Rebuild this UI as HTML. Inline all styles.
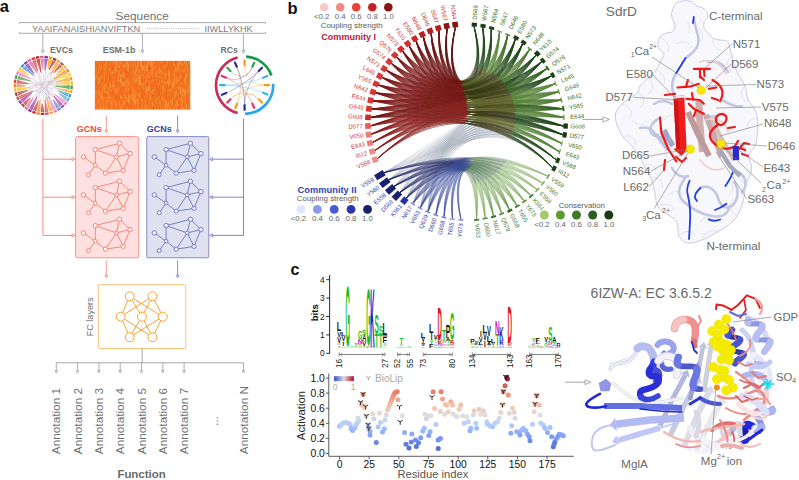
<!DOCTYPE html>
<html><head><meta charset="utf-8"><style>
html,body{margin:0;padding:0;background:#fff;overflow:hidden;width:799px;height:480px;}
svg{display:block;}
text{font-family:"Liberation Sans", sans-serif;}
</style></head><body>
<svg width="799" height="480" viewBox="0 0 799 480">
<rect width="799" height="480" fill="#fff"/>
<text x="-0.30" y="12.40" font-size="16.5" fill="#111" font-weight="bold" text-anchor="start" >a</text>
<text x="115.60" y="20.00" font-size="11.8" fill="#707070" text-anchor="start" >Sequence</text>
<path d="M19.3,23.8 V22.6 H265.6 V23.8" fill="none" stroke="#8c8c8c" stroke-width="0.75"/>
<path d="M19.3,32.1 V33.3 H265.6 V32.1" fill="none" stroke="#8c8c8c" stroke-width="0.75"/>
<line x1="135.40" y1="22.60" x2="135.40" y2="21.20" stroke="#8c8c8c" stroke-width="0.75" />
<text x="32.00" y="31.90" font-size="9.25" fill="#7a7a7a" text-anchor="start" >YAAIFANAISHIANVIFTKN</text>
<line x1="147" y1="28.6" x2="198.5" y2="28.6" stroke="#8a8a8a" stroke-width="0.7" stroke-dasharray="0.9,1.3"/>
<text x="204.40" y="31.90" font-size="9.2" fill="#7a7a7a" text-anchor="start" >IIWLLYKHK</text>
<line x1="42.80" y1="33.30" x2="42.80" y2="50.60" stroke="#8c8c8c" stroke-width="0.7" />
<path d="M41.30,50.60 L44.30,50.60 L42.80,53.20 Z" fill="white" stroke="#8c8c8c" stroke-width="0.63"/>
<line x1="142.40" y1="33.30" x2="142.40" y2="50.60" stroke="#8c8c8c" stroke-width="0.7" />
<path d="M140.90,50.60 L143.90,50.60 L142.40,53.20 Z" fill="white" stroke="#8c8c8c" stroke-width="0.63"/>
<line x1="243.40" y1="33.30" x2="243.40" y2="50.60" stroke="#8c8c8c" stroke-width="0.7" />
<path d="M241.90,50.60 L244.90,50.60 L243.40,53.20 Z" fill="white" stroke="#8c8c8c" stroke-width="0.63"/>
<text x="50.00" y="53.10" font-size="8.8" fill="#707070" font-weight="bold" text-anchor="start" >EVCs</text>
<text x="102.70" y="53.10" font-size="8.95" fill="#707070" font-weight="bold" text-anchor="start" >ESM-1b</text>
<text x="220.50" y="53.10" font-size="8.7" fill="#707070" font-weight="bold" text-anchor="start" >RCs</text>
<g><path d="M35.54,56.84 A29.6,29.6 0 0 1 39.17,56.09 L39.48,58.27 A27.400000000000002,27.400000000000002 0 0 0 36.12,58.96 Z" fill="#b02a2a"/><path d="M39.99,55.99 A29.6,29.6 0 0 1 43.69,55.80 L43.66,58.00 A27.400000000000002,27.400000000000002 0 0 0 40.24,58.17 Z" fill="#e06080"/><path d="M44.52,55.83 A29.6,29.6 0 0 1 48.21,56.21 L47.84,58.38 A27.400000000000002,27.400000000000002 0 0 0 44.43,58.02 Z" fill="#8a3aa8"/><path d="M49.02,56.36 A29.6,29.6 0 0 1 52.60,57.30 L51.91,59.39 A27.400000000000002,27.400000000000002 0 0 0 48.59,58.52 Z" fill="#f39c12"/><path d="M53.39,57.57 A29.6,29.6 0 0 1 56.79,59.05 L55.78,61.01 A27.400000000000002,27.400000000000002 0 0 0 52.64,59.64 Z" fill="#a83a2a"/><path d="M57.52,59.44 A29.6,29.6 0 0 1 60.65,61.42 L59.36,63.20 A27.400000000000002,27.400000000000002 0 0 0 56.46,61.37 Z" fill="#f5a030"/><path d="M61.31,61.91 A29.6,29.6 0 0 1 64.11,64.35 L62.56,65.91 A27.400000000000002,27.400000000000002 0 0 0 59.97,63.66 Z" fill="#c05030"/><path d="M64.69,64.94 A29.6,29.6 0 0 1 67.08,67.77 L65.31,69.08 A27.400000000000002,27.400000000000002 0 0 0 63.10,66.46 Z" fill="#f7b030"/><path d="M67.56,68.44 A29.6,29.6 0 0 1 69.49,71.61 L67.54,72.63 A27.400000000000002,27.400000000000002 0 0 0 65.76,69.70 Z" fill="#f08a20"/><path d="M69.86,72.34 A29.6,29.6 0 0 1 71.29,75.77 L69.21,76.48 A27.400000000000002,27.400000000000002 0 0 0 67.89,73.31 Z" fill="#f5d020"/><path d="M71.55,76.55 A29.6,29.6 0 0 1 72.43,80.15 L70.27,80.54 A27.400000000000002,27.400000000000002 0 0 0 69.45,77.21 Z" fill="#f0a020"/><path d="M72.57,80.97 A29.6,29.6 0 0 1 72.89,84.66 L70.69,84.71 A27.400000000000002,27.400000000000002 0 0 0 70.39,81.30 Z" fill="#f6c030"/><path d="M72.90,85.49 A29.6,29.6 0 0 1 72.66,89.18 L70.48,88.90 A27.400000000000002,27.400000000000002 0 0 0 70.70,85.48 Z" fill="#3aa040"/><path d="M72.54,90.00 A29.6,29.6 0 0 1 71.74,93.62 L69.62,93.01 A27.400000000000002,27.400000000000002 0 0 0 70.37,89.66 Z" fill="#f0b030"/><path d="M71.49,94.41 A29.6,29.6 0 0 1 70.15,97.87 L68.15,96.94 A27.400000000000002,27.400000000000002 0 0 0 69.40,93.74 Z" fill="#3a9ad8"/><path d="M69.79,98.61 A29.6,29.6 0 0 1 67.93,101.82 L66.10,100.60 A27.400000000000002,27.400000000000002 0 0 0 67.82,97.63 Z" fill="#5ab0e0"/><path d="M67.46,102.50 A29.6,29.6 0 0 1 65.13,105.39 L63.51,103.90 A27.400000000000002,27.400000000000002 0 0 0 65.67,101.23 Z" fill="#f080b8"/><path d="M64.57,105.99 A29.6,29.6 0 0 1 61.83,108.48 L60.45,106.77 A27.400000000000002,27.400000000000002 0 0 0 62.99,104.46 Z" fill="#9a4ab0"/><path d="M61.18,108.99 A29.6,29.6 0 0 1 58.09,111.04 L56.99,109.14 A27.400000000000002,27.400000000000002 0 0 0 59.85,107.24 Z" fill="#5a8ad0"/><path d="M57.37,111.44 A29.6,29.6 0 0 1 54.00,113.00 L53.20,110.95 A27.400000000000002,27.400000000000002 0 0 0 56.32,109.51 Z" fill="#f080b0"/><path d="M53.22,113.29 A29.6,29.6 0 0 1 49.66,114.31 L49.19,112.16 A27.400000000000002,27.400000000000002 0 0 0 52.49,111.21 Z" fill="#f0a030"/><path d="M48.85,114.47 A29.6,29.6 0 0 1 45.17,114.94 L45.03,112.75 A27.400000000000002,27.400000000000002 0 0 0 48.44,112.31 Z" fill="#e05050"/><path d="M44.35,114.98 A29.6,29.6 0 0 1 40.64,114.88 L40.84,112.69 A27.400000000000002,27.400000000000002 0 0 0 44.27,112.78 Z" fill="#a83a3a"/><path d="M39.82,114.79 A29.6,29.6 0 0 1 36.17,114.13 L36.70,111.99 A27.400000000000002,27.400000000000002 0 0 0 40.08,112.61 Z" fill="#f0902a"/><path d="M35.37,113.92 A29.6,29.6 0 0 1 31.87,112.70 L32.72,110.68 A27.400000000000002,27.400000000000002 0 0 0 35.96,111.80 Z" fill="#c83838"/><path d="M31.11,112.37 A29.6,29.6 0 0 1 27.84,110.64 L28.99,108.76 A27.400000000000002,27.400000000000002 0 0 0 32.02,110.37 Z" fill="#8a3aa0"/><path d="M27.14,110.20 A29.6,29.6 0 0 1 24.17,107.98 L25.59,106.31 A27.400000000000002,27.400000000000002 0 0 0 28.34,108.36 Z" fill="#e870a0"/><path d="M23.54,107.44 A29.6,29.6 0 0 1 20.94,104.80 L22.60,103.36 A27.400000000000002,27.400000000000002 0 0 0 25.01,105.80 Z" fill="#c84040"/><path d="M20.41,104.17 A29.6,29.6 0 0 1 18.24,101.16 L20.11,99.99 A27.400000000000002,27.400000000000002 0 0 0 22.11,102.77 Z" fill="#9a3ab0"/><path d="M17.81,100.45 A29.6,29.6 0 0 1 16.13,97.15 L18.15,96.28 A27.400000000000002,27.400000000000002 0 0 0 19.71,99.33 Z" fill="#d05050"/><path d="M15.81,96.39 A29.6,29.6 0 0 1 14.66,92.86 L16.79,92.31 A27.400000000000002,27.400000000000002 0 0 0 17.86,95.57 Z" fill="#a84040"/><path d="M14.46,92.06 A29.6,29.6 0 0 1 13.85,88.40 L16.04,88.18 A27.400000000000002,27.400000000000002 0 0 0 16.60,91.57 Z" fill="#f0c030"/><path d="M13.78,87.58 A29.6,29.6 0 0 1 13.74,83.87 L15.94,83.99 A27.400000000000002,27.400000000000002 0 0 0 15.97,87.42 Z" fill="#e08a30"/><path d="M13.79,83.05 A29.6,29.6 0 0 1 14.32,79.38 L16.47,79.83 A27.400000000000002,27.400000000000002 0 0 0 15.99,83.22 Z" fill="#d04848"/><path d="M14.50,78.57 A29.6,29.6 0 0 1 15.58,75.03 L17.64,75.80 A27.400000000000002,27.400000000000002 0 0 0 16.64,79.08 Z" fill="#40a050"/><path d="M15.88,74.26 A29.6,29.6 0 0 1 17.49,70.92 L19.40,71.99 A27.400000000000002,27.400000000000002 0 0 0 17.92,75.08 Z" fill="#f080b0"/><path d="M17.90,70.20 A29.6,29.6 0 0 1 20.00,67.14 L21.73,68.50 A27.400000000000002,27.400000000000002 0 0 0 19.79,71.33 Z" fill="#f0c838"/><path d="M20.52,66.50 A29.6,29.6 0 0 1 23.06,63.80 L24.56,65.41 A27.400000000000002,27.400000000000002 0 0 0 22.21,67.91 Z" fill="#4a90d8"/><path d="M23.67,63.25 A29.6,29.6 0 0 1 26.59,60.97 L27.84,62.78 A27.400000000000002,27.400000000000002 0 0 0 25.13,64.89 Z" fill="#7a3aa8"/><path d="M27.28,60.51 A29.6,29.6 0 0 1 30.52,58.70 L31.47,60.69 A27.400000000000002,27.400000000000002 0 0 0 28.47,62.36 Z" fill="#e06090"/><path d="M31.27,58.35 A29.6,29.6 0 0 1 34.74,57.06 L35.38,59.17 A27.400000000000002,27.400000000000002 0 0 0 32.16,60.37 Z" fill="#d04050"/></g>
<g fill="none" stroke-width="0.3" opacity="0.8"><path d="M32.7,75.1 Q48.6,88.3 42.1,100.2" stroke="#e0a0a0"/><path d="M56.4,78.5 Q46.6,82.4 53.4,96.2" stroke="#c8a8b8"/><path d="M57.3,90.1 Q42.9,82.4 35.6,98.0" stroke="#a8c8e8"/><path d="M29.1,81.4 Q46.1,84.3 56.2,92.7" stroke="#9fb0e0"/><path d="M49.4,98.9 Q39.2,89.0 55.1,76.5" stroke="#c8a8b8"/><path d="M52.8,96.7 Q38.9,91.1 39.0,71.2" stroke="#d0a0c8"/><path d="M58.1,85.9 Q47.8,82.9 35.7,72.7" stroke="#d0a0c8"/><path d="M57.7,81.9 Q44.8,81.6 28.6,87.4" stroke="#e0a0a0"/><path d="M57.8,82.5 Q40.9,83.7 40.7,100.0" stroke="#c8a8b8"/><path d="M50.8,98.2 Q41.3,89.2 29.4,90.4" stroke="#9fb0e0"/><path d="M30.6,77.8 Q41.4,83.1 52.9,96.7" stroke="#e0a0a0"/><path d="M49.5,72.0 Q39.5,85.1 38.7,99.5" stroke="#a8c8e8"/><path d="M49.9,98.6 Q48.7,83.7 28.6,83.4" stroke="#9fb0e0"/><path d="M31.1,93.8 Q41.7,86.3 56.6,78.9" stroke="#c8a8b8"/><path d="M58.1,86.2 Q44.8,90.9 45.3,100.1" stroke="#d0a0c8"/><path d="M54.2,95.5 Q41.4,83.7 29.0,89.2" stroke="#c8a8b8"/><path d="M28.7,83.1 Q44.4,88.8 49.2,99.0" stroke="#9fb0e0"/><path d="M33.4,96.4 Q48.6,80.5 42.1,70.6" stroke="#c8a8b8"/><path d="M35.3,97.9 Q41.4,90.5 55.3,76.8" stroke="#d0a0c8"/><path d="M29.1,81.3 Q41.0,89.0 56.5,78.7" stroke="#a8c8e8"/><path d="M33.0,74.8 Q49.3,81.3 42.9,100.2" stroke="#a8c8e8"/><path d="M57.4,89.8 Q48.4,79.8 50.9,72.7" stroke="#b0b0c0"/><path d="M42.4,70.6 Q42.8,84.5 52.8,96.8" stroke="#a8c8e8"/><path d="M57.2,90.5 Q46.9,83.4 47.9,71.3" stroke="#9fb0e0"/><path d="M47.2,99.7 Q48.7,87.0 58.1,84.6" stroke="#b0b0c0"/><path d="M46.8,71.0 Q41.8,80.1 57.6,89.4" stroke="#c8a8b8"/><path d="M30.3,92.5 Q47.5,91.1 38.5,71.4" stroke="#b0b0c0"/><path d="M29.1,89.7 Q41.1,82.7 57.1,79.9" stroke="#e0a0a0"/><path d="M28.8,88.2 Q41.8,91.3 47.3,99.7" stroke="#9fb0e0"/><path d="M57.6,81.7 Q47.7,81.6 28.8,82.6" stroke="#c8a8b8"/><path d="M28.5,86.2 Q47.7,83.7 58.1,84.9" stroke="#b0b0c0"/><path d="M46.6,71.0 Q44.3,79.8 29.4,90.4" stroke="#e0a0a0"/><path d="M38.2,99.3 Q40.7,85.2 50.8,72.7" stroke="#e0a0a0"/><path d="M45.1,70.7 Q48.8,83.5 32.6,95.6" stroke="#a8c8e8"/><path d="M49.7,98.7 Q43.9,82.4 54.4,75.6" stroke="#c8a8b8"/><path d="M36.3,72.4 Q45.1,89.0 52.5,97.0" stroke="#b0b0c0"/><path d="M34.8,97.5 Q48.6,84.3 56.6,79.0" stroke="#e0a0a0"/><path d="M56.4,78.5 Q42.7,83.8 46.3,99.9" stroke="#e0a0a0"/><path d="M35.8,98.2 Q39.7,83.7 32.0,75.9" stroke="#d0a0c8"/><path d="M52.3,73.6 Q45.9,88.2 46.4,99.9" stroke="#9fb0e0"/></g>
<g opacity="0.82"><path d="M36.14,59.57 L39.70,58.84 L41.43,72.58 L40.67,72.71 Z" fill="#b02a2a"/><path d="M40.16,58.78 L43.80,58.60 L43.25,69.78 L42.32,69.81 Z" fill="#e06080"/><path d="M44.26,58.62 L47.88,58.99 L45.42,70.98 L44.56,70.87 Z" fill="#8a3aa8"/><path d="M48.34,59.08 L51.86,60.00 L48.30,69.27 L47.33,69.00 Z" fill="#f39c12"/><path d="M52.30,60.16 L55.63,61.61 L49.63,70.13 L48.71,69.78 Z" fill="#a83a2a"/><path d="M56.05,61.83 L59.12,63.77 L50.44,74.68 L49.79,74.27 Z" fill="#f5a030"/><path d="M59.50,64.05 L62.24,66.44 L53.88,73.30 L53.14,72.69 Z" fill="#c05030"/><path d="M62.57,66.77 L64.91,69.55 L56.21,75.43 L55.59,74.68 Z" fill="#f7b030"/><path d="M65.18,69.93 L67.08,73.04 L53.81,79.38 L53.43,78.76 Z" fill="#f08a20"/><path d="M67.29,73.45 L68.69,76.81 L55.52,80.11 L55.18,79.39 Z" fill="#f5d020"/><path d="M68.83,77.25 L69.70,80.79 L55.68,82.51 L55.48,81.78 Z" fill="#f0a020"/><path d="M69.78,81.25 L70.09,84.87 L56.27,84.25 L56.18,83.48 Z" fill="#f6c030"/><path d="M70.10,85.34 L69.86,88.97 L55.32,86.51 L55.37,85.79 Z" fill="#3aa040"/><path d="M69.80,89.43 L69.01,92.98 L57.14,89.08 L57.33,88.25 Z" fill="#f0b030"/><path d="M68.87,93.43 L67.55,96.81 L57.89,91.15 L58.21,90.27 Z" fill="#3a9ad8"/><path d="M67.35,97.24 L65.52,100.38 L58.81,93.98 L59.29,93.04 Z" fill="#5ab0e0"/><path d="M65.26,100.77 L62.97,103.60 L54.50,94.58 L55.03,93.89 Z" fill="#f080b8"/><path d="M62.65,103.94 L59.97,106.39 L53.17,96.04 L53.78,95.43 Z" fill="#9a4ab0"/><path d="M59.60,106.68 L56.57,108.69 L52.59,99.94 L53.44,99.36 Z" fill="#5a8ad0"/><path d="M56.16,108.91 L52.86,110.44 L47.90,96.56 L48.56,96.27 Z" fill="#f080b0"/><path d="M52.42,110.60 L48.92,111.60 L46.32,97.49 L47.04,97.28 Z" fill="#f0a030"/><path d="M48.46,111.70 L44.86,112.15 L44.54,99.40 L45.37,99.30 Z" fill="#e05050"/><path d="M44.39,112.18 L40.75,112.08 L41.69,103.41 L42.77,103.47 Z" fill="#a83a3a"/><path d="M40.29,112.03 L36.71,111.38 L39.81,99.55 L40.66,99.73 Z" fill="#f0902a"/><path d="M36.26,111.26 L32.82,110.07 L37.80,100.45 L38.71,100.75 Z" fill="#c83838"/><path d="M32.39,109.88 L29.18,108.18 L36.89,96.44 L37.56,96.80 Z" fill="#8a3aa0"/><path d="M28.79,107.93 L25.87,105.76 L33.12,97.10 L33.84,97.69 Z" fill="#e870a0"/><path d="M25.52,105.45 L22.97,102.86 L29.86,97.59 L30.61,98.37 Z" fill="#c84040"/><path d="M22.66,102.50 L20.54,99.55 L31.29,92.84 L31.76,93.55 Z" fill="#9a3ab0"/><path d="M20.30,99.15 L18.65,95.91 L32.79,90.87 L33.14,91.49 Z" fill="#d05050"/><path d="M18.47,95.48 L17.33,92.02 L28.36,89.63 L28.64,90.52 Z" fill="#a84040"/><path d="M17.22,91.57 L16.62,87.98 L30.64,86.95 L30.75,87.70 Z" fill="#f0c030"/><path d="M16.58,87.51 L16.54,83.88 L25.66,85.29 L25.68,86.34 Z" fill="#e08a30"/><path d="M16.57,83.41 L17.09,79.81 L28.80,83.29 L28.70,84.16 Z" fill="#d04848"/><path d="M17.19,79.35 L18.25,75.88 L30.50,80.40 L30.23,81.17 Z" fill="#40a050"/><path d="M18.42,75.44 L20.00,72.16 L30.91,78.23 L30.51,78.98 Z" fill="#f080b0"/><path d="M20.23,71.76 L22.29,68.76 L29.05,74.76 L28.43,75.63 Z" fill="#f0c838"/><path d="M22.58,68.40 L25.08,65.75 L34.20,75.39 L33.62,75.95 Z" fill="#4a90d8"/><path d="M25.42,65.43 L28.29,63.20 L34.29,73.32 L33.58,73.88 Z" fill="#7a3aa8"/><path d="M28.68,62.94 L31.86,61.17 L37.49,72.75 L36.74,73.12 Z" fill="#e06090"/><path d="M32.28,60.97 L35.69,59.70 L38.18,71.26 L37.34,71.59 Z" fill="#d04050"/></g>
<path d="M37.95,59.34 L40.02,69.45M41.99,58.83 L42.50,69.14M46.06,58.94 L44.99,69.21M50.06,59.67 L47.44,69.66M53.91,61.01 L49.79,70.47M57.51,62.91 L52.00,71.64M60.78,65.35 L54.00,73.13M63.63,68.25 L55.74,74.90M66.01,71.55 L57.20,76.93M67.86,75.18 L58.33,79.15M69.13,79.05 L59.11,81.52M69.80,83.07 L59.52,83.97M69.84,87.14 L59.55,86.47M69.27,91.17 L59.19,88.93M68.08,95.07 L58.47,91.32M66.31,98.74 L57.39,93.56M64.01,102.10 L55.97,95.62M61.22,105.06 L54.27,97.43M58.01,107.57 L52.30,98.97M54.45,109.55 L50.12,100.18M50.63,110.97 L47.79,101.05M46.64,111.79 L45.35,101.55M42.58,111.99 L42.86,101.67M38.52,111.57 L40.38,101.42M34.59,110.53 L37.97,100.78M30.85,108.91 L35.68,99.79M27.41,106.73 L33.57,98.46M24.34,104.06 L31.70,96.82M21.71,100.94 L30.09,94.91M19.59,97.47 L28.79,92.78M18.03,93.71 L27.83,90.48M17.06,89.75 L27.24,88.06M16.70,85.69 L27.02,85.58M16.97,81.63 L27.18,83.09M17.85,77.66 L27.73,80.66M19.33,73.86 L28.63,78.34M21.38,70.34 L29.88,76.18M23.93,67.17 L31.45,74.24M26.94,64.42 L33.29,72.56M30.33,62.17 L35.36,71.18M34.03,60.47 L37.63,70.14" stroke="#fff" stroke-width="0.35" opacity="0.7"/>
<rect x="94.9" y="60.9" width="95.30" height="48.60" fill="#f36f20"/>
<g opacity="0.85"><rect x="94.90" y="69.89" width="0.80" height="2.35" fill="#f47a22"/><rect x="94.90" y="72.25" width="0.80" height="4.33" fill="#f47a22"/><rect x="94.90" y="76.58" width="0.80" height="3.51" fill="#f7923a"/><rect x="94.90" y="93.86" width="0.80" height="4.30" fill="#f47a22"/><rect x="94.90" y="99.93" width="0.80" height="4.20" fill="#f47a22"/><rect x="94.90" y="104.13" width="0.80" height="3.48" fill="#f47a22"/><rect x="94.90" y="107.61" width="0.80" height="1.89" fill="#f26418"/><rect x="95.70" y="60.90" width="0.50" height="3.56" fill="#f26418"/><rect x="95.70" y="64.46" width="0.50" height="3.98" fill="#f47a22"/><rect x="95.70" y="68.44" width="0.50" height="2.64" fill="#f47a22"/><rect x="95.70" y="85.63" width="0.50" height="2.39" fill="#fbb24a"/><rect x="95.70" y="88.03" width="0.50" height="1.89" fill="#f26418"/><rect x="95.70" y="89.92" width="0.50" height="3.35" fill="#f9a540"/><rect x="95.70" y="93.26" width="0.50" height="4.68" fill="#f9a540"/><rect x="95.70" y="103.03" width="0.50" height="2.35" fill="#f58a2a"/><rect x="95.70" y="105.38" width="0.50" height="4.12" fill="#f7923a"/><rect x="96.20" y="69.54" width="0.80" height="1.59" fill="#f7923a"/><rect x="96.20" y="76.47" width="0.80" height="1.69" fill="#f7923a"/><rect x="96.20" y="80.83" width="0.80" height="5.24" fill="#ee5a16"/><rect x="96.20" y="87.97" width="0.80" height="1.57" fill="#f26418"/><rect x="96.20" y="89.54" width="0.80" height="3.54" fill="#f58a2a"/><rect x="96.20" y="93.08" width="0.80" height="4.09" fill="#f47a22"/><rect x="97.00" y="60.90" width="0.50" height="3.40" fill="#f9a540"/><rect x="97.00" y="64.30" width="0.50" height="3.81" fill="#f26418"/><rect x="97.00" y="68.10" width="0.50" height="4.67" fill="#f26418"/><rect x="97.00" y="72.77" width="0.50" height="5.57" fill="#ee5a16"/><rect x="97.00" y="82.70" width="0.50" height="5.34" fill="#f58a2a"/><rect x="97.00" y="90.49" width="0.50" height="1.81" fill="#ee5a16"/><rect x="97.00" y="92.31" width="0.50" height="1.77" fill="#f7923a"/><rect x="97.00" y="94.08" width="0.50" height="3.89" fill="#f7923a"/><rect x="97.00" y="100.09" width="0.50" height="4.46" fill="#fbb24a"/><rect x="97.00" y="104.55" width="0.50" height="4.95" fill="#f58a2a"/><rect x="97.50" y="72.21" width="0.50" height="2.94" fill="#f9a540"/><rect x="97.50" y="75.14" width="0.50" height="3.96" fill="#fbb24a"/><rect x="97.50" y="84.81" width="0.50" height="5.07" fill="#f26418"/><rect x="97.50" y="94.46" width="0.50" height="3.38" fill="#f47a22"/><rect x="97.50" y="101.59" width="0.50" height="3.22" fill="#f58a2a"/><rect x="98.00" y="66.60" width="0.80" height="3.48" fill="#f47a22"/><rect x="98.00" y="70.09" width="0.80" height="3.83" fill="#f58a2a"/><rect x="98.00" y="73.92" width="0.80" height="4.21" fill="#ee5a16"/><rect x="98.00" y="78.13" width="0.80" height="5.81" fill="#f9a540"/><rect x="98.00" y="83.93" width="0.80" height="4.27" fill="#ee5a16"/><rect x="98.00" y="88.20" width="0.80" height="1.55" fill="#f26418"/><rect x="98.00" y="89.75" width="0.80" height="4.25" fill="#f58a2a"/><rect x="98.00" y="99.58" width="0.80" height="3.74" fill="#f7923a"/><rect x="98.80" y="64.13" width="0.60" height="2.44" fill="#f7923a"/><rect x="98.80" y="66.57" width="0.60" height="5.27" fill="#f47a22"/><rect x="98.80" y="73.63" width="0.60" height="2.01" fill="#ee5a16"/><rect x="98.80" y="75.64" width="0.60" height="2.46" fill="#ee5a16"/><rect x="98.80" y="78.10" width="0.60" height="3.84" fill="#fbb24a"/><rect x="98.80" y="81.94" width="0.60" height="5.28" fill="#f58a2a"/><rect x="98.80" y="87.22" width="0.60" height="1.84" fill="#f9a540"/><rect x="98.80" y="97.35" width="0.60" height="4.04" fill="#fbb24a"/><rect x="98.80" y="104.94" width="0.60" height="2.70" fill="#f47a22"/><rect x="98.80" y="107.64" width="0.60" height="1.71" fill="#fbb24a"/><rect x="99.40" y="68.39" width="0.50" height="2.40" fill="#ee5a16"/><rect x="99.40" y="70.79" width="0.50" height="4.71" fill="#f47a22"/><rect x="99.40" y="75.50" width="0.50" height="4.71" fill="#f7923a"/><rect x="99.40" y="91.28" width="0.50" height="5.58" fill="#f9a540"/><rect x="99.40" y="96.86" width="0.50" height="5.52" fill="#ee5a16"/><rect x="99.90" y="66.43" width="0.70" height="4.39" fill="#fbb24a"/><rect x="99.90" y="85.00" width="0.70" height="5.35" fill="#f26418"/><rect x="99.90" y="96.98" width="0.70" height="2.48" fill="#f47a22"/><rect x="99.90" y="99.46" width="0.70" height="5.10" fill="#f7923a"/><rect x="99.90" y="104.56" width="0.70" height="4.59" fill="#f7923a"/><rect x="99.90" y="109.15" width="0.70" height="0.35" fill="#fbb24a"/><rect x="100.60" y="66.66" width="0.80" height="4.60" fill="#f47a22"/><rect x="100.60" y="75.13" width="0.80" height="4.03" fill="#f7923a"/><rect x="100.60" y="79.15" width="0.80" height="5.30" fill="#f58a2a"/><rect x="100.60" y="93.21" width="0.80" height="5.86" fill="#f58a2a"/><rect x="100.60" y="99.07" width="0.80" height="3.74" fill="#ee5a16"/><rect x="100.60" y="102.81" width="0.80" height="3.76" fill="#f58a2a"/><rect x="100.60" y="106.57" width="0.80" height="2.93" fill="#f9a540"/><rect x="101.40" y="60.90" width="0.80" height="3.95" fill="#f58a2a"/><rect x="101.40" y="64.85" width="0.80" height="1.92" fill="#f7923a"/><rect x="101.40" y="70.69" width="0.80" height="5.10" fill="#ee5a16"/><rect x="101.40" y="75.79" width="0.80" height="3.63" fill="#f7923a"/><rect x="101.40" y="79.42" width="0.80" height="5.55" fill="#ee5a16"/><rect x="101.40" y="92.63" width="0.80" height="5.90" fill="#f9a540"/><rect x="101.40" y="98.53" width="0.80" height="2.52" fill="#fbb24a"/><rect x="101.40" y="107.78" width="0.80" height="1.72" fill="#f58a2a"/><rect x="102.20" y="60.90" width="0.60" height="4.66" fill="#ee5a16"/><rect x="102.20" y="65.56" width="0.60" height="4.35" fill="#f47a22"/><rect x="102.20" y="72.12" width="0.60" height="3.90" fill="#f7923a"/><rect x="102.20" y="83.47" width="0.60" height="3.06" fill="#f7923a"/><rect x="102.20" y="86.54" width="0.60" height="2.92" fill="#f7923a"/><rect x="102.20" y="89.45" width="0.60" height="5.99" fill="#f9a540"/><rect x="102.20" y="95.45" width="0.60" height="2.58" fill="#fbb24a"/><rect x="102.80" y="69.33" width="0.50" height="5.11" fill="#ee5a16"/><rect x="102.80" y="76.11" width="0.50" height="5.57" fill="#ee5a16"/><rect x="102.80" y="81.69" width="0.50" height="2.33" fill="#f7923a"/><rect x="102.80" y="86.23" width="0.50" height="1.93" fill="#f9a540"/><rect x="102.80" y="92.72" width="0.50" height="2.97" fill="#ee5a16"/><rect x="102.80" y="98.79" width="0.50" height="1.56" fill="#fbb24a"/><rect x="102.80" y="100.35" width="0.50" height="2.40" fill="#ee5a16"/><rect x="102.80" y="107.58" width="0.50" height="1.92" fill="#f9a540"/><rect x="103.30" y="87.79" width="0.50" height="4.63" fill="#f47a22"/><rect x="103.30" y="94.73" width="0.50" height="1.82" fill="#f26418"/><rect x="103.30" y="98.50" width="0.50" height="5.56" fill="#f9a540"/><rect x="103.30" y="104.06" width="0.50" height="5.44" fill="#fbb24a"/><rect x="103.80" y="60.90" width="0.60" height="4.47" fill="#f58a2a"/><rect x="103.80" y="67.21" width="0.60" height="4.39" fill="#fbb24a"/><rect x="103.80" y="71.60" width="0.60" height="3.28" fill="#f58a2a"/><rect x="103.80" y="74.88" width="0.60" height="4.27" fill="#fbb24a"/><rect x="103.80" y="79.15" width="0.60" height="3.50" fill="#f58a2a"/><rect x="103.80" y="82.65" width="0.60" height="2.38" fill="#ee5a16"/><rect x="103.80" y="87.69" width="0.60" height="3.98" fill="#f58a2a"/><rect x="103.80" y="103.85" width="0.60" height="1.70" fill="#f7923a"/><rect x="103.80" y="105.56" width="0.60" height="3.94" fill="#f47a22"/><rect x="104.40" y="60.90" width="0.50" height="3.43" fill="#ee5a16"/><rect x="104.40" y="64.33" width="0.50" height="3.87" fill="#f58a2a"/><rect x="104.40" y="76.11" width="0.50" height="4.86" fill="#f9a540"/><rect x="104.40" y="83.58" width="0.50" height="3.34" fill="#fbb24a"/><rect x="104.40" y="86.92" width="0.50" height="5.54" fill="#fbb24a"/><rect x="104.40" y="96.58" width="0.50" height="1.83" fill="#f7923a"/><rect x="104.40" y="98.41" width="0.50" height="3.65" fill="#f47a22"/><rect x="104.40" y="105.91" width="0.50" height="3.59" fill="#f47a22"/><rect x="104.90" y="60.90" width="0.50" height="1.73" fill="#ee5a16"/><rect x="104.90" y="62.63" width="0.50" height="2.42" fill="#f9a540"/><rect x="104.90" y="65.04" width="0.50" height="2.20" fill="#f26418"/><rect x="104.90" y="71.75" width="0.50" height="4.38" fill="#fbb24a"/><rect x="104.90" y="83.24" width="0.50" height="2.57" fill="#f9a540"/><rect x="104.90" y="96.58" width="0.50" height="4.35" fill="#f47a22"/><rect x="104.90" y="106.71" width="0.50" height="2.79" fill="#fbb24a"/><rect x="105.40" y="60.90" width="0.50" height="1.54" fill="#f26418"/><rect x="105.40" y="62.44" width="0.50" height="4.31" fill="#f9a540"/><rect x="105.40" y="66.75" width="0.50" height="2.75" fill="#f47a22"/><rect x="105.40" y="69.50" width="0.50" height="4.54" fill="#f58a2a"/><rect x="105.40" y="74.04" width="0.50" height="5.92" fill="#ee5a16"/><rect x="105.40" y="79.96" width="0.50" height="2.45" fill="#f26418"/><rect x="105.40" y="82.41" width="0.50" height="2.10" fill="#f47a22"/><rect x="105.40" y="86.55" width="0.50" height="5.27" fill="#f47a22"/><rect x="105.40" y="91.82" width="0.50" height="3.41" fill="#f26418"/><rect x="105.40" y="97.41" width="0.50" height="5.95" fill="#f26418"/><rect x="105.90" y="60.90" width="0.80" height="5.44" fill="#f9a540"/><rect x="105.90" y="66.34" width="0.80" height="3.44" fill="#f58a2a"/><rect x="105.90" y="74.37" width="0.80" height="1.54" fill="#f26418"/><rect x="105.90" y="84.11" width="0.80" height="2.77" fill="#f7923a"/><rect x="105.90" y="86.89" width="0.80" height="4.46" fill="#f26418"/><rect x="105.90" y="91.34" width="0.80" height="2.03" fill="#fbb24a"/><rect x="105.90" y="101.02" width="0.80" height="3.56" fill="#f7923a"/><rect x="105.90" y="104.58" width="0.80" height="4.92" fill="#f58a2a"/><rect x="106.70" y="60.90" width="0.70" height="5.23" fill="#f9a540"/><rect x="106.70" y="85.93" width="0.70" height="2.50" fill="#f9a540"/><rect x="106.70" y="97.60" width="0.70" height="2.87" fill="#f58a2a"/><rect x="106.70" y="100.47" width="0.70" height="1.87" fill="#fbb24a"/><rect x="106.70" y="107.40" width="0.70" height="2.10" fill="#fbb24a"/><rect x="107.40" y="60.90" width="0.70" height="4.94" fill="#ee5a16"/><rect x="107.40" y="88.19" width="0.70" height="4.38" fill="#f58a2a"/><rect x="107.40" y="92.57" width="0.70" height="1.55" fill="#f9a540"/><rect x="107.40" y="94.12" width="0.70" height="3.39" fill="#f7923a"/><rect x="107.40" y="97.51" width="0.70" height="2.23" fill="#fbb24a"/><rect x="107.40" y="99.74" width="0.70" height="2.25" fill="#f7923a"/><rect x="108.10" y="60.90" width="0.60" height="5.60" fill="#f47a22"/><rect x="108.10" y="66.50" width="0.60" height="4.13" fill="#f47a22"/><rect x="108.10" y="70.63" width="0.60" height="1.99" fill="#f7923a"/><rect x="108.10" y="76.77" width="0.60" height="4.18" fill="#f7923a"/><rect x="108.10" y="80.95" width="0.60" height="5.53" fill="#ee5a16"/><rect x="108.10" y="91.38" width="0.60" height="5.74" fill="#f58a2a"/><rect x="108.10" y="102.83" width="0.60" height="1.92" fill="#f47a22"/><rect x="108.70" y="78.80" width="0.70" height="3.37" fill="#f47a22"/><rect x="108.70" y="86.93" width="0.70" height="2.70" fill="#f58a2a"/><rect x="108.70" y="89.62" width="0.70" height="4.07" fill="#f7923a"/><rect x="108.70" y="93.70" width="0.70" height="5.20" fill="#f47a22"/><rect x="108.70" y="98.89" width="0.70" height="2.08" fill="#f26418"/><rect x="109.40" y="60.90" width="0.70" height="1.59" fill="#f7923a"/><rect x="109.40" y="68.11" width="0.70" height="3.48" fill="#f9a540"/><rect x="109.40" y="75.46" width="0.70" height="5.84" fill="#f26418"/><rect x="109.40" y="83.14" width="0.70" height="4.50" fill="#f9a540"/><rect x="109.40" y="96.77" width="0.70" height="5.23" fill="#fbb24a"/><rect x="109.40" y="107.39" width="0.70" height="2.11" fill="#f58a2a"/><rect x="110.10" y="66.25" width="0.50" height="2.43" fill="#f58a2a"/><rect x="110.10" y="73.01" width="0.50" height="5.79" fill="#f47a22"/><rect x="110.10" y="78.80" width="0.50" height="4.50" fill="#f26418"/><rect x="110.10" y="83.30" width="0.50" height="3.19" fill="#f9a540"/><rect x="110.10" y="86.50" width="0.50" height="5.75" fill="#f58a2a"/><rect x="110.10" y="100.64" width="0.50" height="2.31" fill="#ee5a16"/><rect x="110.10" y="102.95" width="0.50" height="3.58" fill="#fbb24a"/><rect x="110.10" y="109.05" width="0.50" height="0.45" fill="#f47a22"/><rect x="110.60" y="79.97" width="0.80" height="5.92" fill="#f47a22"/><rect x="110.60" y="85.88" width="0.80" height="5.93" fill="#f58a2a"/><rect x="110.60" y="91.82" width="0.80" height="2.99" fill="#f26418"/><rect x="110.60" y="94.81" width="0.80" height="3.49" fill="#f58a2a"/><rect x="110.60" y="98.29" width="0.80" height="3.79" fill="#f47a22"/><rect x="110.60" y="102.09" width="0.80" height="1.96" fill="#fbb24a"/><rect x="110.60" y="104.05" width="0.80" height="4.95" fill="#f26418"/><rect x="110.60" y="109.00" width="0.80" height="0.50" fill="#f58a2a"/><rect x="111.40" y="71.52" width="0.60" height="1.62" fill="#fbb24a"/><rect x="111.40" y="73.14" width="0.60" height="1.87" fill="#f7923a"/><rect x="111.40" y="75.02" width="0.60" height="3.38" fill="#f26418"/><rect x="111.40" y="78.39" width="0.60" height="5.68" fill="#f26418"/><rect x="111.40" y="89.55" width="0.60" height="2.11" fill="#f58a2a"/><rect x="111.40" y="97.94" width="0.60" height="5.18" fill="#f58a2a"/><rect x="111.40" y="103.12" width="0.60" height="5.70" fill="#f9a540"/><rect x="112.00" y="66.14" width="0.70" height="5.15" fill="#ee5a16"/><rect x="112.00" y="71.29" width="0.70" height="2.31" fill="#fbb24a"/><rect x="112.00" y="81.72" width="0.70" height="4.93" fill="#f7923a"/><rect x="112.00" y="86.65" width="0.70" height="3.61" fill="#f7923a"/><rect x="112.00" y="90.26" width="0.70" height="2.03" fill="#ee5a16"/><rect x="112.00" y="92.29" width="0.70" height="3.84" fill="#f26418"/><rect x="112.70" y="74.58" width="0.80" height="5.57" fill="#f58a2a"/><rect x="112.70" y="84.00" width="0.80" height="2.94" fill="#f9a540"/><rect x="112.70" y="95.40" width="0.80" height="5.47" fill="#f9a540"/><rect x="112.70" y="100.87" width="0.80" height="5.30" fill="#f7923a"/><rect x="112.70" y="106.17" width="0.80" height="3.29" fill="#f9a540"/><rect x="113.50" y="60.90" width="0.50" height="3.87" fill="#f7923a"/><rect x="113.50" y="75.22" width="0.50" height="4.50" fill="#f47a22"/><rect x="113.50" y="79.72" width="0.50" height="4.04" fill="#f7923a"/><rect x="113.50" y="83.75" width="0.50" height="4.86" fill="#f58a2a"/><rect x="113.50" y="92.49" width="0.50" height="3.54" fill="#f26418"/><rect x="113.50" y="96.03" width="0.50" height="2.85" fill="#f26418"/><rect x="113.50" y="105.65" width="0.50" height="2.54" fill="#f26418"/><rect x="113.50" y="108.19" width="0.50" height="1.31" fill="#f26418"/><rect x="114.00" y="60.90" width="0.60" height="5.70" fill="#f47a22"/><rect x="114.00" y="69.03" width="0.60" height="4.62" fill="#f9a540"/><rect x="114.00" y="80.49" width="0.60" height="5.98" fill="#f7923a"/><rect x="114.00" y="89.03" width="0.60" height="2.88" fill="#f47a22"/><rect x="114.00" y="91.91" width="0.60" height="5.55" fill="#f47a22"/><rect x="114.00" y="102.92" width="0.60" height="5.72" fill="#ee5a16"/><rect x="114.00" y="108.64" width="0.60" height="0.86" fill="#f47a22"/><rect x="114.60" y="60.90" width="0.60" height="2.71" fill="#fbb24a"/><rect x="114.60" y="63.61" width="0.60" height="4.49" fill="#f47a22"/><rect x="114.60" y="85.65" width="0.60" height="3.58" fill="#f9a540"/><rect x="114.60" y="93.11" width="0.60" height="1.53" fill="#f58a2a"/><rect x="114.60" y="97.27" width="0.60" height="2.24" fill="#f47a22"/><rect x="114.60" y="99.51" width="0.60" height="2.31" fill="#fbb24a"/><rect x="115.20" y="62.67" width="0.80" height="4.40" fill="#f26418"/><rect x="115.20" y="67.07" width="0.80" height="3.68" fill="#f9a540"/><rect x="115.20" y="82.73" width="0.80" height="2.00" fill="#ee5a16"/><rect x="115.20" y="84.74" width="0.80" height="3.48" fill="#f47a22"/><rect x="115.20" y="88.22" width="0.80" height="4.72" fill="#fbb24a"/><rect x="115.20" y="96.64" width="0.80" height="4.21" fill="#f26418"/><rect x="115.20" y="100.86" width="0.80" height="4.19" fill="#fbb24a"/><rect x="115.20" y="105.04" width="0.80" height="3.52" fill="#f7923a"/><rect x="115.20" y="108.56" width="0.80" height="0.94" fill="#f58a2a"/><rect x="116.00" y="60.90" width="0.80" height="3.77" fill="#fbb24a"/><rect x="116.00" y="64.67" width="0.80" height="5.09" fill="#f9a540"/><rect x="116.00" y="69.76" width="0.80" height="2.30" fill="#fbb24a"/><rect x="116.00" y="77.12" width="0.80" height="1.74" fill="#ee5a16"/><rect x="116.00" y="86.79" width="0.80" height="1.90" fill="#f47a22"/><rect x="116.00" y="88.69" width="0.80" height="3.20" fill="#f7923a"/><rect x="116.00" y="96.51" width="0.80" height="3.55" fill="#f26418"/><rect x="116.00" y="103.19" width="0.80" height="5.81" fill="#f7923a"/><rect x="116.00" y="109.00" width="0.80" height="0.50" fill="#f7923a"/><rect x="116.80" y="60.90" width="0.80" height="3.85" fill="#f9a540"/><rect x="116.80" y="64.75" width="0.80" height="3.34" fill="#f58a2a"/><rect x="116.80" y="68.09" width="0.80" height="3.27" fill="#f26418"/><rect x="116.80" y="84.63" width="0.80" height="2.59" fill="#ee5a16"/><rect x="116.80" y="87.21" width="0.80" height="2.52" fill="#f26418"/><rect x="116.80" y="89.74" width="0.80" height="5.92" fill="#f58a2a"/><rect x="116.80" y="105.24" width="0.80" height="2.30" fill="#f47a22"/><rect x="116.80" y="107.54" width="0.80" height="1.96" fill="#ee5a16"/><rect x="117.60" y="60.90" width="0.50" height="2.47" fill="#f26418"/><rect x="117.60" y="63.37" width="0.50" height="5.07" fill="#f47a22"/><rect x="117.60" y="70.86" width="0.50" height="4.92" fill="#ee5a16"/><rect x="117.60" y="75.77" width="0.50" height="5.97" fill="#fbb24a"/><rect x="117.60" y="81.74" width="0.50" height="3.69" fill="#f58a2a"/><rect x="117.60" y="85.44" width="0.50" height="1.83" fill="#fbb24a"/><rect x="117.60" y="87.26" width="0.50" height="5.77" fill="#f58a2a"/><rect x="117.60" y="93.03" width="0.50" height="2.32" fill="#f26418"/><rect x="117.60" y="99.40" width="0.50" height="2.71" fill="#f26418"/><rect x="117.60" y="102.11" width="0.50" height="4.78" fill="#f47a22"/><rect x="118.10" y="68.98" width="0.50" height="4.51" fill="#f26418"/><rect x="118.10" y="73.49" width="0.50" height="2.57" fill="#f9a540"/><rect x="118.10" y="76.06" width="0.50" height="3.81" fill="#f7923a"/><rect x="118.10" y="79.88" width="0.50" height="2.91" fill="#ee5a16"/><rect x="118.10" y="87.40" width="0.50" height="2.67" fill="#fbb24a"/><rect x="118.10" y="93.27" width="0.50" height="3.91" fill="#ee5a16"/><rect x="118.10" y="97.18" width="0.50" height="3.24" fill="#f47a22"/><rect x="118.10" y="100.42" width="0.50" height="1.96" fill="#f26418"/><rect x="118.60" y="65.37" width="0.70" height="2.47" fill="#fbb24a"/><rect x="118.60" y="69.89" width="0.70" height="2.56" fill="#fbb24a"/><rect x="118.60" y="72.45" width="0.70" height="5.10" fill="#f9a540"/><rect x="118.60" y="79.32" width="0.70" height="2.78" fill="#fbb24a"/><rect x="118.60" y="82.10" width="0.70" height="2.21" fill="#ee5a16"/><rect x="118.60" y="91.85" width="0.70" height="5.58" fill="#f47a22"/><rect x="118.60" y="106.48" width="0.70" height="2.72" fill="#ee5a16"/><rect x="119.30" y="60.90" width="0.70" height="1.83" fill="#f9a540"/><rect x="119.30" y="62.73" width="0.70" height="5.51" fill="#f58a2a"/><rect x="119.30" y="93.78" width="0.70" height="3.23" fill="#f47a22"/><rect x="119.30" y="97.01" width="0.70" height="3.78" fill="#f26418"/><rect x="119.30" y="100.80" width="0.70" height="3.63" fill="#f9a540"/><rect x="119.30" y="104.42" width="0.70" height="2.37" fill="#f7923a"/><rect x="119.30" y="106.79" width="0.70" height="2.49" fill="#f58a2a"/><rect x="119.30" y="109.28" width="0.70" height="0.22" fill="#ee5a16"/><rect x="120.00" y="60.90" width="0.80" height="5.32" fill="#f47a22"/><rect x="120.00" y="70.53" width="0.80" height="4.61" fill="#f47a22"/><rect x="120.00" y="75.14" width="0.80" height="3.06" fill="#f9a540"/><rect x="120.00" y="78.20" width="0.80" height="4.72" fill="#fbb24a"/><rect x="120.00" y="87.34" width="0.80" height="5.12" fill="#f26418"/><rect x="120.00" y="95.25" width="0.80" height="3.74" fill="#fbb24a"/><rect x="120.00" y="106.78" width="0.80" height="2.72" fill="#fbb24a"/><rect x="120.80" y="60.90" width="0.80" height="3.81" fill="#fbb24a"/><rect x="120.80" y="64.71" width="0.80" height="2.23" fill="#f47a22"/><rect x="120.80" y="66.94" width="0.80" height="3.67" fill="#f26418"/><rect x="120.80" y="74.39" width="0.80" height="2.64" fill="#fbb24a"/><rect x="120.80" y="77.03" width="0.80" height="4.72" fill="#f26418"/><rect x="120.80" y="96.71" width="0.80" height="5.24" fill="#f47a22"/><rect x="121.60" y="60.90" width="0.60" height="2.71" fill="#f26418"/><rect x="121.60" y="63.61" width="0.60" height="4.34" fill="#ee5a16"/><rect x="121.60" y="67.95" width="0.60" height="4.56" fill="#f7923a"/><rect x="121.60" y="79.59" width="0.60" height="5.97" fill="#f9a540"/><rect x="121.60" y="85.56" width="0.60" height="5.57" fill="#f47a22"/><rect x="121.60" y="91.13" width="0.60" height="3.67" fill="#f26418"/><rect x="121.60" y="104.39" width="0.60" height="3.25" fill="#fbb24a"/><rect x="121.60" y="107.64" width="0.60" height="1.86" fill="#f47a22"/><rect x="122.20" y="66.15" width="0.60" height="2.63" fill="#ee5a16"/><rect x="122.20" y="68.78" width="0.60" height="2.18" fill="#f9a540"/><rect x="122.20" y="75.03" width="0.60" height="2.73" fill="#f7923a"/><rect x="122.20" y="77.76" width="0.60" height="2.40" fill="#f58a2a"/><rect x="122.20" y="80.16" width="0.60" height="1.73" fill="#f9a540"/><rect x="122.20" y="81.90" width="0.60" height="4.92" fill="#fbb24a"/><rect x="122.20" y="86.82" width="0.60" height="2.32" fill="#ee5a16"/><rect x="122.20" y="89.14" width="0.60" height="5.05" fill="#f47a22"/><rect x="122.20" y="95.83" width="0.60" height="3.28" fill="#f9a540"/><rect x="122.80" y="63.19" width="0.50" height="3.93" fill="#fbb24a"/><rect x="122.80" y="70.23" width="0.50" height="1.78" fill="#ee5a16"/><rect x="122.80" y="72.02" width="0.50" height="2.45" fill="#f26418"/><rect x="122.80" y="74.46" width="0.50" height="3.87" fill="#f47a22"/><rect x="122.80" y="78.33" width="0.50" height="5.66" fill="#ee5a16"/><rect x="122.80" y="89.11" width="0.50" height="5.11" fill="#f47a22"/><rect x="122.80" y="100.00" width="0.50" height="3.34" fill="#f58a2a"/><rect x="122.80" y="103.33" width="0.50" height="4.10" fill="#f7923a"/><rect x="123.30" y="60.90" width="0.70" height="4.32" fill="#ee5a16"/><rect x="123.30" y="65.22" width="0.70" height="2.76" fill="#fbb24a"/><rect x="123.30" y="67.98" width="0.70" height="1.92" fill="#f26418"/><rect x="123.30" y="72.21" width="0.70" height="3.96" fill="#fbb24a"/><rect x="123.30" y="76.17" width="0.70" height="3.06" fill="#f7923a"/><rect x="123.30" y="79.23" width="0.70" height="3.08" fill="#ee5a16"/><rect x="123.30" y="82.31" width="0.70" height="3.30" fill="#f9a540"/><rect x="123.30" y="96.43" width="0.70" height="4.10" fill="#f26418"/><rect x="123.30" y="100.53" width="0.70" height="5.83" fill="#f7923a"/><rect x="124.00" y="72.61" width="0.50" height="5.60" fill="#f9a540"/><rect x="124.00" y="92.48" width="0.50" height="4.60" fill="#ee5a16"/><rect x="124.00" y="97.08" width="0.50" height="3.60" fill="#f47a22"/><rect x="124.00" y="100.68" width="0.50" height="2.54" fill="#f58a2a"/><rect x="124.00" y="103.22" width="0.50" height="1.69" fill="#f9a540"/><rect x="124.00" y="108.44" width="0.50" height="1.06" fill="#f26418"/><rect x="124.50" y="63.88" width="0.80" height="2.91" fill="#fbb24a"/><rect x="124.50" y="70.77" width="0.80" height="2.07" fill="#ee5a16"/><rect x="124.50" y="77.32" width="0.80" height="3.80" fill="#f26418"/><rect x="124.50" y="81.12" width="0.80" height="5.42" fill="#fbb24a"/><rect x="124.50" y="86.54" width="0.80" height="3.83" fill="#f26418"/><rect x="124.50" y="90.37" width="0.80" height="3.91" fill="#f47a22"/><rect x="124.50" y="94.28" width="0.80" height="3.70" fill="#fbb24a"/><rect x="124.50" y="99.96" width="0.80" height="3.71" fill="#f7923a"/><rect x="125.30" y="60.90" width="0.60" height="5.15" fill="#f7923a"/><rect x="125.30" y="67.72" width="0.60" height="2.49" fill="#f26418"/><rect x="125.30" y="70.21" width="0.60" height="2.32" fill="#ee5a16"/><rect x="125.30" y="77.09" width="0.60" height="1.82" fill="#fbb24a"/><rect x="125.30" y="83.25" width="0.60" height="4.02" fill="#ee5a16"/><rect x="125.30" y="87.27" width="0.60" height="5.17" fill="#fbb24a"/><rect x="125.30" y="96.78" width="0.60" height="2.44" fill="#f7923a"/><rect x="125.30" y="101.29" width="0.60" height="1.69" fill="#f26418"/><rect x="125.90" y="65.71" width="0.60" height="4.96" fill="#f7923a"/><rect x="125.90" y="70.68" width="0.60" height="4.34" fill="#ee5a16"/><rect x="125.90" y="75.02" width="0.60" height="4.26" fill="#f26418"/><rect x="125.90" y="79.28" width="0.60" height="3.78" fill="#f9a540"/><rect x="125.90" y="83.05" width="0.60" height="4.67" fill="#f7923a"/><rect x="125.90" y="89.75" width="0.60" height="2.79" fill="#f47a22"/><rect x="125.90" y="96.96" width="0.60" height="3.24" fill="#fbb24a"/><rect x="125.90" y="100.20" width="0.60" height="2.49" fill="#fbb24a"/><rect x="125.90" y="106.08" width="0.60" height="3.42" fill="#f26418"/><rect x="126.50" y="60.90" width="0.50" height="4.52" fill="#f7923a"/><rect x="126.50" y="68.61" width="0.50" height="2.63" fill="#ee5a16"/><rect x="126.50" y="73.20" width="0.50" height="1.97" fill="#fbb24a"/><rect x="126.50" y="86.79" width="0.50" height="5.17" fill="#f47a22"/><rect x="126.50" y="91.96" width="0.50" height="4.35" fill="#ee5a16"/><rect x="126.50" y="96.31" width="0.50" height="2.27" fill="#f58a2a"/><rect x="126.50" y="98.58" width="0.50" height="4.52" fill="#f58a2a"/><rect x="126.50" y="105.60" width="0.50" height="3.28" fill="#f47a22"/><rect x="127.00" y="60.90" width="0.50" height="6.00" fill="#fbb24a"/><rect x="127.00" y="66.90" width="0.50" height="4.45" fill="#f7923a"/><rect x="127.00" y="71.35" width="0.50" height="4.13" fill="#ee5a16"/><rect x="127.00" y="75.48" width="0.50" height="2.14" fill="#ee5a16"/><rect x="127.00" y="77.62" width="0.50" height="5.08" fill="#f9a540"/><rect x="127.00" y="97.49" width="0.50" height="3.45" fill="#f7923a"/><rect x="127.00" y="106.30" width="0.50" height="1.61" fill="#f26418"/><rect x="127.50" y="63.76" width="0.50" height="1.80" fill="#f7923a"/><rect x="127.50" y="65.56" width="0.50" height="1.90" fill="#f58a2a"/><rect x="127.50" y="67.46" width="0.50" height="3.09" fill="#f7923a"/><rect x="127.50" y="81.63" width="0.50" height="5.14" fill="#f58a2a"/><rect x="127.50" y="86.77" width="0.50" height="5.87" fill="#f58a2a"/><rect x="127.50" y="96.92" width="0.50" height="2.04" fill="#f47a22"/><rect x="127.50" y="98.95" width="0.50" height="2.19" fill="#f47a22"/><rect x="127.50" y="101.14" width="0.50" height="4.82" fill="#ee5a16"/><rect x="127.50" y="105.96" width="0.50" height="3.54" fill="#f9a540"/><rect x="128.00" y="63.75" width="0.80" height="5.31" fill="#f9a540"/><rect x="128.00" y="69.07" width="0.80" height="2.85" fill="#f7923a"/><rect x="128.00" y="71.92" width="0.80" height="2.00" fill="#ee5a16"/><rect x="128.00" y="81.64" width="0.80" height="3.75" fill="#f9a540"/><rect x="128.00" y="88.24" width="0.80" height="2.49" fill="#f9a540"/><rect x="128.00" y="94.38" width="0.80" height="3.00" fill="#f9a540"/><rect x="128.00" y="97.38" width="0.80" height="5.26" fill="#f9a540"/><rect x="128.00" y="102.64" width="0.80" height="3.22" fill="#f26418"/><rect x="128.00" y="108.36" width="0.80" height="1.14" fill="#f26418"/><rect x="128.80" y="60.90" width="0.60" height="3.84" fill="#f58a2a"/><rect x="128.80" y="74.08" width="0.60" height="4.62" fill="#f47a22"/><rect x="128.80" y="78.70" width="0.60" height="4.24" fill="#f58a2a"/><rect x="128.80" y="82.94" width="0.60" height="2.33" fill="#f9a540"/><rect x="128.80" y="90.16" width="0.60" height="2.46" fill="#f58a2a"/><rect x="128.80" y="97.70" width="0.60" height="3.18" fill="#f9a540"/><rect x="128.80" y="100.88" width="0.60" height="4.56" fill="#f9a540"/><rect x="128.80" y="105.44" width="0.60" height="2.51" fill="#f26418"/><rect x="128.80" y="107.95" width="0.60" height="1.55" fill="#f47a22"/><rect x="129.40" y="82.35" width="0.70" height="5.93" fill="#f47a22"/><rect x="129.40" y="93.29" width="0.70" height="2.13" fill="#f47a22"/><rect x="129.40" y="95.42" width="0.70" height="3.47" fill="#f9a540"/><rect x="129.40" y="98.89" width="0.70" height="5.54" fill="#fbb24a"/><rect x="129.40" y="104.42" width="0.70" height="2.02" fill="#f47a22"/><rect x="129.40" y="106.45" width="0.70" height="3.05" fill="#fbb24a"/><rect x="130.10" y="64.19" width="0.50" height="4.02" fill="#f47a22"/><rect x="130.10" y="68.21" width="0.50" height="3.37" fill="#f58a2a"/><rect x="130.10" y="86.65" width="0.50" height="5.68" fill="#ee5a16"/><rect x="130.10" y="99.40" width="0.50" height="4.98" fill="#f26418"/><rect x="130.10" y="107.43" width="0.50" height="2.07" fill="#f47a22"/><rect x="130.60" y="64.44" width="0.80" height="3.11" fill="#f58a2a"/><rect x="130.60" y="67.55" width="0.80" height="4.67" fill="#ee5a16"/><rect x="130.60" y="85.24" width="0.80" height="3.45" fill="#f58a2a"/><rect x="130.60" y="90.99" width="0.80" height="3.55" fill="#ee5a16"/><rect x="130.60" y="94.54" width="0.80" height="2.34" fill="#f58a2a"/><rect x="130.60" y="96.88" width="0.80" height="2.88" fill="#f47a22"/><rect x="130.60" y="105.73" width="0.80" height="3.77" fill="#f26418"/><rect x="131.40" y="60.90" width="0.80" height="5.78" fill="#f47a22"/><rect x="131.40" y="72.02" width="0.80" height="4.82" fill="#f26418"/><rect x="131.40" y="76.84" width="0.80" height="4.94" fill="#f58a2a"/><rect x="131.40" y="93.71" width="0.80" height="5.92" fill="#f9a540"/><rect x="131.40" y="101.22" width="0.80" height="4.50" fill="#f26418"/><rect x="131.40" y="105.73" width="0.80" height="2.09" fill="#ee5a16"/><rect x="131.40" y="107.82" width="0.80" height="1.63" fill="#f47a22"/><rect x="132.20" y="70.28" width="0.60" height="3.95" fill="#fbb24a"/><rect x="132.20" y="79.11" width="0.60" height="4.99" fill="#f26418"/><rect x="132.20" y="84.09" width="0.60" height="3.42" fill="#f47a22"/><rect x="132.20" y="87.52" width="0.60" height="5.04" fill="#f7923a"/><rect x="132.20" y="97.15" width="0.60" height="5.75" fill="#f58a2a"/><rect x="132.20" y="102.89" width="0.60" height="4.77" fill="#f7923a"/><rect x="132.80" y="60.90" width="0.50" height="2.86" fill="#f9a540"/><rect x="132.80" y="63.76" width="0.50" height="4.04" fill="#f9a540"/><rect x="132.80" y="80.79" width="0.50" height="5.89" fill="#f58a2a"/><rect x="132.80" y="86.68" width="0.50" height="3.47" fill="#fbb24a"/><rect x="132.80" y="94.01" width="0.50" height="5.66" fill="#fbb24a"/><rect x="132.80" y="99.68" width="0.50" height="2.13" fill="#f7923a"/><rect x="132.80" y="105.50" width="0.50" height="4.00" fill="#f9a540"/><rect x="133.30" y="69.28" width="0.70" height="5.66" fill="#f47a22"/><rect x="133.30" y="74.94" width="0.70" height="5.07" fill="#f58a2a"/><rect x="133.30" y="89.72" width="0.70" height="1.89" fill="#f58a2a"/><rect x="133.30" y="91.60" width="0.70" height="5.61" fill="#f9a540"/><rect x="133.30" y="97.21" width="0.70" height="5.41" fill="#f9a540"/><rect x="133.30" y="108.63" width="0.70" height="0.87" fill="#f9a540"/><rect x="134.00" y="66.71" width="0.50" height="5.25" fill="#ee5a16"/><rect x="134.00" y="71.96" width="0.50" height="2.49" fill="#ee5a16"/><rect x="134.00" y="74.45" width="0.50" height="4.97" fill="#f26418"/><rect x="134.00" y="79.41" width="0.50" height="3.16" fill="#fbb24a"/><rect x="134.00" y="87.12" width="0.50" height="5.69" fill="#ee5a16"/><rect x="134.00" y="92.81" width="0.50" height="2.17" fill="#f26418"/><rect x="134.00" y="94.98" width="0.50" height="2.49" fill="#f26418"/><rect x="134.00" y="97.47" width="0.50" height="4.55" fill="#f58a2a"/><rect x="134.00" y="105.88" width="0.50" height="1.60" fill="#f26418"/><rect x="134.50" y="60.90" width="0.60" height="4.53" fill="#f47a22"/><rect x="134.50" y="67.35" width="0.60" height="2.60" fill="#f7923a"/><rect x="134.50" y="69.95" width="0.60" height="4.01" fill="#f7923a"/><rect x="134.50" y="77.06" width="0.60" height="3.24" fill="#f7923a"/><rect x="134.50" y="80.30" width="0.60" height="4.52" fill="#f7923a"/><rect x="134.50" y="89.88" width="0.60" height="4.03" fill="#fbb24a"/><rect x="134.50" y="93.91" width="0.60" height="5.88" fill="#f9a540"/><rect x="134.50" y="99.79" width="0.60" height="1.65" fill="#f9a540"/><rect x="134.50" y="101.44" width="0.60" height="2.21" fill="#f9a540"/><rect x="134.50" y="109.11" width="0.60" height="0.39" fill="#f7923a"/><rect x="135.10" y="60.90" width="0.70" height="5.76" fill="#f7923a"/><rect x="135.10" y="71.31" width="0.70" height="4.77" fill="#fbb24a"/><rect x="135.10" y="79.26" width="0.70" height="2.16" fill="#f47a22"/><rect x="135.10" y="83.75" width="0.70" height="2.05" fill="#f26418"/><rect x="135.10" y="85.80" width="0.70" height="2.05" fill="#f58a2a"/><rect x="135.10" y="93.03" width="0.70" height="3.87" fill="#f9a540"/><rect x="135.10" y="99.40" width="0.70" height="5.89" fill="#fbb24a"/><rect x="135.80" y="60.90" width="0.80" height="3.08" fill="#f47a22"/><rect x="135.80" y="65.65" width="0.80" height="5.90" fill="#f9a540"/><rect x="135.80" y="71.55" width="0.80" height="4.13" fill="#f58a2a"/><rect x="135.80" y="75.68" width="0.80" height="2.23" fill="#f7923a"/><rect x="135.80" y="77.92" width="0.80" height="5.20" fill="#f9a540"/><rect x="135.80" y="86.53" width="0.80" height="1.78" fill="#f9a540"/><rect x="135.80" y="92.89" width="0.80" height="3.16" fill="#ee5a16"/><rect x="135.80" y="96.05" width="0.80" height="4.84" fill="#f7923a"/><rect x="135.80" y="106.37" width="0.80" height="3.13" fill="#f58a2a"/><rect x="136.60" y="60.90" width="0.70" height="5.77" fill="#ee5a16"/><rect x="136.60" y="72.38" width="0.70" height="4.46" fill="#ee5a16"/><rect x="136.60" y="82.78" width="0.70" height="5.70" fill="#f26418"/><rect x="136.60" y="92.60" width="0.70" height="3.03" fill="#fbb24a"/><rect x="136.60" y="95.63" width="0.70" height="4.59" fill="#f26418"/><rect x="136.60" y="106.04" width="0.70" height="3.46" fill="#ee5a16"/><rect x="137.30" y="60.90" width="0.80" height="1.75" fill="#f26418"/><rect x="137.30" y="62.65" width="0.80" height="3.67" fill="#fbb24a"/><rect x="137.30" y="66.32" width="0.80" height="1.62" fill="#f58a2a"/><rect x="137.30" y="67.94" width="0.80" height="1.88" fill="#f47a22"/><rect x="137.30" y="73.95" width="0.80" height="2.65" fill="#fbb24a"/><rect x="137.30" y="76.60" width="0.80" height="3.42" fill="#f58a2a"/><rect x="137.30" y="80.01" width="0.80" height="1.83" fill="#f47a22"/><rect x="137.30" y="98.92" width="0.80" height="5.09" fill="#fbb24a"/><rect x="137.30" y="104.01" width="0.80" height="2.84" fill="#f7923a"/><rect x="137.30" y="106.85" width="0.80" height="2.65" fill="#fbb24a"/><rect x="138.10" y="60.90" width="0.50" height="5.80" fill="#fbb24a"/><rect x="138.10" y="75.06" width="0.50" height="5.89" fill="#f7923a"/><rect x="138.10" y="80.96" width="0.50" height="5.92" fill="#f47a22"/><rect x="138.10" y="99.96" width="0.50" height="5.03" fill="#f47a22"/><rect x="138.60" y="60.90" width="0.50" height="1.60" fill="#f7923a"/><rect x="138.60" y="68.41" width="0.50" height="4.99" fill="#fbb24a"/><rect x="138.60" y="73.40" width="0.50" height="3.44" fill="#ee5a16"/><rect x="138.60" y="76.84" width="0.50" height="2.34" fill="#fbb24a"/><rect x="138.60" y="79.18" width="0.50" height="4.97" fill="#f9a540"/><rect x="138.60" y="84.15" width="0.50" height="5.67" fill="#f9a540"/><rect x="138.60" y="89.83" width="0.50" height="5.78" fill="#f58a2a"/><rect x="138.60" y="95.61" width="0.50" height="3.59" fill="#f9a540"/><rect x="138.60" y="107.66" width="0.50" height="1.84" fill="#f26418"/><rect x="139.10" y="60.90" width="0.70" height="2.59" fill="#f26418"/><rect x="139.10" y="63.49" width="0.70" height="3.03" fill="#f26418"/><rect x="139.10" y="75.25" width="0.70" height="5.05" fill="#f9a540"/><rect x="139.10" y="80.30" width="0.70" height="3.45" fill="#fbb24a"/><rect x="139.10" y="93.81" width="0.70" height="3.39" fill="#f9a540"/><rect x="139.80" y="60.90" width="0.50" height="4.68" fill="#ee5a16"/><rect x="139.80" y="65.58" width="0.50" height="5.89" fill="#ee5a16"/><rect x="139.80" y="82.83" width="0.50" height="3.31" fill="#fbb24a"/><rect x="139.80" y="86.14" width="0.50" height="5.39" fill="#ee5a16"/><rect x="139.80" y="91.52" width="0.50" height="4.70" fill="#f7923a"/><rect x="139.80" y="96.22" width="0.50" height="4.07" fill="#ee5a16"/><rect x="140.30" y="60.90" width="0.70" height="5.67" fill="#fbb24a"/><rect x="140.30" y="69.44" width="0.70" height="4.74" fill="#f58a2a"/><rect x="140.30" y="74.18" width="0.70" height="3.29" fill="#f7923a"/><rect x="140.30" y="77.48" width="0.70" height="5.06" fill="#fbb24a"/><rect x="140.30" y="82.54" width="0.70" height="2.43" fill="#fbb24a"/><rect x="140.30" y="84.97" width="0.70" height="3.54" fill="#f26418"/><rect x="140.30" y="88.51" width="0.70" height="1.60" fill="#f47a22"/><rect x="140.30" y="95.09" width="0.70" height="4.31" fill="#f58a2a"/><rect x="140.30" y="107.63" width="0.70" height="1.84" fill="#f7923a"/><rect x="141.00" y="60.90" width="0.80" height="3.46" fill="#fbb24a"/><rect x="141.00" y="64.36" width="0.80" height="4.20" fill="#f9a540"/><rect x="141.00" y="74.47" width="0.80" height="3.26" fill="#f47a22"/><rect x="141.00" y="77.73" width="0.80" height="4.95" fill="#f26418"/><rect x="141.00" y="82.68" width="0.80" height="3.21" fill="#f47a22"/><rect x="141.80" y="60.90" width="0.60" height="4.89" fill="#f58a2a"/><rect x="141.80" y="65.79" width="0.60" height="4.77" fill="#f9a540"/><rect x="141.80" y="77.58" width="0.60" height="3.73" fill="#ee5a16"/><rect x="141.80" y="86.43" width="0.60" height="1.94" fill="#f9a540"/><rect x="141.80" y="92.26" width="0.60" height="5.79" fill="#f26418"/><rect x="141.80" y="98.05" width="0.60" height="1.73" fill="#f9a540"/><rect x="141.80" y="99.78" width="0.60" height="4.61" fill="#fbb24a"/><rect x="141.80" y="104.40" width="0.60" height="2.47" fill="#fbb24a"/><rect x="141.80" y="106.87" width="0.60" height="2.63" fill="#f58a2a"/><rect x="142.40" y="60.90" width="0.70" height="3.29" fill="#ee5a16"/><rect x="142.40" y="67.09" width="0.70" height="4.25" fill="#f7923a"/><rect x="142.40" y="73.37" width="0.70" height="1.62" fill="#f7923a"/><rect x="142.40" y="83.19" width="0.70" height="2.45" fill="#fbb24a"/><rect x="142.40" y="106.23" width="0.70" height="3.27" fill="#f7923a"/><rect x="143.10" y="63.37" width="0.70" height="2.52" fill="#f26418"/><rect x="143.10" y="65.89" width="0.70" height="3.72" fill="#fbb24a"/><rect x="143.10" y="74.24" width="0.70" height="4.56" fill="#f58a2a"/><rect x="143.10" y="78.80" width="0.70" height="2.96" fill="#f58a2a"/><rect x="143.10" y="81.76" width="0.70" height="5.93" fill="#f58a2a"/><rect x="143.10" y="87.69" width="0.70" height="3.24" fill="#f47a22"/><rect x="143.10" y="96.52" width="0.70" height="4.63" fill="#f26418"/><rect x="143.10" y="106.15" width="0.70" height="3.10" fill="#f26418"/><rect x="143.10" y="109.26" width="0.70" height="0.24" fill="#f26418"/><rect x="143.80" y="64.04" width="0.50" height="2.71" fill="#f9a540"/><rect x="143.80" y="66.75" width="0.50" height="1.93" fill="#fbb24a"/><rect x="143.80" y="80.44" width="0.50" height="3.13" fill="#f26418"/><rect x="143.80" y="87.45" width="0.50" height="5.11" fill="#f47a22"/><rect x="143.80" y="92.56" width="0.50" height="1.60" fill="#f26418"/><rect x="143.80" y="98.58" width="0.50" height="2.78" fill="#f7923a"/><rect x="144.30" y="60.90" width="0.50" height="3.29" fill="#f58a2a"/><rect x="144.30" y="68.30" width="0.50" height="5.26" fill="#f9a540"/><rect x="144.30" y="73.56" width="0.50" height="3.90" fill="#f26418"/><rect x="144.30" y="77.46" width="0.50" height="3.82" fill="#f26418"/><rect x="144.30" y="84.08" width="0.50" height="1.84" fill="#f9a540"/><rect x="144.30" y="104.93" width="0.50" height="2.59" fill="#ee5a16"/><rect x="144.80" y="62.46" width="0.50" height="2.46" fill="#f9a540"/><rect x="144.80" y="74.16" width="0.50" height="4.76" fill="#f47a22"/><rect x="144.80" y="88.93" width="0.50" height="5.93" fill="#f47a22"/><rect x="144.80" y="94.86" width="0.50" height="5.23" fill="#f7923a"/><rect x="144.80" y="102.11" width="0.50" height="1.70" fill="#f58a2a"/><rect x="144.80" y="103.80" width="0.50" height="5.46" fill="#fbb24a"/><rect x="144.80" y="109.26" width="0.50" height="0.24" fill="#f7923a"/><rect x="145.30" y="60.90" width="0.50" height="2.58" fill="#f26418"/><rect x="145.30" y="63.48" width="0.50" height="2.40" fill="#f9a540"/><rect x="145.30" y="65.88" width="0.50" height="2.34" fill="#f7923a"/><rect x="145.30" y="79.84" width="0.50" height="4.61" fill="#fbb24a"/><rect x="145.30" y="84.45" width="0.50" height="1.53" fill="#ee5a16"/><rect x="145.30" y="85.98" width="0.50" height="3.23" fill="#f58a2a"/><rect x="145.30" y="91.24" width="0.50" height="3.17" fill="#f26418"/><rect x="145.30" y="100.15" width="0.50" height="2.31" fill="#f58a2a"/><rect x="145.30" y="106.92" width="0.50" height="2.57" fill="#f7923a"/><rect x="145.80" y="62.75" width="0.50" height="2.09" fill="#ee5a16"/><rect x="145.80" y="64.84" width="0.50" height="5.30" fill="#f58a2a"/><rect x="145.80" y="72.37" width="0.50" height="1.73" fill="#f47a22"/><rect x="145.80" y="74.10" width="0.50" height="2.75" fill="#f58a2a"/><rect x="145.80" y="76.85" width="0.50" height="1.63" fill="#fbb24a"/><rect x="145.80" y="78.47" width="0.50" height="1.89" fill="#f9a540"/><rect x="145.80" y="80.36" width="0.50" height="3.04" fill="#f47a22"/><rect x="145.80" y="83.40" width="0.50" height="2.01" fill="#f26418"/><rect x="145.80" y="85.41" width="0.50" height="3.53" fill="#ee5a16"/><rect x="145.80" y="88.94" width="0.50" height="4.38" fill="#f7923a"/><rect x="145.80" y="93.32" width="0.50" height="5.22" fill="#f47a22"/><rect x="145.80" y="100.71" width="0.50" height="1.93" fill="#f9a540"/><rect x="145.80" y="102.64" width="0.50" height="1.68" fill="#f58a2a"/><rect x="145.80" y="104.32" width="0.50" height="5.13" fill="#f9a540"/><rect x="146.30" y="65.80" width="0.80" height="5.47" fill="#fbb24a"/><rect x="146.30" y="71.26" width="0.80" height="4.44" fill="#f26418"/><rect x="146.30" y="82.80" width="0.80" height="3.04" fill="#f26418"/><rect x="146.30" y="85.84" width="0.80" height="5.91" fill="#fbb24a"/><rect x="146.30" y="104.89" width="0.80" height="4.45" fill="#f58a2a"/><rect x="147.10" y="60.90" width="0.80" height="3.74" fill="#f9a540"/><rect x="147.10" y="64.64" width="0.80" height="5.01" fill="#f9a540"/><rect x="147.10" y="69.65" width="0.80" height="4.10" fill="#f7923a"/><rect x="147.10" y="73.75" width="0.80" height="4.23" fill="#f7923a"/><rect x="147.10" y="82.49" width="0.80" height="2.68" fill="#f26418"/><rect x="147.10" y="91.79" width="0.80" height="4.80" fill="#f9a540"/><rect x="147.10" y="108.61" width="0.80" height="0.89" fill="#fbb24a"/><rect x="147.90" y="60.90" width="0.70" height="4.03" fill="#f7923a"/><rect x="147.90" y="64.93" width="0.70" height="4.84" fill="#ee5a16"/><rect x="147.90" y="79.86" width="0.70" height="2.23" fill="#f9a540"/><rect x="147.90" y="87.39" width="0.70" height="4.08" fill="#fbb24a"/><rect x="147.90" y="91.47" width="0.70" height="4.41" fill="#f26418"/><rect x="147.90" y="97.54" width="0.70" height="2.65" fill="#f26418"/><rect x="147.90" y="105.54" width="0.70" height="1.76" fill="#fbb24a"/><rect x="148.60" y="60.90" width="0.50" height="2.22" fill="#f26418"/><rect x="148.60" y="77.75" width="0.50" height="4.12" fill="#f47a22"/><rect x="148.60" y="81.87" width="0.50" height="3.93" fill="#f26418"/><rect x="148.60" y="85.80" width="0.50" height="4.98" fill="#fbb24a"/><rect x="148.60" y="90.78" width="0.50" height="2.45" fill="#ee5a16"/><rect x="148.60" y="95.92" width="0.50" height="2.21" fill="#f26418"/><rect x="148.60" y="98.12" width="0.50" height="2.09" fill="#f58a2a"/><rect x="148.60" y="102.15" width="0.50" height="1.83" fill="#f58a2a"/><rect x="149.10" y="60.90" width="0.70" height="1.86" fill="#f9a540"/><rect x="149.10" y="66.06" width="0.70" height="5.79" fill="#ee5a16"/><rect x="149.10" y="71.85" width="0.70" height="3.41" fill="#f58a2a"/><rect x="149.10" y="75.26" width="0.70" height="2.17" fill="#fbb24a"/><rect x="149.10" y="80.58" width="0.70" height="1.51" fill="#f7923a"/><rect x="149.10" y="82.09" width="0.70" height="2.10" fill="#f7923a"/><rect x="149.10" y="84.19" width="0.70" height="5.45" fill="#fbb24a"/><rect x="149.10" y="89.63" width="0.70" height="4.54" fill="#f7923a"/><rect x="149.10" y="94.17" width="0.70" height="2.32" fill="#f9a540"/><rect x="149.10" y="96.50" width="0.70" height="1.72" fill="#fbb24a"/><rect x="149.10" y="103.23" width="0.70" height="5.89" fill="#f26418"/><rect x="149.80" y="60.90" width="0.50" height="5.60" fill="#f7923a"/><rect x="149.80" y="66.50" width="0.50" height="2.86" fill="#ee5a16"/><rect x="149.80" y="69.36" width="0.50" height="4.39" fill="#f9a540"/><rect x="149.80" y="75.96" width="0.50" height="2.94" fill="#fbb24a"/><rect x="149.80" y="84.59" width="0.50" height="2.57" fill="#f47a22"/><rect x="149.80" y="87.16" width="0.50" height="5.78" fill="#f47a22"/><rect x="149.80" y="92.94" width="0.50" height="2.27" fill="#f58a2a"/><rect x="149.80" y="95.21" width="0.50" height="2.26" fill="#fbb24a"/><rect x="149.80" y="97.46" width="0.50" height="2.59" fill="#fbb24a"/><rect x="149.80" y="100.06" width="0.50" height="4.63" fill="#fbb24a"/><rect x="149.80" y="104.69" width="0.50" height="1.78" fill="#f58a2a"/><rect x="149.80" y="106.47" width="0.50" height="2.26" fill="#f47a22"/><rect x="149.80" y="108.73" width="0.50" height="0.77" fill="#ee5a16"/><rect x="150.30" y="62.75" width="0.70" height="4.22" fill="#f7923a"/><rect x="150.30" y="75.71" width="0.70" height="5.02" fill="#ee5a16"/><rect x="150.30" y="101.26" width="0.70" height="1.70" fill="#ee5a16"/><rect x="150.30" y="102.96" width="0.70" height="1.95" fill="#f47a22"/><rect x="150.30" y="104.91" width="0.70" height="4.59" fill="#f58a2a"/><rect x="151.00" y="60.90" width="0.50" height="4.65" fill="#fbb24a"/><rect x="151.00" y="65.55" width="0.50" height="4.33" fill="#f58a2a"/><rect x="151.00" y="69.88" width="0.50" height="4.92" fill="#f7923a"/><rect x="151.00" y="74.80" width="0.50" height="1.80" fill="#fbb24a"/><rect x="151.00" y="85.77" width="0.50" height="5.00" fill="#ee5a16"/><rect x="151.00" y="90.78" width="0.50" height="2.04" fill="#f9a540"/><rect x="151.00" y="92.82" width="0.50" height="4.87" fill="#f58a2a"/><rect x="151.00" y="97.69" width="0.50" height="3.54" fill="#f58a2a"/><rect x="151.00" y="101.23" width="0.50" height="2.93" fill="#f58a2a"/><rect x="151.00" y="104.16" width="0.50" height="3.09" fill="#f7923a"/><rect x="151.50" y="62.97" width="0.50" height="2.29" fill="#fbb24a"/><rect x="151.50" y="75.56" width="0.50" height="4.41" fill="#ee5a16"/><rect x="151.50" y="79.97" width="0.50" height="2.91" fill="#f9a540"/><rect x="151.50" y="98.72" width="0.50" height="5.38" fill="#f47a22"/><rect x="151.50" y="104.10" width="0.50" height="3.48" fill="#ee5a16"/><rect x="152.00" y="62.87" width="0.70" height="1.51" fill="#f58a2a"/><rect x="152.00" y="64.37" width="0.70" height="5.57" fill="#f7923a"/><rect x="152.00" y="72.65" width="0.70" height="4.91" fill="#f7923a"/><rect x="152.00" y="77.56" width="0.70" height="3.84" fill="#f7923a"/><rect x="152.00" y="90.63" width="0.70" height="3.21" fill="#f7923a"/><rect x="152.00" y="93.84" width="0.70" height="4.47" fill="#ee5a16"/><rect x="152.00" y="98.31" width="0.70" height="4.90" fill="#f47a22"/><rect x="152.00" y="103.22" width="0.70" height="4.14" fill="#fbb24a"/><rect x="152.70" y="66.49" width="0.50" height="5.59" fill="#f9a540"/><rect x="152.70" y="72.08" width="0.50" height="4.42" fill="#fbb24a"/><rect x="152.70" y="76.50" width="0.50" height="3.07" fill="#ee5a16"/><rect x="152.70" y="79.56" width="0.50" height="5.00" fill="#f47a22"/><rect x="152.70" y="89.15" width="0.50" height="5.87" fill="#fbb24a"/><rect x="152.70" y="96.72" width="0.50" height="5.68" fill="#f58a2a"/><rect x="152.70" y="105.82" width="0.50" height="1.64" fill="#f26418"/><rect x="152.70" y="107.45" width="0.50" height="2.01" fill="#f47a22"/><rect x="153.20" y="60.90" width="0.80" height="3.01" fill="#f7923a"/><rect x="153.20" y="67.82" width="0.80" height="1.88" fill="#f7923a"/><rect x="153.20" y="73.31" width="0.80" height="2.86" fill="#ee5a16"/><rect x="153.20" y="78.08" width="0.80" height="2.68" fill="#f47a22"/><rect x="153.20" y="89.31" width="0.80" height="2.98" fill="#f47a22"/><rect x="153.20" y="92.30" width="0.80" height="3.57" fill="#ee5a16"/><rect x="153.20" y="95.86" width="0.80" height="4.14" fill="#f26418"/><rect x="153.20" y="105.54" width="0.80" height="1.65" fill="#f26418"/><rect x="153.20" y="107.20" width="0.80" height="2.30" fill="#ee5a16"/><rect x="154.00" y="60.90" width="0.50" height="4.18" fill="#f47a22"/><rect x="154.00" y="68.43" width="0.50" height="3.03" fill="#f7923a"/><rect x="154.00" y="71.46" width="0.50" height="4.99" fill="#f26418"/><rect x="154.00" y="80.41" width="0.50" height="3.92" fill="#f26418"/><rect x="154.00" y="88.87" width="0.50" height="5.08" fill="#f9a540"/><rect x="154.00" y="95.68" width="0.50" height="2.21" fill="#f7923a"/><rect x="154.00" y="101.55" width="0.50" height="1.63" fill="#f9a540"/><rect x="154.00" y="103.18" width="0.50" height="3.87" fill="#f9a540"/><rect x="154.50" y="75.77" width="0.80" height="5.54" fill="#f47a22"/><rect x="154.50" y="98.03" width="0.80" height="2.24" fill="#f58a2a"/><rect x="154.50" y="100.28" width="0.80" height="5.54" fill="#f47a22"/><rect x="155.30" y="65.64" width="0.80" height="2.74" fill="#f9a540"/><rect x="155.30" y="71.95" width="0.80" height="4.65" fill="#f9a540"/><rect x="155.30" y="76.60" width="0.80" height="3.66" fill="#f26418"/><rect x="155.30" y="84.37" width="0.80" height="2.06" fill="#ee5a16"/><rect x="155.30" y="86.43" width="0.80" height="3.99" fill="#f58a2a"/><rect x="155.30" y="90.42" width="0.80" height="3.00" fill="#ee5a16"/><rect x="155.30" y="108.24" width="0.80" height="1.26" fill="#fbb24a"/><rect x="156.10" y="60.90" width="0.70" height="4.45" fill="#f26418"/><rect x="156.10" y="72.90" width="0.70" height="4.46" fill="#f9a540"/><rect x="156.10" y="77.36" width="0.70" height="5.04" fill="#f47a22"/><rect x="156.10" y="84.36" width="0.70" height="4.72" fill="#ee5a16"/><rect x="156.10" y="97.97" width="0.70" height="2.96" fill="#fbb24a"/><rect x="156.10" y="100.93" width="0.70" height="2.66" fill="#f7923a"/><rect x="156.10" y="108.43" width="0.70" height="1.07" fill="#f47a22"/><rect x="156.80" y="70.66" width="0.70" height="1.70" fill="#f9a540"/><rect x="156.80" y="100.96" width="0.70" height="3.97" fill="#f9a540"/><rect x="157.50" y="81.57" width="0.60" height="4.23" fill="#f47a22"/><rect x="157.50" y="99.22" width="0.60" height="4.25" fill="#f26418"/><rect x="157.50" y="107.88" width="0.60" height="1.62" fill="#f58a2a"/><rect x="158.10" y="60.90" width="0.50" height="4.98" fill="#f7923a"/><rect x="158.10" y="71.41" width="0.50" height="3.99" fill="#f26418"/><rect x="158.10" y="75.41" width="0.50" height="4.06" fill="#f26418"/><rect x="158.10" y="84.08" width="0.50" height="4.85" fill="#fbb24a"/><rect x="158.10" y="88.93" width="0.50" height="4.19" fill="#ee5a16"/><rect x="158.10" y="94.82" width="0.50" height="2.38" fill="#f58a2a"/><rect x="158.10" y="97.21" width="0.50" height="2.96" fill="#f58a2a"/><rect x="158.10" y="100.17" width="0.50" height="5.53" fill="#f26418"/><rect x="158.10" y="105.69" width="0.50" height="3.81" fill="#f58a2a"/><rect x="158.60" y="68.48" width="0.70" height="4.65" fill="#f58a2a"/><rect x="158.60" y="73.13" width="0.70" height="2.90" fill="#ee5a16"/><rect x="158.60" y="76.03" width="0.70" height="2.09" fill="#fbb24a"/><rect x="158.60" y="83.35" width="0.70" height="2.21" fill="#f58a2a"/><rect x="158.60" y="85.56" width="0.70" height="3.47" fill="#ee5a16"/><rect x="158.60" y="94.90" width="0.70" height="1.77" fill="#ee5a16"/><rect x="158.60" y="96.66" width="0.70" height="1.81" fill="#fbb24a"/><rect x="158.60" y="98.48" width="0.70" height="1.93" fill="#f7923a"/><rect x="159.30" y="60.90" width="0.70" height="5.56" fill="#f26418"/><rect x="159.30" y="66.46" width="0.70" height="4.12" fill="#f9a540"/><rect x="159.30" y="70.58" width="0.70" height="3.81" fill="#fbb24a"/><rect x="159.30" y="79.11" width="0.70" height="5.21" fill="#f7923a"/><rect x="159.30" y="89.81" width="0.70" height="5.36" fill="#ee5a16"/><rect x="159.30" y="101.34" width="0.70" height="2.02" fill="#fbb24a"/><rect x="159.30" y="106.73" width="0.70" height="2.77" fill="#ee5a16"/><rect x="160.00" y="66.29" width="0.70" height="3.07" fill="#f47a22"/><rect x="160.00" y="69.36" width="0.70" height="2.42" fill="#f9a540"/><rect x="160.00" y="80.15" width="0.70" height="5.80" fill="#f26418"/><rect x="160.00" y="85.95" width="0.70" height="1.88" fill="#f9a540"/><rect x="160.00" y="92.82" width="0.70" height="2.91" fill="#f47a22"/><rect x="160.00" y="95.73" width="0.70" height="3.44" fill="#ee5a16"/><rect x="160.00" y="99.17" width="0.70" height="4.24" fill="#f47a22"/><rect x="160.00" y="103.41" width="0.70" height="2.60" fill="#f7923a"/><rect x="160.70" y="60.90" width="0.60" height="2.60" fill="#f7923a"/><rect x="160.70" y="71.17" width="0.60" height="5.33" fill="#f7923a"/><rect x="160.70" y="76.50" width="0.60" height="2.83" fill="#f9a540"/><rect x="160.70" y="79.33" width="0.60" height="5.63" fill="#f47a22"/><rect x="160.70" y="90.63" width="0.60" height="1.93" fill="#f58a2a"/><rect x="160.70" y="94.63" width="0.60" height="2.68" fill="#f47a22"/><rect x="160.70" y="101.40" width="0.60" height="1.52" fill="#f58a2a"/><rect x="161.30" y="60.90" width="0.50" height="3.67" fill="#f26418"/><rect x="161.30" y="70.52" width="0.50" height="3.37" fill="#f9a540"/><rect x="161.30" y="89.39" width="0.50" height="2.59" fill="#ee5a16"/><rect x="161.30" y="97.09" width="0.50" height="3.37" fill="#fbb24a"/><rect x="161.30" y="107.64" width="0.50" height="1.86" fill="#f58a2a"/><rect x="161.80" y="60.90" width="0.60" height="3.30" fill="#f58a2a"/><rect x="161.80" y="79.32" width="0.60" height="2.93" fill="#f7923a"/><rect x="161.80" y="82.24" width="0.60" height="4.94" fill="#ee5a16"/><rect x="161.80" y="87.18" width="0.60" height="2.11" fill="#f26418"/><rect x="161.80" y="94.69" width="0.60" height="5.47" fill="#f26418"/><rect x="161.80" y="104.15" width="0.60" height="4.07" fill="#f58a2a"/><rect x="161.80" y="108.21" width="0.60" height="1.29" fill="#f9a540"/><rect x="162.40" y="65.80" width="0.50" height="4.83" fill="#f47a22"/><rect x="162.40" y="70.63" width="0.50" height="3.77" fill="#f47a22"/><rect x="162.40" y="79.45" width="0.50" height="5.20" fill="#fbb24a"/><rect x="162.40" y="84.66" width="0.50" height="1.78" fill="#f9a540"/><rect x="162.40" y="86.44" width="0.50" height="4.44" fill="#f9a540"/><rect x="162.40" y="90.88" width="0.50" height="5.22" fill="#f58a2a"/><rect x="162.40" y="96.11" width="0.50" height="3.50" fill="#fbb24a"/><rect x="162.40" y="108.10" width="0.50" height="1.40" fill="#f7923a"/><rect x="162.90" y="66.20" width="0.50" height="2.67" fill="#f9a540"/><rect x="162.90" y="71.92" width="0.50" height="2.43" fill="#f7923a"/><rect x="162.90" y="83.12" width="0.50" height="3.08" fill="#f26418"/><rect x="162.90" y="86.20" width="0.50" height="4.27" fill="#fbb24a"/><rect x="162.90" y="90.47" width="0.50" height="4.78" fill="#f58a2a"/><rect x="162.90" y="108.36" width="0.50" height="1.14" fill="#fbb24a"/><rect x="163.40" y="65.87" width="0.50" height="2.59" fill="#f9a540"/><rect x="163.40" y="68.46" width="0.50" height="4.52" fill="#f47a22"/><rect x="163.40" y="80.59" width="0.50" height="5.71" fill="#f58a2a"/><rect x="163.40" y="86.30" width="0.50" height="4.28" fill="#f9a540"/><rect x="163.40" y="97.90" width="0.50" height="2.51" fill="#f9a540"/><rect x="163.90" y="60.90" width="0.60" height="2.82" fill="#f58a2a"/><rect x="163.90" y="63.72" width="0.60" height="5.49" fill="#f26418"/><rect x="163.90" y="69.21" width="0.60" height="3.28" fill="#ee5a16"/><rect x="163.90" y="72.49" width="0.60" height="5.80" fill="#f58a2a"/><rect x="163.90" y="80.82" width="0.60" height="1.53" fill="#fbb24a"/><rect x="163.90" y="90.79" width="0.60" height="3.66" fill="#f58a2a"/><rect x="163.90" y="98.23" width="0.60" height="2.47" fill="#fbb24a"/><rect x="163.90" y="106.40" width="0.60" height="3.10" fill="#f47a22"/><rect x="164.50" y="60.90" width="0.70" height="3.18" fill="#ee5a16"/><rect x="164.50" y="64.08" width="0.70" height="5.51" fill="#f58a2a"/><rect x="164.50" y="69.59" width="0.70" height="5.79" fill="#f58a2a"/><rect x="164.50" y="75.38" width="0.70" height="5.98" fill="#f58a2a"/><rect x="164.50" y="81.36" width="0.70" height="3.47" fill="#f9a540"/><rect x="164.50" y="89.00" width="0.70" height="2.53" fill="#f47a22"/><rect x="164.50" y="104.91" width="0.70" height="3.97" fill="#f9a540"/><rect x="165.20" y="60.90" width="0.80" height="3.80" fill="#f26418"/><rect x="165.20" y="64.70" width="0.80" height="1.62" fill="#f7923a"/><rect x="165.20" y="71.03" width="0.80" height="2.50" fill="#f26418"/><rect x="165.20" y="73.53" width="0.80" height="5.37" fill="#f9a540"/><rect x="165.20" y="78.89" width="0.80" height="2.40" fill="#ee5a16"/><rect x="165.20" y="96.68" width="0.80" height="4.20" fill="#f26418"/><rect x="165.20" y="100.88" width="0.80" height="5.94" fill="#fbb24a"/><rect x="166.00" y="60.90" width="0.60" height="3.69" fill="#f26418"/><rect x="166.00" y="64.59" width="0.60" height="3.49" fill="#f7923a"/><rect x="166.00" y="71.49" width="0.60" height="3.60" fill="#fbb24a"/><rect x="166.00" y="75.08" width="0.60" height="5.08" fill="#f47a22"/><rect x="166.00" y="80.16" width="0.60" height="4.29" fill="#fbb24a"/><rect x="166.00" y="84.45" width="0.60" height="3.01" fill="#f26418"/><rect x="166.00" y="96.05" width="0.60" height="3.22" fill="#ee5a16"/><rect x="166.00" y="99.28" width="0.60" height="3.40" fill="#f7923a"/><rect x="166.00" y="102.68" width="0.60" height="3.97" fill="#f58a2a"/><rect x="166.00" y="106.64" width="0.60" height="2.18" fill="#f7923a"/><rect x="166.00" y="108.83" width="0.60" height="0.67" fill="#f9a540"/><rect x="166.60" y="60.90" width="0.70" height="5.86" fill="#f47a22"/><rect x="166.60" y="66.76" width="0.70" height="3.73" fill="#f47a22"/><rect x="166.60" y="70.49" width="0.70" height="5.83" fill="#f26418"/><rect x="166.60" y="76.32" width="0.70" height="1.74" fill="#f26418"/><rect x="166.60" y="83.26" width="0.70" height="5.35" fill="#f58a2a"/><rect x="166.60" y="88.60" width="0.70" height="1.65" fill="#f58a2a"/><rect x="166.60" y="93.43" width="0.70" height="3.37" fill="#ee5a16"/><rect x="166.60" y="102.89" width="0.70" height="1.91" fill="#f7923a"/><rect x="167.30" y="60.90" width="0.70" height="4.88" fill="#f9a540"/><rect x="167.30" y="65.78" width="0.70" height="5.98" fill="#ee5a16"/><rect x="167.30" y="71.76" width="0.70" height="4.32" fill="#f26418"/><rect x="167.30" y="80.49" width="0.70" height="1.99" fill="#f9a540"/><rect x="167.30" y="84.86" width="0.70" height="4.15" fill="#f26418"/><rect x="167.30" y="93.57" width="0.70" height="3.50" fill="#f58a2a"/><rect x="167.30" y="104.57" width="0.70" height="4.93" fill="#f9a540"/><rect x="168.00" y="60.90" width="0.60" height="4.31" fill="#f26418"/><rect x="168.00" y="70.95" width="0.60" height="4.80" fill="#fbb24a"/><rect x="168.00" y="83.40" width="0.60" height="5.65" fill="#fbb24a"/><rect x="168.00" y="89.05" width="0.60" height="1.81" fill="#f47a22"/><rect x="168.00" y="90.86" width="0.60" height="3.26" fill="#f47a22"/><rect x="168.00" y="94.12" width="0.60" height="5.06" fill="#f26418"/><rect x="168.00" y="101.34" width="0.60" height="5.47" fill="#f9a540"/><rect x="168.60" y="71.61" width="0.80" height="3.66" fill="#fbb24a"/><rect x="168.60" y="75.27" width="0.80" height="4.08" fill="#f9a540"/><rect x="168.60" y="79.35" width="0.80" height="5.31" fill="#fbb24a"/><rect x="168.60" y="84.66" width="0.80" height="5.58" fill="#f26418"/><rect x="168.60" y="90.24" width="0.80" height="1.56" fill="#fbb24a"/><rect x="168.60" y="94.07" width="0.80" height="1.80" fill="#f7923a"/><rect x="168.60" y="95.87" width="0.80" height="3.77" fill="#f47a22"/><rect x="168.60" y="103.43" width="0.80" height="2.33" fill="#f58a2a"/><rect x="168.60" y="105.76" width="0.80" height="1.81" fill="#f7923a"/><rect x="168.60" y="107.57" width="0.80" height="1.93" fill="#ee5a16"/><rect x="169.40" y="72.62" width="0.80" height="5.57" fill="#f58a2a"/><rect x="169.40" y="78.20" width="0.80" height="1.96" fill="#fbb24a"/><rect x="169.40" y="80.16" width="0.80" height="4.36" fill="#f7923a"/><rect x="169.40" y="88.75" width="0.80" height="2.28" fill="#fbb24a"/><rect x="169.40" y="91.03" width="0.80" height="2.12" fill="#ee5a16"/><rect x="169.40" y="107.35" width="0.80" height="2.15" fill="#fbb24a"/><rect x="170.20" y="60.90" width="0.70" height="2.91" fill="#f47a22"/><rect x="170.20" y="63.81" width="0.70" height="2.55" fill="#f47a22"/><rect x="170.20" y="78.81" width="0.70" height="2.20" fill="#f26418"/><rect x="170.20" y="90.64" width="0.70" height="5.57" fill="#f47a22"/><rect x="170.20" y="99.94" width="0.70" height="4.49" fill="#f7923a"/><rect x="170.90" y="76.66" width="0.80" height="1.71" fill="#f26418"/><rect x="170.90" y="78.37" width="0.80" height="2.43" fill="#f47a22"/><rect x="170.90" y="82.90" width="0.80" height="2.65" fill="#ee5a16"/><rect x="170.90" y="87.25" width="0.80" height="2.17" fill="#f26418"/><rect x="170.90" y="89.42" width="0.80" height="3.25" fill="#fbb24a"/><rect x="170.90" y="107.10" width="0.80" height="2.40" fill="#f7923a"/><rect x="171.70" y="60.90" width="0.50" height="2.20" fill="#ee5a16"/><rect x="171.70" y="63.10" width="0.50" height="2.61" fill="#f26418"/><rect x="171.70" y="67.93" width="0.50" height="2.81" fill="#f47a22"/><rect x="171.70" y="83.16" width="0.50" height="3.36" fill="#f58a2a"/><rect x="171.70" y="86.52" width="0.50" height="1.62" fill="#f58a2a"/><rect x="171.70" y="92.44" width="0.50" height="3.70" fill="#f47a22"/><rect x="171.70" y="96.14" width="0.50" height="3.68" fill="#f47a22"/><rect x="171.70" y="99.82" width="0.50" height="1.86" fill="#fbb24a"/><rect x="171.70" y="101.68" width="0.50" height="4.59" fill="#f7923a"/><rect x="171.70" y="106.28" width="0.50" height="3.22" fill="#ee5a16"/><rect x="172.20" y="60.90" width="0.70" height="5.34" fill="#f26418"/><rect x="172.20" y="73.29" width="0.70" height="4.35" fill="#f47a22"/><rect x="172.20" y="82.25" width="0.70" height="4.30" fill="#fbb24a"/><rect x="172.20" y="86.55" width="0.70" height="2.87" fill="#f7923a"/><rect x="172.20" y="89.41" width="0.70" height="4.63" fill="#f26418"/><rect x="172.20" y="97.90" width="0.70" height="4.53" fill="#fbb24a"/><rect x="172.20" y="102.43" width="0.70" height="3.90" fill="#fbb24a"/><rect x="172.20" y="106.33" width="0.70" height="2.84" fill="#f47a22"/><rect x="172.20" y="109.17" width="0.70" height="0.33" fill="#f26418"/><rect x="172.90" y="60.90" width="0.50" height="4.60" fill="#f9a540"/><rect x="172.90" y="70.72" width="0.50" height="3.88" fill="#f47a22"/><rect x="172.90" y="76.43" width="0.50" height="6.00" fill="#f58a2a"/><rect x="172.90" y="82.43" width="0.50" height="2.70" fill="#f7923a"/><rect x="172.90" y="85.14" width="0.50" height="2.27" fill="#fbb24a"/><rect x="172.90" y="87.41" width="0.50" height="5.99" fill="#f58a2a"/><rect x="172.90" y="96.23" width="0.50" height="3.26" fill="#f26418"/><rect x="172.90" y="104.50" width="0.50" height="3.02" fill="#ee5a16"/><rect x="172.90" y="107.52" width="0.50" height="1.77" fill="#f9a540"/><rect x="172.90" y="109.30" width="0.50" height="0.20" fill="#f26418"/><rect x="173.40" y="72.27" width="0.50" height="3.52" fill="#fbb24a"/><rect x="173.40" y="75.79" width="0.50" height="3.70" fill="#ee5a16"/><rect x="173.40" y="79.49" width="0.50" height="5.27" fill="#fbb24a"/><rect x="173.40" y="95.34" width="0.50" height="4.80" fill="#f47a22"/><rect x="173.40" y="100.15" width="0.50" height="4.86" fill="#ee5a16"/><rect x="173.90" y="63.62" width="0.60" height="2.17" fill="#f9a540"/><rect x="173.90" y="72.11" width="0.60" height="3.71" fill="#f58a2a"/><rect x="173.90" y="75.82" width="0.60" height="5.53" fill="#f26418"/><rect x="173.90" y="91.72" width="0.60" height="4.43" fill="#f7923a"/><rect x="173.90" y="96.15" width="0.60" height="1.99" fill="#f47a22"/><rect x="173.90" y="98.14" width="0.60" height="3.57" fill="#f7923a"/><rect x="173.90" y="101.71" width="0.60" height="3.72" fill="#f47a22"/><rect x="173.90" y="105.44" width="0.60" height="1.69" fill="#fbb24a"/><rect x="174.50" y="71.00" width="0.80" height="4.65" fill="#f47a22"/><rect x="174.50" y="75.64" width="0.80" height="1.81" fill="#fbb24a"/><rect x="174.50" y="77.46" width="0.80" height="4.59" fill="#f9a540"/><rect x="174.50" y="82.04" width="0.80" height="4.85" fill="#f7923a"/><rect x="174.50" y="93.30" width="0.80" height="4.04" fill="#fbb24a"/><rect x="174.50" y="100.70" width="0.80" height="4.65" fill="#f26418"/><rect x="174.50" y="105.35" width="0.80" height="4.15" fill="#f47a22"/><rect x="175.30" y="60.90" width="0.60" height="3.26" fill="#ee5a16"/><rect x="175.30" y="66.43" width="0.60" height="5.29" fill="#fbb24a"/><rect x="175.30" y="71.72" width="0.60" height="4.80" fill="#f47a22"/><rect x="175.30" y="90.53" width="0.60" height="3.76" fill="#f9a540"/><rect x="175.30" y="103.53" width="0.60" height="3.06" fill="#f9a540"/><rect x="175.90" y="63.16" width="0.60" height="5.81" fill="#f47a22"/><rect x="175.90" y="68.96" width="0.60" height="3.13" fill="#fbb24a"/><rect x="175.90" y="73.97" width="0.60" height="4.50" fill="#f47a22"/><rect x="175.90" y="78.47" width="0.60" height="5.28" fill="#fbb24a"/><rect x="175.90" y="83.75" width="0.60" height="3.58" fill="#f26418"/><rect x="175.90" y="87.34" width="0.60" height="5.37" fill="#fbb24a"/><rect x="175.90" y="92.71" width="0.60" height="3.53" fill="#f9a540"/><rect x="175.90" y="100.65" width="0.60" height="3.94" fill="#f9a540"/><rect x="175.90" y="104.59" width="0.60" height="3.47" fill="#f9a540"/><rect x="176.50" y="88.39" width="0.70" height="3.11" fill="#f26418"/><rect x="176.50" y="98.16" width="0.70" height="3.89" fill="#f47a22"/><rect x="176.50" y="107.67" width="0.70" height="1.83" fill="#f9a540"/><rect x="177.20" y="60.90" width="0.70" height="3.21" fill="#f47a22"/><rect x="177.20" y="64.11" width="0.70" height="5.31" fill="#f9a540"/><rect x="177.20" y="69.42" width="0.70" height="1.76" fill="#f26418"/><rect x="177.20" y="71.18" width="0.70" height="5.63" fill="#f26418"/><rect x="177.20" y="76.81" width="0.70" height="4.28" fill="#fbb24a"/><rect x="177.20" y="81.09" width="0.70" height="1.89" fill="#f47a22"/><rect x="177.20" y="82.98" width="0.70" height="4.34" fill="#f47a22"/><rect x="177.20" y="87.31" width="0.70" height="1.91" fill="#f47a22"/><rect x="177.20" y="95.10" width="0.70" height="4.14" fill="#ee5a16"/><rect x="177.20" y="99.23" width="0.70" height="2.80" fill="#f58a2a"/><rect x="177.20" y="102.03" width="0.70" height="4.92" fill="#f9a540"/><rect x="177.20" y="106.95" width="0.70" height="2.55" fill="#ee5a16"/><rect x="177.90" y="64.20" width="0.60" height="4.01" fill="#f26418"/><rect x="177.90" y="68.21" width="0.60" height="3.66" fill="#fbb24a"/><rect x="177.90" y="71.87" width="0.60" height="3.41" fill="#f26418"/><rect x="177.90" y="75.27" width="0.60" height="4.15" fill="#ee5a16"/><rect x="177.90" y="82.98" width="0.60" height="3.10" fill="#f26418"/><rect x="177.90" y="89.87" width="0.60" height="3.72" fill="#f47a22"/><rect x="177.90" y="93.60" width="0.60" height="4.66" fill="#f9a540"/><rect x="177.90" y="98.26" width="0.60" height="4.18" fill="#f7923a"/><rect x="177.90" y="102.44" width="0.60" height="2.81" fill="#fbb24a"/><rect x="177.90" y="105.25" width="0.60" height="4.25" fill="#ee5a16"/><rect x="178.50" y="60.90" width="0.80" height="5.77" fill="#fbb24a"/><rect x="178.50" y="66.67" width="0.80" height="5.83" fill="#f7923a"/><rect x="178.50" y="78.13" width="0.80" height="2.14" fill="#f7923a"/><rect x="178.50" y="80.27" width="0.80" height="2.36" fill="#f58a2a"/><rect x="178.50" y="82.63" width="0.80" height="4.63" fill="#f47a22"/><rect x="178.50" y="100.80" width="0.80" height="3.30" fill="#ee5a16"/><rect x="178.50" y="104.10" width="0.80" height="1.76" fill="#f58a2a"/><rect x="179.30" y="64.43" width="0.60" height="1.53" fill="#ee5a16"/><rect x="179.30" y="65.96" width="0.60" height="2.31" fill="#f47a22"/><rect x="179.30" y="68.27" width="0.60" height="2.60" fill="#f9a540"/><rect x="179.30" y="70.87" width="0.60" height="4.24" fill="#f26418"/><rect x="179.30" y="75.11" width="0.60" height="5.66" fill="#f7923a"/><rect x="179.30" y="85.88" width="0.60" height="3.03" fill="#f9a540"/><rect x="179.30" y="93.74" width="0.60" height="5.16" fill="#ee5a16"/><rect x="179.30" y="98.90" width="0.60" height="4.73" fill="#f26418"/><rect x="179.30" y="108.72" width="0.60" height="0.78" fill="#fbb24a"/><rect x="179.90" y="60.90" width="0.80" height="4.83" fill="#fbb24a"/><rect x="179.90" y="71.10" width="0.80" height="3.97" fill="#f58a2a"/><rect x="179.90" y="75.08" width="0.80" height="3.87" fill="#f7923a"/><rect x="179.90" y="78.95" width="0.80" height="3.75" fill="#f26418"/><rect x="179.90" y="82.71" width="0.80" height="3.15" fill="#ee5a16"/><rect x="179.90" y="88.29" width="0.80" height="3.74" fill="#fbb24a"/><rect x="179.90" y="92.03" width="0.80" height="2.00" fill="#fbb24a"/><rect x="179.90" y="97.01" width="0.80" height="4.26" fill="#f58a2a"/><rect x="179.90" y="105.60" width="0.80" height="3.90" fill="#ee5a16"/><rect x="180.70" y="83.03" width="0.80" height="1.91" fill="#f9a540"/><rect x="180.70" y="84.94" width="0.80" height="4.26" fill="#f47a22"/><rect x="180.70" y="92.97" width="0.80" height="5.06" fill="#f58a2a"/><rect x="180.70" y="98.03" width="0.80" height="4.32" fill="#fbb24a"/><rect x="180.70" y="102.35" width="0.80" height="3.83" fill="#f47a22"/><rect x="180.70" y="106.18" width="0.80" height="1.95" fill="#f7923a"/><rect x="180.70" y="108.14" width="0.80" height="1.36" fill="#f58a2a"/><rect x="181.50" y="67.84" width="0.60" height="1.65" fill="#f26418"/><rect x="181.50" y="69.49" width="0.60" height="3.91" fill="#f47a22"/><rect x="181.50" y="78.26" width="0.60" height="4.81" fill="#f26418"/><rect x="181.50" y="83.07" width="0.60" height="5.59" fill="#f58a2a"/><rect x="181.50" y="90.54" width="0.60" height="5.34" fill="#f58a2a"/><rect x="181.50" y="95.88" width="0.60" height="3.57" fill="#f47a22"/><rect x="181.50" y="99.45" width="0.60" height="2.83" fill="#f58a2a"/><rect x="181.50" y="102.28" width="0.60" height="2.40" fill="#f58a2a"/><rect x="181.50" y="104.68" width="0.60" height="4.59" fill="#f9a540"/><rect x="182.10" y="62.44" width="0.50" height="4.35" fill="#f7923a"/><rect x="182.10" y="75.63" width="0.50" height="2.20" fill="#fbb24a"/><rect x="182.10" y="87.11" width="0.50" height="3.10" fill="#f9a540"/><rect x="182.10" y="90.21" width="0.50" height="4.09" fill="#f9a540"/><rect x="182.10" y="94.30" width="0.50" height="3.84" fill="#f9a540"/><rect x="182.10" y="102.79" width="0.50" height="3.32" fill="#f9a540"/><rect x="182.60" y="60.90" width="0.80" height="3.01" fill="#f26418"/><rect x="182.60" y="63.91" width="0.80" height="2.58" fill="#f47a22"/><rect x="182.60" y="66.49" width="0.80" height="2.45" fill="#f7923a"/><rect x="182.60" y="68.94" width="0.80" height="3.67" fill="#fbb24a"/><rect x="182.60" y="72.61" width="0.80" height="5.16" fill="#ee5a16"/><rect x="182.60" y="77.77" width="0.80" height="5.37" fill="#f47a22"/><rect x="182.60" y="87.90" width="0.80" height="2.45" fill="#f9a540"/><rect x="182.60" y="90.35" width="0.80" height="3.02" fill="#f7923a"/><rect x="182.60" y="93.37" width="0.80" height="3.22" fill="#f7923a"/><rect x="182.60" y="99.28" width="0.80" height="2.20" fill="#f9a540"/><rect x="182.60" y="107.03" width="0.80" height="2.47" fill="#f9a540"/><rect x="183.40" y="60.90" width="0.70" height="2.32" fill="#f26418"/><rect x="183.40" y="63.22" width="0.70" height="3.08" fill="#f7923a"/><rect x="183.40" y="66.30" width="0.70" height="4.07" fill="#ee5a16"/><rect x="183.40" y="70.37" width="0.70" height="2.29" fill="#f47a22"/><rect x="183.40" y="72.65" width="0.70" height="2.85" fill="#f26418"/><rect x="183.40" y="78.12" width="0.70" height="4.81" fill="#f26418"/><rect x="183.40" y="88.76" width="0.70" height="2.52" fill="#f9a540"/><rect x="183.40" y="93.28" width="0.70" height="5.99" fill="#f47a22"/><rect x="184.10" y="60.90" width="0.70" height="2.92" fill="#fbb24a"/><rect x="184.10" y="67.51" width="0.70" height="4.68" fill="#f9a540"/><rect x="184.10" y="77.53" width="0.70" height="4.78" fill="#fbb24a"/><rect x="184.10" y="85.62" width="0.70" height="3.43" fill="#f47a22"/><rect x="184.10" y="90.82" width="0.70" height="5.41" fill="#f9a540"/><rect x="184.10" y="96.23" width="0.70" height="5.83" fill="#f58a2a"/><rect x="184.10" y="102.05" width="0.70" height="3.20" fill="#f58a2a"/><rect x="184.80" y="60.90" width="0.70" height="4.61" fill="#f58a2a"/><rect x="184.80" y="76.31" width="0.70" height="3.10" fill="#f47a22"/><rect x="184.80" y="79.41" width="0.70" height="5.71" fill="#f58a2a"/><rect x="184.80" y="85.12" width="0.70" height="2.91" fill="#f47a22"/><rect x="184.80" y="88.03" width="0.70" height="2.52" fill="#f47a22"/><rect x="184.80" y="90.55" width="0.70" height="4.07" fill="#fbb24a"/><rect x="185.50" y="60.90" width="0.80" height="2.37" fill="#ee5a16"/><rect x="185.50" y="73.63" width="0.80" height="5.89" fill="#fbb24a"/><rect x="185.50" y="79.52" width="0.80" height="5.84" fill="#fbb24a"/><rect x="185.50" y="89.06" width="0.80" height="2.14" fill="#f9a540"/><rect x="185.50" y="91.21" width="0.80" height="1.87" fill="#f58a2a"/><rect x="185.50" y="96.18" width="0.80" height="3.43" fill="#f7923a"/><rect x="185.50" y="101.47" width="0.80" height="3.73" fill="#f58a2a"/><rect x="185.50" y="105.20" width="0.80" height="2.68" fill="#f58a2a"/><rect x="186.30" y="60.90" width="0.70" height="1.88" fill="#fbb24a"/><rect x="186.30" y="62.78" width="0.70" height="4.92" fill="#f9a540"/><rect x="186.30" y="72.04" width="0.70" height="1.96" fill="#f26418"/><rect x="186.30" y="74.00" width="0.70" height="3.22" fill="#fbb24a"/><rect x="186.30" y="78.89" width="0.70" height="5.59" fill="#f47a22"/><rect x="186.30" y="104.04" width="0.70" height="5.46" fill="#fbb24a"/><rect x="187.00" y="60.90" width="0.70" height="5.50" fill="#f26418"/><rect x="187.00" y="66.40" width="0.70" height="4.20" fill="#fbb24a"/><rect x="187.00" y="70.60" width="0.70" height="2.66" fill="#fbb24a"/><rect x="187.00" y="73.26" width="0.70" height="2.43" fill="#f9a540"/><rect x="187.00" y="75.69" width="0.70" height="2.21" fill="#f47a22"/><rect x="187.00" y="83.00" width="0.70" height="2.16" fill="#f47a22"/><rect x="187.00" y="89.95" width="0.70" height="1.58" fill="#fbb24a"/><rect x="187.00" y="101.47" width="0.70" height="4.63" fill="#ee5a16"/><rect x="187.00" y="106.10" width="0.70" height="3.18" fill="#f26418"/><rect x="187.70" y="66.53" width="0.70" height="2.38" fill="#ee5a16"/><rect x="187.70" y="72.71" width="0.70" height="5.12" fill="#f47a22"/><rect x="187.70" y="79.88" width="0.70" height="1.85" fill="#f58a2a"/><rect x="187.70" y="89.39" width="0.70" height="1.52" fill="#f7923a"/><rect x="187.70" y="90.90" width="0.70" height="2.17" fill="#fbb24a"/><rect x="188.40" y="60.90" width="0.80" height="4.07" fill="#f9a540"/><rect x="188.40" y="81.09" width="0.80" height="3.44" fill="#f47a22"/><rect x="188.40" y="84.53" width="0.80" height="2.01" fill="#fbb24a"/><rect x="188.40" y="86.53" width="0.80" height="2.48" fill="#fbb24a"/><rect x="188.40" y="100.37" width="0.80" height="5.96" fill="#f47a22"/><rect x="189.20" y="60.90" width="0.50" height="5.34" fill="#f47a22"/><rect x="189.20" y="85.62" width="0.50" height="2.22" fill="#f7923a"/><rect x="189.20" y="87.84" width="0.50" height="4.40" fill="#f9a540"/><rect x="189.20" y="92.25" width="0.50" height="4.65" fill="#f58a2a"/><rect x="189.20" y="96.90" width="0.50" height="1.91" fill="#fbb24a"/><rect x="189.20" y="98.81" width="0.50" height="2.55" fill="#f47a22"/><rect x="189.20" y="101.36" width="0.50" height="4.28" fill="#f58a2a"/><rect x="189.20" y="105.64" width="0.50" height="3.86" fill="#f9a540"/><rect x="189.70" y="69.40" width="0.50" height="3.72" fill="#f47a22"/><rect x="189.70" y="73.12" width="0.50" height="3.58" fill="#f9a540"/><rect x="189.70" y="76.70" width="0.50" height="5.17" fill="#f9a540"/><rect x="189.70" y="81.87" width="0.50" height="3.62" fill="#f9a540"/><rect x="189.70" y="85.49" width="0.50" height="5.31" fill="#f47a22"/><rect x="189.70" y="90.80" width="0.50" height="4.65" fill="#f58a2a"/><rect x="189.70" y="100.40" width="0.50" height="1.93" fill="#f58a2a"/><rect x="189.70" y="102.33" width="0.50" height="3.57" fill="#f58a2a"/><rect x="189.70" y="105.89" width="0.50" height="2.93" fill="#f58a2a"/><rect x="189.70" y="108.82" width="0.50" height="0.68" fill="#ee5a16"/></g>
<path d="M237.68,57.45 A28.6,28.6 0 0 0 237.68,112.95" fill="none" stroke="#c8305a" stroke-width="2.7" transform="scale(1)"/>
<path d="M246.10,56.64 A28.6,28.6 0 0 1 271.48,75.42" fill="none" stroke="#159a45" stroke-width="2.7"/>
<path d="M273.16,83.70 A28.6,28.6 0 0 1 245.10,113.80" fill="none" stroke="#2aa8ee" stroke-width="2.7"/>
<line x1="244.60" y1="60.60" x2="244.60" y2="65.20" stroke="#f39c12" stroke-width="2.2" stroke-linecap="round"/>
<line x1="254.21" y1="62.56" x2="252.41" y2="66.79" stroke="#31a354" stroke-width="2.2" stroke-linecap="round"/>
<line x1="261.99" y1="67.81" x2="258.74" y2="71.06" stroke="#2c2c9c" stroke-width="2.2" stroke-linecap="round"/>
<line x1="267.41" y1="75.98" x2="263.14" y2="77.71" stroke="#3bb0e8" stroke-width="2.2" stroke-linecap="round"/>
<line x1="269.20" y1="85.20" x2="264.60" y2="85.20" stroke="#f39c12" stroke-width="2.2" stroke-linecap="round"/>
<line x1="267.41" y1="94.42" x2="263.14" y2="92.69" stroke="#3bb0e8" stroke-width="2.2" stroke-linecap="round"/>
<line x1="261.99" y1="102.59" x2="258.74" y2="99.34" stroke="#f39c12" stroke-width="2.2" stroke-linecap="round"/>
<line x1="254.21" y1="107.84" x2="252.41" y2="103.61" stroke="#d6336c" stroke-width="2.2" stroke-linecap="round"/>
<line x1="244.60" y1="109.80" x2="244.60" y2="105.20" stroke="#2c2c9c" stroke-width="2.2" stroke-linecap="round"/>
<line x1="235.38" y1="108.01" x2="237.11" y2="103.74" stroke="#f39c12" stroke-width="2.2" stroke-linecap="round"/>
<line x1="227.21" y1="102.59" x2="230.46" y2="99.34" stroke="#d6336c" stroke-width="2.2" stroke-linecap="round"/>
<line x1="221.96" y1="94.81" x2="226.19" y2="93.01" stroke="#2c2c9c" stroke-width="2.2" stroke-linecap="round"/>
<line x1="220.00" y1="85.20" x2="224.60" y2="85.20" stroke="#3bb0e8" stroke-width="2.2" stroke-linecap="round"/>
<line x1="221.79" y1="75.98" x2="226.06" y2="77.71" stroke="#d6336c" stroke-width="2.2" stroke-linecap="round"/>
<line x1="227.21" y1="67.81" x2="230.46" y2="71.06" stroke="#31a354" stroke-width="2.2" stroke-linecap="round"/>
<line x1="234.99" y1="62.56" x2="236.79" y2="66.79" stroke="#2c2c9c" stroke-width="2.2" stroke-linecap="round"/>
<path d="M244.60,66.10 C244.60,76.61 253.19,85.20 263.70,85.20" fill="none" stroke="#f39c12" stroke-width="0.4" opacity="0.85"/>
<path d="M252.06,67.62 C247.96,77.29 238.52,79.12 231.09,71.69" fill="none" stroke="#31a354" stroke-width="0.4" opacity="0.85"/>
<path d="M258.11,71.69 C250.68,79.12 244.60,93.80 244.60,104.30" fill="none" stroke="#2c2c9c" stroke-width="0.4" opacity="0.85"/>
<path d="M262.31,78.05 C252.57,81.98 236.00,85.20 225.50,85.20" fill="none" stroke="#3bb0e8" stroke-width="0.4" opacity="0.85"/>
<path d="M262.31,92.35 C252.57,88.42 236.00,85.20 225.50,85.20" fill="none" stroke="#3bb0e8" stroke-width="0.4" opacity="0.85"/>
<path d="M258.11,98.71 C250.68,91.28 238.52,91.28 231.09,98.71" fill="none" stroke="#f39c12" stroke-width="0.4" opacity="0.85"/>
<path d="M252.06,102.78 C247.96,93.11 236.63,81.98 226.89,78.05" fill="none" stroke="#d6336c" stroke-width="0.4" opacity="0.85"/>
<path d="M237.45,102.91 C241.38,93.17 241.24,77.29 237.14,67.62" fill="none" stroke="#f39c12" stroke-width="0.4" opacity="0.85"/>
<path d="M227.02,92.66 C236.69,88.56 250.68,79.12 258.11,71.69" fill="none" stroke="#2c2c9c" stroke-width="0.4" opacity="0.85"/>
<path d="M258.11,98.71 C250.68,91.28 241.38,93.17 237.45,102.91" fill="none" stroke="#f39c12" stroke-width="0.4" opacity="0.85"/>
<path d="M263.70,85.20 C253.19,85.20 238.52,91.28 231.09,98.71" fill="none" stroke="#f39c12" stroke-width="0.4" opacity="0.85"/>
<path d="M226.89,78.05 C236.63,81.98 247.96,77.29 252.06,67.62" fill="none" stroke="#d6336c" stroke-width="0.4" opacity="0.85"/>
<path d="M237.14,67.62 C241.24,77.29 244.60,93.80 244.60,104.30" fill="none" stroke="#2c2c9c" stroke-width="0.4" opacity="0.85"/>
<line x1="42.90" y1="118.50" x2="42.90" y2="235.40" stroke="#f2705e" stroke-width="0.8" />
<line x1="243.50" y1="118.50" x2="243.50" y2="235.40" stroke="#6168b4" stroke-width="0.8" />
<line x1="42.90" y1="159.20" x2="72.00" y2="159.20" stroke="#f2705e" stroke-width="0.8" />
<path d="M72.00,157.70 L72.00,160.70 L75.00,159.20 Z" fill="white" stroke="#f2705e" stroke-width="0.72"/>
<line x1="243.50" y1="159.20" x2="212.60" y2="159.20" stroke="#6168b4" stroke-width="0.8" />
<path d="M212.60,157.70 L212.60,160.70 L209.60,159.20 Z" fill="white" stroke="#6168b4" stroke-width="0.72"/>
<line x1="42.90" y1="197.20" x2="72.00" y2="197.20" stroke="#f2705e" stroke-width="0.8" />
<path d="M72.00,195.70 L72.00,198.70 L75.00,197.20 Z" fill="white" stroke="#f2705e" stroke-width="0.72"/>
<line x1="243.50" y1="197.20" x2="212.60" y2="197.20" stroke="#6168b4" stroke-width="0.8" />
<path d="M212.60,195.70 L212.60,198.70 L209.60,197.20 Z" fill="white" stroke="#6168b4" stroke-width="0.72"/>
<line x1="42.90" y1="235.40" x2="72.00" y2="235.40" stroke="#f2705e" stroke-width="0.8" />
<path d="M72.00,233.90 L72.00,236.90 L75.00,235.40 Z" fill="white" stroke="#f2705e" stroke-width="0.72"/>
<line x1="243.50" y1="235.40" x2="212.60" y2="235.40" stroke="#6168b4" stroke-width="0.8" />
<path d="M212.60,233.90 L212.60,236.90 L209.60,235.40 Z" fill="white" stroke="#6168b4" stroke-width="0.72"/>
<line x1="106.30" y1="115.50" x2="106.30" y2="130.20" stroke="#f2705e" stroke-width="0.75" />
<path d="M104.90,130.20 L107.70,130.20 L106.30,132.80 Z" fill="white" stroke="#f2705e" stroke-width="0.68"/>
<line x1="177.60" y1="115.50" x2="177.60" y2="130.20" stroke="#6168b4" stroke-width="0.75" />
<path d="M176.20,130.20 L179.00,130.20 L177.60,132.80 Z" fill="white" stroke="#6168b4" stroke-width="0.68"/>
<text x="76.80" y="131.60" font-size="9.0" fill="#f04b35" font-weight="bold" text-anchor="start" >GCNs</text>
<text x="146.80" y="131.60" font-size="9.0" fill="#3a3f95" font-weight="bold" text-anchor="start" >GCNs</text>
<rect x="75.6" y="136.6" width="63.2" height="121.2" rx="2" fill="#fde0df" stroke="#f48a7c" stroke-width="0.9"/>
<rect x="146.8" y="136.6" width="62.0" height="121.2" rx="1" fill="#dfe1f1" stroke="#7a80c0" stroke-width="0.9"/>
<g stroke="#f2705e" stroke-width="0.8"><line x1="83.50" y1="156.90" x2="95.30" y2="165.20"/><line x1="88.40" y1="174.70" x2="95.30" y2="165.20"/><line x1="95.30" y1="165.20" x2="95.30" y2="149.60"/><line x1="95.30" y1="165.20" x2="105.40" y2="173.20"/><line x1="95.30" y1="149.60" x2="119.60" y2="143.30"/><line x1="95.30" y1="149.60" x2="116.40" y2="156.90"/><line x1="119.60" y1="143.30" x2="116.40" y2="156.90"/><line x1="119.60" y1="143.30" x2="130.10" y2="153.60"/><line x1="116.40" y1="156.90" x2="130.10" y2="153.60"/><line x1="116.40" y1="156.90" x2="105.40" y2="173.20"/><line x1="116.40" y1="156.90" x2="123.20" y2="170.40"/><line x1="130.10" y1="153.60" x2="123.20" y2="170.40"/><line x1="105.40" y1="173.20" x2="123.20" y2="170.40"/></g>
<g stroke="#f2705e" stroke-width="0.8" fill="#fff4f3"><circle cx="83.50" cy="156.90" r="2.2"/><circle cx="95.30" cy="149.60" r="2.2"/><circle cx="119.60" cy="143.30" r="2.2"/><circle cx="130.10" cy="153.60" r="2.2"/><circle cx="116.40" cy="156.90" r="1.8"/><circle cx="95.30" cy="165.20" r="1.8"/><circle cx="88.40" cy="174.70" r="2.0"/><circle cx="105.40" cy="173.20" r="2.1"/><circle cx="123.20" cy="170.40" r="2.1"/></g>
<g stroke="#f2705e" stroke-width="0.8"><line x1="83.50" y1="194.90" x2="95.30" y2="203.20"/><line x1="88.40" y1="212.70" x2="95.30" y2="203.20"/><line x1="95.30" y1="203.20" x2="95.30" y2="187.60"/><line x1="95.30" y1="203.20" x2="105.40" y2="211.20"/><line x1="95.30" y1="187.60" x2="119.60" y2="181.30"/><line x1="95.30" y1="187.60" x2="116.40" y2="194.90"/><line x1="119.60" y1="181.30" x2="116.40" y2="194.90"/><line x1="119.60" y1="181.30" x2="130.10" y2="191.60"/><line x1="116.40" y1="194.90" x2="130.10" y2="191.60"/><line x1="116.40" y1="194.90" x2="105.40" y2="211.20"/><line x1="116.40" y1="194.90" x2="123.20" y2="208.40"/><line x1="130.10" y1="191.60" x2="123.20" y2="208.40"/><line x1="105.40" y1="211.20" x2="123.20" y2="208.40"/></g>
<g stroke="#f2705e" stroke-width="0.8" fill="#fff4f3"><circle cx="83.50" cy="194.90" r="2.2"/><circle cx="95.30" cy="187.60" r="2.2"/><circle cx="119.60" cy="181.30" r="2.2"/><circle cx="130.10" cy="191.60" r="2.2"/><circle cx="116.40" cy="194.90" r="1.8"/><circle cx="95.30" cy="203.20" r="1.8"/><circle cx="88.40" cy="212.70" r="2.0"/><circle cx="105.40" cy="211.20" r="2.1"/><circle cx="123.20" cy="208.40" r="2.1"/></g>
<g stroke="#f2705e" stroke-width="0.8"><line x1="83.50" y1="232.90" x2="95.30" y2="241.20"/><line x1="88.40" y1="250.70" x2="95.30" y2="241.20"/><line x1="95.30" y1="241.20" x2="95.30" y2="225.60"/><line x1="95.30" y1="241.20" x2="105.40" y2="249.20"/><line x1="95.30" y1="225.60" x2="119.60" y2="219.30"/><line x1="95.30" y1="225.60" x2="116.40" y2="232.90"/><line x1="119.60" y1="219.30" x2="116.40" y2="232.90"/><line x1="119.60" y1="219.30" x2="130.10" y2="229.60"/><line x1="116.40" y1="232.90" x2="130.10" y2="229.60"/><line x1="116.40" y1="232.90" x2="105.40" y2="249.20"/><line x1="116.40" y1="232.90" x2="123.20" y2="246.40"/><line x1="130.10" y1="229.60" x2="123.20" y2="246.40"/><line x1="105.40" y1="249.20" x2="123.20" y2="246.40"/></g>
<g stroke="#f2705e" stroke-width="0.8" fill="#fff4f3"><circle cx="83.50" cy="232.90" r="2.2"/><circle cx="95.30" cy="225.60" r="2.2"/><circle cx="119.60" cy="219.30" r="2.2"/><circle cx="130.10" cy="229.60" r="2.2"/><circle cx="116.40" cy="232.90" r="1.8"/><circle cx="95.30" cy="241.20" r="1.8"/><circle cx="88.40" cy="250.70" r="2.0"/><circle cx="105.40" cy="249.20" r="2.1"/><circle cx="123.20" cy="246.40" r="2.1"/></g>
<g stroke="#6168b4" stroke-width="0.8"><line x1="154.30" y1="156.90" x2="166.10" y2="165.20"/><line x1="159.20" y1="174.70" x2="166.10" y2="165.20"/><line x1="166.10" y1="165.20" x2="166.10" y2="149.60"/><line x1="166.10" y1="165.20" x2="176.20" y2="173.20"/><line x1="166.10" y1="149.60" x2="190.40" y2="143.30"/><line x1="166.10" y1="149.60" x2="187.20" y2="156.90"/><line x1="190.40" y1="143.30" x2="187.20" y2="156.90"/><line x1="190.40" y1="143.30" x2="200.90" y2="153.60"/><line x1="187.20" y1="156.90" x2="200.90" y2="153.60"/><line x1="187.20" y1="156.90" x2="176.20" y2="173.20"/><line x1="187.20" y1="156.90" x2="194.00" y2="170.40"/><line x1="200.90" y1="153.60" x2="194.00" y2="170.40"/><line x1="176.20" y1="173.20" x2="194.00" y2="170.40"/></g>
<g stroke="#6168b4" stroke-width="0.8" fill="#f0f1fa"><circle cx="154.30" cy="156.90" r="2.2"/><circle cx="166.10" cy="149.60" r="2.2"/><circle cx="190.40" cy="143.30" r="2.2"/><circle cx="200.90" cy="153.60" r="2.2"/><circle cx="187.20" cy="156.90" r="1.8"/><circle cx="166.10" cy="165.20" r="1.8"/><circle cx="159.20" cy="174.70" r="2.0"/><circle cx="176.20" cy="173.20" r="2.1"/><circle cx="194.00" cy="170.40" r="2.1"/></g>
<g stroke="#6168b4" stroke-width="0.8"><line x1="154.30" y1="194.90" x2="166.10" y2="203.20"/><line x1="159.20" y1="212.70" x2="166.10" y2="203.20"/><line x1="166.10" y1="203.20" x2="166.10" y2="187.60"/><line x1="166.10" y1="203.20" x2="176.20" y2="211.20"/><line x1="166.10" y1="187.60" x2="190.40" y2="181.30"/><line x1="166.10" y1="187.60" x2="187.20" y2="194.90"/><line x1="190.40" y1="181.30" x2="187.20" y2="194.90"/><line x1="190.40" y1="181.30" x2="200.90" y2="191.60"/><line x1="187.20" y1="194.90" x2="200.90" y2="191.60"/><line x1="187.20" y1="194.90" x2="176.20" y2="211.20"/><line x1="187.20" y1="194.90" x2="194.00" y2="208.40"/><line x1="200.90" y1="191.60" x2="194.00" y2="208.40"/><line x1="176.20" y1="211.20" x2="194.00" y2="208.40"/></g>
<g stroke="#6168b4" stroke-width="0.8" fill="#f0f1fa"><circle cx="154.30" cy="194.90" r="2.2"/><circle cx="166.10" cy="187.60" r="2.2"/><circle cx="190.40" cy="181.30" r="2.2"/><circle cx="200.90" cy="191.60" r="2.2"/><circle cx="187.20" cy="194.90" r="1.8"/><circle cx="166.10" cy="203.20" r="1.8"/><circle cx="159.20" cy="212.70" r="2.0"/><circle cx="176.20" cy="211.20" r="2.1"/><circle cx="194.00" cy="208.40" r="2.1"/></g>
<g stroke="#6168b4" stroke-width="0.8"><line x1="154.30" y1="232.90" x2="166.10" y2="241.20"/><line x1="159.20" y1="250.70" x2="166.10" y2="241.20"/><line x1="166.10" y1="241.20" x2="166.10" y2="225.60"/><line x1="166.10" y1="241.20" x2="176.20" y2="249.20"/><line x1="166.10" y1="225.60" x2="190.40" y2="219.30"/><line x1="166.10" y1="225.60" x2="187.20" y2="232.90"/><line x1="190.40" y1="219.30" x2="187.20" y2="232.90"/><line x1="190.40" y1="219.30" x2="200.90" y2="229.60"/><line x1="187.20" y1="232.90" x2="200.90" y2="229.60"/><line x1="187.20" y1="232.90" x2="176.20" y2="249.20"/><line x1="187.20" y1="232.90" x2="194.00" y2="246.40"/><line x1="200.90" y1="229.60" x2="194.00" y2="246.40"/><line x1="176.20" y1="249.20" x2="194.00" y2="246.40"/></g>
<g stroke="#6168b4" stroke-width="0.8" fill="#f0f1fa"><circle cx="154.30" cy="232.90" r="2.2"/><circle cx="166.10" cy="225.60" r="2.2"/><circle cx="190.40" cy="219.30" r="2.2"/><circle cx="200.90" cy="229.60" r="2.2"/><circle cx="187.20" cy="232.90" r="1.8"/><circle cx="166.10" cy="241.20" r="1.8"/><circle cx="159.20" cy="250.70" r="2.0"/><circle cx="176.20" cy="249.20" r="2.1"/><circle cx="194.00" cy="246.40" r="2.1"/></g>
<line x1="106.30" y1="260.50" x2="106.30" y2="275.20" stroke="#f2705e" stroke-width="0.75" />
<path d="M104.90,275.20 L107.70,275.20 L106.30,277.80 Z" fill="white" stroke="#f2705e" stroke-width="0.68"/>
<line x1="177.60" y1="260.50" x2="177.60" y2="275.20" stroke="#6168b4" stroke-width="0.75" />
<path d="M176.20,275.20 L179.00,275.20 L177.60,277.80 Z" fill="white" stroke="#6168b4" stroke-width="0.68"/>
<rect x="98.4" y="284.7" width="87.4" height="63.8" rx="1.5" fill="#fff" stroke="#f7bb6a" stroke-width="0.9"/>
<text transform="translate(92.9,336.3) rotate(-90)" font-size="9.1" fill="#707070">FC layers</text>
<g stroke="#f39a1e" stroke-width="0.9"><line x1="129.7" y1="296.3" x2="120.8" y2="316.7"/><line x1="129.7" y1="296.3" x2="142.0" y2="316.7"/><line x1="129.7" y1="296.3" x2="162.8" y2="316.7"/><line x1="152.5" y1="296.3" x2="120.8" y2="316.7"/><line x1="152.5" y1="296.3" x2="142.0" y2="316.7"/><line x1="152.5" y1="296.3" x2="162.8" y2="316.7"/><line x1="120.8" y1="316.7" x2="129.7" y2="337.2"/><line x1="120.8" y1="316.7" x2="152.5" y2="337.2"/><line x1="142.0" y1="316.7" x2="129.7" y2="337.2"/><line x1="142.0" y1="316.7" x2="152.5" y2="337.2"/><line x1="162.8" y1="316.7" x2="129.7" y2="337.2"/><line x1="162.8" y1="316.7" x2="152.5" y2="337.2"/></g>
<g stroke="#f39a1e" stroke-width="0.9" fill="#fff"><circle cx="129.7" cy="296.3" r="4.5"/><circle cx="152.5" cy="296.3" r="4.5"/><circle cx="120.8" cy="316.7" r="4.5"/><circle cx="142.0" cy="316.7" r="4.5"/><circle cx="162.8" cy="316.7" r="4.5"/><circle cx="129.7" cy="337.2" r="4.5"/><circle cx="152.5" cy="337.2" r="4.5"/></g>
<line x1="142.20" y1="348.50" x2="142.20" y2="362.80" stroke="#8c8c8c" stroke-width="0.75" />
<line x1="56.30" y1="362.80" x2="243.50" y2="362.80" stroke="#8c8c8c" stroke-width="0.75" />
<line x1="56.30" y1="362.80" x2="56.30" y2="370.60" stroke="#8c8c8c" stroke-width="0.7" />
<path d="M55.00,370.60 L57.60,370.60 L56.30,373.00 Z" fill="white" stroke="#8c8c8c" stroke-width="0.63"/>
<text transform="translate(60.40,454.2) rotate(-90)" font-size="11.8" fill="#707070">Annotation 1</text>
<line x1="77.60" y1="362.80" x2="77.60" y2="370.60" stroke="#8c8c8c" stroke-width="0.7" />
<path d="M76.30,370.60 L78.90,370.60 L77.60,373.00 Z" fill="white" stroke="#8c8c8c" stroke-width="0.63"/>
<text transform="translate(81.70,454.2) rotate(-90)" font-size="11.8" fill="#707070">Annotation 2</text>
<line x1="98.90" y1="362.80" x2="98.90" y2="370.60" stroke="#8c8c8c" stroke-width="0.7" />
<path d="M97.60,370.60 L100.20,370.60 L98.90,373.00 Z" fill="white" stroke="#8c8c8c" stroke-width="0.63"/>
<text transform="translate(103.00,454.2) rotate(-90)" font-size="11.8" fill="#707070">Annotation 3</text>
<line x1="120.20" y1="362.80" x2="120.20" y2="370.60" stroke="#8c8c8c" stroke-width="0.7" />
<path d="M118.90,370.60 L121.50,370.60 L120.20,373.00 Z" fill="white" stroke="#8c8c8c" stroke-width="0.63"/>
<text transform="translate(124.30,454.2) rotate(-90)" font-size="11.8" fill="#707070">Annotation 4</text>
<line x1="141.50" y1="362.80" x2="141.50" y2="370.60" stroke="#8c8c8c" stroke-width="0.7" />
<path d="M140.20,370.60 L142.80,370.60 L141.50,373.00 Z" fill="white" stroke="#8c8c8c" stroke-width="0.63"/>
<text transform="translate(145.60,454.2) rotate(-90)" font-size="11.8" fill="#707070">Annotation 5</text>
<line x1="162.80" y1="362.80" x2="162.80" y2="370.60" stroke="#8c8c8c" stroke-width="0.7" />
<path d="M161.50,370.60 L164.10,370.60 L162.80,373.00 Z" fill="white" stroke="#8c8c8c" stroke-width="0.63"/>
<text transform="translate(166.90,454.2) rotate(-90)" font-size="11.8" fill="#707070">Annotation 6</text>
<line x1="184.10" y1="362.80" x2="184.10" y2="370.60" stroke="#8c8c8c" stroke-width="0.7" />
<path d="M182.80,370.60 L185.40,370.60 L184.10,373.00 Z" fill="white" stroke="#8c8c8c" stroke-width="0.63"/>
<text transform="translate(188.20,454.2) rotate(-90)" font-size="11.8" fill="#707070">Annotation 7</text>
<line x1="243.50" y1="362.80" x2="243.50" y2="370.60" stroke="#8c8c8c" stroke-width="0.7" />
<path d="M242.20,370.60 L244.80,370.60 L243.50,373.00 Z" fill="white" stroke="#8c8c8c" stroke-width="0.63"/>
<text transform="translate(247.60,454.2) rotate(-90)" font-size="11.8" fill="#707070">Annotation N</text>
<text transform="translate(217.5,426) rotate(-90)" font-size="11.8" fill="#707070">...</text>
<text x="117.40" y="478.40" font-size="11.45" fill="#6a6a6a" font-weight="bold" text-anchor="start" >Function</text>
<text x="287.60" y="13.60" font-size="16.5" fill="#111" font-weight="bold" text-anchor="start" >b</text>
<path d="M384.2,172.6C437.1,140.8 487.9,95.2 558.3,91.9M384.2,172.6C438.0,142.1 489.3,96.4 560.7,100.2M384.2,172.6C438.9,143.4 490.7,97.6 562.4,108.7M384.2,172.6C439.8,144.7 492.0,98.9 563.2,117.3M384.2,172.6C440.8,145.9 493.3,100.3 563.3,126.0M384.2,172.6C441.9,147.0 494.5,101.8 562.7,134.7M384.2,172.6C443.0,148.1 495.6,103.3 561.2,143.2M384.2,172.6C444.2,149.2 496.6,104.9 559.0,151.6M384.2,172.6C445.4,150.2 497.5,106.5 556.1,159.8M384.2,172.6C446.6,151.1 498.4,108.2 552.4,167.6M388.9,179.7C436.5,139.8 486.6,94.3 558.3,91.9M388.9,179.7C437.3,141.1 488.1,95.4 560.7,100.2M388.9,179.7C438.2,142.4 489.6,96.6 562.4,108.7M388.9,179.7C439.1,143.7 491.0,97.8 563.2,117.3M388.9,179.7C440.0,144.9 492.3,99.2 563.3,126.0M388.9,179.7C441.1,146.1 493.5,100.6 562.7,134.7M388.9,179.7C442.1,147.3 494.7,102.1 561.2,143.2M388.9,179.7C443.2,148.3 495.8,103.6 559.0,151.6M388.9,179.7C444.4,149.4 496.8,105.2 556.1,159.8M388.9,179.7C445.6,150.4 497.7,106.8 552.4,167.6M394.2,186.3C436.0,138.7 485.3,93.5 558.3,91.9M394.2,186.3C436.7,140.1 486.9,94.5 560.7,100.2M394.2,186.3C437.5,141.4 488.4,95.6 562.4,108.7M394.2,186.3C438.4,142.7 489.8,96.8 563.2,117.3M394.2,186.3C439.3,144.0 491.2,98.1 563.3,126.0M394.2,186.3C440.3,145.2 492.5,99.4 562.7,134.7M394.2,186.3C441.3,146.4 493.7,100.9 561.2,143.2M394.2,186.3C442.4,147.5 494.9,102.3 559.0,151.6M394.2,186.3C443.5,148.6 496.0,103.9 556.1,159.8M394.2,186.3C444.7,149.6 496.9,105.5 552.4,167.6M400.0,192.5C435.4,137.6 484.0,92.7 558.3,91.9M400.0,192.5C436.1,139.0 485.6,93.6 560.7,100.2M400.0,192.5C436.9,140.4 487.2,94.7 562.4,108.7M400.0,192.5C437.7,141.7 488.7,95.8 563.2,117.3M400.0,192.5C438.6,143.0 490.1,97.0 563.3,126.0M400.0,192.5C439.5,144.2 491.5,98.3 562.7,134.7M400.0,192.5C440.5,145.5 492.8,99.7 561.2,143.2M400.0,192.5C441.5,146.6 494.0,101.1 559.0,151.6M400.0,192.5C442.6,147.7 495.1,102.6 556.1,159.8M400.0,192.5C443.7,148.8 496.2,104.2 552.4,167.6M406.4,198.1C434.9,136.5 482.7,92.0 558.3,91.9M406.4,198.1C435.6,137.9 484.3,92.8 560.7,100.2M406.4,198.1C436.3,139.3 485.9,93.8 562.4,108.7M406.4,198.1C437.0,140.7 487.5,94.9 563.2,117.3M406.4,198.1C437.9,142.0 488.9,96.0 563.3,126.0M406.4,198.1C438.8,143.3 490.4,97.3 562.7,134.7M406.4,198.1C439.7,144.5 491.7,98.6 561.2,143.2M406.4,198.1C440.7,145.7 493.0,100.0 559.0,151.6M406.4,198.1C441.7,146.9 494.2,101.4 556.1,159.8M406.4,198.1C442.8,148.0 495.3,102.9 552.4,167.6M413.2,203.1C434.5,135.3 481.3,91.3 558.3,91.9M413.2,203.1C435.1,136.8 483.0,92.1 560.7,100.2M413.2,203.1C435.7,138.2 484.6,93.0 562.4,108.7M413.2,203.1C436.4,139.6 486.2,94.0 563.2,117.3M413.2,203.1C437.2,140.9 487.7,95.1 563.3,126.0M413.2,203.1C438.1,142.3 489.2,96.3 562.7,134.7M413.2,203.1C439.0,143.5 490.6,97.5 561.2,143.2M413.2,203.1C439.9,144.8 491.9,98.8 559.0,151.6M413.2,203.1C440.9,146.0 493.2,100.2 556.1,159.8M413.2,203.1C442.0,147.1 494.4,101.7 552.4,167.6M420.5,207.5C434.0,134.2 479.9,90.7 558.3,91.9M420.5,207.5C434.6,135.7 481.6,91.4 560.7,100.2M420.5,207.5C435.2,137.1 483.3,92.3 562.4,108.7M420.5,207.5C435.9,138.5 484.9,93.2 563.2,117.3M420.5,207.5C436.6,139.9 486.5,94.2 563.3,126.0M420.5,207.5C437.4,141.2 488.0,95.3 562.7,134.7M420.5,207.5C438.2,142.5 489.5,96.5 561.2,143.2M420.5,207.5C439.2,143.8 490.9,97.7 559.0,151.6M420.5,207.5C440.1,145.0 492.2,99.1 556.1,159.8M420.5,207.5C441.1,146.2 493.4,100.5 552.4,167.6M428.1,211.2C433.7,133.0 478.5,90.1 558.3,91.9M428.1,211.2C434.2,134.5 480.2,90.8 560.7,100.2M428.1,211.2C434.7,136.0 481.9,91.6 562.4,108.7M428.1,211.2C435.3,137.4 483.6,92.4 563.2,117.3M428.1,211.2C436.0,138.8 485.2,93.4 563.3,126.0M428.1,211.2C436.8,140.2 486.8,94.4 562.7,134.7M428.1,211.2C437.6,141.5 488.3,95.5 561.2,143.2M428.1,211.2C438.4,142.8 489.7,96.7 559.0,151.6M428.1,211.2C439.4,144.1 491.1,98.0 556.1,159.8M428.1,211.2C440.3,145.3 492.4,99.3 552.4,167.6" fill="none" stroke="#6a7890" stroke-width="0.3" opacity="0.5"/>
<path d="M455.5,27.1C451.4,45.8 451.9,59.8 454.5,69.2M455.5,27.1C451.2,46.1 451.6,60.4 454.4,70.0M455.5,27.1C451.0,46.4 451.3,61.0 454.3,70.8M455.5,27.1C450.8,46.8 451.1,61.6 454.2,71.7M455.5,27.1C450.6,47.1 450.8,62.2 454.1,72.5M455.5,27.1C450.4,47.5 450.6,62.9 454.1,73.4M455.5,27.1C450.3,47.8 450.4,63.5 454.0,74.3M447.2,28.4C445.4,46.6 447.4,60.2 451.2,69.2M447.2,28.4C445.1,46.9 447.1,60.7 451.0,70.0M447.2,28.4C444.9,47.2 446.8,61.3 450.9,70.8M447.2,28.4C444.7,47.5 446.6,61.9 450.8,71.6M447.2,28.4C444.5,47.9 446.3,62.5 450.8,72.4M447.2,28.4C444.3,48.2 446.1,63.1 450.7,73.3M447.2,28.4C444.2,48.6 445.9,63.8 450.6,74.2M447.2,28.4C444.0,48.9 445.7,64.4 450.6,75.2" fill="none" stroke="#600c0c" stroke-width="0.7" opacity="0.9"/>
<path d="M454.5,69.2C457.1,78.6 461.9,83.4 466.5,83.4M451.2,69.2C454.9,78.3 460.4,82.8 465.4,82.7" fill="none" stroke="#5c0f0d" stroke-width="0.7" opacity="0.9"/>
<path d="M466.5,83.4C471.2,83.4 475.7,78.7 477.7,69.2M465.4,82.7C470.5,82.6 475.2,78.0 477.3,68.6" fill="none" stroke="#2f3413" stroke-width="0.7" opacity="0.9"/>
<path d="M477.7,69.2C479.8,59.8 479.4,45.6 474.1,26.7M477.3,68.6C479.5,59.3 479.1,45.3 474.1,26.7M476.9,68.0C479.2,58.8 478.9,45.0 474.1,26.7M505.0,87.1C516.1,80.4 526.9,69.7 535.7,55.3M476.5,67.5C478.8,58.3 478.6,44.8 474.1,26.7M504.7,86.4C515.9,79.8 526.7,69.4 535.7,55.3M476.0,67.0C478.5,57.9 478.4,44.5 474.1,26.7M504.5,85.7C515.8,79.2 526.6,69.0 535.7,55.3M475.6,66.5C478.1,57.4 478.1,44.2 474.1,26.7M504.2,85.0C515.6,78.6 526.5,68.7 535.7,55.3M475.1,66.0C477.8,57.0 477.8,44.0 474.1,26.7M503.9,84.3C515.4,78.1 526.3,68.3 535.7,55.3M503.6,83.7C515.2,77.5 526.1,68.0 535.7,55.3M503.3,83.1C514.9,76.9 525.9,67.7 535.7,55.3M502.9,82.5C514.7,76.4 525.7,67.3 535.7,55.3M502.6,82.0C514.4,75.9 525.5,67.0 535.7,55.3M502.2,81.4C514.1,75.3 525.3,66.7 535.7,55.3M515.9,119.4C531.9,121.6 547.8,123.6 563.3,126.0M501.9,80.9C513.8,74.9 525.1,66.4 535.7,55.3M515.8,118.8C531.8,121.0 547.7,123.2 563.3,126.0M515.6,123.4C531.5,126.6 547.3,130.2 562.7,134.7M501.5,80.5C513.4,74.4 524.8,66.2 535.7,55.3M515.6,118.1C531.6,120.4 547.6,122.9 563.3,126.0M515.5,122.7C531.4,126.0 547.2,129.8 562.7,134.7M501.1,80.0C513.1,73.9 524.5,65.9 535.7,55.3M515.5,117.5C531.5,119.7 547.5,122.5 563.3,126.0M515.3,122.1C531.3,125.4 547.1,129.4 562.7,134.7M515.3,116.8C531.3,119.1 547.3,122.1 563.3,126.0M515.2,121.4C531.1,124.8 547.0,129.1 562.7,134.7M515.1,116.2C531.1,118.5 547.2,121.8 563.3,126.0M515.0,120.8C531.0,124.1 546.9,128.7 562.7,134.7M514.9,115.6C530.9,118.0 547.0,121.4 563.3,126.0M514.9,120.2C530.8,123.5 546.7,128.3 562.7,134.7M514.7,115.0C530.7,117.4 546.9,121.1 563.3,126.0M514.7,119.6C530.6,123.0 546.6,128.0 562.7,134.7M514.5,114.4C530.5,116.8 546.7,120.8 563.3,126.0M514.5,119.0C530.4,122.4 546.4,127.7 562.7,134.7M514.3,113.9C530.2,116.3 546.5,120.5 563.3,126.0M514.3,118.4C530.2,121.8 546.2,127.3 562.7,134.7M514.1,113.3C529.9,115.7 546.3,120.1 563.3,126.0M514.1,117.8C529.9,121.3 546.0,127.0 562.7,134.7" fill="none" stroke="#1c4416" stroke-width="0.7" opacity="0.9"/>
<path d="M454.4,70.0C457.2,79.6 462.4,84.5 467.7,84.5M454.3,70.8C457.2,80.6 462.8,85.6 468.8,85.9M454.1,73.4C457.5,84.0 464.1,89.6 471.8,90.5M454.0,74.3C457.6,85.2 464.5,91.1 472.8,92.3M451.0,70.0C455.0,79.2 460.8,83.9 466.6,83.9M450.9,70.8C455.0,80.2 461.3,85.0 467.7,85.2M450.7,73.3C455.3,83.5 462.6,89.0 470.8,89.8M450.6,74.2C455.3,84.7 463.0,90.4 471.7,91.5" fill="none" stroke="#5c100d" stroke-width="0.7" opacity="0.9"/>
<path d="M467.7,84.5C473.0,84.6 478.4,80.0 481.7,70.5M471.8,90.5C479.6,91.5 488.5,87.6 496.4,79.0M472.8,92.3C481.0,93.6 490.7,90.0 499.6,81.9M466.6,83.9C472.3,83.9 477.9,79.2 481.3,69.9M470.8,89.8C479.0,90.6 488.1,86.7 496.1,78.3M471.7,91.5C480.4,92.7 490.3,89.2 499.4,81.2" fill="none" stroke="#313714" stroke-width="0.7" opacity="0.9"/>
<path d="M481.7,70.5C485.0,61.1 486.1,46.8 482.7,27.7M496.4,79.0C504.3,70.5 511.3,57.2 515.2,39.4M499.6,81.9C508.6,73.8 516.9,61.2 522.5,44.0M481.3,69.9C484.7,60.5 485.9,46.5 482.7,27.7M496.1,78.3C504.1,69.9 511.1,56.9 515.2,39.4M499.4,81.2C508.4,73.2 516.8,60.8 522.5,44.0M480.9,69.3C484.4,60.0 485.6,46.2 482.7,27.7M495.8,77.6C503.9,69.3 511.0,56.5 515.2,39.4M499.1,80.5C508.3,72.6 516.6,60.4 522.5,44.0M480.5,68.7C484.1,59.5 485.4,45.9 482.7,27.7M495.4,76.9C503.7,68.7 510.8,56.2 515.2,39.4M498.8,79.8C508.1,72.0 516.5,60.1 522.5,44.0M507.3,90.1C519.4,84.2 531.2,74.7 541.5,61.7M480.1,68.1C483.8,59.0 485.1,45.6 482.7,27.7M495.1,76.3C503.5,68.1 510.6,55.8 515.2,39.4M498.5,79.1C507.9,71.5 516.3,59.8 522.5,44.0M507.1,89.3C519.2,83.6 531.1,74.3 541.5,61.7M479.6,67.6C483.4,58.6 484.9,45.3 482.7,27.7M494.7,75.6C503.2,67.6 510.4,55.5 515.2,39.4M498.1,78.5C507.6,70.9 516.1,59.4 522.5,44.0M506.8,88.6C519.1,83.0 531.0,73.9 541.5,61.7M511.3,96.6C524.9,92.6 538.6,85.6 551.3,76.0M479.2,67.1C483.1,58.1 484.6,45.1 482.7,27.7M494.4,75.0C502.9,67.1 510.2,55.2 515.2,39.4M497.8,77.9C507.4,70.4 516.0,59.1 522.5,44.0M506.6,88.0C518.9,82.4 530.9,73.6 541.5,61.7M511.0,95.9C524.8,92.0 538.5,85.2 551.3,76.0M478.7,66.7C482.7,57.7 484.3,44.8 482.7,27.7M494.0,74.5C502.6,66.5 510.0,54.9 515.2,39.4M497.4,77.3C507.1,69.8 515.7,58.8 522.5,44.0M506.3,87.3C518.7,81.8 530.7,73.3 541.5,61.7M510.8,95.2C524.6,91.4 538.4,84.9 551.3,76.0M493.6,73.9C502.3,66.0 509.7,54.6 515.2,39.4M497.0,76.7C506.8,69.3 515.5,58.5 522.5,44.0M506.0,86.7C518.5,81.2 530.5,72.9 541.5,61.7M510.5,94.6C524.5,90.8 538.2,84.5 551.3,76.0M493.2,73.4C502.0,65.6 509.5,54.3 515.2,39.4M496.7,76.2C506.5,68.8 515.3,58.2 522.5,44.0M505.7,86.1C518.2,80.7 530.3,72.6 541.5,61.7M510.3,93.9C524.3,90.2 538.1,84.2 551.3,76.0M492.8,73.0C501.7,65.1 509.2,54.1 515.2,39.4M496.3,75.7C506.2,68.3 515.0,57.9 522.5,44.0M505.3,85.5C518.0,80.1 530.1,72.3 541.5,61.7M510.0,93.3C524.1,89.6 537.9,83.8 551.3,76.0M492.4,72.5C501.3,64.7 509.0,53.8 515.2,39.4M495.9,75.2C505.8,67.8 514.8,57.6 522.5,44.0M505.0,85.0C517.7,79.6 529.9,71.9 541.5,61.7M509.7,92.7C523.8,89.0 537.7,83.5 551.3,76.0M495.5,74.7C505.5,67.4 514.5,57.4 522.5,44.0M504.7,84.4C517.4,79.1 529.7,71.6 541.5,61.7M509.4,92.1C523.6,88.5 537.5,83.2 551.3,76.0M504.3,83.9C517.1,78.6 529.5,71.4 541.5,61.7M509.1,91.6C523.3,87.9 537.3,82.8 551.3,76.0M504.0,83.4C516.8,78.1 529.2,71.1 541.5,61.7M508.8,91.0C523.0,87.4 537.1,82.5 551.3,76.0M503.6,83.0C516.4,77.7 528.9,70.8 541.5,61.7M508.5,90.5C522.7,86.9 536.9,82.2 551.3,76.0M512.8,134.9C527.8,141.2 542.4,149.2 556.1,159.8M508.2,90.0C522.4,86.4 536.6,81.9 551.3,76.0M512.7,134.3C527.8,140.6 542.3,148.9 556.1,159.8M511.2,138.6C525.8,145.8 539.6,155.2 552.4,167.6M507.9,89.6C522.1,85.9 536.4,81.7 551.3,76.0M512.6,133.6C527.7,139.9 542.2,148.5 556.1,159.8M511.2,137.9C525.7,145.1 539.6,154.9 552.4,167.6M512.5,133.0C527.5,139.3 542.1,148.1 556.1,159.8M511.1,137.3C525.6,144.5 539.5,154.5 552.4,167.6M512.4,132.3C527.4,138.7 542.0,147.8 556.1,159.8M511.0,136.6C525.5,143.9 539.4,154.1 552.4,167.6M512.3,131.7C527.2,138.1 541.9,147.4 556.1,159.8M510.9,136.0C525.4,143.3 539.3,153.7 552.4,167.6M512.1,131.1C527.0,137.5 541.8,147.1 556.1,159.8M510.8,135.3C525.2,142.7 539.2,153.4 552.4,167.6" fill="none" stroke="#1f4817" stroke-width="0.7" opacity="0.9"/>
<path d="M468.8,85.9C474.7,86.1 481.1,81.5 485.6,72.1M467.7,85.2C474.1,85.3 480.6,80.7 485.2,71.5" fill="none" stroke="#333a15" stroke-width="0.7" opacity="0.9"/>
<path d="M485.6,72.1C490.0,62.7 492.7,48.5 491.2,29.5M485.2,71.5C489.8,62.2 492.5,48.2 491.2,29.5M484.8,70.8C489.5,61.7 492.3,47.9 491.2,29.5M484.4,70.2C489.2,61.1 492.1,47.6 491.2,29.5M484.0,69.6C488.9,60.6 491.8,47.3 491.2,29.5M483.6,69.1C488.6,60.2 491.6,47.0 491.2,29.5M483.1,68.6C488.3,59.7 491.3,46.7 491.2,29.5M482.7,68.1C487.9,59.2 491.0,46.5 491.2,29.5M482.3,67.6C487.5,58.8 490.8,46.2 491.2,29.5" fill="none" stroke="#224c18" stroke-width="0.7" opacity="0.9"/>
<path d="M454.2,71.7C457.3,81.7 463.3,86.9 469.8,87.3M450.8,71.6C455.1,81.3 461.8,86.3 468.8,86.6" fill="none" stroke="#60130f" stroke-width="0.7" opacity="0.9"/>
<path d="M469.8,87.3C476.4,87.7 483.6,83.3 489.3,74.1M468.8,86.6C475.8,86.9 483.2,82.5 489.0,73.4" fill="none" stroke="#5b642c" stroke-width="0.7" opacity="0.9"/>
<path d="M489.3,74.1C495.0,64.9 499.1,50.9 499.5,32.1M489.0,73.4C494.8,64.3 498.9,50.5 499.5,32.1M488.6,72.7C494.5,63.8 498.7,50.2 499.5,32.1M488.2,72.1C494.2,63.2 498.5,49.9 499.5,32.1M487.9,71.5C494.0,62.7 498.3,49.6 499.5,32.1M487.4,70.9C493.7,62.2 498.1,49.3 499.5,32.1M487.0,70.4C493.3,61.7 497.8,49.0 499.5,32.1M512.8,100.1C527.1,97.1 541.5,91.5 555.1,83.8M486.6,69.9C493.0,61.2 497.6,48.7 499.5,32.1M512.6,99.5C527.0,96.5 541.4,91.1 555.1,83.8M486.2,69.4C492.7,60.8 497.3,48.5 499.5,32.1M512.4,98.8C526.8,95.9 541.3,90.8 555.1,83.8M485.7,69.0C492.3,60.4 497.0,48.2 499.5,32.1M512.1,98.1C526.7,95.3 541.2,90.4 555.1,83.8M511.9,97.5C526.5,94.7 541.0,90.1 555.1,83.8M511.6,96.9C526.3,94.1 540.8,89.7 555.1,83.8M511.3,96.3C526.1,93.5 540.7,89.4 555.1,83.8M511.1,95.7C525.8,93.0 540.5,89.1 555.1,83.8M515.0,127.3C530.7,131.6 546.2,136.7 561.2,143.2M510.8,95.1C525.5,92.4 540.3,88.7 555.1,83.8M514.9,126.6C530.6,131.0 546.1,136.3 561.2,143.2M510.5,94.6C525.3,91.9 540.1,88.4 555.1,83.8M514.7,126.0C530.5,130.3 546.1,135.9 561.2,143.2M510.2,94.1C525.0,91.4 539.8,88.1 555.1,83.8M514.6,125.3C530.4,129.7 545.9,135.6 561.2,143.2M509.9,93.6C524.6,90.9 539.6,87.8 555.1,83.8M514.5,124.7C530.2,129.1 545.8,135.2 561.2,143.2M509.6,93.1C524.3,90.4 539.3,87.6 555.1,83.8M514.3,124.1C530.0,128.5 545.7,134.8 561.2,143.2M514.2,123.5C529.8,127.9 545.5,134.5 561.2,143.2M514.0,122.9C529.6,127.3 545.4,134.2 561.2,143.2M513.8,122.3C529.4,126.8 545.2,133.8 561.2,143.2" fill="none" stroke="#598739" stroke-width="0.7" opacity="0.9"/>
<path d="M454.1,72.5C457.4,82.8 463.7,88.2 470.9,88.9M450.8,72.4C455.2,82.4 462.2,87.6 469.8,88.1" fill="none" stroke="#5e120e" stroke-width="0.7" opacity="0.9"/>
<path d="M470.9,88.9C478.0,89.5 486.1,85.3 492.9,76.4M469.8,88.1C477.4,88.7 485.7,84.5 492.6,75.7" fill="none" stroke="#48531f" stroke-width="0.7" opacity="0.9"/>
<path d="M492.9,76.4C499.8,67.5 505.3,53.8 507.5,35.4M492.6,75.7C499.6,66.9 505.2,53.4 507.5,35.4M492.3,75.0C499.3,66.3 505.0,53.1 507.5,35.4M491.9,74.3C499.1,65.8 504.8,52.8 507.5,35.4M491.6,73.7C498.8,65.2 504.6,52.4 507.5,35.4M491.2,73.1C498.5,64.7 504.4,52.1 507.5,35.4M490.8,72.6C498.2,64.2 504.2,51.8 507.5,35.4M490.4,72.0C497.9,63.7 503.9,51.5 507.5,35.4M490.0,71.5C497.6,63.2 503.7,51.3 507.5,35.4M489.6,71.0C497.2,62.7 503.4,51.0 507.5,35.4M489.1,70.6C496.9,62.3 503.1,50.7 507.5,35.4" fill="none" stroke="#3f6f26" stroke-width="0.7" opacity="0.9"/>
<path d="M450.6,75.2C455.4,86.0 463.3,92.0 472.6,93.4" fill="none" stroke="#5f130e" stroke-width="0.7" opacity="0.9"/>
<path d="M472.6,93.4C481.8,94.9 492.4,91.8 502.4,84.4" fill="none" stroke="#545d27" stroke-width="0.7" opacity="0.9"/>
<path d="M502.4,84.4C512.5,77.0 522.1,65.2 529.4,49.4M502.2,83.7C512.3,76.4 522.0,64.9 529.4,49.4M501.9,82.9C512.2,75.8 521.8,64.5 529.4,49.4M501.6,82.3C512.0,75.2 521.7,64.2 529.4,49.4M501.3,81.6C511.8,74.6 521.5,63.8 529.4,49.4M501.0,81.0C511.5,74.0 521.3,63.5 529.4,49.4M500.6,80.3C511.3,73.5 521.1,63.2 529.4,49.4M500.3,79.8C511.0,72.9 520.9,62.8 529.4,49.4M515.0,107.6C530.3,106.6 545.7,104.0 560.7,100.2M499.9,79.2C510.7,72.4 520.7,62.5 529.4,49.4M514.8,106.9C530.2,106.0 545.6,103.6 560.7,100.2M499.5,78.7C510.4,71.9 520.5,62.2 529.4,49.4M514.6,106.3C530.0,105.4 545.5,103.2 560.7,100.2M499.2,78.2C510.1,71.4 520.2,61.9 529.4,49.4M514.4,105.6C529.9,104.8 545.4,102.9 560.7,100.2M498.8,77.7C509.8,70.9 520.0,61.7 529.4,49.4M514.2,105.0C529.7,104.2 545.3,102.5 560.7,100.2M498.4,77.2C509.4,70.5 519.7,61.4 529.4,49.4M514.0,104.4C529.5,103.6 545.1,102.2 560.7,100.2M513.7,103.8C529.3,103.0 544.9,101.8 560.7,100.2M513.5,103.2C529.1,102.5 544.8,101.5 560.7,100.2M513.2,102.7C528.8,101.9 544.6,101.2 560.7,100.2M512.9,102.1C528.5,101.4 544.3,100.9 560.7,100.2M512.7,101.6C528.2,100.9 544.1,100.6 560.7,100.2M512.4,101.1C527.9,100.4 543.9,100.3 560.7,100.2M512.1,100.6C527.6,99.9 543.6,100.0 560.7,100.2" fill="none" stroke="#4f7d31" stroke-width="0.7" opacity="0.9"/>
<path d="M439.0,30.5C439.4,47.9 443.0,60.9 447.9,69.6M439.0,30.5C439.2,48.2 442.7,61.5 447.8,70.3M439.0,30.5C439.0,48.5 442.5,62.0 447.7,71.1M439.0,30.5C438.7,48.8 442.2,62.6 447.6,71.9M439.0,30.5C438.5,49.2 441.9,63.2 447.5,72.7M439.0,30.5C438.3,49.5 441.7,63.8 447.4,73.6M439.0,30.5C438.2,49.8 441.5,64.4 447.3,74.5M439.0,30.5C438.0,50.2 441.3,65.1 447.2,75.4M439.0,30.5C437.9,50.6 441.1,65.7 447.2,76.3M431.1,33.3C433.7,49.8 438.8,62.1 444.8,70.2M431.1,33.3C433.4,50.0 438.5,62.6 444.6,70.9M431.1,33.3C433.2,50.3 438.2,63.2 444.5,71.6M431.1,33.3C432.9,50.7 437.9,63.7 444.4,72.4M431.1,33.3C432.7,51.0 437.7,64.3 444.3,73.2M431.1,33.3C432.5,51.3 437.4,64.9 444.2,74.1M431.1,33.3C432.3,51.7 437.2,65.5 444.1,75.0M431.1,33.3C432.2,52.0 437.0,66.2 444.0,75.9M431.1,33.3C432.0,52.4 436.8,66.8 444.0,76.8M431.1,33.3C431.9,52.7 436.6,67.5 443.9,77.8M423.4,36.8C428.1,52.1 434.8,63.6 441.7,71.1M423.4,36.8C427.9,52.4 434.4,64.1 441.6,71.8M423.4,36.8C427.6,52.7 434.1,64.7 441.5,72.5M423.4,36.8C427.4,53.0 433.8,65.2 441.3,73.3M423.4,36.8C427.1,53.3 433.5,65.8 441.2,74.1M423.4,36.8C426.9,53.7 433.3,66.4 441.1,74.9M423.4,36.8C426.7,54.0 433.0,67.0 441.0,75.8M423.4,36.8C426.5,54.3 432.8,67.6 440.9,76.7M423.4,36.8C426.4,54.7 432.6,68.2 440.8,77.6M423.4,36.8C426.2,55.0 432.4,68.9 440.8,78.6M423.4,36.8C426.1,55.4 432.2,69.5 440.7,79.6" fill="none" stroke="#6d1111" stroke-width="0.7" opacity="0.9"/>
<path d="M447.9,69.6C452.8,78.2 458.9,82.4 464.4,82.2M447.8,70.3C452.8,79.1 459.4,83.5 465.5,83.3M447.4,73.6C453.1,83.3 461.1,88.5 469.7,89.1M447.3,74.5C453.2,84.5 461.5,89.9 470.7,90.9M447.2,76.3C453.3,86.9 462.2,93.0 472.3,94.7M444.8,70.2C450.7,78.3 457.4,82.2 463.3,81.8M444.6,70.9C450.7,79.2 457.9,83.2 464.4,82.9M444.2,74.1C451.0,83.3 459.7,88.1 468.7,88.6M444.1,75.0C451.0,84.5 460.1,89.5 469.7,90.3M444.0,76.8C451.1,86.9 460.7,92.5 471.3,94.1M443.9,77.8C451.2,88.2 461.0,94.1 472.1,96.1M441.7,71.1C448.7,78.6 456.0,82.1 462.2,81.5M441.6,71.8C448.7,79.5 456.5,83.1 463.4,82.5M441.1,74.9C449.0,83.5 458.3,87.9 467.7,88.1M441.0,75.8C449.0,84.6 458.7,89.3 468.7,89.8M440.8,77.6C449.1,87.0 459.3,92.3 470.4,93.5M440.8,78.6C449.1,88.3 459.6,93.8 471.1,95.5" fill="none" stroke="#681411" stroke-width="0.7" opacity="0.9"/>
<path d="M464.4,82.2C469.8,82.0 474.6,77.3 476.9,68.0M472.3,94.7C482.5,96.4 493.9,93.8 505.0,87.1M463.3,81.8C469.1,81.4 474.1,76.6 476.5,67.5M471.3,94.1C481.9,95.6 493.5,92.9 504.7,86.4M462.2,81.5C468.5,80.8 473.5,76.0 476.0,67.0M470.4,93.5C481.4,94.8 493.2,92.1 504.5,85.7" fill="none" stroke="#333615" stroke-width="0.7" opacity="0.9"/>
<path d="M465.5,83.3C471.6,83.2 477.4,78.5 480.9,69.3M469.7,89.1C478.4,89.8 487.6,85.9 495.8,77.6M470.7,90.9C479.9,91.8 489.9,88.3 499.1,80.5M464.4,82.9C471.0,82.5 476.9,77.8 480.5,68.7M468.7,88.6C477.8,89.0 487.2,85.1 495.4,76.9M469.7,90.3C479.3,91.1 489.5,87.5 498.8,79.8M472.1,96.1C483.1,98.0 495.3,95.9 507.3,90.1M463.4,82.5C470.3,82.0 476.3,77.2 480.1,68.1M467.7,88.1C477.2,88.3 486.7,84.4 495.1,76.3M468.7,89.8C478.7,90.3 489.0,86.8 498.5,79.1M471.1,95.5C482.6,97.2 495.0,95.1 507.1,89.3" fill="none" stroke="#353915" stroke-width="0.7" opacity="0.9"/>
<path d="M447.7,71.1C452.9,80.1 459.8,84.6 466.6,84.6M444.5,71.6C450.8,80.1 458.4,84.3 465.6,84.1M441.5,72.5C448.8,80.4 457.0,84.2 464.5,83.7" fill="none" stroke="#681511" stroke-width="0.7" opacity="0.9"/>
<path d="M466.6,84.6C473.4,84.6 480.1,80.0 484.8,70.8M465.6,84.1C472.8,83.9 479.6,79.3 484.4,70.2M464.5,83.7C472.1,83.3 479.1,78.6 484.0,69.6" fill="none" stroke="#373b16" stroke-width="0.7" opacity="0.9"/>
<path d="M447.6,71.9C453.0,81.1 460.3,85.8 467.7,86.0M444.4,72.4C450.9,81.1 458.8,85.5 466.7,85.5M441.3,73.3C448.9,81.4 457.4,85.3 465.6,85.1" fill="none" stroke="#6c1813" stroke-width="0.7" opacity="0.9"/>
<path d="M467.7,86.0C475.1,86.1 482.7,81.7 488.6,72.7M466.7,85.5C474.5,85.4 482.2,81.0 488.2,72.1M465.6,85.1C473.9,84.8 481.7,80.3 487.9,71.5" fill="none" stroke="#5f662e" stroke-width="0.7" opacity="0.9"/>
<path d="M447.5,72.7C453.0,82.2 460.7,87.1 468.8,87.5M444.3,73.2C450.9,82.2 459.3,86.8 467.7,87.0M441.2,74.1C448.9,82.4 457.9,86.6 466.7,86.5" fill="none" stroke="#6a1712" stroke-width="0.7" opacity="0.9"/>
<path d="M468.8,87.5C476.8,87.9 485.2,83.7 492.3,75.0M467.7,87.0C476.2,87.1 484.8,82.9 491.9,74.3M466.7,86.5C475.6,86.5 484.3,82.2 491.6,73.7" fill="none" stroke="#4c5520" stroke-width="0.7" opacity="0.9"/>
<path d="M447.2,75.4C453.2,85.7 461.8,91.4 471.5,92.7M444.0,75.9C451.1,85.6 460.4,91.0 470.5,92.1M440.9,76.7C449.1,85.8 459.0,90.7 469.6,91.6" fill="none" stroke="#6b1813" stroke-width="0.7" opacity="0.9"/>
<path d="M471.5,92.7C481.2,94.0 492.0,90.9 502.2,83.7M470.5,92.1C480.7,93.2 491.6,90.1 501.9,82.9M469.6,91.6C480.1,92.5 491.2,89.3 501.6,82.3" fill="none" stroke="#575f28" stroke-width="0.7" opacity="0.9"/>
<path d="M440.7,79.6C449.1,89.6 459.9,95.5 471.7,97.6" fill="none" stroke="#6a1612" stroke-width="0.7" opacity="0.9"/>
<path d="M471.7,97.6C483.6,99.8 496.5,98.2 509.4,93.2" fill="none" stroke="#444b1c" stroke-width="0.7" opacity="0.9"/>
<path d="M509.4,93.2C522.3,88.3 535.1,80.0 546.7,68.7M509.2,92.5C522.2,87.7 535.0,79.6 546.7,68.7M509.0,91.8C522.0,87.1 534.9,79.2 546.7,68.7M508.7,91.2C521.9,86.5 534.8,78.9 546.7,68.7M508.4,90.5C521.7,85.9 534.6,78.5 546.7,68.7M508.1,89.9C521.5,85.3 534.5,78.2 546.7,68.7M515.6,111.5C531.2,111.6 547.0,110.4 562.4,108.7M507.8,89.3C521.2,84.7 534.3,77.9 546.7,68.7M515.5,110.8C531.1,110.9 546.9,110.1 562.4,108.7M507.5,88.7C521.0,84.2 534.1,77.5 546.7,68.7M515.3,110.2C531.0,110.3 546.8,109.7 562.4,108.7M507.2,88.2C520.7,83.6 533.9,77.2 546.7,68.7M515.1,109.5C530.9,109.7 546.7,109.3 562.4,108.7M506.9,87.6C520.4,83.1 533.6,76.9 546.7,68.7M514.9,108.9C530.7,109.1 546.5,109.0 562.4,108.7M506.5,87.1C520.1,82.6 533.4,76.6 546.7,68.7M514.7,108.3C530.5,108.5 546.4,108.6 562.4,108.7M506.2,86.7C519.8,82.1 533.2,76.3 546.7,68.7M514.4,107.7C530.3,107.9 546.2,108.3 562.4,108.7M505.9,86.2C519.4,81.7 532.9,76.1 546.7,68.7M514.2,107.1C530.0,107.4 546.0,108.0 562.4,108.7M514.0,106.5C529.8,106.8 545.8,107.6 562.4,108.7M513.7,106.0C529.5,106.3 545.6,107.3 562.4,108.7M513.5,105.5C529.2,105.8 545.4,107.0 562.4,108.7M513.2,105.0C528.9,105.3 545.2,106.7 562.4,108.7M512.9,104.5C528.6,104.8 544.9,106.4 562.4,108.7" fill="none" stroke="#346220" stroke-width="0.7" opacity="0.9"/>
<path d="M416.0,40.9C422.9,55.0 430.9,65.6 438.8,72.4M416.0,40.9C422.6,55.3 430.5,66.1 438.7,73.0M416.0,40.9C422.3,55.6 430.2,66.6 438.6,73.7M416.0,40.9C422.1,55.9 429.9,67.1 438.4,74.5M416.0,40.9C421.8,56.2 429.6,67.7 438.3,75.3M416.0,40.9C421.6,56.5 429.4,68.2 438.2,76.1M416.0,40.9C421.4,56.8 429.1,68.8 438.1,76.9M416.0,40.9C421.2,57.2 428.9,69.4 438.0,77.8M416.0,40.9C421.0,57.5 428.6,70.1 437.9,78.7M416.0,40.9C420.8,57.9 428.4,70.7 437.8,79.7M416.0,40.9C420.7,58.2 428.2,71.3 437.7,80.6M416.0,40.9C420.5,58.6 428.1,72.0 437.6,81.6M370.6,117.5C388.3,112.9 404.8,109.4 420.3,106.2M370.6,117.5C388.1,113.2 404.5,109.9 420.1,107.0M370.6,117.5C387.8,113.5 404.2,110.4 419.9,107.9M370.6,117.5C387.6,113.8 403.9,111.0 419.7,108.7M370.6,117.5C387.4,114.1 403.6,111.6 419.6,109.6M370.6,117.5C387.2,114.4 403.4,112.2 419.4,110.5M370.6,117.5C387.0,114.8 403.1,112.8 419.2,111.5M370.6,117.5C386.8,115.1 402.9,113.4 419.0,112.4M370.6,117.5C386.6,115.5 402.7,114.1 418.8,113.4M370.6,117.5C386.5,115.9 402.6,114.7 418.6,114.4M370.6,117.5C386.4,116.2 402.4,115.4 418.5,115.4M370.6,117.5C386.3,116.6 402.3,116.1 418.3,116.4M370.6,117.5C386.2,117.0 402.1,116.7 418.1,117.5" fill="none" stroke="#731313" stroke-width="0.7" opacity="0.9"/>
<path d="M438.8,72.4C446.8,79.2 454.7,82.2 461.2,81.3M438.7,73.0C446.8,80.0 455.2,83.2 462.4,82.3M438.6,73.7C446.9,80.9 455.6,84.2 463.5,83.5M438.2,76.1C447.0,83.9 456.9,87.8 466.7,87.8M438.1,76.9C447.1,85.0 457.3,89.2 467.7,89.4M437.9,78.7C447.1,87.4 458.0,92.1 469.4,93.1M437.8,79.7C447.2,88.6 458.3,93.7 470.2,95.1M437.6,81.6C447.2,91.2 458.8,97.0 471.4,99.3M420.1,107.0C435.8,104.2 450.7,101.8 465.2,99.1M419.0,112.4C435.1,111.5 451.1,111.2 467.1,111.8M418.8,113.4C434.9,112.8 451.0,112.9 467.0,114.1M418.3,116.4C434.3,116.8 450.4,118.1 466.2,120.9M418.1,117.5C434.1,118.2 450.1,119.9 465.7,123.2" fill="none" stroke="#6e1613" stroke-width="0.7" opacity="0.9"/>
<path d="M461.2,81.3C467.8,80.4 473.0,75.5 475.6,66.5M469.4,93.1C480.8,94.1 492.8,91.4 504.2,85.0M460.3,81.2C467.1,80.0 472.4,75.0 475.1,66.0M468.5,92.8C480.3,93.5 492.4,90.6 503.9,84.3M467.7,92.6C479.8,92.9 492.0,89.9 503.6,83.7M467.1,111.8C483.1,112.4 499.1,113.9 515.1,116.2M467.0,114.1C483.1,115.3 499.1,117.4 515.0,120.8" fill="none" stroke="#353615" stroke-width="0.7" opacity="0.9"/>
<path d="M462.4,82.3C469.6,81.5 475.8,76.6 479.6,67.6M466.7,87.8C476.6,87.7 486.3,83.7 494.7,75.6M467.7,89.4C478.1,89.7 488.6,86.0 498.1,78.5M470.2,95.1C482.0,96.5 494.6,94.3 506.8,88.6M471.4,99.3C484.0,101.7 497.6,100.6 511.3,96.6M465.2,99.1C479.8,96.5 494.0,93.7 508.2,90.0M466.2,120.9C482.0,123.7 497.6,128.0 512.7,134.3M465.7,123.2C481.4,126.5 496.6,131.4 511.2,138.6" fill="none" stroke="#373916" stroke-width="0.7" opacity="0.9"/>
<path d="M463.5,83.5C471.5,82.8 478.6,78.0 483.6,69.1" fill="none" stroke="#393c17" stroke-width="0.7" opacity="0.9"/>
<path d="M438.4,74.5C446.9,81.8 456.1,85.3 464.7,84.8M419.9,107.9C435.7,105.3 450.9,103.2 465.8,101.1M419.7,108.7C435.6,106.5 451.0,104.7 466.3,103.1M419.2,111.5C435.2,110.2 451.1,109.6 467.1,109.6M418.6,114.4C434.7,114.1 450.8,114.7 466.9,116.4M418.5,115.4C434.5,115.5 450.6,116.4 466.6,118.7" fill="none" stroke="#711a15" stroke-width="0.7" opacity="0.9"/>
<path d="M464.7,84.8C473.2,84.2 481.2,79.7 487.4,70.9M465.8,101.1C480.7,99.0 495.4,96.8 510.2,94.1M466.9,116.4C482.9,118.1 498.8,121.0 514.6,125.3" fill="none" stroke="#60662e" stroke-width="0.7" opacity="0.9"/>
<path d="M438.3,75.3C447.0,82.8 456.5,86.5 465.7,86.2" fill="none" stroke="#701914" stroke-width="0.7" opacity="0.9"/>
<path d="M465.7,86.2C474.9,85.9 483.8,81.6 491.2,73.1M464.8,86.0C474.3,85.4 483.3,80.9 490.8,72.6M463.9,85.9C473.7,84.9 482.8,80.4 490.4,72.0" fill="none" stroke="#4e5521" stroke-width="0.7" opacity="0.9"/>
<path d="M438.0,77.8C447.1,86.2 457.7,90.6 468.6,91.2M419.6,109.6C435.5,107.7 451.1,106.3 466.6,105.2" fill="none" stroke="#711915" stroke-width="0.7" opacity="0.9"/>
<path d="M468.6,91.2C479.5,91.8 490.8,88.6 501.3,81.6M466.6,105.2C482.2,104.2 497.6,103.4 513.2,102.7" fill="none" stroke="#595f29" stroke-width="0.7" opacity="0.9"/>
<path d="M437.7,80.6C447.2,89.9 458.6,95.3 470.8,97.2M420.3,106.2C435.8,103.1 450.5,100.4 464.6,97.3M419.4,110.5C435.4,108.9 451.2,107.9 466.9,107.4" fill="none" stroke="#6f1814" stroke-width="0.7" opacity="0.9"/>
<path d="M470.8,97.2C483.1,99.0 496.2,97.4 509.2,92.5M464.6,97.3C478.7,94.2 492.3,90.7 505.9,86.2M466.9,107.4C482.6,106.9 498.3,106.8 514.2,107.1" fill="none" stroke="#464c1c" stroke-width="0.7" opacity="0.9"/>
<path d="M409.1,45.6C417.9,58.4 427.2,67.9 436.1,73.9M409.1,45.6C417.6,58.6 426.9,68.4 436.0,74.5M409.1,45.6C417.3,58.9 426.6,68.8 435.8,75.2M409.1,45.6C417.0,59.2 426.2,69.4 435.7,75.9M409.1,45.6C416.8,59.5 425.9,69.9 435.6,76.7M409.1,45.6C416.5,59.8 425.7,70.5 435.4,77.5M409.1,45.6C416.3,60.1 425.4,71.0 435.3,78.3M409.1,45.6C416.1,60.5 425.1,71.6 435.2,79.2M409.1,45.6C415.9,60.8 424.9,72.2 435.1,80.1M409.1,45.6C415.7,61.1 424.7,72.9 435.0,81.0M409.1,45.6C415.6,61.5 424.5,73.5 434.9,81.9M409.1,45.6C415.4,61.9 424.3,74.2 434.8,82.9M409.1,45.6C415.3,62.2 424.1,74.8 434.7,83.9M402.6,51.0C412.9,62.4 423.5,71.0 433.4,76.3M402.6,51.0C412.6,62.7 423.2,71.5 433.3,77.0M402.6,51.0C412.4,63.0 422.8,72.0 433.1,77.6M402.6,51.0C412.1,63.3 422.5,72.5 433.0,78.4M402.6,51.0C411.8,63.6 422.2,73.0 432.9,79.1M402.6,51.0C411.6,63.9 421.9,73.6 432.7,80.0M402.6,51.0C411.4,64.2 421.7,74.2 432.6,80.8M402.6,51.0C411.2,64.5 421.4,74.8 432.5,81.7M402.6,51.0C411.0,64.9 421.2,75.4 432.4,82.6M402.6,51.0C410.8,65.2 421.0,76.0 432.3,83.5M402.6,51.0C410.7,65.6 420.8,76.6 432.2,84.5M402.6,51.0C410.5,65.9 420.6,77.3 432.1,85.5M402.6,51.0C410.4,66.3 420.4,78.0 432.0,86.5" fill="none" stroke="#761414" stroke-width="0.7" opacity="0.9"/>
<path d="M436.1,73.9C445.0,79.9 453.4,82.5 460.3,81.2M436.0,74.5C445.1,80.7 453.9,83.4 461.4,82.2M435.8,75.2C445.1,81.6 454.4,84.4 462.6,83.3M435.4,77.5C445.2,84.5 455.7,87.9 465.8,87.5M435.3,78.3C445.3,85.6 456.1,89.2 466.8,89.2M435.1,80.1C445.3,87.9 456.8,92.1 468.5,92.8M435.0,81.0C445.3,89.1 457.0,93.7 469.3,94.8M434.8,82.9C445.3,91.7 457.5,96.9 470.5,98.9M433.4,76.3C443.4,81.6 452.7,83.7 460.5,82.2M433.3,77.0C443.4,82.4 453.2,84.7 461.7,83.3M432.9,79.1C443.5,85.3 454.5,88.1 464.9,87.4M432.7,80.0C443.6,86.3 454.9,89.4 465.9,89.0M432.5,81.7C443.6,88.6 455.6,92.2 467.7,92.6M432.4,82.6C443.6,89.8 455.9,93.7 468.4,94.5M432.2,84.5C443.6,92.3 456.3,97.0 469.7,98.6" fill="none" stroke="#711714" stroke-width="0.7" opacity="0.9"/>
<path d="M461.4,82.2C469.0,81.1 475.3,76.1 479.2,67.1M465.8,87.5C476.0,87.1 485.8,83.0 494.4,75.0M466.8,89.2C477.5,89.1 488.2,85.4 497.8,77.9M469.3,94.8C481.5,95.9 494.2,93.5 506.6,88.0M470.5,98.9C483.5,101.0 497.3,99.8 511.0,95.9M460.5,82.2C468.4,80.7 474.7,75.6 478.7,66.7M464.9,87.4C475.4,86.6 485.3,82.4 494.0,74.5M465.9,89.0C477.0,88.6 487.7,84.7 497.4,77.3M468.4,94.5C481.0,95.3 493.8,92.8 506.3,87.3M469.7,98.6C483.0,100.3 497.0,99.1 510.8,95.2" fill="none" stroke="#383916" stroke-width="0.7" opacity="0.9"/>
<path d="M462.6,83.3C470.8,82.3 478.0,77.5 483.1,68.6M461.7,83.3C470.2,81.9 477.5,77.0 482.7,68.1" fill="none" stroke="#3a3c17" stroke-width="0.7" opacity="0.9"/>
<path d="M435.7,75.9C445.1,82.5 454.8,85.4 463.7,84.6M434.7,83.9C445.3,93.0 457.7,98.6 471.0,101.1M433.1,77.6C443.5,83.3 453.6,85.7 462.8,84.5M432.1,85.5C443.6,93.7 456.5,98.6 470.2,100.8M432.0,86.5C443.5,95.0 456.6,100.3 470.6,103.1" fill="none" stroke="#741b16" stroke-width="0.7" opacity="0.9"/>
<path d="M463.7,84.6C472.6,83.7 480.7,79.1 487.0,70.4M471.0,101.1C484.3,103.7 498.5,103.2 512.8,100.1M462.8,84.5C472.0,83.3 480.2,78.5 486.6,69.9M470.2,100.8C483.8,103.0 498.2,102.4 512.6,99.5" fill="none" stroke="#61672f" stroke-width="0.7" opacity="0.9"/>
<path d="M435.6,76.7C445.2,83.5 455.3,86.6 464.8,86.0M433.0,78.4C443.5,84.3 454.1,86.9 463.9,85.9" fill="none" stroke="#731a15" stroke-width="0.7" opacity="0.9"/>
<path d="M435.2,79.2C445.3,86.7 456.4,90.6 467.7,90.9M432.6,80.8C443.6,87.4 455.2,90.8 466.8,90.7" fill="none" stroke="#741a16" stroke-width="0.7" opacity="0.9"/>
<path d="M467.7,90.9C479.0,91.2 490.4,87.9 501.0,81.0M466.8,90.7C478.4,90.7 489.9,87.2 500.6,80.3" fill="none" stroke="#5a5f29" stroke-width="0.7" opacity="0.9"/>
<path d="M434.9,81.9C445.3,90.4 457.3,95.2 469.9,96.8M432.3,83.5C443.6,91.1 456.1,95.3 469.1,96.5" fill="none" stroke="#721915" stroke-width="0.7" opacity="0.9"/>
<path d="M469.9,96.8C482.6,98.4 495.9,96.6 509.0,91.8M469.1,96.5C482.1,97.7 495.5,95.9 508.7,91.2" fill="none" stroke="#474c1d" stroke-width="0.7" opacity="0.9"/>
<path d="M470.6,103.1C484.5,105.8 499.2,105.9 514.1,103.8" fill="none" stroke="#5e632c" stroke-width="0.7" opacity="0.9"/>
<path d="M514.1,103.8C528.9,101.8 543.9,97.6 558.3,91.9M513.9,103.1C528.8,101.2 543.8,97.3 558.3,91.9M513.6,102.5C528.7,100.6 543.7,96.9 558.3,91.9M513.4,101.8C528.5,100.0 543.6,96.6 558.3,91.9M515.9,115.5C531.8,116.6 547.7,117.0 563.2,117.3M513.2,101.2C528.3,99.4 543.4,96.2 558.3,91.9M515.8,114.8C531.7,115.9 547.6,116.6 563.2,117.3M512.9,100.6C528.1,98.8 543.3,95.9 558.3,91.9M515.6,114.1C531.5,115.3 547.5,116.3 563.2,117.3M512.7,100.0C527.9,98.2 543.1,95.5 558.3,91.9M515.4,113.5C531.4,114.7 547.4,115.9 563.2,117.3M512.4,99.4C527.6,97.6 542.9,95.2 558.3,91.9M515.2,112.8C531.2,114.1 547.2,115.5 563.2,117.3M514.0,131.2C529.5,136.5 544.6,143.0 559.0,151.6M512.1,98.8C527.4,97.1 542.7,94.9 558.3,91.9M515.0,112.2C531.0,113.5 547.1,115.2 563.2,117.3M513.9,130.5C529.4,135.8 544.5,142.7 559.0,151.6M511.9,98.3C527.1,96.6 542.5,94.6 558.3,91.9M514.8,111.6C530.8,112.9 546.9,114.9 563.2,117.3M513.8,129.9C529.3,135.2 544.4,142.3 559.0,151.6M511.6,97.8C526.8,96.1 542.3,94.3 558.3,91.9M514.6,111.1C530.6,112.4 546.7,114.5 563.2,117.3M513.7,129.2C529.2,134.6 544.3,141.9 559.0,151.6M511.3,97.3C526.5,95.6 542.0,94.0 558.3,91.9M514.4,110.5C530.4,111.8 546.6,114.2 563.2,117.3M513.6,128.6C529.0,134.0 544.2,141.6 559.0,151.6M511.0,96.8C526.2,95.1 541.8,93.7 558.3,91.9M514.2,109.9C530.1,111.3 546.4,113.9 563.2,117.3M513.4,127.9C528.8,133.4 544.1,141.2 559.0,151.6M513.9,109.4C529.8,110.7 546.1,113.6 563.2,117.3M513.3,127.3C528.7,132.8 543.9,140.9 559.0,151.6M513.7,108.9C529.5,110.2 545.9,113.3 563.2,117.3M513.1,126.7C528.4,132.2 543.8,140.5 559.0,151.6" fill="none" stroke="#548235" stroke-width="0.7" opacity="0.9"/>
<path d="M396.6,56.8C408.3,66.9 420.0,74.4 431.0,78.9M396.6,56.8C408.1,67.2 419.7,74.9 430.8,79.6M396.6,56.8C407.8,67.4 419.4,75.4 430.7,80.3M396.6,56.8C407.5,67.7 419.0,75.9 430.5,81.1M396.6,56.8C407.3,68.0 418.8,76.4 430.4,81.9M396.6,56.8C407.0,68.4 418.5,77.0 430.3,82.7M396.6,56.8C406.8,68.7 418.2,77.6 430.1,83.5M396.6,56.8C406.6,69.0 418.0,78.2 430.0,84.4M396.6,56.8C406.4,69.4 417.7,78.8 429.9,85.4M396.6,56.8C406.3,69.7 417.5,79.4 429.8,86.3M396.6,56.8C406.1,70.1 417.3,80.1 429.7,87.3M396.6,56.8C406.0,70.4 417.2,80.8 429.6,88.3M396.6,56.8C405.8,70.8 417.0,81.4 429.4,89.3M391.1,63.2C404.2,71.7 416.9,78.1 428.7,81.8M391.1,63.2C403.9,72.0 416.5,78.6 428.5,82.5M391.1,63.2C403.6,72.3 416.2,79.1 428.4,83.2M391.1,63.2C403.3,72.6 415.9,79.6 428.3,84.0M391.1,63.2C403.1,72.9 415.6,80.2 428.1,84.8M391.1,63.2C402.9,73.2 415.3,80.7 428.0,85.6M391.1,63.2C402.7,73.5 415.1,81.3 427.9,86.5M391.1,63.2C402.5,73.9 414.8,81.9 427.7,87.4M391.1,63.2C402.3,74.2 414.6,82.5 427.6,88.3M391.1,63.2C402.1,74.6 414.4,83.2 427.5,89.3M391.1,63.2C402.0,74.9 414.2,83.8 427.4,90.3M391.1,63.2C401.8,75.3 414.0,84.5 427.2,91.3M391.1,63.2C401.7,75.7 413.9,85.2 427.1,92.3M386.2,70.1C400.4,76.9 414.0,82.0 426.7,84.9M386.2,70.1C400.1,77.2 413.7,82.5 426.5,85.6M386.2,70.1C399.9,77.5 413.4,83.0 426.4,86.3M386.2,70.1C399.6,77.8 413.1,83.6 426.2,87.1M386.2,70.1C399.4,78.1 412.8,84.1 426.1,87.9M386.2,70.1C399.1,78.4 412.5,84.7 425.9,88.8M386.2,70.1C398.9,78.7 412.2,85.3 425.8,89.7M386.2,70.1C398.7,79.1 412.0,85.9 425.7,90.6M386.2,70.1C398.6,79.4 411.8,86.5 425.5,91.5M386.2,70.1C398.4,79.8 411.6,87.2 425.4,92.5M386.2,70.1C398.2,80.1 411.4,87.8 425.3,93.5M386.2,70.1C398.1,80.5 411.2,88.5 425.2,94.5M386.2,70.1C398.0,80.9 411.1,89.2 425.0,95.5M381.9,77.3C397.1,82.4 411.5,86.2 424.9,88.1M381.9,77.3C396.8,82.7 411.2,86.7 424.8,88.8M381.9,77.3C396.6,83.0 410.9,87.2 424.6,89.6M381.9,77.3C396.3,83.3 410.6,87.8 424.5,90.4M381.9,77.3C396.1,83.6 410.3,88.3 424.3,91.2M381.9,77.3C395.9,83.9 410.0,88.9 424.2,92.1M381.9,77.3C395.7,84.2 409.8,89.5 424.0,93.0M381.9,77.3C395.5,84.6 409.5,90.1 423.9,93.9M381.9,77.3C395.3,84.9 409.3,90.7 423.7,94.9M381.9,77.3C395.1,85.3 409.1,91.4 423.6,95.9M381.9,77.3C395.0,85.6 408.9,92.0 423.5,96.9M381.9,77.3C394.9,86.0 408.8,92.7 423.3,97.9M381.9,77.3C394.7,86.4 408.6,93.4 423.2,98.9M378.2,84.9C394.3,88.2 409.4,90.6 423.4,91.5M378.2,84.9C394.0,88.4 409.1,91.1 423.3,92.3M378.2,84.9C393.8,88.7 408.7,91.6 423.1,93.0M378.2,84.9C393.5,89.0 408.5,92.1 422.9,93.9M378.2,84.9C393.3,89.4 408.2,92.7 422.8,94.7M378.2,84.9C393.1,89.7 407.9,93.3 422.6,95.6M378.2,84.9C392.9,90.0 407.7,93.9 422.5,96.5M378.2,84.9C392.7,90.3 407.4,94.5 422.3,97.4M378.2,84.9C392.5,90.7 407.2,95.1 422.2,98.4M378.2,84.9C392.4,91.1 407.0,95.8 422.0,99.4M378.2,84.9C392.2,91.4 406.8,96.4 421.9,100.4M378.2,84.9C392.1,91.8 406.7,97.1 421.8,101.4M378.2,84.9C392.0,92.2 406.6,97.8 421.6,102.4M375.2,92.8C392.0,94.1 407.6,95.1 422.2,95.1M375.2,92.8C391.8,94.4 407.3,95.6 422.0,95.8M375.2,92.8C391.5,94.7 407.0,96.2 421.9,96.6M375.2,92.8C391.3,95.0 406.7,96.7 421.7,97.4M375.2,92.8C391.0,95.3 406.4,97.3 421.5,98.3M375.2,92.8C390.8,95.7 406.2,97.9 421.4,99.2M375.2,92.8C390.6,96.0 405.9,98.5 421.2,100.1M375.2,92.8C390.4,96.3 405.7,99.1 421.1,101.1M375.2,92.8C390.2,96.7 405.5,99.7 420.9,102.0M375.2,92.8C390.1,97.0 405.3,100.4 420.8,103.0M375.2,92.8C390.0,97.4 405.1,101.0 420.6,104.0M375.2,92.8C389.8,97.8 405.0,101.7 420.5,105.0M375.2,92.8C389.7,98.2 404.8,102.4 420.3,106.1M372.9,100.9C390.3,100.3 406.3,99.8 421.3,98.7M372.9,100.9C390.0,100.6 406.0,100.3 421.1,99.5M372.9,100.9C389.7,100.9 405.7,100.8 420.9,100.3M372.9,100.9C389.5,101.2 405.4,101.4 420.8,101.1M372.9,100.9C389.3,101.5 405.1,102.0 420.6,102.0M372.9,100.9C389.0,101.8 404.8,102.5 420.4,102.9M372.9,100.9C388.9,102.1 404.6,103.1 420.3,103.8M372.9,100.9C388.7,102.5 404.4,103.8 420.1,104.8M372.9,100.9C388.5,102.8 404.2,104.4 419.9,105.8M372.9,100.9C388.4,103.2 404.0,105.1 419.8,106.8M372.9,100.9C388.2,103.6 403.8,105.7 419.6,107.8M372.9,100.9C388.1,103.9 403.7,106.4 419.4,108.8M372.9,100.9C388.0,104.3 403.5,107.1 419.3,109.8M371.4,109.1C389.0,106.5 405.3,104.6 420.6,102.5M371.4,109.1C388.8,106.8 405.0,105.1 420.5,103.2M371.4,109.1C388.5,107.1 404.7,105.6 420.3,104.1M371.4,109.1C388.3,107.4 404.4,106.2 420.1,104.9M371.4,109.1C388.0,107.8 404.2,106.7 419.9,105.8M371.4,109.1C387.8,108.1 403.9,107.3 419.8,106.7M371.4,109.1C387.6,108.4 403.7,107.9 419.6,107.6M371.4,109.1C387.5,108.8 403.4,108.6 419.4,108.6M371.4,109.1C387.3,109.1 403.2,109.2 419.2,109.6M371.4,109.1C387.1,109.5 403.1,109.9 419.1,110.6M371.4,109.1C387.0,109.9 402.9,110.5 418.9,111.6M371.4,109.1C386.9,110.2 402.8,111.2 418.7,112.6M371.4,109.1C386.8,110.6 402.6,111.9 418.6,113.6" fill="none" stroke="#7a1616" stroke-width="0.7" opacity="0.9"/>
<path d="M431.0,78.9C441.9,83.5 452.1,85.1 460.9,83.3" fill="none" stroke="#751916" stroke-width="0.7" opacity="0.9"/>
<path d="M460.9,83.3C469.6,81.6 477.0,76.5 482.3,67.6" fill="none" stroke="#3b3d17" stroke-width="0.7" opacity="0.9"/>
<path d="M430.8,79.6C441.9,84.3 452.5,86.1 462.0,84.5M429.7,87.3C442.0,94.5 455.4,98.8 469.4,100.6M429.6,88.3C442.0,95.8 455.6,100.5 469.8,102.8M428.7,81.8C440.5,85.5 451.5,86.6 461.2,84.6M427.5,89.3C440.6,95.4 454.5,99.1 468.7,100.4M427.4,90.3C440.5,96.7 454.6,100.7 469.1,102.7M425.5,91.5C439.3,96.5 453.6,99.4 468.1,100.4M425.4,92.5C439.2,97.8 453.7,101.1 468.5,102.6M425.0,95.5C439.0,101.9 453.8,106.3 469.1,109.4M423.9,93.9C438.2,97.8 452.8,99.9 467.5,100.3M423.7,94.9C438.1,99.0 452.9,101.5 467.9,102.5M423.3,97.9C437.9,103.0 453.1,106.7 468.6,109.3M422.5,96.5C437.3,99.1 452.2,100.4 467.0,100.4M422.3,97.4C437.2,100.4 452.3,102.0 467.4,102.5M421.9,100.4C436.9,104.3 452.4,107.1 468.1,109.3M421.4,99.2C436.6,100.5 451.6,101.0 466.6,100.5M421.2,100.1C436.5,101.8 451.8,102.6 467.0,102.6M420.8,103.0C436.2,105.7 451.9,107.7 467.7,109.3M420.3,106.1C435.8,109.8 451.6,112.9 467.4,116.3M420.6,102.0C436.1,102.1 451.3,101.7 466.2,100.7M420.4,102.9C436.0,103.3 451.4,103.3 466.7,102.7M419.9,105.8C435.7,107.1 451.5,108.3 467.4,109.4M419.4,108.8C435.2,111.2 451.2,113.5 467.2,116.3M419.3,109.8C435.0,112.5 451.0,115.2 466.9,118.6M420.1,104.9C435.8,103.7 451.0,102.4 466.0,100.9M419.9,105.8C435.7,104.8 451.1,104.0 466.4,102.9M419.4,108.6C435.4,108.6 451.3,108.9 467.2,109.5M418.9,111.6C434.9,112.6 451.0,114.1 467.0,116.3M418.7,112.6C434.7,114.0 450.7,115.8 466.7,118.6" fill="none" stroke="#781d18" stroke-width="0.7" opacity="0.9"/>
<path d="M462.0,84.5C471.4,82.9 479.7,78.0 486.2,69.4M469.4,100.6C483.4,102.4 497.9,101.7 512.4,98.8M461.2,84.6C470.9,82.6 479.2,77.6 485.7,69.0M468.7,100.4C483.0,101.8 497.6,101.0 512.1,98.1M468.1,100.4C482.6,101.3 497.3,100.3 511.9,97.5M467.5,100.3C482.2,100.8 497.0,99.6 511.6,96.9M467.0,100.4C481.8,100.4 496.6,99.0 511.3,96.3M466.6,100.5C481.5,100.0 496.3,98.4 511.1,95.7M467.4,116.3C483.3,119.6 499.3,123.0 515.0,127.3M466.2,100.7C481.2,99.6 496.0,97.9 510.8,95.1M467.2,116.3C483.1,119.1 499.1,122.3 514.9,126.6M466.0,100.9C481.0,99.3 495.7,97.3 510.5,94.6M467.0,116.3C483.0,118.6 499.0,121.7 514.7,126.0" fill="none" stroke="#62672f" stroke-width="0.7" opacity="0.9"/>
<path d="M430.7,80.3C442.0,85.3 453.0,87.2 463.1,85.8M429.9,85.4C442.0,91.9 455.0,95.5 468.3,96.3M428.5,82.5C440.6,86.4 452.0,87.7 462.3,85.9M427.7,87.4C440.6,92.9 454.1,95.8 467.6,96.2M427.1,92.3C440.4,99.4 454.7,104.2 469.6,107.2M426.7,84.9C439.4,87.7 451.1,88.3 461.6,86.1M425.8,89.7C439.4,94.0 453.2,96.2 466.9,96.2M425.2,94.5C439.1,100.5 453.8,104.5 469.0,107.1M424.2,92.1C438.3,95.3 452.4,96.7 466.4,96.2M423.5,96.9C438.0,101.7 453.1,104.9 468.5,107.0M422.8,94.7C437.4,96.7 451.8,97.3 465.8,96.3M422.0,99.4C437.1,103.0 452.4,105.4 468.0,107.0M421.7,97.4C436.7,98.2 451.2,98.0 465.4,96.5M420.9,102.0C436.3,104.3 451.9,106.0 467.6,107.0M420.9,100.3C436.2,99.8 450.8,98.7 465.0,96.7M420.1,104.8C435.8,105.8 451.5,106.6 467.3,107.1M420.5,103.2C435.9,101.4 450.6,99.5 464.8,97.0M419.6,107.6C435.5,107.3 451.3,107.2 467.0,107.2" fill="none" stroke="#761b17" stroke-width="0.7" opacity="0.9"/>
<path d="M463.1,85.8C473.2,84.5 482.4,79.8 490.0,71.5M462.3,85.9C472.6,84.1 481.9,79.3 489.6,71.0M461.6,86.1C472.1,83.9 481.4,78.9 489.1,70.6" fill="none" stroke="#505621" stroke-width="0.7" opacity="0.9"/>
<path d="M430.5,81.1C442.0,86.2 453.4,88.4 464.1,87.3M430.4,81.9C442.0,87.3 453.8,89.7 465.1,88.9M430.1,83.5C442.0,89.5 454.5,92.5 466.9,92.4M430.0,84.4C442.0,90.7 454.8,94.0 467.6,94.3M429.8,86.3C442.0,93.2 455.3,97.1 468.9,98.4M428.4,83.2C440.6,87.4 452.4,88.9 463.4,87.3M428.3,84.0C440.6,88.4 452.8,90.1 464.3,88.9M428.0,85.6C440.6,90.5 453.5,92.8 466.1,92.4M427.9,86.5C440.6,91.7 453.8,94.3 466.9,94.2M427.6,88.3C440.6,94.1 454.3,97.4 468.2,98.3M426.5,85.6C439.4,88.6 451.5,89.4 462.7,87.5M426.4,86.3C439.4,89.6 451.9,90.6 463.7,89.0M426.1,87.9C439.4,91.7 452.6,93.3 465.5,92.4M425.9,88.8C439.4,92.9 452.9,94.7 466.2,94.2M425.7,90.6C439.3,95.3 453.4,97.8 467.6,98.2M424.9,88.1C438.3,90.0 450.7,90.1 462.0,87.7M424.8,88.8C438.3,91.0 451.1,91.2 463.0,89.1M424.5,90.4C438.3,93.0 451.8,93.8 464.9,92.5M424.3,91.2C438.3,94.2 452.1,95.3 465.6,94.3M424.0,93.0C438.3,96.5 452.6,98.3 467.0,98.2M423.2,98.9C437.8,104.4 453.0,108.4 468.6,111.7M423.4,91.5C437.5,92.5 450.5,92.0 462.5,89.4M423.1,93.0C437.5,94.5 451.2,94.5 464.3,92.6M422.9,93.9C437.4,95.6 451.5,95.9 465.1,94.4M422.6,95.6C437.4,97.9 452.0,98.8 466.5,98.3M421.8,101.4C436.8,105.7 452.4,108.9 468.1,111.6M421.6,102.4C436.7,107.0 452.2,110.7 468.0,113.9M422.0,95.8C436.8,96.0 450.7,95.2 463.9,92.9M421.9,96.6C436.7,97.1 451.0,96.6 464.7,94.6M421.5,98.3C436.7,99.3 451.5,99.5 466.0,98.5M420.6,104.0C436.1,107.0 451.8,109.4 467.7,111.6M420.5,105.0C435.9,108.4 451.7,111.2 467.6,113.9M421.3,98.7C436.3,97.7 450.3,96.0 463.5,93.1M421.1,99.5C436.3,98.7 450.6,97.3 464.3,94.9M420.8,101.1C436.2,100.9 451.1,100.2 465.7,98.6M419.8,106.8C435.5,108.4 451.5,110.0 467.4,111.7M419.6,107.8C435.4,109.8 451.4,111.7 467.4,114.0M420.6,102.5C436.0,100.4 450.3,98.2 464.0,95.2M420.3,104.1C435.9,102.5 450.8,100.9 465.4,98.9M419.2,109.6C435.2,109.9 451.2,110.6 467.2,111.7M419.1,110.6C435.0,111.3 451.1,112.3 467.2,114.0M418.6,113.6C434.5,115.3 450.5,117.6 466.3,120.9" fill="none" stroke="#741916" stroke-width="0.7" opacity="0.9"/>
<path d="M464.1,87.3C474.8,86.2 484.9,81.8 493.6,73.9M465.1,88.9C476.4,88.1 487.3,84.1 497.0,76.7M467.6,94.3C480.5,94.7 493.5,92.1 506.0,86.7M468.9,98.4C482.6,99.7 496.6,98.4 510.5,94.6M463.4,87.3C474.3,85.8 484.4,81.3 493.2,73.4M464.3,88.9C475.9,87.7 486.8,83.5 496.7,76.2M466.9,94.2C480.0,94.2 493.1,91.5 505.7,86.1M468.2,98.3C482.1,99.2 496.3,97.7 510.3,93.9M462.7,87.5C473.8,85.5 483.9,80.8 492.8,73.0M463.7,89.0C475.4,87.3 486.4,83.0 496.3,75.7M466.2,94.2C479.6,93.7 492.7,90.9 505.3,85.5M467.6,98.2C481.7,98.7 496.0,97.0 510.0,93.3M462.0,87.7C473.3,85.2 483.5,80.4 492.4,72.5M463.0,89.1C474.9,87.0 485.9,82.5 495.9,75.2M465.6,94.3C479.1,93.3 492.3,90.3 505.0,85.0M467.0,98.2C481.3,98.2 495.6,96.4 509.7,92.7M462.5,89.4C474.5,86.8 485.5,82.1 495.5,74.7M465.1,94.4C478.7,93.0 491.9,89.8 504.7,84.4M466.5,98.3C480.9,97.8 495.3,95.8 509.4,92.1M464.7,94.6C478.4,92.7 491.6,89.3 504.3,83.9M466.0,98.5C480.6,97.4 495.0,95.2 509.1,91.6M464.3,94.9C478.0,92.4 491.2,88.8 504.0,83.4M465.7,98.6C480.3,97.1 494.6,94.7 508.8,91.0M464.0,95.2C477.7,92.2 490.8,88.3 503.6,83.0M465.4,98.9C480.0,96.8 494.3,94.2 508.5,90.5M466.3,120.9C482.1,124.2 497.7,128.7 512.8,134.9" fill="none" stroke="#393a17" stroke-width="0.7" opacity="0.9"/>
<path d="M430.3,82.7C442.0,88.4 454.2,91.0 466.0,90.6M429.4,89.3C441.9,97.1 455.6,102.2 470.1,105.1M428.1,84.8C440.6,89.4 453.2,91.4 465.3,90.6M427.2,91.3C440.5,98.1 454.7,102.5 469.4,104.9M426.2,87.1C439.4,90.6 452.3,91.9 464.6,90.6M425.3,93.5C439.2,99.1 453.8,102.8 468.8,104.8M424.6,89.6C438.3,92.0 451.5,92.5 464.0,90.7M423.6,95.9C438.1,100.3 453.0,103.2 468.2,104.7M423.3,92.3C437.5,93.5 450.9,93.2 463.4,90.9M422.2,98.4C437.2,101.6 452.4,103.7 467.8,104.7M422.2,95.1C436.8,95.0 450.3,94.0 463.0,91.2M421.1,101.1C436.4,103.0 451.9,104.3 467.4,104.8M420.3,103.8C435.9,104.5 451.5,104.9 467.0,104.9M419.8,106.7C435.6,106.1 451.2,105.6 466.8,105.1" fill="none" stroke="#771c18" stroke-width="0.7" opacity="0.9"/>
<path d="M466.0,90.6C477.9,90.2 489.5,86.6 500.3,79.8M470.1,105.1C484.5,108.0 499.7,108.6 515.0,107.6M465.3,90.6C477.4,89.7 489.1,86.0 499.9,79.2M469.4,104.9C484.2,107.4 499.4,107.9 514.8,106.9M464.6,90.6C476.9,89.3 488.7,85.4 499.5,78.7M468.8,104.8C483.8,106.8 499.2,107.2 514.6,106.3M464.0,90.7C476.5,89.0 488.2,84.9 499.2,78.2M468.2,104.7C483.5,106.3 498.9,106.5 514.4,105.6M463.4,90.9C476.0,88.7 487.8,84.4 498.8,77.7M467.8,104.7C483.1,105.8 498.7,105.8 514.2,105.0M463.0,91.2C475.6,88.4 487.4,84.0 498.4,77.2M467.4,104.8C482.8,105.3 498.4,105.2 514.0,104.4M467.0,104.9C482.6,104.9 498.1,104.6 513.7,103.8M466.8,105.1C482.4,104.5 497.9,104.0 513.5,103.2" fill="none" stroke="#5b6029" stroke-width="0.7" opacity="0.9"/>
<path d="M466.9,92.4C479.3,92.4 491.6,89.3 503.3,83.1M466.1,92.4C478.8,91.9 491.2,88.7 502.9,82.5M465.5,92.4C478.3,91.5 490.8,88.1 502.6,82.0M464.9,92.5C477.9,91.1 490.4,87.5 502.2,81.4M468.6,111.7C484.1,114.9 500.0,117.2 515.9,119.4M464.3,92.6C477.4,90.8 490.0,87.0 501.9,80.9M468.1,111.6C483.9,114.3 499.8,116.5 515.8,118.8M468.0,113.9C483.8,117.2 499.7,120.1 515.6,123.4M463.9,92.9C477.1,90.5 489.6,86.5 501.5,80.5M467.7,111.6C483.6,113.8 499.7,115.8 515.6,118.1M467.6,113.9C483.6,116.7 499.6,119.4 515.5,122.7M463.5,93.1C476.7,90.2 489.2,86.1 501.1,80.0M467.4,111.7C483.4,113.3 499.5,115.2 515.5,117.5M467.4,114.0C483.4,116.2 499.4,118.8 515.3,122.1M467.2,111.7C483.2,112.9 499.3,114.5 515.3,116.8M467.2,114.0C483.2,115.7 499.3,118.1 515.2,121.4" fill="none" stroke="#363716" stroke-width="0.7" opacity="0.9"/>
<path d="M468.3,96.3C481.6,97.2 495.2,95.2 508.4,90.5M467.6,96.2C481.1,96.6 494.8,94.5 508.1,89.9M469.6,107.2C484.5,110.2 500.0,111.5 515.6,111.5M466.9,96.2C480.7,96.1 494.4,93.9 507.8,89.3M469.0,107.1C484.2,109.6 499.8,110.7 515.5,110.8M466.4,96.2C480.3,95.7 494.1,93.3 507.5,88.7M468.5,107.0C483.8,109.1 499.5,110.0 515.3,110.2M465.8,96.3C479.9,95.3 493.7,92.7 507.2,88.2M468.0,107.0C483.5,108.6 499.3,109.3 515.1,109.5M465.4,96.5C479.6,95.0 493.4,92.2 506.9,87.6M467.6,107.0C483.3,108.1 499.1,108.7 514.9,108.9M465.0,96.7C479.2,94.7 493.0,91.6 506.5,87.1M467.3,107.1C483.0,107.7 498.8,108.0 514.7,108.3M464.8,97.0C479.0,94.4 492.7,91.2 506.2,86.7M467.0,107.2C482.8,107.3 498.6,107.4 514.4,107.7" fill="none" stroke="#484d1d" stroke-width="0.7" opacity="0.9"/>
<path d="M469.8,102.8C484.0,105.2 498.9,105.1 513.9,103.1M469.1,102.7C483.6,104.6 498.6,104.4 513.6,102.5M468.5,102.6C483.3,104.0 498.3,103.7 513.4,101.8M469.1,109.4C484.4,112.5 500.1,114.3 515.9,115.5M467.9,102.5C482.9,103.5 498.1,103.0 513.2,101.2M468.6,109.3C484.1,112.0 499.9,113.6 515.8,114.8M467.4,102.5C482.6,103.0 497.8,102.4 512.9,100.6M468.1,109.3C483.8,111.4 499.7,112.9 515.6,114.1M467.0,102.6C482.3,102.6 497.5,101.7 512.7,100.0M467.7,109.3C483.5,111.0 499.5,112.2 515.4,113.5M466.7,102.7C482.0,102.2 497.2,101.2 512.4,99.4M467.4,109.4C483.3,110.5 499.3,111.6 515.2,112.8M466.9,118.6C482.8,121.9 498.6,125.9 514.0,131.2M466.4,102.9C481.7,101.9 496.9,100.6 512.1,98.8M467.2,109.5C483.1,110.1 499.1,110.9 515.0,112.2M466.7,118.6C482.6,121.4 498.5,125.2 513.9,130.5" fill="none" stroke="#5f642c" stroke-width="0.7" opacity="0.9"/>
<path d="M466.3,103.1C481.5,101.5 496.6,100.0 511.9,98.3M467.1,109.6C483.0,109.6 498.8,110.3 514.8,111.6M466.6,118.7C482.5,120.9 498.4,124.5 513.8,129.9" fill="none" stroke="#5d632b" stroke-width="0.7" opacity="0.9"/>
<path d="M370.4,125.9C388.2,119.3 404.6,114.2 420.3,110.1M370.4,125.9C387.9,119.6 404.3,114.7 420.1,110.9M370.4,125.9C387.7,119.9 404.0,115.3 419.9,111.7M370.4,125.9C387.5,120.2 403.8,115.9 419.7,112.6M370.4,125.9C387.2,120.5 403.5,116.4 419.5,113.5M370.4,125.9C387.0,120.8 403.3,117.0 419.3,114.4M370.4,125.9C386.9,121.2 403.0,117.7 419.1,115.3M370.4,125.9C386.7,121.5 402.8,118.3 418.9,116.3M370.4,125.9C386.5,121.9 402.6,118.9 418.7,117.3M370.4,125.9C386.4,122.2 402.5,119.6 418.5,118.3M370.4,125.9C386.3,122.6 402.3,120.3 418.3,119.3M370.4,125.9C386.2,123.0 402.2,120.9 418.2,120.3" fill="none" stroke="#851c1c" stroke-width="0.7" opacity="0.9"/>
<path d="M420.3,110.1C435.9,105.9 450.7,102.6 465.1,99.4M418.3,119.3C434.4,118.3 450.4,118.7 466.2,121.0M418.2,120.3C434.2,119.7 450.1,120.5 465.7,123.2" fill="none" stroke="#7f1f1c" stroke-width="0.7" opacity="0.9"/>
<path d="M465.1,99.4C479.6,96.3 493.7,93.2 507.9,89.6M466.2,121.0C482.0,123.2 497.5,127.3 512.6,133.6M465.7,123.2C481.3,126.0 496.6,130.7 511.2,137.9" fill="none" stroke="#3c3c18" stroke-width="0.7" opacity="0.9"/>
<path d="M420.1,110.9C435.8,107.0 450.9,104.0 465.7,101.4M418.7,117.3C434.8,115.6 450.9,115.3 466.8,116.5" fill="none" stroke="#82231e" stroke-width="0.7" opacity="0.9"/>
<path d="M465.7,101.4C480.5,98.7 495.1,96.3 509.9,93.6M466.8,116.5C482.8,117.6 498.7,120.3 514.5,124.7" fill="none" stroke="#656931" stroke-width="0.7" opacity="0.9"/>
<path d="M419.9,111.7C435.7,108.1 451.0,105.5 466.2,103.4M419.3,114.4C435.3,111.7 451.2,110.3 467.0,109.7M418.5,118.3C434.6,117.0 450.7,117.0 466.6,118.7" fill="none" stroke="#82221e" stroke-width="0.7" opacity="0.9"/>
<path d="M466.2,103.4C481.3,101.2 496.4,99.5 511.6,97.8M467.0,109.7C482.8,109.2 498.6,109.7 514.6,111.1M466.6,118.7C482.5,120.5 498.2,123.8 513.7,129.2" fill="none" stroke="#62652e" stroke-width="0.7" opacity="0.9"/>
<path d="M419.7,112.6C435.6,109.3 451.1,107.0 466.6,105.4" fill="none" stroke="#82221d" stroke-width="0.7" opacity="0.9"/>
<path d="M466.6,105.4C482.0,103.8 497.4,102.8 512.9,102.1" fill="none" stroke="#5e622b" stroke-width="0.7" opacity="0.9"/>
<path d="M419.5,113.5C435.5,110.5 451.2,108.6 466.8,107.6" fill="none" stroke="#80201c" stroke-width="0.7" opacity="0.9"/>
<path d="M466.8,107.6C482.5,106.5 498.1,106.3 514.0,106.5" fill="none" stroke="#4b4e1f" stroke-width="0.7" opacity="0.9"/>
<path d="M419.1,115.3C435.2,113.0 451.1,111.9 467.1,112.0M418.9,116.3C435.0,114.3 451.0,113.6 467.0,114.2" fill="none" stroke="#7f1e1c" stroke-width="0.7" opacity="0.9"/>
<path d="M467.1,112.0C483.0,112.0 498.9,113.2 514.9,115.6M467.0,114.2C483.0,114.8 498.9,116.8 514.9,120.2" fill="none" stroke="#3a3918" stroke-width="0.7" opacity="0.9"/>
<path d="M371.1,134.3C388.6,125.6 404.9,119.1 420.5,113.9M371.1,134.3C388.4,125.9 404.6,119.6 420.3,114.7M371.1,134.3C388.1,126.2 404.3,120.1 420.1,115.5M371.1,134.3C387.9,126.5 404.1,120.7 419.9,116.4M371.1,134.3C387.7,126.9 403.8,121.3 419.7,117.3M371.1,134.3C387.5,127.2 403.6,121.9 419.5,118.2M371.1,134.3C387.3,127.5 403.3,122.5 419.3,119.2M371.1,134.3C387.1,127.9 403.1,123.1 419.1,120.2M371.1,134.3C387.0,128.3 402.9,123.8 418.9,121.1M371.1,134.3C386.8,128.6 402.8,124.5 418.7,122.1M371.1,134.3C386.7,129.0 402.6,125.1 418.5,123.1M372.4,142.6C389.6,131.9 405.6,123.8 421.1,117.6M372.4,142.6C389.3,132.2 405.3,124.4 420.9,118.5M372.4,142.6C389.1,132.5 405.0,124.9 420.7,119.3M372.4,142.6C388.9,132.8 404.8,125.5 420.5,120.2M372.4,142.6C388.6,133.2 404.5,126.1 420.2,121.1M372.4,142.6C388.4,133.5 404.3,126.7 420.0,122.1M372.4,142.6C388.3,133.9 404.1,127.3 419.8,123.0M372.4,142.6C388.1,134.2 403.9,128.0 419.6,124.0M372.4,142.6C388.0,134.6 403.7,128.6 419.4,125.0M372.4,142.6C387.8,134.9 403.5,129.3 419.2,126.0" fill="none" stroke="#8a1f1f" stroke-width="0.7" opacity="0.9"/>
<path d="M420.5,113.9C436.1,108.7 451.0,104.8 465.7,101.6M419.1,120.2C435.1,117.2 451.0,116.0 466.9,116.6M419.8,123.0C435.6,118.7 451.3,116.6 467.0,116.7" fill="none" stroke="#872521" stroke-width="0.7" opacity="0.9"/>
<path d="M465.7,101.6C480.4,98.4 494.8,95.9 509.6,93.1M466.9,116.6C482.8,117.2 498.6,119.7 514.3,124.1M467.0,116.7C482.8,116.8 498.5,119.0 514.2,123.5" fill="none" stroke="#676a32" stroke-width="0.7" opacity="0.9"/>
<path d="M420.3,114.7C436.0,109.8 451.2,106.3 466.2,103.6M419.7,117.3C435.6,113.3 451.3,111.0 467.0,109.9M418.9,121.1C434.9,118.5 450.8,117.7 466.6,118.8M421.1,117.6C436.6,111.4 451.5,107.1 466.3,103.9M420.5,120.2C436.1,114.9 451.6,111.7 467.1,110.1M419.6,124.0C435.4,120.0 451.1,118.3 466.8,118.9" fill="none" stroke="#872520" stroke-width="0.7" opacity="0.9"/>
<path d="M466.2,103.6C481.2,100.9 496.1,99.0 511.3,97.3M467.0,109.9C482.7,108.9 498.4,109.2 514.4,110.5M466.6,118.8C482.5,120.0 498.1,123.2 513.6,128.6M466.3,103.9C481.1,100.7 495.8,98.6 511.0,96.8M467.1,110.1C482.7,108.5 498.2,108.6 514.2,109.9M466.8,118.9C482.5,119.5 498.0,122.5 513.4,127.9" fill="none" stroke="#63662f" stroke-width="0.7" opacity="0.9"/>
<path d="M420.1,115.5C435.9,110.9 451.3,107.8 466.6,105.7M420.9,118.5C436.4,112.6 451.6,108.6 466.7,105.9" fill="none" stroke="#862520" stroke-width="0.7" opacity="0.9"/>
<path d="M466.6,105.7C481.9,103.5 497.1,102.3 512.7,101.6M466.7,105.9C481.8,103.2 496.9,101.8 512.4,101.1M466.8,106.1C481.7,102.9 496.6,101.3 512.1,100.6" fill="none" stroke="#60632c" stroke-width="0.7" opacity="0.9"/>
<path d="M419.9,116.4C435.8,112.1 451.3,109.4 466.8,107.8M420.7,119.3C436.3,113.7 451.6,110.1 467.0,108.0" fill="none" stroke="#85231f" stroke-width="0.7" opacity="0.9"/>
<path d="M466.8,107.8C482.4,106.2 497.9,105.7 513.7,106.0M467.0,108.0C482.3,105.8 497.7,105.2 513.5,105.5" fill="none" stroke="#4c4f20" stroke-width="0.7" opacity="0.9"/>
<path d="M419.5,118.2C435.5,114.6 451.3,112.6 467.1,112.1M419.3,119.2C435.3,115.9 451.2,114.3 467.0,114.3M420.2,121.1C436.0,116.2 451.6,113.3 467.2,112.3M420.0,122.1C435.8,117.4 451.5,114.9 467.2,114.5" fill="none" stroke="#83211e" stroke-width="0.7" opacity="0.9"/>
<path d="M467.1,112.1C482.9,111.6 498.7,112.6 514.7,115.0M467.0,114.3C482.9,114.4 498.8,116.2 514.7,119.6M467.2,112.3C482.9,111.2 498.6,112.1 514.5,114.4M467.2,114.5C482.9,114.0 498.6,115.6 514.5,119.0" fill="none" stroke="#3b3a19" stroke-width="0.7" opacity="0.9"/>
<path d="M418.7,122.1C434.7,119.8 450.6,119.4 466.3,121.1M418.5,123.1C434.4,121.2 450.3,121.1 465.8,123.3M419.4,125.0C435.1,121.3 450.9,120.0 466.4,121.1M419.2,126.0C434.9,122.6 450.6,121.7 466.0,123.3" fill="none" stroke="#83211f" stroke-width="0.7" opacity="0.9"/>
<path d="M466.3,121.1C482.0,122.8 497.5,126.6 512.5,133.0M465.8,123.3C481.3,125.5 496.5,130.0 511.1,137.3M466.4,121.1C482.0,122.3 497.4,126.0 512.4,132.3M466.0,123.3C481.4,125.0 496.5,129.3 511.0,136.6" fill="none" stroke="#3d3c19" stroke-width="0.7" opacity="0.9"/>
<path d="M374.5,150.8C391.1,138.1 406.7,128.5 421.9,121.4M374.5,150.8C390.8,138.4 406.4,129.1 421.7,122.2M374.5,150.8C390.6,138.7 406.1,129.6 421.5,123.1M374.5,150.8C390.4,139.0 405.9,130.2 421.3,124.0M374.5,150.8C390.2,139.4 405.6,130.8 421.1,124.9M374.5,150.8C390.0,139.7 405.4,131.4 420.8,125.8M374.5,150.8C389.8,140.1 405.2,132.1 420.6,126.8M374.5,150.8C389.6,140.4 405.0,132.7 420.4,127.7M374.5,150.8C389.5,140.8 404.8,133.3 420.2,128.7M377.3,158.7C393.1,144.1 408.2,133.1 423.1,125.0M377.3,158.7C392.9,144.4 407.9,133.7 422.9,125.8M377.3,158.7C392.6,144.7 407.6,134.2 422.6,126.7M377.3,158.7C392.4,145.1 407.4,134.8 422.4,127.6M377.3,158.7C392.2,145.4 407.1,135.4 422.2,128.5M377.3,158.7C392.0,145.7 406.9,136.0 421.9,129.5M377.3,158.7C391.8,146.1 406.7,136.7 421.7,130.4M377.3,158.7C391.7,146.4 406.5,137.3 421.5,131.4" fill="none" stroke="#8d2121" stroke-width="0.7" opacity="0.9"/>
<path d="M421.9,121.4C437.2,114.2 452.0,109.3 466.8,106.1" fill="none" stroke="#892722" stroke-width="0.7" opacity="0.9"/>
<path d="M421.7,122.2C437.0,115.3 452.0,110.8 467.1,108.2M423.1,125.0C438.0,116.8 452.6,111.6 467.4,108.4" fill="none" stroke="#882521" stroke-width="0.7" opacity="0.9"/>
<path d="M467.1,108.2C482.2,105.5 497.5,104.7 513.2,105.0M467.4,108.4C482.2,105.2 497.3,104.2 512.9,104.5" fill="none" stroke="#4d5020" stroke-width="0.7" opacity="0.9"/>
<path d="M421.5,123.1C436.9,116.5 452.0,112.4 467.3,110.3M420.8,125.8C436.3,120.2 451.7,117.2 467.3,116.8M420.6,126.8C436.1,121.5 451.5,118.9 467.0,119.0M422.9,125.8C437.8,118.0 452.6,113.1 467.6,110.5M422.2,128.5C437.2,121.6 452.3,117.8 467.6,116.9M421.9,129.5C437.0,122.9 452.1,119.5 467.3,119.1" fill="none" stroke="#8a2722" stroke-width="0.7" opacity="0.9"/>
<path d="M467.3,110.3C482.6,108.2 498.0,108.1 513.9,109.4M467.0,119.0C482.5,119.1 497.9,121.9 513.3,127.3M467.6,110.5C482.6,107.8 497.9,107.5 513.7,108.9M467.3,119.1C482.5,118.7 497.8,121.3 513.1,126.7" fill="none" stroke="#64672f" stroke-width="0.7" opacity="0.9"/>
<path d="M421.3,124.0C436.7,117.7 452.0,114.0 467.4,112.4M421.1,124.9C436.5,118.9 451.9,115.6 467.4,114.6M420.4,127.7C435.8,122.8 451.3,120.6 466.7,121.2M420.2,128.7C435.6,124.1 451.0,122.2 466.2,123.4M422.6,126.7C437.6,119.2 452.5,114.6 467.7,112.6M422.4,127.6C437.4,120.4 452.4,116.2 467.7,114.7M421.7,130.4C436.7,124.2 451.9,121.1 467.0,121.2M421.5,131.4C436.5,125.5 451.6,122.8 466.6,123.4" fill="none" stroke="#862320" stroke-width="0.7" opacity="0.9"/>
<path d="M467.4,112.4C482.8,110.9 498.4,111.5 514.3,113.9M467.4,114.6C482.9,113.6 498.5,115.0 514.3,118.4M467.7,112.6C482.8,110.5 498.2,110.9 514.1,113.3M467.7,114.7C482.9,113.2 498.3,114.4 514.1,117.8" fill="none" stroke="#3c3a19" stroke-width="0.7" opacity="0.9"/>
<path d="M467.3,116.8C482.8,116.3 498.3,118.4 514.0,122.9M467.6,116.9C482.8,115.9 498.2,117.8 513.8,122.3" fill="none" stroke="#686a32" stroke-width="0.7" opacity="0.9"/>
<path d="M466.7,121.2C482.0,121.8 497.3,125.3 512.3,131.7M466.2,123.4C481.5,124.5 496.4,128.7 510.9,136.0M467.0,121.2C482.1,121.4 497.2,124.6 512.1,131.1M466.6,123.4C481.5,124.0 496.4,128.0 510.8,135.3" fill="none" stroke="#3e3d1a" stroke-width="0.7" opacity="0.9"/>
<path d="M384.2,172.6C402.2,168.5 417.0,165.4 429.4,163.9M384.2,172.6C401.9,168.3 416.5,165.2 429.2,163.6M384.2,172.6C401.5,168.2 416.1,164.9 428.9,163.2M384.2,172.6C401.2,168.0 415.7,164.6 428.7,162.7M384.2,172.6C400.8,167.9 415.3,164.3 428.4,162.3M384.2,172.6C400.5,167.7 414.9,164.0 428.2,161.7M384.2,172.6C400.2,167.5 414.5,163.6 427.9,161.1M388.9,179.7C405.8,173.8 419.7,169.4 431.4,167.0M388.9,179.7C405.5,173.7 419.3,169.2 431.1,166.7M388.9,179.7C405.1,173.5 418.8,168.9 430.9,166.3M388.9,179.7C404.7,173.4 418.4,168.7 430.6,165.9M388.9,179.7C404.4,173.2 418.0,168.4 430.4,165.4M388.9,179.7C404.1,173.0 417.6,168.0 430.2,164.9M388.9,179.7C403.7,172.8 417.2,167.7 429.9,164.3M388.9,179.7C403.4,172.6 416.8,167.3 429.7,163.7M394.2,186.3C409.9,178.8 422.8,173.2 433.6,169.9M394.2,186.3C409.5,178.7 422.3,173.0 433.3,169.6M394.2,186.3C409.1,178.5 421.9,172.7 433.1,169.2M394.2,186.3C408.8,178.4 421.5,172.5 432.8,168.8M394.2,186.3C408.4,178.2 421.1,172.2 432.6,168.4M394.2,186.3C408.1,178.0 420.6,171.8 432.4,167.9M394.2,186.3C407.8,177.8 420.3,171.5 432.1,167.3M394.2,186.3C407.4,177.6 419.9,171.1 431.9,166.7M394.2,186.3C407.1,177.4 419.5,170.7 431.7,166.1M400.0,192.5C414.3,183.4 426.2,176.7 436.0,172.6M400.0,192.5C414.0,183.3 425.7,176.5 435.7,172.3M400.0,192.5C413.6,183.2 425.3,176.2 435.5,172.0M400.0,192.5C413.3,183.0 424.9,176.0 435.3,171.6M400.0,192.5C412.9,182.9 424.4,175.7 435.0,171.1M400.0,192.5C412.6,182.7 424.0,175.4 434.8,170.6M400.0,192.5C412.2,182.5 423.6,175.0 434.6,170.1M400.0,192.5C411.9,182.3 423.2,174.7 434.3,169.5M400.0,192.5C411.6,182.1 422.9,174.3 434.1,168.9M400.0,192.5C411.3,181.8 422.5,173.8 433.9,168.2" fill="none" stroke="#141a60" stroke-width="0.5" opacity="0.7"/>
<path d="M429.4,163.9C441.9,162.5 452.1,162.7 461.1,165.0M431.1,166.7C443.0,164.2 452.9,163.7 461.8,165.6M433.1,169.2C444.3,165.8 453.9,164.6 462.6,166.1M435.3,171.6C445.7,167.2 454.9,165.4 463.4,166.5" fill="none" stroke="#19215e" stroke-width="0.5" opacity="0.7"/>
<path d="M461.1,165.0C470.1,167.3 477.9,171.9 485.6,179.1M461.8,165.6C470.7,167.5 478.5,171.8 486.1,179.0M462.6,166.1C471.3,167.6 479.1,171.7 486.7,178.8M463.4,166.5C471.9,167.6 479.7,171.5 487.2,178.6" fill="none" stroke="#4b6f4b" stroke-width="0.5" opacity="0.7"/>
<path d="M485.6,179.1C493.3,186.4 500.8,196.3 509.3,209.6M486.1,179.0C493.8,186.2 501.2,196.2 509.3,209.6M486.7,178.8C494.2,186.0 501.6,196.1 509.3,209.6M487.2,178.6C494.7,185.8 501.9,196.0 509.3,209.6M487.7,178.4C495.2,185.5 502.3,195.8 509.3,209.6M488.3,178.1C495.6,185.2 502.6,195.7 509.3,209.6M488.8,177.8C496.0,184.9 502.9,195.5 509.3,209.6M489.3,177.5C496.5,184.6 503.3,195.3 509.3,209.6M489.9,177.1C496.9,184.2 503.6,195.1 509.3,209.6M490.4,176.6C497.3,183.8 503.9,194.9 509.3,209.6M490.9,176.2C497.7,183.5 504.2,194.6 509.3,209.6M491.4,175.6C498.1,183.0 504.5,194.4 509.3,209.6" fill="none" stroke="#619143" stroke-width="0.5" opacity="0.7"/>
<path d="M429.2,163.6C441.8,162.0 452.5,162.0 462.2,164.1M428.7,162.7C441.7,160.9 453.2,160.5 464.1,161.9M430.9,166.3C442.9,163.7 453.3,163.0 462.9,164.6M430.4,165.4C442.8,162.5 454.0,161.4 464.8,162.4M432.8,168.8C444.2,165.2 454.3,163.9 463.7,165.1M432.4,167.9C444.1,163.9 455.0,162.1 465.6,162.7M435.0,171.1C445.6,166.6 455.3,164.6 464.5,165.4M434.6,170.1C445.5,165.2 456.0,162.8 466.4,163.0" fill="none" stroke="#1a225f" stroke-width="0.5" opacity="0.7"/>
<path d="M462.2,164.1C471.9,166.2 480.6,170.4 489.3,177.1M464.1,161.9C475.1,163.4 485.5,166.7 496.2,172.1M462.9,164.6C472.4,166.3 481.1,170.3 489.8,176.9M464.8,162.4C475.6,163.4 486.0,166.5 496.7,171.9M463.7,165.1C473.0,166.3 481.7,170.1 490.4,176.8M465.6,162.7C476.2,163.3 486.6,166.2 497.2,171.6M464.5,165.4C473.7,166.3 482.3,169.9 490.9,176.5M466.4,163.0C476.8,163.2 487.2,165.9 497.7,171.3" fill="none" stroke="#567a55" stroke-width="0.5" opacity="0.7"/>
<path d="M489.3,177.1C498.1,183.8 506.9,193.1 516.8,205.5M496.2,172.1C507.0,177.6 518.1,185.2 530.6,195.4M489.8,176.9C498.6,183.6 507.3,193.0 516.8,205.5M496.7,171.9C507.4,177.3 518.5,185.1 530.6,195.4M490.4,176.8C499.0,183.4 507.6,192.9 516.8,205.5M497.2,171.6C507.9,177.0 518.8,184.9 530.6,195.4M490.9,176.5C499.5,183.1 508.0,192.7 516.8,205.5M497.7,171.3C508.3,176.7 519.2,184.7 530.6,195.4M491.4,176.2C499.9,182.8 508.3,192.6 516.8,205.5M498.2,171.0C508.7,176.4 519.5,184.5 530.6,195.4M492.0,175.9C500.4,182.5 508.7,192.4 516.8,205.5M498.7,170.6C509.1,176.0 519.8,184.3 530.6,195.4M492.5,175.6C500.8,182.2 509.0,192.2 516.8,205.5M499.2,170.2C509.5,175.6 520.1,184.0 530.6,195.4M493.0,175.2C501.2,181.8 509.3,192.0 516.8,205.5M499.7,169.7C509.9,175.2 520.4,183.8 530.6,195.4M493.5,174.8C501.6,181.5 509.6,191.7 516.8,205.5M500.2,169.2C510.3,174.7 520.7,183.5 530.6,195.4M494.0,174.3C502.0,181.1 509.9,191.5 516.8,205.5M500.6,168.7C510.6,174.3 520.9,183.3 530.6,195.4M494.5,173.8C502.4,180.6 510.2,191.3 516.8,205.5M494.9,173.2C502.7,180.2 510.5,191.0 516.8,205.5" fill="none" stroke="#70a050" stroke-width="0.5" opacity="0.7"/>
<path d="M428.9,163.2C441.8,161.5 452.9,161.3 463.2,163.1M431.4,167.0C443.0,164.6 452.5,164.3 460.7,166.4M430.6,165.9C442.9,163.1 453.7,162.2 463.9,163.6M433.3,169.6C444.3,166.2 453.5,165.2 461.5,166.9M432.6,168.4C444.2,164.6 454.6,163.0 464.7,164.0M435.5,172.0C445.7,167.7 454.5,166.0 462.3,167.4M434.8,170.6C445.6,165.9 455.7,163.7 465.5,164.3" fill="none" stroke="#1a2360" stroke-width="0.5" opacity="0.7"/>
<path d="M463.2,163.1C473.5,164.9 483.1,168.6 492.9,174.8M460.7,166.4C468.9,168.5 475.8,173.1 482.3,180.7M463.9,163.6C474.1,164.9 483.6,168.5 493.4,174.6M461.5,166.9C469.5,168.6 476.4,173.0 482.8,180.6M464.7,164.0C474.7,164.9 484.2,168.3 493.9,174.3M462.3,167.4C470.2,168.7 477.0,172.9 483.4,180.4M465.5,164.3C475.3,164.8 484.8,168.0 494.4,174.1" fill="none" stroke="#5f7f5c" stroke-width="0.5" opacity="0.7"/>
<path d="M492.9,174.8C502.7,180.9 512.7,189.4 523.9,200.7M482.3,180.7C488.8,188.3 494.8,198.9 501.4,213.0M493.4,174.6C503.1,180.7 513.1,189.3 523.9,200.7M482.8,180.6C489.2,188.2 495.2,198.8 501.4,213.0M493.9,174.3C503.6,180.4 513.4,189.1 523.9,200.7M483.4,180.4C489.7,188.0 495.6,198.7 501.4,213.0M494.4,174.1C504.0,180.1 513.7,189.0 523.9,200.7M483.9,180.2C490.2,187.7 495.9,198.6 501.4,213.0M494.9,173.8C504.5,179.8 514.1,188.8 523.9,200.7M484.5,180.0C490.6,187.5 496.3,198.4 501.4,213.0M495.4,173.4C504.9,179.4 514.4,188.6 523.9,200.7M485.0,179.7C491.1,187.2 496.6,198.3 501.4,213.0M495.9,173.0C505.3,179.1 514.7,188.4 523.9,200.7M485.5,179.4C491.5,186.9 497.0,198.1 501.4,213.0M496.4,172.6C505.7,178.7 515.0,188.1 523.9,200.7M486.1,179.0C492.0,186.6 497.3,197.9 501.4,213.0M496.9,172.1C506.1,178.3 515.3,187.9 523.9,200.7M486.6,178.6C492.4,186.2 497.6,197.7 501.4,213.0M497.4,171.6C506.4,177.9 515.6,187.6 523.9,200.7M487.1,178.2C492.8,185.9 497.9,197.5 501.4,213.0M497.9,171.1C506.8,177.4 515.9,187.4 523.9,200.7M487.6,177.7C493.2,185.5 498.2,197.2 501.4,213.0" fill="none" stroke="#7ca75a" stroke-width="0.5" opacity="0.7"/>
<path d="M428.4,162.3C441.6,160.2 453.5,159.6 465.0,160.6M428.2,161.7C441.5,159.4 453.8,158.5 465.8,159.2M427.9,161.1C441.4,158.6 454.0,157.5 466.6,157.7M430.2,164.9C442.7,161.7 454.3,160.4 465.7,161.0M429.9,164.3C442.6,161.0 454.6,159.4 466.5,159.6M429.7,163.7C442.5,160.1 454.8,158.2 467.2,158.0M432.1,167.3C444.0,163.1 455.3,161.1 466.5,161.3M431.9,166.7C443.9,162.3 455.6,160.0 467.3,159.8M431.7,166.1C443.8,161.4 455.8,158.9 468.0,158.2M436.0,172.6C445.8,168.5 453.7,167.1 460.0,168.7M434.3,169.5C445.5,164.4 456.3,161.7 467.3,161.5M434.1,168.9C445.4,163.5 456.6,160.6 468.1,160.0M433.9,168.2C445.3,162.6 456.8,159.4 468.8,158.3" fill="none" stroke="#1b2360" stroke-width="0.5" opacity="0.7"/>
<path d="M465.0,160.6C476.5,161.7 487.7,164.5 499.3,169.2M465.8,159.2C477.9,159.9 489.7,162.1 502.2,166.0M465.7,161.0C477.1,161.6 488.2,164.2 499.8,168.9M466.5,159.6C478.4,159.8 490.3,161.8 502.7,165.7M466.5,161.3C477.7,161.5 488.8,163.9 500.3,168.6M467.3,159.8C479.0,159.6 490.8,161.5 503.2,165.3M467.3,161.5C478.3,161.3 489.3,163.6 500.8,168.3M468.1,160.0C479.6,159.4 491.3,161.1 503.6,165.0" fill="none" stroke="#678462" stroke-width="0.5" opacity="0.7"/>
<path d="M499.3,169.2C511.0,173.9 523.2,180.6 536.8,189.4M502.2,166.0C514.7,169.9 527.8,175.5 542.4,183.0M499.8,168.9C511.4,173.6 523.5,180.4 536.8,189.4M502.7,165.7C515.1,169.6 528.1,175.3 542.4,183.0M500.3,168.6C511.9,173.3 523.9,180.2 536.8,189.4M503.2,165.3C515.5,169.2 528.5,175.1 542.4,183.0M500.8,168.3C512.3,172.9 524.2,180.0 536.8,189.4M503.6,165.0C515.9,168.8 528.8,174.9 542.4,183.0M501.3,167.9C512.7,172.6 524.5,179.8 536.8,189.4M504.1,164.5C516.3,168.4 529.1,174.6 542.4,183.0M501.8,167.5C513.1,172.2 524.8,179.5 536.8,189.4M504.6,164.1C516.7,168.0 529.4,174.4 542.4,183.0M502.2,167.0C513.5,171.7 525.1,179.3 536.8,189.4M505.0,163.6C517.1,167.6 529.6,174.1 542.4,183.0M502.7,166.5C513.8,171.3 525.4,179.0 536.8,189.4M505.5,163.1C517.4,167.1 529.9,173.9 542.4,183.0M503.2,166.0C514.2,170.8 525.6,178.8 536.8,189.4" fill="none" stroke="#88ae63" stroke-width="0.5" opacity="0.7"/>
<path d="M466.6,157.7C479.1,157.9 491.6,159.5 504.8,162.6M467.2,158.0C479.6,157.8 492.1,159.2 505.3,162.2M468.0,158.2C480.2,157.6 492.6,158.8 505.7,161.8M468.8,158.3C480.8,157.3 493.2,158.4 506.2,161.4" fill="none" stroke="#648360" stroke-width="0.5" opacity="0.7"/>
<path d="M504.8,162.6C518.0,165.6 532.0,170.1 547.5,176.0M505.3,162.2C518.5,165.2 532.3,169.9 547.5,176.0M505.7,161.8C518.9,164.8 532.6,169.6 547.5,176.0M506.2,161.4C519.2,164.4 532.9,169.4 547.5,176.0M506.7,161.0C519.6,164.0 533.2,169.1 547.5,176.0M507.1,160.5C520.0,163.6 533.5,168.9 547.5,176.0M507.5,160.0C520.3,163.1 533.7,168.6 547.5,176.0" fill="none" stroke="#84ac60" stroke-width="0.5" opacity="0.7"/>
<path d="M433.6,169.9C444.4,166.6 453.0,165.7 460.4,167.6M435.7,172.3C445.8,168.1 454.1,166.6 461.2,168.1" fill="none" stroke="#19225f" stroke-width="0.5" opacity="0.7"/>
<path d="M460.4,167.6C467.7,169.5 473.6,174.1 478.8,182.0M461.2,168.1C468.3,169.6 474.2,174.1 479.4,181.9" fill="none" stroke="#507450" stroke-width="0.5" opacity="0.7"/>
<path d="M478.8,182.0C484.1,189.9 488.7,201.0 493.3,215.7M479.4,181.9C484.6,189.7 489.0,200.9 493.3,215.7M479.9,181.7C485.0,189.5 489.4,200.8 493.3,215.7M480.5,181.5C485.5,189.3 489.8,200.6 493.3,215.7M481.1,181.3C486.0,189.1 490.1,200.5 493.3,215.7M481.6,181.0C486.4,188.8 490.5,200.3 493.3,215.7M482.1,180.7C486.9,188.5 490.8,200.2 493.3,215.7M482.7,180.3C487.3,188.2 491.1,200.0 493.3,215.7M483.2,179.9C487.7,187.8 491.5,199.8 493.3,215.7M483.7,179.5C488.1,187.5 491.8,199.6 493.3,215.7" fill="none" stroke="#68984a" stroke-width="0.5" opacity="0.7"/>
<path d="M460.0,168.7C466.4,170.3 471.3,174.9 475.3,183.0" fill="none" stroke="#62815e" stroke-width="0.5" opacity="0.7"/>
<path d="M475.3,183.0C479.3,191.0 482.3,202.5 485.0,217.7M475.9,182.9C479.8,190.9 482.7,202.4 485.0,217.7M476.4,182.7C480.3,190.7 483.1,202.3 485.0,217.7M477.0,182.5C480.7,190.5 483.4,202.1 485.0,217.7M477.6,182.3C481.2,190.2 483.8,202.0 485.0,217.7M478.1,182.0C481.6,190.0 484.1,201.9 485.0,217.7M478.7,181.6C482.1,189.7 484.5,201.7 485.0,217.7M479.2,181.3C482.5,189.4 484.8,201.5 485.0,217.7M479.8,180.9C483.0,189.0 485.1,201.3 485.0,217.7" fill="none" stroke="#80aa5d" stroke-width="0.5" opacity="0.7"/>
<path d="M406.4,198.1C419.2,187.6 429.8,179.9 438.6,175.0M406.4,198.1C418.8,187.5 429.4,179.7 438.4,174.7M406.4,198.1C418.5,187.4 429.0,179.4 438.2,174.4M406.4,198.1C418.1,187.3 428.5,179.2 437.9,174.1M406.4,198.1C417.8,187.1 428.1,178.9 437.7,173.6M406.4,198.1C417.4,186.9 427.7,178.6 437.5,173.2M406.4,198.1C417.1,186.7 427.3,178.3 437.2,172.6M406.4,198.1C416.7,186.5 426.9,177.9 437.0,172.1M406.4,198.1C416.4,186.3 426.5,177.5 436.8,171.5M406.4,198.1C416.1,186.1 426.2,177.1 436.6,170.8M406.4,198.1C415.8,185.8 425.8,176.6 436.3,170.1" fill="none" stroke="#1c2673" stroke-width="0.5" opacity="0.7"/>
<path d="M438.6,175.0C447.4,170.2 454.4,168.3 459.8,169.6" fill="none" stroke="#212e71" stroke-width="0.5" opacity="0.7"/>
<path d="M459.8,169.6C465.2,170.9 469.1,175.5 471.8,183.6" fill="none" stroke="#5b7f5c" stroke-width="0.5" opacity="0.7"/>
<path d="M471.8,183.6C474.4,191.7 475.9,203.4 476.5,218.9M472.3,183.5C474.9,191.6 476.3,203.3 476.5,218.9M472.9,183.3C475.4,191.4 476.6,203.2 476.5,218.9M473.5,183.1C475.9,191.2 477.0,203.1 476.5,218.9M474.0,182.9C476.3,191.0 477.4,203.0 476.5,218.9M474.6,182.6C476.8,190.7 477.7,202.8 476.5,218.9M475.1,182.3C477.2,190.4 478.1,202.6 476.5,218.9M475.7,181.9C477.7,190.1 478.4,202.5 476.5,218.9" fill="none" stroke="#74a253" stroke-width="0.5" opacity="0.7"/>
<path d="M438.4,174.7C447.4,169.8 454.8,167.9 461.0,169.1M436.3,170.1C446.9,163.6 458.0,159.8 469.7,158.4" fill="none" stroke="#222e72" stroke-width="0.5" opacity="0.7"/>
<path d="M461.0,169.1C467.1,170.4 472.0,174.9 475.9,182.9" fill="none" stroke="#648563" stroke-width="0.5" opacity="0.7"/>
<path d="M438.2,174.4C447.4,169.4 455.2,167.3 462.1,168.5M437.5,173.2C447.2,167.7 456.5,165.2 465.4,165.7M437.0,172.1C447.1,166.3 457.2,163.3 467.3,163.1" fill="none" stroke="#212d71" stroke-width="0.5" opacity="0.7"/>
<path d="M462.1,168.5C469.0,169.6 474.8,173.9 479.9,181.7" fill="none" stroke="#537856" stroke-width="0.5" opacity="0.7"/>
<path d="M437.9,174.1C447.3,168.9 455.7,166.7 463.3,167.7M437.2,172.6C447.2,167.0 456.8,164.3 466.4,164.5" fill="none" stroke="#222e71" stroke-width="0.5" opacity="0.7"/>
<path d="M463.3,167.7C470.8,168.6 477.6,172.8 483.9,180.2M466.4,164.5C475.9,164.6 485.4,167.7 494.9,173.8" fill="none" stroke="#618361" stroke-width="0.5" opacity="0.7"/>
<path d="M437.7,173.6C447.3,168.4 456.1,166.0 464.3,166.8" fill="none" stroke="#202d70" stroke-width="0.5" opacity="0.7"/>
<path d="M464.3,166.8C472.6,167.5 480.3,171.3 487.7,178.4" fill="none" stroke="#4e7351" stroke-width="0.5" opacity="0.7"/>
<path d="M465.4,165.7C474.3,166.2 482.9,169.6 491.4,176.2M467.3,163.1C477.5,162.9 487.7,165.6 498.2,171.0" fill="none" stroke="#587e5a" stroke-width="0.5" opacity="0.7"/>
<path d="M436.8,171.5C447.0,165.4 457.5,162.2 468.2,161.7M436.6,170.8C447.0,164.5 457.7,161.0 469.0,160.1" fill="none" stroke="#232e72" stroke-width="0.5" opacity="0.7"/>
<path d="M468.2,161.7C478.9,161.1 489.9,163.2 501.3,167.9M469.0,160.1C480.2,159.1 491.9,160.7 504.1,164.5" fill="none" stroke="#6a8868" stroke-width="0.5" opacity="0.7"/>
<path d="M469.7,158.4C481.4,157.0 493.7,157.9 506.7,161.0" fill="none" stroke="#678665" stroke-width="0.5" opacity="0.7"/>
<path d="M413.2,203.1C424.0,191.3 433.3,182.5 441.2,176.9M413.2,203.1C423.7,191.2 432.9,182.3 441.0,176.6M413.2,203.1C423.3,191.1 432.5,182.1 440.8,176.3M413.2,203.1C423.0,190.9 432.0,181.8 440.5,175.9M413.2,203.1C422.6,190.7 431.6,181.5 440.3,175.4M413.2,203.1C422.3,190.5 431.2,181.1 440.1,174.9M413.2,203.1C421.9,190.3 430.8,180.8 439.9,174.4M413.2,203.1C421.6,190.1 430.5,180.4 439.6,173.8M413.2,203.1C421.3,189.9 430.1,180.0 439.4,173.1M413.2,203.1C421.0,189.7 429.7,179.5 439.2,172.5M413.2,203.1C420.7,189.4 429.4,179.1 439.0,171.7M420.5,207.5C429.2,194.5 437.1,184.8 444.0,178.6M420.5,207.5C428.8,194.4 436.6,184.6 443.8,178.2M420.5,207.5C428.5,194.2 436.2,184.3 443.5,177.9M420.5,207.5C428.1,194.1 435.8,184.0 443.3,177.4M420.5,207.5C427.8,193.9 435.4,183.7 443.1,176.9M420.5,207.5C427.4,193.7 435.0,183.3 442.9,176.4M420.5,207.5C427.1,193.5 434.6,183.0 442.7,175.8M420.5,207.5C426.8,193.3 434.2,182.5 442.5,175.2M420.5,207.5C426.5,193.0 433.9,182.1 442.2,174.5M420.5,207.5C426.2,192.8 433.5,181.7 442.0,173.8M420.5,207.5C425.9,192.5 433.2,181.2 441.8,173.1M428.1,211.2C434.6,197.2 441.0,186.8 446.9,179.9M428.1,211.2C434.2,197.1 440.6,186.5 446.7,179.5M428.1,211.2C433.9,196.9 440.2,186.2 446.5,179.1M428.1,211.2C433.6,196.7 439.8,185.9 446.3,178.7M428.1,211.2C433.2,196.6 439.4,185.5 446.1,178.1M428.1,211.2C432.9,196.3 439.0,185.1 445.8,177.6M428.1,211.2C432.6,196.1 438.6,184.7 445.6,177.0M428.1,211.2C432.3,195.9 438.2,184.3 445.4,176.3M428.1,211.2C432.0,195.6 437.9,183.9 445.2,175.6M428.1,211.2C431.7,195.4 437.5,183.4 445.0,174.9M436.0,214.3C440.3,199.4 445.1,188.3 450.0,180.9M436.0,214.3C439.9,199.3 444.7,188.0 449.8,180.5M436.0,214.3C439.6,199.1 444.3,187.7 449.6,180.1M436.0,214.3C439.2,198.9 443.9,187.3 449.4,179.6M436.0,214.3C438.9,198.7 443.5,187.0 449.1,179.0M436.0,214.3C438.6,198.5 443.1,186.6 448.9,178.5M436.0,214.3C438.3,198.2 442.8,186.1 448.7,177.8M436.0,214.3C438.0,198.0 442.4,185.7 448.5,177.1M436.0,214.3C437.7,197.7 442.1,185.2 448.3,176.4M444.1,216.7C446.1,201.1 449.4,189.4 453.2,181.6M444.1,216.7C445.7,200.9 449.0,189.1 453.0,181.2M444.1,216.7C445.4,200.7 448.6,188.7 452.7,180.7M444.1,216.7C445.1,200.5 448.2,188.4 452.5,180.2M444.1,216.7C444.8,200.3 447.8,188.0 452.3,179.6M444.1,216.7C444.5,200.1 447.4,187.5 452.1,179.0M444.1,216.7C444.2,199.8 447.1,187.1 451.9,178.3M444.1,216.7C443.9,199.5 446.7,186.6 451.7,177.6" fill="none" stroke="#38489d" stroke-width="0.5" opacity="0.7"/>
<path d="M441.2,176.9C449.1,171.3 455.6,168.9 460.7,170.0M444.0,178.6C450.9,172.3 456.9,169.5 461.8,170.2M446.9,179.9C452.9,173.1 458.3,169.8 462.8,170.3M450.0,180.9C454.9,173.6 459.7,170.0 463.9,170.3M453.2,181.6C456.9,173.9 461.2,170.1 465.1,170.2" fill="none" stroke="#3c4d99" stroke-width="0.5" opacity="0.7"/>
<path d="M460.7,170.0C465.9,171.0 469.7,175.4 472.3,183.5M461.8,170.2C466.6,171.0 470.4,175.3 472.9,183.3M462.8,170.3C467.4,170.8 471.1,175.1 473.5,183.1M463.9,170.3C468.2,170.7 471.7,174.8 474.0,182.9M465.1,170.2C468.9,170.4 472.4,174.5 474.6,182.6" fill="none" stroke="#638968" stroke-width="0.5" opacity="0.7"/>
<path d="M441.0,176.6C449.1,171.0 456.0,168.5 461.9,169.4M440.5,175.9C449.0,170.0 456.9,167.3 464.2,167.9M439.9,174.4C448.9,168.0 458.1,164.7 467.3,164.5M443.8,178.2C450.9,171.9 457.4,169.0 462.9,169.6M443.3,177.4C450.9,170.8 458.2,167.7 465.2,168.0M442.7,175.8C450.7,168.7 459.4,165.0 468.3,164.5M446.7,179.5C452.8,172.6 458.7,169.3 464.0,169.7M446.3,178.7C452.8,171.4 459.6,167.9 466.3,168.0M445.6,177.0C452.7,169.2 460.8,165.1 469.4,164.4M449.8,180.5C454.8,173.1 460.2,169.4 465.1,169.7M449.4,179.6C454.8,171.9 461.0,168.0 467.4,167.9M448.7,177.8C454.7,169.5 462.2,165.0 470.5,164.1M453.0,181.2C456.9,173.3 461.7,169.4 466.2,169.5M452.5,180.2C456.9,172.0 462.5,167.9 468.5,167.6M451.9,178.3C456.8,169.6 463.7,164.8 471.5,163.7" fill="none" stroke="#3c4e99" stroke-width="0.5" opacity="0.7"/>
<path d="M461.9,169.4C467.8,170.4 472.6,174.7 476.4,182.7M462.9,169.6C468.5,170.3 473.3,174.5 477.0,182.5M464.0,169.7C469.3,170.1 473.9,174.3 477.6,182.3M465.1,169.7C470.0,169.9 474.6,174.0 478.1,182.0M466.2,169.5C470.8,169.6 475.3,173.6 478.7,181.6" fill="none" stroke="#6c8e6f" stroke-width="0.5" opacity="0.7"/>
<path d="M440.8,176.3C449.1,170.5 456.5,167.9 463.1,168.7M440.1,174.9C448.9,168.7 457.7,165.7 466.4,165.8M439.6,173.8C448.8,167.2 458.4,163.7 468.3,163.2M443.5,177.9C450.9,171.4 457.8,168.4 464.1,168.9M442.9,176.4C450.8,169.5 459.0,166.0 467.4,165.8M442.5,175.2C450.7,167.9 459.7,163.9 469.3,163.1M446.5,179.1C452.8,172.1 459.2,168.6 465.2,168.9M445.8,177.6C452.7,170.0 460.4,166.1 468.4,165.7M445.4,176.3C452.6,168.3 461.1,163.9 470.3,162.9M449.6,180.1C454.8,172.5 460.6,168.7 466.3,168.8M448.9,178.5C454.8,170.4 461.8,166.1 469.5,165.5M448.5,177.1C454.7,168.6 462.5,163.9 471.4,162.6M452.7,180.7C456.9,172.7 462.1,168.7 467.4,168.6M452.1,179.0C456.8,170.5 463.3,165.9 470.6,165.2M451.7,177.6C456.8,168.7 464.0,163.6 472.5,162.2" fill="none" stroke="#3b4d98" stroke-width="0.5" opacity="0.7"/>
<path d="M463.1,168.7C469.7,169.6 475.5,173.8 480.5,181.5M464.1,168.9C470.4,169.4 476.1,173.5 481.1,181.3M465.2,168.9C471.2,169.2 476.8,173.2 481.6,181.0M466.3,168.8C471.9,168.9 477.4,172.9 482.1,180.7M467.4,168.6C472.7,168.6 478.1,172.5 482.7,180.3" fill="none" stroke="#5a8161" stroke-width="0.5" opacity="0.7"/>
<path d="M464.2,167.9C471.5,168.6 478.3,172.5 484.5,180.0M467.3,164.5C476.6,164.4 486.0,167.4 495.4,173.4M465.2,168.0C472.2,168.4 478.9,172.3 485.0,179.7M468.3,164.5C477.3,164.1 486.6,167.0 495.9,173.0M466.3,168.0C473.0,168.1 479.5,171.9 485.5,179.4M469.4,164.4C478.0,163.7 487.2,166.5 496.4,172.6M467.4,167.9C473.7,167.8 480.2,171.5 486.1,179.0M470.5,164.1C478.7,163.2 487.8,166.0 496.9,172.1M468.5,167.6C474.5,167.4 480.8,171.1 486.6,178.6M471.5,163.7C479.4,162.7 488.4,165.4 497.4,171.6" fill="none" stroke="#698c6d" stroke-width="0.5" opacity="0.7"/>
<path d="M440.3,175.4C449.0,169.4 457.3,166.5 465.3,166.9M443.1,176.9C450.8,170.2 458.6,166.9 466.3,167.0M446.1,178.1C452.8,170.8 460.0,167.0 467.4,166.9M449.1,179.0C454.8,171.1 461.4,167.1 468.5,166.8M452.3,179.6C456.9,171.3 462.9,166.9 469.6,166.5" fill="none" stroke="#3a4c98" stroke-width="0.5" opacity="0.7"/>
<path d="M465.3,166.9C473.3,167.4 481.0,171.1 488.3,178.1M466.3,167.0C474.0,167.1 481.6,170.7 488.8,177.8M467.4,166.9C474.7,166.8 482.2,170.3 489.3,177.5M468.5,166.8C475.5,166.4 482.8,169.9 489.9,177.1M469.6,166.5C476.2,166.0 483.4,169.4 490.4,176.6" fill="none" stroke="#557c5c" stroke-width="0.5" opacity="0.7"/>
<path d="M466.4,165.8C475.0,166.0 483.5,169.3 492.0,175.9M468.3,163.2C478.1,162.7 488.3,165.2 498.7,170.6M467.4,165.8C475.7,165.7 484.1,169.0 492.5,175.6M469.3,163.1C478.8,162.3 488.9,164.7 499.2,170.2M468.4,165.7C476.4,165.4 484.8,168.5 493.0,175.2M470.3,162.9C479.5,161.9 489.5,164.2 499.7,169.7M469.5,165.5C477.1,164.9 485.4,168.1 493.5,174.8M471.4,162.6C480.2,161.4 490.0,163.7 500.2,169.2M470.6,165.2C477.9,164.4 486.0,167.5 494.0,174.3M472.5,162.2C480.9,160.8 490.6,163.0 500.6,168.7" fill="none" stroke="#608766" stroke-width="0.5" opacity="0.7"/>
<path d="M439.4,173.1C448.8,166.3 458.7,162.5 469.1,161.7M439.2,172.5C448.7,165.4 459.0,161.3 469.9,160.0M439.0,171.7C448.6,164.4 459.2,160.0 470.6,158.3M442.2,174.5C450.6,167.0 460.0,162.7 470.1,161.5M442.0,173.8C450.6,166.0 460.3,161.5 470.9,159.9M441.8,173.1C450.5,165.0 460.5,160.2 471.6,158.1M445.2,175.6C452.6,167.4 461.4,162.7 471.1,161.3M445.0,174.9C452.5,166.4 461.7,161.5 471.9,159.6M448.3,176.4C454.6,167.7 462.8,162.6 472.2,161.0" fill="none" stroke="#3d4e99" stroke-width="0.5" opacity="0.7"/>
<path d="M469.1,161.7C479.6,160.8 490.5,162.8 501.8,167.5M469.9,160.0C480.9,158.7 492.4,160.2 504.6,164.1M470.1,161.5C480.2,160.4 491.0,162.3 502.2,167.0M470.9,159.9C481.5,158.3 493.0,159.6 505.0,163.6M471.1,161.3C480.9,159.9 491.6,161.7 502.7,166.5M471.9,159.6C482.2,157.8 493.5,159.1 505.5,163.1M472.2,161.0C481.6,159.4 492.1,161.1 503.2,166.0" fill="none" stroke="#719173" stroke-width="0.5" opacity="0.7"/>
<path d="M470.6,158.3C482.0,156.5 494.2,157.4 507.1,160.5M471.6,158.1C482.7,156.1 494.8,156.8 507.5,160.0" fill="none" stroke="#6f9071" stroke-width="0.5" opacity="0.7"/>
<path d="M452.5,218.3C452.1,202.2 453.7,190.1 456.4,182.0M452.5,218.3C451.7,202.0 453.3,189.7 456.2,181.5M452.5,218.3C451.4,201.8 452.9,189.4 456.0,181.0M452.5,218.3C451.1,201.6 452.6,189.0 455.8,180.5M452.5,218.3C450.8,201.3 452.2,188.6 455.6,179.9M452.5,218.3C450.5,201.1 451.8,188.1 455.4,179.2M452.5,218.3C450.2,200.8 451.5,187.6 455.2,178.5M460.9,219.2C458.1,202.7 458.2,190.3 459.7,182.0M460.9,219.2C457.8,202.5 457.8,189.9 459.5,181.5M460.9,219.2C457.5,202.3 457.4,189.6 459.3,181.0M460.9,219.2C457.2,202.1 457.0,189.1 459.1,180.4M460.9,219.2C456.9,201.8 456.6,188.7 458.9,179.8M460.9,219.2C456.6,201.6 456.3,188.2 458.7,179.1" fill="none" stroke="#3c4ca0" stroke-width="0.5" opacity="0.7"/>
<path d="M456.4,182.0C459.1,173.9 462.7,169.9 466.2,170.0M456.0,181.0C459.0,172.7 463.6,168.5 468.5,168.3M455.4,179.2C459.0,170.3 464.8,165.6 471.7,164.7M459.7,182.0C461.2,173.8 464.2,169.6 467.4,169.6M459.3,181.0C461.2,172.4 465.1,168.1 469.7,167.8M458.7,179.1C461.2,170.0 466.3,165.0 472.8,164.1" fill="none" stroke="#3f519b" stroke-width="0.5" opacity="0.7"/>
<path d="M466.2,170.0C469.7,170.0 473.1,174.1 475.1,182.3M467.4,169.6C470.5,169.6 473.7,173.7 475.7,181.9" fill="none" stroke="#648a69" stroke-width="0.5" opacity="0.7"/>
<path d="M456.2,181.5C459.1,173.4 463.2,169.2 467.4,169.2M455.8,180.5C459.0,172.0 464.0,167.6 469.6,167.2M455.2,178.5C459.0,169.4 465.2,164.4 472.7,163.2M459.5,181.5C461.2,173.1 464.7,168.9 468.5,168.8M459.1,180.4C461.2,171.7 465.6,167.2 470.8,166.7" fill="none" stroke="#40529c" stroke-width="0.5" opacity="0.7"/>
<path d="M467.4,169.2C471.6,169.2 475.9,173.2 479.2,181.3M468.5,168.8C472.4,168.7 476.6,172.7 479.8,180.9" fill="none" stroke="#6d9070" stroke-width="0.5" opacity="0.7"/>
<path d="M468.5,168.3C473.4,168.1 478.7,172.0 483.2,179.9M469.7,167.8C474.2,167.6 479.3,171.5 483.7,179.5" fill="none" stroke="#5c8362" stroke-width="0.5" opacity="0.7"/>
<path d="M469.6,167.2C475.2,166.9 481.4,170.6 487.1,178.2M472.7,163.2C480.2,162.1 488.9,164.8 497.9,171.1M470.8,166.7C476.0,166.3 482.0,170.0 487.6,177.7" fill="none" stroke="#6a8d6e" stroke-width="0.5" opacity="0.7"/>
<path d="M455.6,179.9C459.0,171.2 464.4,166.6 470.7,166.0M458.9,179.8C461.2,170.9 466.0,166.1 471.8,165.5" fill="none" stroke="#3e509a" stroke-width="0.5" opacity="0.7"/>
<path d="M470.7,166.0C476.9,165.5 484.1,168.9 490.9,176.2M471.8,165.5C477.7,164.8 484.6,168.3 491.4,175.6" fill="none" stroke="#577e5d" stroke-width="0.5" opacity="0.7"/>
<path d="M471.7,164.7C478.6,163.8 486.6,166.9 494.5,173.8M472.8,164.1C479.3,163.2 487.1,166.3 494.9,173.2" fill="none" stroke="#618867" stroke-width="0.5" opacity="0.7"/>
<path d="M452.73,27.71 L458.29,27.05 L457.63,21.48 L452.07,22.15 Z" fill="#8a1414"/>
<text transform="translate(454.55,19.33) rotate(83.20)" font-size="6.0" fill="#cc3a3a" text-anchor="end" dy="2.0">N564</text>
<path d="M444.49,29.31 L449.97,28.16 L448.82,22.68 L443.34,23.82 Z" fill="#8a1414"/>
<text transform="translate(445.57,20.80) rotate(78.20)" font-size="6.0" fill="#cc3a3a" text-anchor="end" dy="2.0">W567</text>
<path d="M436.41,31.62 L441.78,30.00 L440.16,24.64 L434.80,26.25 Z" fill="#b52121"/>
<text transform="translate(436.75,23.05) rotate(73.20)" font-size="6.0" fill="#cc3a3a" text-anchor="end" dy="2.0">S647</text>
<path d="M428.57,34.62 L433.77,32.54 L431.69,27.34 L426.49,29.42 Z" fill="#b52121"/>
<text transform="translate(428.17,26.06) rotate(68.20)" font-size="6.0" fill="#cc3a3a" text-anchor="end" dy="2.0">D646</text>
<path d="M421.03,38.30 L426.02,35.77 L423.50,30.77 L418.50,33.30 Z" fill="#b52121"/>
<text transform="translate(419.87,29.80) rotate(63.20)" font-size="6.0" fill="#cc3a3a" text-anchor="end" dy="2.0">N648</text>
<path d="M413.83,42.62 L418.59,39.66 L415.64,34.91 L410.88,37.86 Z" fill="#c82a28"/>
<text transform="translate(411.94,34.26) rotate(58.20)" font-size="6.0" fill="#cc3a3a" text-anchor="end" dy="2.0">E580</text>
<path d="M407.03,47.55 L411.52,44.19 L408.16,39.71 L403.68,43.06 Z" fill="#d0302d"/>
<text transform="translate(404.42,39.38) rotate(53.20)" font-size="6.0" fill="#cc3a3a" text-anchor="end" dy="2.0">Y610</text>
<path d="M400.69,53.05 L404.87,49.32 L401.13,45.14 L396.96,48.88 Z" fill="#d0302d"/>
<text transform="translate(397.38,45.15) rotate(48.20)" font-size="6.0" fill="#cc3a3a" text-anchor="end" dy="2.0">N573</text>
<path d="M394.86,59.09 L398.69,55.01 L394.61,51.17 L390.77,55.25 Z" fill="#d83631"/>
<text transform="translate(390.87,51.50) rotate(43.20)" font-size="6.0" fill="#cc3a3a" text-anchor="end" dy="2.0">Q576</text>
<path d="M389.57,65.61 L393.03,61.21 L388.63,57.75 L385.17,62.15 Z" fill="#d83631"/>
<text transform="translate(384.94,58.40) rotate(38.20)" font-size="6.0" fill="#cc3a3a" text-anchor="end" dy="2.0">G574</text>
<path d="M384.87,72.57 L387.94,67.88 L383.25,64.82 L380.18,69.50 Z" fill="#d83631"/>
<text transform="translate(379.63,65.79) rotate(33.20)" font-size="6.0" fill="#cc3a3a" text-anchor="end" dy="2.0">N571</text>
<path d="M380.80,79.91 L383.44,74.97 L378.51,72.33 L375.86,77.26 Z" fill="#d83631"/>
<text transform="translate(374.98,73.61) rotate(28.20)" font-size="6.0" fill="#cc3a3a" text-anchor="end" dy="2.0">L645</text>
<path d="M377.38,87.58 L379.58,82.43 L374.44,80.22 L372.23,85.37 Z" fill="#d83631"/>
<text transform="translate(371.03,81.81) rotate(23.20)" font-size="6.0" fill="#cc3a3a" text-anchor="end" dy="2.0">Y565</text>
<path d="M374.64,95.51 L376.39,90.19 L371.07,88.44 L369.32,93.76 Z" fill="#d83631"/>
<text transform="translate(367.82,90.32) rotate(18.20)" font-size="6.0" fill="#cc3a3a" text-anchor="end" dy="2.0">N642</text>
<path d="M372.60,103.66 L373.88,98.21 L368.43,96.93 L367.15,102.38 Z" fill="#d83631"/>
<text transform="translate(365.36,99.08) rotate(13.20)" font-size="6.0" fill="#cc3a3a" text-anchor="end" dy="2.0">E644</text>
<path d="M371.28,111.95 L372.08,106.41 L366.54,105.61 L365.74,111.15 Z" fill="#d83631"/>
<text transform="translate(363.67,108.02) rotate(8.20)" font-size="6.0" fill="#cc3a3a" text-anchor="end" dy="2.0">G649</text>
<path d="M370.69,120.33 L371.01,114.73 L365.42,114.42 L365.10,120.01 Z" fill="#c82a28"/>
<text transform="translate(362.76,117.08) rotate(3.20)" font-size="6.0" fill="#cc3a3a" text-anchor="end" dy="2.0">G608</text>
<path d="M370.84,128.72 L370.66,123.12 L365.06,123.30 L365.24,128.90 Z" fill="#eb5f58"/>
<text transform="translate(362.65,126.18) rotate(-1.80)" font-size="6.0" fill="#cc3a3a" text-anchor="end" dy="2.0">D577</text>
<path d="M371.71,137.07 L371.05,131.51 L365.48,132.17 L366.15,137.73 Z" fill="#ee7c75"/>
<text transform="translate(363.33,135.25) rotate(-6.80)" font-size="6.0" fill="#cc3a3a" text-anchor="end" dy="2.0">V650</text>
<path d="M373.31,145.31 L372.16,139.83 L366.68,140.98 L367.82,146.46 Z" fill="#ee7c75"/>
<text transform="translate(364.80,144.23) rotate(-11.80)" font-size="6.0" fill="#cc3a3a" text-anchor="end" dy="2.0">E643</text>
<path d="M375.62,153.39 L374.00,148.02 L368.64,149.64 L370.25,155.00 Z" fill="#f08a84"/>
<text transform="translate(367.05,153.05) rotate(-16.80)" font-size="6.0" fill="#cc3a3a" text-anchor="end" dy="2.0">I612</text>
<path d="M378.62,161.23 L376.54,156.03 L371.34,158.11 L373.42,163.31 Z" fill="#f08a84"/>
<text transform="translate(370.06,161.63) rotate(-21.80)" font-size="6.0" fill="#cc3a3a" text-anchor="end" dy="2.0">V588</text>
<path d="M471.54,26.48 L476.73,26.87 L477.03,22.88 L471.84,22.49 Z" fill="#1a3a10"/>
<text transform="translate(474.66,19.69) rotate(-85.70)" font-size="6.0" fill="#3e6e22" text-anchor="start" dy="2.0">D569</text>
<path d="M480.18,27.28 L485.31,28.14 L485.90,24.59 L480.77,23.73 Z" fill="#1d4113"/>
<text transform="translate(483.89,20.80) rotate(-80.55)" font-size="6.0" fill="#3e6e22" text-anchor="start" dy="2.0">W567</text>
<path d="M488.71,28.86 L493.74,30.17 L494.50,27.27 L489.46,25.96 Z" fill="#204816"/>
<text transform="translate(492.99,22.74) rotate(-75.40)" font-size="6.0" fill="#3e6e22" text-anchor="start" dy="2.0">N564</text>
<path d="M497.06,31.20 L501.96,32.96 L502.36,31.83 L497.47,30.07 Z" fill="#6ea33d"/>
<text transform="translate(501.87,25.49) rotate(-70.25)" font-size="6.0" fill="#3e6e22" text-anchor="start" dy="2.0">S647</text>
<path d="M505.17,34.28 L509.89,36.46 L510.48,35.20 L505.76,33.01 Z" fill="#43802a"/>
<text transform="translate(510.48,29.02) rotate(-65.10)" font-size="6.0" fill="#3e6e22" text-anchor="start" dy="2.0">D646</text>
<path d="M512.97,38.07 L517.47,40.67 L519.28,37.56 L514.78,34.95 Z" fill="#1d4113"/>
<text transform="translate(518.73,33.31) rotate(-59.95)" font-size="6.0" fill="#3e6e22" text-anchor="start" dy="2.0">E580</text>
<path d="M520.40,42.55 L524.65,45.54 L526.84,42.44 L522.59,39.44 Z" fill="#1d4113"/>
<text transform="translate(526.56,38.33) rotate(-54.80)" font-size="6.0" fill="#3e6e22" text-anchor="start" dy="2.0">N573</text>
<path d="M527.40,47.67 L531.36,51.04 L532.27,49.97 L528.30,46.61 Z" fill="#58942e"/>
<text transform="translate(533.91,44.02) rotate(-49.65)" font-size="6.0" fill="#3e6e22" text-anchor="start" dy="2.0">N648</text>
<path d="M533.91,53.41 L537.55,57.12 L540.76,53.96 L537.12,50.25 Z" fill="#1a3a10"/>
<text transform="translate(540.72,50.36) rotate(-44.50)" font-size="6.0" fill="#3e6e22" text-anchor="start" dy="2.0">Y610</text>
<path d="M539.87,59.70 L543.17,63.72 L545.95,61.44 L542.66,57.42 Z" fill="#1d4113"/>
<text transform="translate(546.94,57.28) rotate(-39.35)" font-size="6.0" fill="#3e6e22" text-anchor="start" dy="2.0">G574</text>
<path d="M545.25,66.51 L548.17,70.81 L549.83,69.69 L546.91,65.38 Z" fill="#356f25"/>
<text transform="translate(552.50,64.72) rotate(-34.20)" font-size="6.0" fill="#3e6e22" text-anchor="start" dy="2.0">Q576</text>
<path d="M550.00,73.77 L552.52,78.32 L555.49,76.66 L552.97,72.12 Z" fill="#1d4113"/>
<text transform="translate(557.38,72.64) rotate(-29.05)" font-size="6.0" fill="#3e6e22" text-anchor="start" dy="2.0">N571</text>
<path d="M554.07,81.43 L556.18,86.18 L557.28,85.69 L555.17,80.94 Z" fill="#6ea33d"/>
<text transform="translate(561.53,80.97) rotate(-23.90)" font-size="6.0" fill="#3e6e22" text-anchor="start" dy="2.0">L645</text>
<path d="M557.44,89.42 L559.11,94.34 L560.25,93.96 L558.58,89.03 Z" fill="#5f9a30"/>
<text transform="translate(564.91,89.63) rotate(-18.75)" font-size="6.0" fill="#3e6e22" text-anchor="start" dy="2.0">G649</text>
<path d="M560.08,97.68 L561.31,102.74 L562.57,102.43 L561.35,97.38 Z" fill="#58942e"/>
<text transform="translate(567.50,98.56) rotate(-13.60)" font-size="6.0" fill="#3e6e22" text-anchor="start" dy="2.0">N642</text>
<path d="M561.97,106.15 L562.73,111.29 L564.71,111.00 L563.95,105.85 Z" fill="#356f25"/>
<text transform="translate(569.28,107.69) rotate(-8.45)" font-size="6.0" fill="#3e6e22" text-anchor="start" dy="2.0">Y565</text>
<path d="M563.09,114.75 L563.39,119.94 L564.69,119.87 L564.39,114.67 Z" fill="#5f9a30"/>
<text transform="translate(570.23,116.94) rotate(-3.30)" font-size="6.0" fill="#3e6e22" text-anchor="start" dy="2.0">E644</text>
<path d="M563.43,123.42 L563.27,128.61 L567.76,128.76 L567.93,123.56 Z" fill="#1a3a10"/>
<text transform="translate(570.35,126.24) rotate(1.85)" font-size="6.0" fill="#3e6e22" text-anchor="start" dy="2.0">G608</text>
<path d="M563.00,132.08 L562.36,137.24 L566.33,137.73 L566.97,132.57 Z" fill="#1a3a10"/>
<text transform="translate(569.63,135.51) rotate(7.00)" font-size="6.0" fill="#3e6e22" text-anchor="start" dy="2.0">D577</text>
<path d="M561.79,140.67 L560.69,145.75 L561.86,146.00 L562.96,140.92 Z" fill="#6ea33d"/>
<text transform="translate(568.08,144.68) rotate(12.15)" font-size="6.0" fill="#3e6e22" text-anchor="start" dy="2.0">V650</text>
<path d="M559.81,149.11 L558.26,154.08 L559.50,154.47 L561.05,149.50 Z" fill="#5f9a30"/>
<text transform="translate(565.72,153.68) rotate(17.30)" font-size="6.0" fill="#3e6e22" text-anchor="start" dy="2.0">E643</text>
<path d="M557.08,157.35 L555.09,162.15 L558.42,163.53 L560.41,158.72 Z" fill="#1d4113"/>
<text transform="translate(562.56,162.42) rotate(22.45)" font-size="6.0" fill="#3e6e22" text-anchor="start" dy="2.0">V588</text>
<path d="M553.62,165.30 L551.21,169.91 L554.58,171.67 L556.99,167.06 Z" fill="#1d4113"/>
<text transform="translate(558.62,170.85) rotate(27.60)" font-size="6.0" fill="#3e6e22" text-anchor="start" dy="2.0">I612</text>
<path d="M385.73,175.17 L382.64,170.03 L374.07,175.18 L377.16,180.32 Z" fill="#1a2070"/>
<text transform="translate(373.47,179.04) rotate(-31.00)" font-size="6.0" fill="#3444a8" text-anchor="end" dy="2.0">V559</text>
<path d="M390.63,182.10 L387.10,177.25 L379.02,183.13 L382.55,187.99 Z" fill="#1a2070"/>
<text transform="translate(378.76,187.03) rotate(-36.04)" font-size="6.0" fill="#3444a8" text-anchor="end" dy="2.0">Y560</text>
<path d="M396.13,188.57 L392.19,184.05 L385.03,190.29 L388.97,194.82 Z" fill="#1a2070"/>
<text transform="translate(385.11,194.20) rotate(-41.08)" font-size="6.0" fill="#3444a8" text-anchor="end" dy="2.0">E558</text>
<path d="M402.17,194.54 L397.85,190.38 L391.61,196.86 L395.94,201.02 Z" fill="#1a2070"/>
<text transform="translate(392.04,200.75) rotate(-46.12)" font-size="6.0" fill="#3444a8" text-anchor="end" dy="2.0">D588</text>
<path d="M408.72,199.95 L404.04,196.18 L399.97,201.25 L404.64,205.01 Z" fill="#2732a3"/>
<text transform="translate(400.74,205.07) rotate(-51.16)" font-size="6.0" fill="#3444a8" text-anchor="end" dy="2.0">K561</text>
<path d="M415.29,204.48 L411.14,201.70 L410.25,203.03 L414.40,205.81 Z" fill="#7f8ce6"/>
<text transform="translate(410.99,206.41) rotate(-56.20)" font-size="6.0" fill="#3444a8" text-anchor="end" dy="2.0">N617</text>
<path d="M422.66,208.70 L418.28,206.29 L417.51,207.70 L421.89,210.10 Z" fill="#7f8ce6"/>
<text transform="translate(418.55,211.00) rotate(-61.24)" font-size="6.0" fill="#3444a8" text-anchor="end" dy="2.0">V653</text>
<path d="M430.37,212.25 L425.79,210.24 L425.15,211.71 L429.73,213.72 Z" fill="#7f8ce6"/>
<text transform="translate(426.47,214.91) rotate(-66.28)" font-size="6.0" fill="#3444a8" text-anchor="end" dy="2.0">Q629</text>
<path d="M438.36,215.12 L433.62,213.52 L433.11,215.03 L437.85,216.63 Z" fill="#7f8ce6"/>
<text transform="translate(434.71,218.11) rotate(-71.32)" font-size="6.0" fill="#3444a8" text-anchor="end" dy="2.0">D660</text>
<path d="M446.57,217.27 L441.71,216.09 L441.34,217.64 L446.20,218.82 Z" fill="#7f8ce6"/>
<text transform="translate(443.20,220.57) rotate(-76.36)" font-size="6.0" fill="#3444a8" text-anchor="end" dy="2.0">G658</text>
<path d="M454.94,218.69 L450.00,217.94 L449.76,219.52 L454.70,220.27 Z" fill="#8c98ec"/>
<text transform="translate(451.87,222.27) rotate(-81.40)" font-size="6.0" fill="#3444a8" text-anchor="end" dy="2.0">T655</text>
<path d="M463.40,219.37 L458.41,219.06 L458.31,220.66 L463.30,220.97 Z" fill="#8c98ec"/>
<text transform="translate(460.66,223.21) rotate(-86.44)" font-size="6.0" fill="#3444a8" text-anchor="end" dy="2.0">Y673</text>
<path d="M479.07,218.66 L473.90,219.18 L474.08,220.97 L479.25,220.46 Z" fill="#43802a"/>
<text transform="translate(476.98,223.90) rotate(-275.70)" font-size="6.0" fill="#4e7e30" text-anchor="start" dy="2.0">V653</text>
<path d="M487.52,217.21 L482.41,218.18 L482.71,219.75 L487.82,218.78 Z" fill="#58942e"/>
<text transform="translate(485.90,222.61) rotate(-280.79)" font-size="6.0" fill="#4e7e30" text-anchor="start" dy="2.0">D660</text>
<path d="M495.81,215.01 L490.80,216.43 L491.35,218.35 L496.35,216.93 Z" fill="#356f25"/>
<text transform="translate(494.67,220.53) rotate(-285.88)" font-size="6.0" fill="#4e7e30" text-anchor="start" dy="2.0">N617</text>
<path d="M503.86,212.08 L499.01,213.94 L499.58,215.43 L504.44,213.57 Z" fill="#518d2d"/>
<text transform="translate(503.22,217.68) rotate(-290.97)" font-size="6.0" fill="#4e7e30" text-anchor="start" dy="2.0">Q629</text>
<path d="M511.63,208.45 L506.96,210.73 L508.01,212.89 L512.68,210.60 Z" fill="#2e6422"/>
<text transform="translate(511.49,214.08) rotate(-296.06)" font-size="6.0" fill="#4e7e30" text-anchor="start" dy="2.0">G658</text>
<path d="M519.04,204.14 L514.59,206.83 L515.52,208.37 L519.97,205.68 Z" fill="#3c7a28"/>
<text transform="translate(519.40,209.77) rotate(-301.15)" font-size="6.0" fill="#4e7e30" text-anchor="start" dy="2.0">T655</text>
<path d="M526.04,199.19 L521.85,202.27 L522.80,203.56 L526.99,200.49 Z" fill="#518d2d"/>
<text transform="translate(526.90,204.76) rotate(-306.24)" font-size="6.0" fill="#4e7e30" text-anchor="start" dy="2.0">Y673</text>
<path d="M532.58,193.65 L528.68,197.08 L529.86,198.43 L533.77,195.00 Z" fill="#3c7a28"/>
<text transform="translate(533.93,199.12) rotate(-311.33)" font-size="6.0" fill="#4e7e30" text-anchor="start" dy="2.0">K561</text>
<path d="M538.60,187.54 L535.01,191.31 L536.03,192.27 L539.61,188.51 Z" fill="#6ea33d"/>
<text transform="translate(540.43,192.87) rotate(-316.42)" font-size="6.0" fill="#4e7e30" text-anchor="start" dy="2.0">E558</text>
<path d="M544.05,180.92 L540.81,184.99 L541.91,185.87 L545.15,181.80 Z" fill="#6ea33d"/>
<text transform="translate(546.35,186.07) rotate(-321.51)" font-size="6.0" fill="#4e7e30" text-anchor="start" dy="2.0">Y560</text>
<path d="M548.89,173.85 L546.03,178.19 L547.20,178.96 L550.06,174.62 Z" fill="#5f9a30"/>
<text transform="translate(551.64,178.77) rotate(-326.60)" font-size="6.0" fill="#4e7e30" text-anchor="start" dy="2.0">V559</text>
<circle cx="324.1" cy="7.3" r="4.3" fill="#fbc8c8"/>
<text x="321.70" y="18.60" font-size="7.8" fill="#666" text-anchor="middle" >&lt;0.2</text>
<circle cx="340.2" cy="7.3" r="4.3" fill="#f08a84"/>
<text x="340.20" y="18.60" font-size="7.8" fill="#666" text-anchor="middle" >0.4</text>
<circle cx="356.2" cy="7.3" r="4.3" fill="#e8423a"/>
<text x="356.20" y="18.60" font-size="7.8" fill="#666" text-anchor="middle" >0.6</text>
<circle cx="372.3" cy="7.3" r="4.3" fill="#c02424"/>
<text x="372.30" y="18.60" font-size="7.8" fill="#666" text-anchor="middle" >0.8</text>
<circle cx="388.3" cy="7.3" r="4.3" fill="#8a1414"/>
<text x="388.30" y="18.60" font-size="7.8" fill="#666" text-anchor="middle" >1.0</text>
<text x="320.70" y="28.20" font-size="7.9" fill="#5a5a5a" text-anchor="start" >Coupling strength</text>
<text x="321.30" y="40.00" font-size="9.05" fill="#c0183a" font-weight="bold" text-anchor="start" >Community I</text>
<circle cx="300.9" cy="209.4" r="4.4" fill="#e2e6fb"/>
<text x="298.50" y="221.30" font-size="7.8" fill="#666" text-anchor="middle" >&lt;0.2</text>
<circle cx="317.4" cy="209.4" r="4.4" fill="#8c98ec"/>
<text x="317.40" y="221.30" font-size="7.8" fill="#666" text-anchor="middle" >0.4</text>
<circle cx="334.2" cy="209.4" r="4.4" fill="#4a5ad0"/>
<text x="334.20" y="221.30" font-size="7.8" fill="#666" text-anchor="middle" >0.6</text>
<circle cx="351.0" cy="209.4" r="4.4" fill="#2a36b0"/>
<text x="351.00" y="221.30" font-size="7.8" fill="#666" text-anchor="middle" >0.8</text>
<circle cx="367.5" cy="209.4" r="4.4" fill="#1a2070"/>
<text x="367.50" y="221.30" font-size="7.8" fill="#666" text-anchor="middle" >1.0</text>
<text x="296.80" y="201.00" font-size="7.9" fill="#5a5a5a" text-anchor="start" >Coupling strength</text>
<text x="297.60" y="193.20" font-size="9.3" fill="#2a46b0" font-weight="bold" text-anchor="start" >Community II</text>
<circle cx="544.4" cy="215" r="4.5" fill="#a8c870"/>
<text x="542.00" y="227.20" font-size="7.8" fill="#666" text-anchor="middle" >&lt;0.2</text>
<circle cx="560.4" cy="215" r="4.5" fill="#5f9a30"/>
<text x="560.40" y="227.20" font-size="7.8" fill="#666" text-anchor="middle" >0.4</text>
<circle cx="576.5" cy="215" r="4.5" fill="#3c7a28"/>
<text x="576.50" y="227.20" font-size="7.8" fill="#666" text-anchor="middle" >0.6</text>
<circle cx="592.7" cy="215" r="4.5" fill="#2a5e20"/>
<text x="592.70" y="227.20" font-size="7.8" fill="#666" text-anchor="middle" >0.8</text>
<circle cx="608.8" cy="215" r="4.5" fill="#1a3a10"/>
<text x="608.80" y="227.20" font-size="7.8" fill="#666" text-anchor="middle" >1.0</text>
<text x="558.70" y="208.20" font-size="7.85" fill="#5a5a5a" text-anchor="start" >Conservation</text>
<line x1="582.50" y1="119.40" x2="602.90" y2="119.40" stroke="#999" stroke-width="0.9" />
<path d="M602.90,116.80 L602.90,122.00 L609.40,119.40 Z" fill="white" stroke="#999" stroke-width="0.81"/>
<text x="605.80" y="16.30" font-size="13.7" fill="#6a6a6a" text-anchor="start" >SdrD</text>
<path d="M683.3,0.8 C680.6,1.1 677.6,1.8 675.8,3.3 C674.0,4.8 673.2,7.8 672.5,10.0 C671.8,12.2 671.3,14.2 671.7,16.7 C672.1,19.2 674.9,22.5 675.0,25.0 C675.1,27.5 674.2,30.3 672.5,31.7 C670.8,33.1 667.1,32.4 665.0,33.3 C662.9,34.2 661.2,34.7 660.0,37.0 C658.8,39.3 657.3,44.2 658.0,47.0 C658.7,49.8 663.7,51.5 664.0,54.0 C664.3,56.5 661.3,59.3 660.0,62.0 C658.7,64.7 658.0,67.3 656.0,70.0 C654.0,72.7 650.7,75.3 648.0,78.0 C645.3,80.7 641.7,83.7 640.0,86.0 C638.3,88.3 639.7,90.0 638.0,92.0 C636.3,94.0 632.7,96.0 630.0,98.0 C627.3,100.0 624.3,101.7 622.0,104.0 C619.7,106.3 617.1,109.4 616.0,112.0 C614.9,114.6 615.4,117.1 615.6,119.4 C615.9,121.7 616.3,123.1 617.5,126.0 C618.7,128.9 620.6,133.7 623.0,137.0 C625.4,140.3 629.2,142.8 632.0,146.0 C634.8,149.2 638.0,152.7 640.0,156.0 C642.0,159.3 642.2,162.3 644.0,166.0 C645.8,169.7 649.2,173.5 651.0,178.0 C652.8,182.5 653.8,188.2 655.0,193.0 C656.2,197.8 655.5,203.2 658.0,207.0 C660.5,210.8 666.8,213.5 670.0,216.0 C673.2,218.5 675.5,218.7 677.0,222.0 C678.5,225.3 677.2,232.5 679.0,236.0 C680.8,239.5 683.7,242.3 687.5,243.0 C691.3,243.7 697.1,241.8 702.0,240.0 C706.9,238.2 712.3,234.8 716.7,232.3 C721.1,229.8 725.0,227.7 728.4,225.0 C731.8,222.3 734.6,219.8 737.0,216.0 C739.4,212.2 741.5,207.3 743.0,202.0 C744.5,196.7 744.5,189.3 746.0,184.0 C747.5,178.7 751.2,174.8 751.7,170.0 C752.2,165.2 748.5,159.0 749.0,155.0 C749.5,151.0 753.6,149.8 755.0,146.0 C756.4,142.2 757.2,136.7 757.6,132.0 C758.0,127.3 758.1,122.0 757.5,118.0 C756.9,114.0 755.6,111.0 754.0,108.0 C752.4,105.0 749.5,103.7 748.0,100.0 C746.5,96.3 746.8,90.7 745.0,86.0 C743.2,81.3 739.2,77.0 737.0,72.0 C734.8,67.0 733.3,60.5 732.0,56.0 C730.7,51.5 729.9,47.5 729.0,45.0 C728.1,42.5 728.2,41.6 726.7,40.8 C725.2,40.0 722.2,40.4 720.0,40.0 C717.8,39.6 715.2,39.4 713.3,38.3 C711.3,37.2 709.8,35.0 708.3,33.3 C706.8,31.6 704.9,30.2 704.2,28.3 C703.5,26.4 703.7,23.5 704.2,21.7 C704.8,19.9 707.1,19.2 707.5,17.5 C707.9,15.8 707.7,13.4 706.7,11.7 C705.7,10.0 703.5,8.5 701.7,7.5 C699.9,6.5 697.5,6.8 695.8,5.8 C694.1,4.8 693.8,2.5 691.7,1.7 C689.6,0.9 685.9,0.5 683.3,0.8 Z" fill="#f8f8fc" stroke="#b0b6da" stroke-width="0.7"/>
<path d="M687.5,21.7 C690,26 690,30 688,33" fill="none" stroke="#cdd1ea" stroke-width="0.6"/>
<path d="M660,37 C666,40 670,46 668,52" fill="none" stroke="#cdd1ea" stroke-width="0.6"/>
<path d="M656,70 C662,72 666,78 664,84" fill="none" stroke="#cdd1ea" stroke-width="0.6"/>
<path d="M648,78 C654,82 654,90 648,94" fill="none" stroke="#cdd1ea" stroke-width="0.6"/>
<path d="M638,92 C644,96 646,104 640,108" fill="none" stroke="#cdd1ea" stroke-width="0.6"/>
<path d="M622,104 C630,106 634,112 630,118" fill="none" stroke="#cdd1ea" stroke-width="0.6"/>
<path d="M623,137 C630,134 636,138 636,146" fill="none" stroke="#cdd1ea" stroke-width="0.6"/>
<path d="M644,166 C650,162 656,166 656,172" fill="none" stroke="#cdd1ea" stroke-width="0.6"/>
<path d="M651,178 C658,176 664,182 662,188" fill="none" stroke="#cdd1ea" stroke-width="0.6"/>
<path d="M658,207 C664,202 672,204 674,210" fill="none" stroke="#cdd1ea" stroke-width="0.6"/>
<path d="M679,236 C684,230 692,230 696,236" fill="none" stroke="#cdd1ea" stroke-width="0.6"/>
<path d="M702,240 C704,232 712,228 718,232" fill="none" stroke="#cdd1ea" stroke-width="0.6"/>
<path d="M737,216 C730,212 728,204 734,198" fill="none" stroke="#cdd1ea" stroke-width="0.6"/>
<path d="M746,184 C740,182 736,176 740,170" fill="none" stroke="#cdd1ea" stroke-width="0.6"/>
<path d="M749,155 C744,152 742,146 746,140" fill="none" stroke="#cdd1ea" stroke-width="0.6"/>
<path d="M757.5,118 C750,118 746,124 748,130" fill="none" stroke="#cdd1ea" stroke-width="0.6"/>
<path d="M745,86 C740,90 740,98 746,102" fill="none" stroke="#cdd1ea" stroke-width="0.6"/>
<path d="M732,56 C726,60 726,68 732,72" fill="none" stroke="#cdd1ea" stroke-width="0.6"/>
<path d="M713.3,38.3 C712,44 716,50 722,50" fill="none" stroke="#cdd1ea" stroke-width="0.6"/>
<path d="M699,28 C703,32 704,38 700,42" fill="none" stroke="#cdd1ea" stroke-width="0.6"/>
<path d="M676,44 C682,40 690,42 692,48" fill="none" stroke="#cdd1ea" stroke-width="0.6"/>
<path d="M664,120 C668,114 676,114 678,120" fill="none" stroke="#cdd1ea" stroke-width="0.6"/>
<path d="M632,120 C636,126 644,126 646,120" fill="none" stroke="#cdd1ea" stroke-width="0.6"/>
<path d="M728,180 C734,184 734,192 728,196" fill="none" stroke="#cdd1ea" stroke-width="0.6"/>
<path d="M700,222 C704,216 712,216 714,222" fill="none" stroke="#cdd1ea" stroke-width="0.6"/>
<path d="M668,196 C672,190 680,190 682,196" fill="none" stroke="#cdd1ea" stroke-width="0.6"/>
<path d="M694,20 C696,32 701,38 697,47 C694,53 689,55 686,58" fill="none" stroke="#c2c7e2" stroke-width="2.6" stroke-linecap="round"/>
<path d="M676,73 C672,80 671,88 674,95" fill="none" stroke="#c2c7e2" stroke-width="2.6" stroke-linecap="round"/>
<path d="M660,118 C652,122 648,128 652,134 C656,138 664,136 668,140" fill="none" stroke="#c2c7e2" stroke-width="2.6" stroke-linecap="round"/>
<path d="M640,128 C648,126 654,130 656,136" fill="none" stroke="#c2c7e2" stroke-width="2.6" stroke-linecap="round"/>
<path d="M685,178 C680,186 676,192 682,200 C690,208 700,214 712,216 C722,218 728,214 730,206" fill="none" stroke="#c2c7e2" stroke-width="2.6" stroke-linecap="round"/>
<path d="M700,188 C708,184 716,190 718,198 C720,206 726,210 732,206 C738,200 740,190 734,182" fill="none" stroke="#c2c7e2" stroke-width="2.6" stroke-linecap="round"/>
<path d="M738,172 C746,176 748,186 742,192" fill="none" stroke="#c2c7e2" stroke-width="2.6" stroke-linecap="round"/>
<path d="M672,168 C676,176 684,178 688,176" fill="none" stroke="#c2c7e2" stroke-width="2.6" stroke-linecap="round"/>
<path d="M722,100 C730,104 736,108 742,106" fill="none" stroke="#c2c7e2" stroke-width="2.6" stroke-linecap="round"/>
<path d="M708,62 C716,60 724,64 728,72" fill="none" stroke="#c2c7e2" stroke-width="2.6" stroke-linecap="round"/>
<path d="M700,112 C706,116 712,118 716,116" fill="none" stroke="#c2c7e2" stroke-width="2.6" stroke-linecap="round"/>
<path d="M654,104 C660,100 666,100 672,104" fill="none" stroke="#c2c7e2" stroke-width="2.6" stroke-linecap="round"/>
<path d="M698.8,101 L700,125 L702.5,152" fill="none" stroke="#cfadad" stroke-width="7" stroke-linejoin="round" stroke-linecap="butt" opacity="1"/>
<path d="M688,112 L698,134 L709,156" fill="none" stroke="#bf9a9a" stroke-width="6" stroke-linejoin="round" stroke-linecap="butt" opacity="1"/>
<path d="M706,115 L714,136 L722,157" fill="none" stroke="#c9a8a8" stroke-width="6" stroke-linejoin="round" stroke-linecap="butt" opacity="1"/>
<path d="M712,120 L722,140 L734,160" fill="none" stroke="#d8c0c0" stroke-width="4.5" stroke-linejoin="round" stroke-linecap="butt" opacity="1"/>
<path d="M664,130 L668,138 L673,146" fill="none" stroke="#a4a8c6" stroke-width="5.5" stroke-linejoin="round" stroke-linecap="butt" opacity="1"/>
<path d="M656,134 L662,142 L668,150" fill="none" stroke="#c0c4dc" stroke-width="4" stroke-linejoin="round" stroke-linecap="butt" opacity="1"/>
<path d="M720,150 L730,166 L740,176" fill="none" stroke="#a6a8ba" stroke-width="4.5" stroke-linejoin="round" stroke-linecap="butt" opacity="1"/>
<path d="M700,62 C712,58 722,64 726,74" fill="none" stroke="#ecd0d0" stroke-width="1.8" stroke-linecap="round"/>
<path d="M706,120 C716,116 726,122 728,132" fill="none" stroke="#ecd0d0" stroke-width="1.8" stroke-linecap="round"/>
<path d="M700,160 C708,170 716,172 724,168" fill="none" stroke="#ecd0d0" stroke-width="1.8" stroke-linecap="round"/>
<path d="M673.5,96.5 L684.2,95.2 L686.5,147 L688.8,147.5 L681.5,156 L673.5,149 L676.2,148 Z" fill="#ee1c1c"/>
<path d="M673.5,96.5 L677.5,96.1 L680,148.3 L676.2,148.2 Z" fill="#cc1414"/>
<path d="M673,96.6 L684.5,95.2 L684.6,97.6 L673.2,98.8 Z" fill="#e8e8f4"/>
<path d="M693.8,68.8 L710,68.8" fill="none" stroke="#ee1818" stroke-width="2.2" stroke-linecap="round" stroke-linejoin="round"/>
<path d="M700,68.8 L700,77.5" fill="none" stroke="#ee1818" stroke-width="2.2" stroke-linecap="round" stroke-linejoin="round"/>
<path d="M704,69 L704.5,76" fill="none" stroke="#ee1818" stroke-width="2.2" stroke-linecap="round" stroke-linejoin="round"/>
<path d="M701,77 L704,80" fill="none" stroke="#ee1818" stroke-width="2.2" stroke-linecap="round" stroke-linejoin="round"/>
<path d="M677.5,87.5 L691.3,86.3 L698.8,83.8" fill="none" stroke="#ee1818" stroke-width="2.2" stroke-linecap="round" stroke-linejoin="round"/>
<path d="M686,86.5 L688,80" fill="none" stroke="#ee1818" stroke-width="2.2" stroke-linecap="round" stroke-linejoin="round"/>
<path d="M665,95 L675,93.8" fill="none" stroke="#ee1818" stroke-width="2.2" stroke-linecap="round" stroke-linejoin="round"/>
<path d="M686.3,98.8 L700,100 L703.8,103.8" fill="none" stroke="#ee1818" stroke-width="2.2" stroke-linecap="round" stroke-linejoin="round"/>
<path d="M693,99.5 L692,93" fill="none" stroke="#ee1818" stroke-width="2.2" stroke-linecap="round" stroke-linejoin="round"/>
<path d="M688.8,103.8 C692,107 694,110 696.3,110 L703.8,113.8" fill="none" stroke="#ee1818" stroke-width="2.2" stroke-linecap="round" stroke-linejoin="round"/>
<path d="M696,110 L694,116" fill="none" stroke="#ee1818" stroke-width="2.2" stroke-linecap="round" stroke-linejoin="round"/>
<path d="M712.5,80 C718,83 722,88 722.5,92 C723,96 721,99 720,101.3" fill="none" stroke="#ee1818" stroke-width="2.2" stroke-linecap="round" stroke-linejoin="round"/>
<path d="M708.8,88.8 L716.3,87.5" fill="none" stroke="#ee1818" stroke-width="2.2" stroke-linecap="round" stroke-linejoin="round"/>
<path d="M712,98 L718,100" fill="none" stroke="#ee1818" stroke-width="2.2" stroke-linecap="round" stroke-linejoin="round"/>
<path d="M722.5,113.8 C716,114 714,120 718,124 C722,127 728,122 726,116 L722.5,113.8" fill="none" stroke="#ee1818" stroke-width="2.2" stroke-linecap="round" stroke-linejoin="round"/>
<path d="M717.5,125 C712,129 709,133 710,137 C711,142 716,146 725,148.8 C730,149 733,147 735,146.3 L745,150" fill="none" stroke="#ee1818" stroke-width="2.2" stroke-linecap="round" stroke-linejoin="round"/>
<path d="M728,128 L735,127" fill="none" stroke="#ee1818" stroke-width="2.2" stroke-linecap="round" stroke-linejoin="round"/>
<path d="M735,146 L738,141" fill="none" stroke="#ee1818" stroke-width="2.2" stroke-linecap="round" stroke-linejoin="round"/>
<path d="M739,149 L744,143 L749,144" fill="none" stroke="#ee1818" stroke-width="2.2" stroke-linecap="round" stroke-linejoin="round"/>
<path d="M742,154 L748,156" fill="none" stroke="#ee1818" stroke-width="2.2" stroke-linecap="round" stroke-linejoin="round"/>
<path d="M660,117.5 L661.3,132.5 L668.8,150 L676.3,161.3" fill="none" stroke="#ee1818" stroke-width="2.2" stroke-linecap="round" stroke-linejoin="round"/>
<path d="M665,160 L664,170" fill="none" stroke="#ee1818" stroke-width="2.2" stroke-linecap="round" stroke-linejoin="round"/>
<path d="M676,157 L682,162 L686,158" fill="none" stroke="#ee1818" stroke-width="2.2" stroke-linecap="round" stroke-linejoin="round"/>
<path d="M732.5,146.3 L738.8,146 L739.2,160 L733,160.2 Z" fill="#2a2ad0"/>
<path d="M693.8,17 L693,23" fill="none" stroke="#1f3ce6" stroke-width="1.8" stroke-linecap="round"/>
<path d="M685.5,58 L676.3,73" fill="none" stroke="#1f3ce6" stroke-width="1.8" stroke-linecap="round"/>
<path d="M689.6,180.8 C687,186 686.5,191 688,196 C690.5,206 690.5,214 690,222 C689.6,230 689.3,235 689,239" fill="none" stroke="#1f3ce6" stroke-width="1.8" stroke-linecap="round"/>
<path d="M700.4,188 C697,191 694.6,194 695,198 L697,201" fill="none" stroke="#1f3ce6" stroke-width="1.8" stroke-linecap="round"/>
<path d="M732.7,172.5 C731,178 728,182 725.4,186" fill="none" stroke="#1f3ce6" stroke-width="1.8" stroke-linecap="round"/>
<path d="M726.5,203.7 C722,207 718,209 715,210" fill="none" stroke="#1f3ce6" stroke-width="1.8" stroke-linecap="round"/>
<path d="M708.7,219.4 C712,221 716.5,221 720.2,219.5" fill="none" stroke="#1f3ce6" stroke-width="1.8" stroke-linecap="round"/>
<circle cx="701.2" cy="90.2" r="4.3" fill="#f6e600" stroke="#e0c800" stroke-width="0.4"/>
<circle cx="690.4" cy="149.2" r="4.3" fill="#f6e600" stroke="#e0c800" stroke-width="0.4"/>
<circle cx="721.1" cy="143.9" r="4.3" fill="#f6e600" stroke="#e0c800" stroke-width="0.4"/>
<text x="709.00" y="20.30" font-size="11.6" fill="#6a6a6a" text-anchor="start" >C-terminal</text>
<text x="732.80" y="48.00" font-size="11.5" fill="#6a6a6a" text-anchor="start" >N571</text>
<line x1="732.00" y1="44.00" x2="705.00" y2="68.00" stroke="#7a7a7a" stroke-width="0.6" />
<text x="730.90" y="67.80" font-size="11.5" fill="#6a6a6a" text-anchor="start" >D569</text>
<line x1="731.00" y1="64.00" x2="706.00" y2="88.00" stroke="#7a7a7a" stroke-width="0.6" />
<text x="756.60" y="88.00" font-size="11.5" fill="#6a6a6a" text-anchor="start" >N573</text>
<line x1="756.00" y1="84.50" x2="706.00" y2="86.00" stroke="#7a7a7a" stroke-width="0.6" />
<text x="761.80" y="110.60" font-size="11.5" fill="#6a6a6a" text-anchor="start" >V575</text>
<line x1="761.00" y1="107.00" x2="716.00" y2="108.00" stroke="#7a7a7a" stroke-width="0.6" />
<text x="764.00" y="127.40" font-size="11.5" fill="#6a6a6a" text-anchor="start" >N648</text>
<line x1="763.00" y1="124.00" x2="720.00" y2="136.00" stroke="#7a7a7a" stroke-width="0.6" />
<text x="767.80" y="150.00" font-size="11.5" fill="#6a6a6a" text-anchor="start" >D646</text>
<line x1="767.00" y1="146.00" x2="725.00" y2="143.00" stroke="#7a7a7a" stroke-width="0.6" />
<text x="763.40" y="172.00" font-size="11.5" fill="#6a6a6a" text-anchor="start" >E643</text>
<line x1="763.00" y1="167.00" x2="740.00" y2="151.00" stroke="#7a7a7a" stroke-width="0.6" />
<text x="766.60" y="189.40" font-size="11.5" fill="#6a6a6a" text-anchor="start" >Ca</text>
<text x="762.00" y="192.00" font-size="7" fill="#6a6a6a" text-anchor="start" >2</text>
<text x="782.60" y="183.50" font-size="7" fill="#6a6a6a" text-anchor="start" >2+</text>
<line x1="761.00" y1="183.00" x2="722.00" y2="146.00" stroke="#7a7a7a" stroke-width="0.6" />
<text x="747.40" y="203.20" font-size="11.5" fill="#6a6a6a" text-anchor="start" >S663</text>
<line x1="747.00" y1="199.00" x2="716.00" y2="152.00" stroke="#7a7a7a" stroke-width="0.6" />
<text x="706.50" y="249.80" font-size="11.7" fill="#6a6a6a" text-anchor="start" >N-terminal</text>
<text x="626.00" y="77.50" font-size="11.5" fill="#6a6a6a" text-anchor="start" >E580</text>
<line x1="652.00" y1="74.00" x2="676.00" y2="99.00" stroke="#7a7a7a" stroke-width="0.6" />
<text x="605.40" y="100.80" font-size="11.5" fill="#6a6a6a" text-anchor="start" >D577</text>
<line x1="633.50" y1="97.30" x2="682.00" y2="100.00" stroke="#7a7a7a" stroke-width="0.6" />
<text x="634.40" y="54.60" font-size="11.5" fill="#6a6a6a" text-anchor="start" >Ca</text>
<text x="630.80" y="56.50" font-size="7" fill="#6a6a6a" text-anchor="start" >1</text>
<text x="649.20" y="48.50" font-size="7" fill="#6a6a6a" text-anchor="start" >2+</text>
<line x1="652.00" y1="57.00" x2="699.00" y2="88.00" stroke="#7a7a7a" stroke-width="0.6" />
<text x="621.90" y="159.40" font-size="11.5" fill="#6a6a6a" text-anchor="start" >D665</text>
<line x1="650.00" y1="156.00" x2="684.00" y2="150.00" stroke="#7a7a7a" stroke-width="0.6" />
<text x="622.80" y="174.90" font-size="11.5" fill="#6a6a6a" text-anchor="start" >N564</text>
<line x1="651.00" y1="171.00" x2="688.00" y2="151.00" stroke="#7a7a7a" stroke-width="0.6" />
<text x="623.30" y="190.90" font-size="11.5" fill="#6a6a6a" text-anchor="start" >L662</text>
<line x1="649.00" y1="187.00" x2="664.00" y2="170.00" stroke="#7a7a7a" stroke-width="0.6" />
<text x="646.00" y="219.20" font-size="11.5" fill="#6a6a6a" text-anchor="start" >Ca</text>
<text x="642.30" y="221.20" font-size="7" fill="#6a6a6a" text-anchor="start" >3</text>
<text x="662.00" y="213.00" font-size="7" fill="#6a6a6a" text-anchor="start" >2+</text>
<line x1="654.00" y1="209.00" x2="688.00" y2="153.00" stroke="#7a7a7a" stroke-width="0.6" />
<text x="290.60" y="275.30" font-size="16" fill="#111" font-weight="bold" text-anchor="start" >c</text>
<line x1="329.60" y1="275.00" x2="329.60" y2="353.30" stroke="#111" stroke-width="0.9" />
<line x1="326.20" y1="353.30" x2="329.60" y2="353.30" stroke="#111" stroke-width="0.9" />
<text x="324.60" y="356.30" font-size="8.4" fill="#111" text-anchor="end" >0</text>
<line x1="326.20" y1="334.90" x2="329.60" y2="334.90" stroke="#111" stroke-width="0.9" />
<text x="324.60" y="337.90" font-size="8.4" fill="#111" text-anchor="end" >1</text>
<line x1="326.20" y1="316.50" x2="329.60" y2="316.50" stroke="#111" stroke-width="0.9" />
<text x="324.60" y="319.50" font-size="8.4" fill="#111" text-anchor="end" >2</text>
<line x1="326.20" y1="298.10" x2="329.60" y2="298.10" stroke="#111" stroke-width="0.9" />
<text x="324.60" y="301.10" font-size="8.4" fill="#111" text-anchor="end" >3</text>
<line x1="326.20" y1="279.70" x2="329.60" y2="279.70" stroke="#111" stroke-width="0.9" />
<text x="324.60" y="282.70" font-size="8.4" fill="#111" text-anchor="end" >4</text>
<text transform="translate(317.6,321.3) rotate(-90)" font-size="9.6" font-weight="bold" fill="#111">bits</text>
<text transform="translate(337.22,347.60) scale(0.0649,0.0145)" font-size="100" font-weight="bold" fill="#14c014" opacity="0.55">T</text>
<text transform="translate(338.34,346.60) scale(0.0618,0.0174)" font-size="100" font-weight="bold" fill="#111111" opacity="0.60">I</text>
<text transform="translate(337.14,345.40) scale(0.0572,0.0174)" font-size="100" font-weight="bold" fill="#111111" opacity="0.60">A</text>
<text transform="translate(337.05,344.18) scale(0.0585,0.0169)" font-size="100" font-weight="bold" fill="#14c014" opacity="0.60">C</text>
<text transform="translate(337.23,343.00) scale(0.0589,0.0913)" font-size="100" font-weight="bold" fill="#111111" opacity="1.00">V</text>
<text transform="translate(337.23,336.70) scale(0.0589,0.0783)" font-size="100" font-weight="bold" fill="#111111" opacity="1.00">V</text>
<text transform="translate(336.80,331.30) scale(0.0744,0.1203)" font-size="100" font-weight="bold" fill="#111111" opacity="1.00">L</text>
<text transform="translate(341.21,347.58) scale(0.0585,0.0211)" font-size="100" font-weight="bold" fill="#14c014" opacity="0.68">C</text>
<text transform="translate(342.51,346.10) scale(0.0618,0.0507)" font-size="100" font-weight="bold" fill="#111111" opacity="1.00">I</text>
<text transform="translate(341.31,342.60) scale(0.0572,0.0232)" font-size="100" font-weight="bold" fill="#111111" opacity="0.70">A</text>
<text transform="translate(341.39,341.00) scale(0.0589,0.0739)" font-size="100" font-weight="bold" fill="#111111" opacity="1.00">V</text>
<text transform="translate(340.97,335.90) scale(0.0744,0.0536)" font-size="100" font-weight="bold" fill="#111111" opacity="1.00">L</text>
<text transform="translate(345.42,347.59) scale(0.0638,0.0085)" font-size="100" font-weight="bold" fill="#14c014" opacity="0.45">S</text>
<text transform="translate(345.39,346.15) scale(0.0568,0.8451)" font-size="100" font-weight="bold" fill="#14c014" opacity="1.00">G</text>
<text transform="translate(349.71,347.60) scale(0.0649,0.0087)" font-size="100" font-weight="bold" fill="#14c014" opacity="0.45">T</text>
<text transform="translate(349.59,346.99) scale(0.0638,0.0113)" font-size="100" font-weight="bold" fill="#14c014" opacity="0.50">S</text>
<text transform="translate(353.80,347.60) scale(0.0572,0.0087)" font-size="100" font-weight="bold" fill="#111111" opacity="0.45">A</text>
<text transform="translate(353.75,346.98) scale(0.0638,0.0169)" font-size="100" font-weight="bold" fill="#14c014" opacity="0.60">S</text>
<text transform="translate(353.88,345.80) scale(0.0649,0.0290)" font-size="100" font-weight="bold" fill="#14c014" opacity="0.80">T</text>
<text transform="translate(357.96,347.60) scale(0.0572,0.0116)" font-size="100" font-weight="bold" fill="#111111" opacity="0.50">A</text>
<text transform="translate(357.91,346.79) scale(0.0638,0.0141)" font-size="100" font-weight="bold" fill="#14c014" opacity="0.55">S</text>
<text transform="translate(358.04,345.80) scale(0.0649,0.0174)" font-size="100" font-weight="bold" fill="#14c014" opacity="0.60">T</text>
<text transform="translate(357.70,344.60) scale(0.0623,0.0159)" font-size="100" font-weight="bold" fill="#e01414" opacity="0.58">D</text>
<text transform="translate(357.68,343.50) scale(0.0649,0.0681)" font-size="100" font-weight="bold" fill="#c814c8" opacity="1.00">N</text>
<text transform="translate(357.88,338.69) scale(0.0568,0.1113)" font-size="100" font-weight="bold" fill="#14c014" opacity="1.00">G</text>
<text transform="translate(362.20,347.60) scale(0.0649,0.0116)" font-size="100" font-weight="bold" fill="#14c014" opacity="0.50">T</text>
<text transform="translate(362.08,346.79) scale(0.0638,0.0113)" font-size="100" font-weight="bold" fill="#14c014" opacity="0.50">S</text>
<text transform="translate(362.21,346.00) scale(0.0589,0.0725)" font-size="100" font-weight="bold" fill="#111111" opacity="1.00">V</text>
<text transform="translate(362.13,341.00) scale(0.0572,0.0913)" font-size="100" font-weight="bold" fill="#111111" opacity="1.00">A</text>
<text transform="translate(362.08,334.63) scale(0.0638,0.0662)" font-size="100" font-weight="bold" fill="#14c014" opacity="1.00">S</text>
<text transform="translate(365.99,347.60) scale(0.0678,0.0101)" font-size="100" font-weight="bold" fill="#e01414" opacity="0.47">E</text>
<text transform="translate(366.03,346.90) scale(0.0623,0.0101)" font-size="100" font-weight="bold" fill="#e01414" opacity="0.47">D</text>
<text transform="translate(366.21,345.40) scale(0.0568,0.8028)" font-size="100" font-weight="bold" fill="#14c014" opacity="1.00">G</text>
<text transform="translate(370.20,347.60) scale(0.0603,0.0072)" font-size="100" font-weight="bold" fill="#1414d0" opacity="0.42">R</text>
<text transform="translate(370.17,347.10) scale(0.0649,0.0087)" font-size="100" font-weight="bold" fill="#1414d0" opacity="0.45">H</text>
<text transform="translate(370.21,346.50) scale(0.0594,0.8261)" font-size="100" font-weight="bold" fill="#1414d0" opacity="1.00">K</text>
<text transform="translate(374.62,347.60) scale(0.0572,0.0087)" font-size="100" font-weight="bold" fill="#111111" opacity="0.45">A</text>
<text transform="translate(374.70,347.00) scale(0.0649,0.1783)" font-size="100" font-weight="bold" fill="#14c014" opacity="1.00">T</text>
<text transform="translate(374.57,334.42) scale(0.0638,0.2817)" font-size="100" font-weight="bold" fill="#14c014" opacity="1.00">S</text>
<text transform="translate(378.78,347.60) scale(0.0572,0.0116)" font-size="100" font-weight="bold" fill="#111111" opacity="0.50">A</text>
<text transform="translate(378.73,346.79) scale(0.0638,0.0141)" font-size="100" font-weight="bold" fill="#14c014" opacity="0.55">S</text>
<text transform="translate(378.86,345.80) scale(0.0649,0.1558)" font-size="100" font-weight="bold" fill="#14c014" opacity="1.00">T</text>
<text transform="translate(378.73,334.93) scale(0.0638,0.1232)" font-size="100" font-weight="bold" fill="#14c014" opacity="1.00">S</text>
<text transform="translate(382.97,347.60) scale(0.0608,0.0174)" font-size="100" font-weight="bold" fill="#14c014" opacity="0.60">Y</text>
<text transform="translate(382.90,346.38) scale(0.0638,0.0169)" font-size="100" font-weight="bold" fill="#14c014" opacity="0.60">S</text>
<text transform="translate(383.02,345.20) scale(0.0649,0.0145)" font-size="100" font-weight="bold" fill="#14c014" opacity="0.55">T</text>
<text transform="translate(384.15,344.20) scale(0.0618,0.0174)" font-size="100" font-weight="bold" fill="#111111" opacity="0.60">I</text>
<text transform="translate(382.60,343.00) scale(0.0751,0.0928)" font-size="100" font-weight="bold" fill="#111111" opacity="1.00">F</text>
<text transform="translate(382.73,336.60) scale(0.0547,0.0275)" font-size="100" font-weight="bold" fill="#111111" opacity="0.77">M</text>
<text transform="translate(382.61,334.70) scale(0.0744,0.1630)" font-size="100" font-weight="bold" fill="#111111" opacity="1.00">L</text>
<text transform="translate(395.46,347.59) scale(0.0618,0.0070)" font-size="100" font-weight="bold" fill="#14c014" opacity="0.42">S</text>
<text transform="translate(399.49,347.58) scale(0.0618,0.0169)" font-size="100" font-weight="bold" fill="#14c014" opacity="0.60">S</text>
<text transform="translate(399.46,346.38) scale(0.0549,0.0169)" font-size="100" font-weight="bold" fill="#14c014" opacity="0.60">G</text>
<text transform="translate(399.54,345.20) scale(0.0553,0.0203)" font-size="100" font-weight="bold" fill="#111111" opacity="0.65">A</text>
<text transform="translate(399.61,343.80) scale(0.0628,0.0993)" font-size="100" font-weight="bold" fill="#14c014" opacity="1.00">T</text>
<text transform="translate(403.64,347.60) scale(0.0628,0.0072)" font-size="100" font-weight="bold" fill="#14c014" opacity="0.42">T</text>
<text transform="translate(407.67,347.60) scale(0.0628,0.0145)" font-size="100" font-weight="bold" fill="#14c014" opacity="0.55">T</text>
<text transform="translate(407.55,346.59) scale(0.0618,0.0113)" font-size="100" font-weight="bold" fill="#14c014" opacity="0.50">S</text>
<text transform="translate(421.23,347.60) scale(0.0647,0.0174)" font-size="100" font-weight="bold" fill="#14c014" opacity="0.60">T</text>
<text transform="translate(421.23,346.40) scale(0.0587,0.0362)" font-size="100" font-weight="bold" fill="#111111" opacity="0.93">V</text>
<text transform="translate(422.34,343.90) scale(0.0616,0.0377)" font-size="100" font-weight="bold" fill="#111111" opacity="0.95">I</text>
<text transform="translate(421.23,341.30) scale(0.0587,0.0464)" font-size="100" font-weight="bold" fill="#111111" opacity="1.00">V</text>
<text transform="translate(420.81,338.10) scale(0.0741,0.0812)" font-size="100" font-weight="bold" fill="#111111" opacity="1.00">L</text>
<text transform="translate(425.38,347.60) scale(0.0647,0.0058)" font-size="100" font-weight="bold" fill="#14c014" opacity="0.40">T</text>
<text transform="translate(429.10,347.60) scale(0.0749,0.0522)" font-size="100" font-weight="bold" fill="#111111" opacity="1.00">F</text>
<text transform="translate(429.47,344.00) scale(0.0606,0.0580)" font-size="100" font-weight="bold" fill="#14c014" opacity="1.00">Y</text>
<text transform="translate(430.64,340.00) scale(0.0616,0.1000)" font-size="100" font-weight="bold" fill="#111111" opacity="1.00">I</text>
<text transform="translate(429.11,333.10) scale(0.0741,0.1261)" font-size="100" font-weight="bold" fill="#111111" opacity="1.00">L</text>
<text transform="translate(433.60,347.60) scale(0.0570,0.0217)" font-size="100" font-weight="bold" fill="#111111" opacity="0.68">A</text>
<text transform="translate(433.55,346.08) scale(0.0636,0.0211)" font-size="100" font-weight="bold" fill="#14c014" opacity="0.68">S</text>
<text transform="translate(433.68,344.60) scale(0.0647,0.0246)" font-size="100" font-weight="bold" fill="#14c014" opacity="0.72">T</text>
<text transform="translate(434.79,342.90) scale(0.0616,0.0217)" font-size="100" font-weight="bold" fill="#111111" opacity="0.68">I</text>
<text transform="translate(433.62,341.40) scale(0.0606,0.0290)" font-size="100" font-weight="bold" fill="#14c014" opacity="0.80">Y</text>
<text transform="translate(433.68,339.40) scale(0.0587,0.0457)" font-size="100" font-weight="bold" fill="#111111" opacity="1.00">V</text>
<text transform="translate(437.67,347.60) scale(0.0549,0.0214)" font-size="100" font-weight="bold" fill="#c814c8" opacity="0.68">Q</text>
<text transform="translate(437.47,346.10) scale(0.0647,0.0261)" font-size="100" font-weight="bold" fill="#c814c8" opacity="0.75">N</text>
<text transform="translate(437.45,344.30) scale(0.0676,0.0333)" font-size="100" font-weight="bold" fill="#e01414" opacity="0.88">E</text>
<text transform="translate(437.49,342.00) scale(0.0621,0.0290)" font-size="100" font-weight="bold" fill="#e01414" opacity="0.80">D</text>
<text transform="translate(437.49,340.00) scale(0.0621,0.4623)" font-size="100" font-weight="bold" fill="#e01414" opacity="1.00">D</text>
<text transform="translate(441.85,347.58) scale(0.0636,0.0211)" font-size="100" font-weight="bold" fill="#14c014" opacity="0.68">S</text>
<text transform="translate(441.81,346.08) scale(0.0566,0.0211)" font-size="100" font-weight="bold" fill="#14c014" opacity="0.68">G</text>
<text transform="translate(441.62,344.60) scale(0.0647,0.0217)" font-size="100" font-weight="bold" fill="#c814c8" opacity="0.68">N</text>
<text transform="translate(441.90,343.10) scale(0.0570,0.0217)" font-size="100" font-weight="bold" fill="#111111" opacity="0.68">A</text>
<text transform="translate(441.85,341.57) scale(0.0636,0.0310)" font-size="100" font-weight="bold" fill="#14c014" opacity="0.85">S</text>
<text transform="translate(441.98,339.40) scale(0.0647,0.1275)" font-size="100" font-weight="bold" fill="#14c014" opacity="1.00">T</text>
<text transform="translate(445.96,347.58) scale(0.0566,0.0211)" font-size="100" font-weight="bold" fill="#14c014" opacity="0.68">G</text>
<text transform="translate(446.00,346.08) scale(0.0636,0.0211)" font-size="100" font-weight="bold" fill="#14c014" opacity="0.68">S</text>
<text transform="translate(446.13,344.60) scale(0.0647,0.0232)" font-size="100" font-weight="bold" fill="#14c014" opacity="0.70">T</text>
<text transform="translate(446.13,343.00) scale(0.0647,0.0290)" font-size="100" font-weight="bold" fill="#14c014" opacity="0.80">T</text>
<text transform="translate(446.05,341.00) scale(0.0570,0.0507)" font-size="100" font-weight="bold" fill="#111111" opacity="1.00">A</text>
<text transform="translate(445.76,337.50) scale(0.0670,0.1899)" font-size="100" font-weight="bold" fill="#111111" opacity="1.00">P</text>
<text transform="translate(449.92,347.60) scale(0.0647,0.0217)" font-size="100" font-weight="bold" fill="#c814c8" opacity="0.68">N</text>
<text transform="translate(450.15,346.08) scale(0.0636,0.0211)" font-size="100" font-weight="bold" fill="#14c014" opacity="0.68">S</text>
<text transform="translate(449.94,344.60) scale(0.0621,0.0290)" font-size="100" font-weight="bold" fill="#e01414" opacity="0.80">D</text>
<text transform="translate(449.90,342.60) scale(0.0676,0.0377)" font-size="100" font-weight="bold" fill="#e01414" opacity="0.95">E</text>
<text transform="translate(450.11,339.60) scale(0.0566,0.3958)" font-size="100" font-weight="bold" fill="#14c014" opacity="1.00">G</text>
<text transform="translate(470.40,347.59) scale(0.0636,0.0141)" font-size="100" font-weight="bold" fill="#14c014" opacity="0.55">S</text>
<text transform="translate(470.53,346.60) scale(0.0646,0.0174)" font-size="100" font-weight="bold" fill="#14c014" opacity="0.60">T</text>
<text transform="translate(470.53,345.40) scale(0.0587,0.0145)" font-size="100" font-weight="bold" fill="#111111" opacity="0.55">V</text>
<text transform="translate(470.45,344.40) scale(0.0569,0.0188)" font-size="100" font-weight="bold" fill="#111111" opacity="0.63">A</text>
<text transform="translate(470.16,343.10) scale(0.0669,0.0536)" font-size="100" font-weight="bold" fill="#111111" opacity="1.00">P</text>
<text transform="translate(474.67,347.60) scale(0.0646,0.0145)" font-size="100" font-weight="bold" fill="#14c014" opacity="0.55">T</text>
<text transform="translate(474.60,346.60) scale(0.0569,0.0174)" font-size="100" font-weight="bold" fill="#111111" opacity="0.60">A</text>
<text transform="translate(474.26,345.40) scale(0.0740,0.0261)" font-size="100" font-weight="bold" fill="#111111" opacity="0.75">L</text>
<text transform="translate(474.68,343.60) scale(0.0587,0.0290)" font-size="100" font-weight="bold" fill="#111111" opacity="0.80">V</text>
<text transform="translate(475.79,341.60) scale(0.0615,0.0217)" font-size="100" font-weight="bold" fill="#111111" opacity="0.68">I</text>
<text transform="translate(478.82,347.60) scale(0.0646,0.0174)" font-size="100" font-weight="bold" fill="#14c014" opacity="0.60">T</text>
<text transform="translate(478.74,346.40) scale(0.0569,0.0217)" font-size="100" font-weight="bold" fill="#111111" opacity="0.68">A</text>
<text transform="translate(478.40,344.90) scale(0.0740,0.0420)" font-size="100" font-weight="bold" fill="#111111" opacity="1.00">L</text>
<text transform="translate(478.82,342.00) scale(0.0587,0.0725)" font-size="100" font-weight="bold" fill="#111111" opacity="1.00">V</text>
<text transform="translate(479.94,337.00) scale(0.0615,0.0855)" font-size="100" font-weight="bold" fill="#111111" opacity="1.00">I</text>
<text transform="translate(482.89,347.60) scale(0.0569,0.0145)" font-size="100" font-weight="bold" fill="#111111" opacity="0.55">A</text>
<text transform="translate(484.08,346.60) scale(0.0615,0.0957)" font-size="100" font-weight="bold" fill="#111111" opacity="1.00">I</text>
<text transform="translate(482.97,340.00) scale(0.0587,0.1000)" font-size="100" font-weight="bold" fill="#111111" opacity="1.00">V</text>
<text transform="translate(482.55,333.10) scale(0.0740,0.1087)" font-size="100" font-weight="bold" fill="#111111" opacity="1.00">L</text>
<text transform="translate(487.11,347.60) scale(0.0646,0.0174)" font-size="100" font-weight="bold" fill="#14c014" opacity="0.60">T</text>
<text transform="translate(488.23,346.40) scale(0.0615,0.0203)" font-size="100" font-weight="bold" fill="#111111" opacity="0.65">I</text>
<text transform="translate(487.03,345.00) scale(0.0569,0.0435)" font-size="100" font-weight="bold" fill="#111111" opacity="1.00">A</text>
<text transform="translate(486.69,342.00) scale(0.0740,0.0833)" font-size="100" font-weight="bold" fill="#111111" opacity="1.00">L</text>
<text transform="translate(487.11,336.25) scale(0.0587,0.1543)" font-size="100" font-weight="bold" fill="#111111" opacity="1.00">V</text>
<text transform="translate(491.13,347.59) scale(0.0636,0.0141)" font-size="100" font-weight="bold" fill="#14c014" opacity="0.55">S</text>
<text transform="translate(491.25,346.60) scale(0.0646,0.0217)" font-size="100" font-weight="bold" fill="#14c014" opacity="0.68">T</text>
<text transform="translate(491.26,345.10) scale(0.0587,0.0290)" font-size="100" font-weight="bold" fill="#111111" opacity="0.80">V</text>
<text transform="translate(490.84,343.10) scale(0.0740,0.0522)" font-size="100" font-weight="bold" fill="#111111" opacity="1.00">L</text>
<text transform="translate(495.27,347.58) scale(0.0636,0.0225)" font-size="100" font-weight="bold" fill="#14c014" opacity="0.70">S</text>
<text transform="translate(495.40,346.00) scale(0.0646,0.1594)" font-size="100" font-weight="bold" fill="#14c014" opacity="1.00">T</text>
<text transform="translate(495.04,335.00) scale(0.0646,0.1993)" font-size="100" font-weight="bold" fill="#c814c8" opacity="1.00">N</text>
<text transform="translate(499.19,347.60) scale(0.0646,0.0145)" font-size="100" font-weight="bold" fill="#c814c8" opacity="0.55">N</text>
<text transform="translate(499.19,346.60) scale(0.0646,0.0217)" font-size="100" font-weight="bold" fill="#1414d0" opacity="0.68">H</text>
<text transform="translate(499.22,345.10) scale(0.0601,0.0362)" font-size="100" font-weight="bold" fill="#1414d0" opacity="0.93">R</text>
<text transform="translate(499.22,342.60) scale(0.0591,0.0290)" font-size="100" font-weight="bold" fill="#1414d0" opacity="0.80">K</text>
<text transform="translate(499.22,340.60) scale(0.0591,0.1993)" font-size="100" font-weight="bold" fill="#1414d0" opacity="1.00">K</text>
<text transform="translate(503.56,347.59) scale(0.0636,0.0070)" font-size="100" font-weight="bold" fill="#14c014" opacity="0.42">S</text>
<text transform="translate(507.48,347.60) scale(0.0646,0.0232)" font-size="100" font-weight="bold" fill="#c814c8" opacity="0.70">N</text>
<text transform="translate(507.46,346.00) scale(0.0675,0.0217)" font-size="100" font-weight="bold" fill="#e01414" opacity="0.68">E</text>
<text transform="translate(507.50,344.50) scale(0.0620,0.0290)" font-size="100" font-weight="bold" fill="#e01414" opacity="0.80">D</text>
<text transform="translate(507.50,342.50) scale(0.0620,0.5159)" font-size="100" font-weight="bold" fill="#e01414" opacity="1.00">D</text>
<text transform="translate(527.63,347.59) scale(0.0629,0.0085)" font-size="100" font-weight="bold" fill="#14c014" opacity="0.45">S</text>
<text transform="translate(527.75,347.00) scale(0.0639,0.0087)" font-size="100" font-weight="bold" fill="#14c014" opacity="0.45">T</text>
<text transform="translate(527.67,346.40) scale(0.0563,0.0087)" font-size="100" font-weight="bold" fill="#111111" opacity="0.45">A</text>
<text transform="translate(531.73,347.59) scale(0.0629,0.0113)" font-size="100" font-weight="bold" fill="#14c014" opacity="0.50">S</text>
<text transform="translate(531.77,346.80) scale(0.0563,0.0116)" font-size="100" font-weight="bold" fill="#111111" opacity="0.50">A</text>
<text transform="translate(531.85,346.00) scale(0.0639,0.0174)" font-size="100" font-weight="bold" fill="#14c014" opacity="0.60">T</text>
<text transform="translate(531.44,344.80) scale(0.0732,0.0174)" font-size="100" font-weight="bold" fill="#111111" opacity="0.60">L</text>
<text transform="translate(531.86,343.60) scale(0.0580,0.0188)" font-size="100" font-weight="bold" fill="#111111" opacity="0.63">V</text>
<text transform="translate(531.79,342.30) scale(0.0599,0.0449)" font-size="100" font-weight="bold" fill="#14c014" opacity="1.00">Y</text>
<text transform="translate(535.95,347.60) scale(0.0639,0.0116)" font-size="100" font-weight="bold" fill="#14c014" opacity="0.50">T</text>
<text transform="translate(535.83,346.79) scale(0.0629,0.0141)" font-size="100" font-weight="bold" fill="#14c014" opacity="0.55">S</text>
<text transform="translate(537.05,345.80) scale(0.0608,0.0217)" font-size="100" font-weight="bold" fill="#111111" opacity="0.68">I</text>
<text transform="translate(535.54,344.30) scale(0.0732,0.0290)" font-size="100" font-weight="bold" fill="#111111" opacity="0.80">L</text>
<text transform="translate(535.53,342.30) scale(0.0740,0.0449)" font-size="100" font-weight="bold" fill="#111111" opacity="1.00">F</text>
<text transform="translate(539.68,347.60) scale(0.0668,0.0116)" font-size="100" font-weight="bold" fill="#e01414" opacity="0.50">E</text>
<text transform="translate(539.72,346.80) scale(0.0613,0.0087)" font-size="100" font-weight="bold" fill="#e01414" opacity="0.45">D</text>
<text transform="translate(544.03,347.59) scale(0.0629,0.0113)" font-size="100" font-weight="bold" fill="#14c014" opacity="0.50">S</text>
<text transform="translate(544.15,346.80) scale(0.0639,0.0145)" font-size="100" font-weight="bold" fill="#14c014" opacity="0.55">T</text>
<text transform="translate(543.99,345.77) scale(0.0559,0.0282)" font-size="100" font-weight="bold" fill="#14c014" opacity="0.80">G</text>
<text transform="translate(544.15,343.80) scale(0.0639,0.0362)" font-size="100" font-weight="bold" fill="#14c014" opacity="0.93">T</text>
<text transform="translate(544.16,341.30) scale(0.0580,0.0464)" font-size="100" font-weight="bold" fill="#111111" opacity="1.00">V</text>
<text transform="translate(548.10,347.60) scale(0.0543,0.0143)" font-size="100" font-weight="bold" fill="#c814c8" opacity="0.55">Q</text>
<text transform="translate(547.90,346.60) scale(0.0639,0.0217)" font-size="100" font-weight="bold" fill="#c814c8" opacity="0.68">N</text>
<text transform="translate(547.88,345.10) scale(0.0668,0.0217)" font-size="100" font-weight="bold" fill="#e01414" opacity="0.68">E</text>
<text transform="translate(547.90,343.60) scale(0.0639,0.0290)" font-size="100" font-weight="bold" fill="#c814c8" opacity="0.80">N</text>
<text transform="translate(548.13,341.40) scale(0.0629,0.1986)" font-size="100" font-weight="bold" fill="#14c014" opacity="1.00">S</text>
<text transform="translate(552.00,347.60) scale(0.0639,0.0217)" font-size="100" font-weight="bold" fill="#c814c8" opacity="0.68">N</text>
<text transform="translate(551.98,346.10) scale(0.0668,0.0217)" font-size="100" font-weight="bold" fill="#e01414" opacity="0.68">E</text>
<text transform="translate(552.35,344.60) scale(0.0639,0.0362)" font-size="100" font-weight="bold" fill="#14c014" opacity="0.93">T</text>
<text transform="translate(552.27,342.10) scale(0.0563,0.0754)" font-size="100" font-weight="bold" fill="#111111" opacity="1.00">A</text>
<text transform="translate(556.13,347.60) scale(0.0585,0.0145)" font-size="100" font-weight="bold" fill="#1414d0" opacity="0.55">K</text>
<text transform="translate(556.13,346.60) scale(0.0594,0.0464)" font-size="100" font-weight="bold" fill="#1414d0" opacity="1.00">R</text>
<line x1="339.20" y1="354.50" x2="385.00" y2="354.50" stroke="#555" stroke-width="0.7" />
<line x1="339.20" y1="352.30" x2="339.20" y2="356.50" stroke="#555" stroke-width="0.6" />
<line x1="385.00" y1="352.30" x2="385.00" y2="356.50" stroke="#555" stroke-width="0.6" />
<path d="M342.4,353.0 L340.2,354.5 L342.4,356.0 M381.8,353.0 L384.0,354.5 L381.8,356.0" fill="none" stroke="#555" stroke-width="0.5"/>
<text transform="translate(342.10,368.0) rotate(-90)" font-size="8.2" fill="#222">16</text>
<text transform="translate(387.90,368.0) rotate(-90)" font-size="8.2" fill="#222">27</text>
<line x1="397.50" y1="354.50" x2="409.60" y2="354.50" stroke="#555" stroke-width="0.7" />
<line x1="397.50" y1="352.30" x2="397.50" y2="356.50" stroke="#555" stroke-width="0.6" />
<line x1="409.60" y1="352.30" x2="409.60" y2="356.50" stroke="#555" stroke-width="0.6" />
<path d="M400.7,353.0 L398.5,354.5 L400.7,356.0 M406.4,353.0 L408.6,354.5 L406.4,356.0" fill="none" stroke="#555" stroke-width="0.5"/>
<text transform="translate(400.40,368.0) rotate(-90)" font-size="8.2" fill="#222">52</text>
<text transform="translate(412.50,368.0) rotate(-90)" font-size="8.2" fill="#222">55</text>
<line x1="423.20" y1="354.50" x2="452.30" y2="354.50" stroke="#555" stroke-width="0.7" />
<line x1="423.20" y1="352.30" x2="423.20" y2="356.50" stroke="#555" stroke-width="0.6" />
<line x1="452.30" y1="352.30" x2="452.30" y2="356.50" stroke="#555" stroke-width="0.6" />
<path d="M426.4,353.0 L424.2,354.5 L426.4,356.0 M449.1,353.0 L451.3,354.5 L449.1,356.0" fill="none" stroke="#555" stroke-width="0.5"/>
<text transform="translate(426.10,368.0) rotate(-90)" font-size="8.2" fill="#222">73</text>
<text transform="translate(455.20,368.0) rotate(-90)" font-size="8.2" fill="#222">80</text>
<line x1="472.30" y1="354.50" x2="510.40" y2="354.50" stroke="#555" stroke-width="0.7" />
<line x1="472.30" y1="352.30" x2="472.30" y2="356.50" stroke="#555" stroke-width="0.6" />
<line x1="510.40" y1="352.30" x2="510.40" y2="356.50" stroke="#555" stroke-width="0.6" />
<path d="M475.5,353.0 L473.3,354.5 L475.5,356.0 M507.2,353.0 L509.4,354.5 L507.2,356.0" fill="none" stroke="#555" stroke-width="0.5"/>
<text transform="translate(475.20,368.0) rotate(-90)" font-size="8.2" fill="#222">134</text>
<text transform="translate(513.30,368.0) rotate(-90)" font-size="8.2" fill="#222">143</text>
<line x1="529.50" y1="354.50" x2="558.40" y2="354.50" stroke="#555" stroke-width="0.7" />
<line x1="529.50" y1="352.30" x2="529.50" y2="356.50" stroke="#555" stroke-width="0.6" />
<line x1="558.40" y1="352.30" x2="558.40" y2="356.50" stroke="#555" stroke-width="0.6" />
<path d="M532.7,353.0 L530.5,354.5 L532.7,356.0 M555.2,353.0 L557.4,354.5 L555.2,356.0" fill="none" stroke="#555" stroke-width="0.5"/>
<text transform="translate(532.40,368.0) rotate(-90)" font-size="8.2" fill="#222">163</text>
<text transform="translate(561.30,368.0) rotate(-90)" font-size="8.2" fill="#222">170</text>
<line x1="328.80" y1="373.50" x2="328.80" y2="456.30" stroke="#333" stroke-width="0.8" />
<line x1="328.80" y1="456.30" x2="573.80" y2="456.30" stroke="#333" stroke-width="0.8" />
<line x1="325.80" y1="453.50" x2="328.80" y2="453.50" stroke="#333" stroke-width="0.8" />
<text x="324.80" y="457.10" font-size="10.3" fill="#111" text-anchor="end" >0.0</text>
<line x1="325.80" y1="438.40" x2="328.80" y2="438.40" stroke="#333" stroke-width="0.8" />
<text x="324.80" y="442.00" font-size="10.3" fill="#111" text-anchor="end" >0.2</text>
<line x1="325.80" y1="423.30" x2="328.80" y2="423.30" stroke="#333" stroke-width="0.8" />
<text x="324.80" y="426.90" font-size="10.3" fill="#111" text-anchor="end" >0.4</text>
<line x1="325.80" y1="408.20" x2="328.80" y2="408.20" stroke="#333" stroke-width="0.8" />
<text x="324.80" y="411.80" font-size="10.3" fill="#111" text-anchor="end" >0.6</text>
<line x1="325.80" y1="393.10" x2="328.80" y2="393.10" stroke="#333" stroke-width="0.8" />
<text x="324.80" y="396.70" font-size="10.3" fill="#111" text-anchor="end" >0.8</text>
<line x1="325.80" y1="378.00" x2="328.80" y2="378.00" stroke="#333" stroke-width="0.8" />
<text x="324.80" y="381.60" font-size="10.3" fill="#111" text-anchor="end" >1.0</text>
<line x1="339.50" y1="456.30" x2="339.50" y2="459.30" stroke="#333" stroke-width="0.8" />
<text x="339.50" y="468.40" font-size="10.3" fill="#111" text-anchor="middle" >0</text>
<line x1="369.15" y1="456.30" x2="369.15" y2="459.30" stroke="#333" stroke-width="0.8" />
<text x="369.15" y="468.40" font-size="10.3" fill="#111" text-anchor="middle" >25</text>
<line x1="398.80" y1="456.30" x2="398.80" y2="459.30" stroke="#333" stroke-width="0.8" />
<text x="398.80" y="468.40" font-size="10.3" fill="#111" text-anchor="middle" >50</text>
<line x1="428.45" y1="456.30" x2="428.45" y2="459.30" stroke="#333" stroke-width="0.8" />
<text x="428.45" y="468.40" font-size="10.3" fill="#111" text-anchor="middle" >75</text>
<line x1="458.10" y1="456.30" x2="458.10" y2="459.30" stroke="#333" stroke-width="0.8" />
<text x="458.10" y="468.40" font-size="10.3" fill="#111" text-anchor="middle" >100</text>
<line x1="487.75" y1="456.30" x2="487.75" y2="459.30" stroke="#333" stroke-width="0.8" />
<text x="487.75" y="468.40" font-size="10.3" fill="#111" text-anchor="middle" >125</text>
<line x1="517.40" y1="456.30" x2="517.40" y2="459.30" stroke="#333" stroke-width="0.8" />
<text x="517.40" y="468.40" font-size="10.3" fill="#111" text-anchor="middle" >150</text>
<line x1="547.05" y1="456.30" x2="547.05" y2="459.30" stroke="#333" stroke-width="0.8" />
<text x="547.05" y="468.40" font-size="10.3" fill="#111" text-anchor="middle" >175</text>
<text x="397.40" y="477.60" font-size="11.2" fill="#555" text-anchor="start" >Residue index</text>
<text transform="translate(305.4,440.2) rotate(-90)" font-size="11.4" fill="#222">Activation</text>
<defs><linearGradient id="cw" x1="0" x2="1" y1="0" y2="0"><stop offset="0" stop-color="#3b4cc0"/><stop offset="0.5" stop-color="#dddddd"/><stop offset="1" stop-color="#b40426"/></linearGradient></defs>
<rect x="334.1" y="376.2" width="19.7" height="5.0" fill="url(#cw)"/>
<text x="332.80" y="390.20" font-size="8.5" fill="#aaa" text-anchor="start" >0</text>
<text x="350.80" y="390.20" font-size="8.5" fill="#aaa" text-anchor="start" >1</text>
<text x="375.00" y="381.60" font-size="10.0" fill="#aaa" text-anchor="start" >BioLip</text>
<path d="M368.4,377.8 L368.4,380.40000000000003 M368.4,377.8 L366.15,376.50 M368.4,377.8 L370.65,376.50" stroke="#999" stroke-width="0.9" fill="none"/>
<g opacity="0.92"><circle cx="339.4" cy="426.3" r="2.5" fill="#a4c2fc"/><circle cx="341.3" cy="424.4" r="2.5" fill="#aec8fa"/><circle cx="343.1" cy="423.1" r="2.5" fill="#b5cbf5"/><circle cx="345.0" cy="422.5" r="2.5" fill="#b8cdf3"/><circle cx="346.9" cy="422.8" r="2.5" fill="#b6ccf4"/><circle cx="348.8" cy="423.5" r="2.5" fill="#b3caf7"/><circle cx="350.3" cy="424.8" r="2.5" fill="#acc7fb"/><circle cx="351.3" cy="428.8" r="2.5" fill="#98b7fb"/><circle cx="352.5" cy="430.6" r="2.5" fill="#8fb0fa"/><circle cx="353.8" cy="428.8" r="2.5" fill="#98b7fb"/><circle cx="355.0" cy="427.5" r="2.5" fill="#9ebdfc"/><circle cx="356.3" cy="424.4" r="2.5" fill="#aec8fa"/><circle cx="357.5" cy="422.5" r="2.5" fill="#b8cdf3"/><circle cx="358.8" cy="420.6" r="2.5" fill="#c2d1ed"/><circle cx="358.1" cy="418.1" r="2.5" fill="#d0d7e4"/><circle cx="361.3" cy="403.8" r="2.5" fill="#f2b499"/><circle cx="362.5" cy="405.6" r="2.5" fill="#f2bca2"/><circle cx="363.1" cy="394.4" r="2.5" fill="#ed876a"/><circle cx="364.4" cy="407.5" r="2.5" fill="#efc3ac"/><circle cx="366.3" cy="416.3" r="2.5" fill="#dadbde"/><circle cx="368.1" cy="425.0" r="2.5" fill="#abc7fc"/><circle cx="368.8" cy="428.8" r="2.5" fill="#98b7fb"/><circle cx="370.0" cy="431.3" r="2.5" fill="#8cadfa"/><circle cx="370.0" cy="435.0" r="2.5" fill="#7a9df8"/><circle cx="372.5" cy="413.8" r="2.5" fill="#e1d7d1"/><circle cx="373.8" cy="418.8" r="2.5" fill="#ccd5e7"/><circle cx="376.3" cy="442.5" r="2.5" fill="#5a7be4"/><circle cx="378.1" cy="426.9" r="2.5" fill="#a1bffc"/><circle cx="379.4" cy="413.1" r="2.5" fill="#e2d4cd"/><circle cx="380.6" cy="422.5" r="2.5" fill="#b8cdf3"/><circle cx="382.5" cy="431.9" r="2.5" fill="#89aafa"/><circle cx="384.4" cy="428.8" r="2.5" fill="#98b7fb"/><circle cx="385.0" cy="420.0" r="2.5" fill="#c6d3eb"/><circle cx="386.3" cy="415.0" r="2.5" fill="#dedad8"/><circle cx="387.5" cy="410.0" r="2.5" fill="#e9cbbb"/><circle cx="388.6" cy="407.5" r="2.5" fill="#efc3ac"/><circle cx="389.6" cy="405.0" r="2.5" fill="#f2ba9f"/><circle cx="390.6" cy="402.5" r="2.5" fill="#f2ae92"/><circle cx="391.6" cy="400.0" r="2.5" fill="#f2a385"/><circle cx="392.6" cy="397.5" r="2.5" fill="#f29779"/><circle cx="393.6" cy="395.0" r="2.5" fill="#ee8a6d"/><circle cx="394.8" cy="393.0" r="2.5" fill="#ea7f64"/><circle cx="396.0" cy="392.0" r="2.5" fill="#e87960"/><circle cx="397.3" cy="391.7" r="2.5" fill="#e7775e"/><circle cx="398.0" cy="399.7" r="2.5" fill="#f2a184"/><circle cx="402.4" cy="415.8" r="2.5" fill="#dcdcdd"/><circle cx="404.6" cy="432.5" r="2.5" fill="#86a8f9"/><circle cx="411.9" cy="434.0" r="2.5" fill="#7fa1f9"/><circle cx="406.0" cy="444.2" r="2.5" fill="#5374e0"/><circle cx="409.0" cy="447.9" r="2.5" fill="#4964d3"/><circle cx="411.2" cy="442.0" r="2.5" fill="#5c7ee6"/><circle cx="415.5" cy="439.9" r="2.5" fill="#6587eb"/><circle cx="418.5" cy="442.8" r="2.5" fill="#597ae4"/><circle cx="416.3" cy="446.4" r="2.5" fill="#4d6ad8"/><circle cx="420.7" cy="437.7" r="2.5" fill="#6e91f1"/><circle cx="422.8" cy="431.1" r="2.5" fill="#8dadfa"/><circle cx="424.3" cy="428.2" r="2.5" fill="#9bbafb"/><circle cx="425.0" cy="414.3" r="2.5" fill="#e0d8d4"/><circle cx="426.5" cy="418.7" r="2.5" fill="#cdd6e7"/><circle cx="428.7" cy="415.8" r="2.5" fill="#dcdcdd"/><circle cx="430.9" cy="415.8" r="2.5" fill="#dcdcdd"/><circle cx="428.7" cy="435.5" r="2.5" fill="#789bf6"/><circle cx="430.1" cy="431.8" r="2.5" fill="#89aafa"/><circle cx="433.1" cy="391.7" r="2.5" fill="#e7775e"/><circle cx="434.5" cy="408.5" r="2.5" fill="#edc6b2"/><circle cx="436.0" cy="424.5" r="2.5" fill="#adc8fa"/><circle cx="438.2" cy="439.9" r="2.5" fill="#6587eb"/><circle cx="440.4" cy="438.4" r="2.5" fill="#6c8eef"/><circle cx="438.2" cy="448.6" r="2.5" fill="#4761d1"/><circle cx="441.1" cy="391.7" r="2.5" fill="#e7775e"/><circle cx="442.6" cy="399.0" r="2.5" fill="#f29e80"/><circle cx="440.4" cy="411.4" r="2.5" fill="#e6cfc3"/><circle cx="445.5" cy="404.8" r="2.5" fill="#f2b99e"/><circle cx="444.7" cy="414.3" r="2.5" fill="#e0d8d4"/><circle cx="450.8" cy="401.7" r="2.5" fill="#f2aa8e"/><circle cx="446.7" cy="405.0" r="2.5" fill="#f2ba9f"/><circle cx="452.5" cy="405.0" r="2.5" fill="#f2ba9f"/><circle cx="448.3" cy="411.7" r="2.5" fill="#e6d0c5"/><circle cx="453.3" cy="414.2" r="2.5" fill="#e0d8d3"/><circle cx="456.7" cy="416.7" r="2.5" fill="#d7dae0"/><circle cx="460.8" cy="405.0" r="2.5" fill="#f2ba9f"/><circle cx="459.2" cy="409.2" r="2.5" fill="#ebc8b6"/><circle cx="462.5" cy="415.8" r="2.5" fill="#dcdcdd"/><circle cx="466.7" cy="416.7" r="2.5" fill="#d7dae0"/><circle cx="464.2" cy="423.3" r="2.5" fill="#b4cbf6"/><circle cx="468.3" cy="421.7" r="2.5" fill="#bccff1"/><circle cx="470.8" cy="428.3" r="2.5" fill="#9ab9fb"/><circle cx="470.0" cy="430.8" r="2.5" fill="#8eaffa"/><circle cx="473.3" cy="415.0" r="2.5" fill="#dedad8"/><circle cx="474.2" cy="410.8" r="2.5" fill="#e8cdc0"/><circle cx="475.8" cy="423.3" r="2.5" fill="#b4cbf6"/><circle cx="476.7" cy="428.3" r="2.5" fill="#9ab9fb"/><circle cx="479.2" cy="409.2" r="2.5" fill="#ebc8b6"/><circle cx="480.8" cy="414.2" r="2.5" fill="#e0d8d3"/><circle cx="483.3" cy="410.8" r="2.5" fill="#e8cdc0"/><circle cx="485.0" cy="415.0" r="2.5" fill="#dedad8"/><circle cx="486.7" cy="421.7" r="2.5" fill="#bccff1"/><circle cx="487.5" cy="424.2" r="2.5" fill="#afc9f9"/><circle cx="490.0" cy="425.8" r="2.5" fill="#a7c4fc"/><circle cx="492.5" cy="426.7" r="2.5" fill="#a2c0fc"/><circle cx="495.0" cy="423.3" r="2.5" fill="#b4cbf6"/><circle cx="497.5" cy="421.7" r="2.5" fill="#bccff1"/><circle cx="499.2" cy="418.3" r="2.5" fill="#cfd7e5"/><circle cx="500.8" cy="412.5" r="2.5" fill="#e4d3ca"/><circle cx="502.5" cy="405.0" r="2.5" fill="#f2ba9f"/><circle cx="503.3" cy="391.7" r="2.5" fill="#e7775e"/><circle cx="505.0" cy="385.8" r="2.5" fill="#d15144"/><circle cx="506.7" cy="377.5" r="2.5" fill="#960a1e"/><circle cx="507.5" cy="379.0" r="2.5" fill="#9d1322"/><circle cx="508.3" cy="395.0" r="2.5" fill="#ee8a6d"/><circle cx="509.2" cy="413.3" r="2.5" fill="#e2d5ce"/><circle cx="512.5" cy="408.3" r="2.5" fill="#edc6b1"/><circle cx="511.7" cy="425.8" r="2.5" fill="#a7c4fc"/><circle cx="510.8" cy="433.3" r="2.5" fill="#82a4f9"/><circle cx="514.2" cy="412.5" r="2.5" fill="#e4d3ca"/><circle cx="515.0" cy="418.3" r="2.5" fill="#cfd7e5"/><circle cx="516.7" cy="431.7" r="2.5" fill="#8aabfa"/><circle cx="519.2" cy="432.5" r="2.5" fill="#86a8f9"/><circle cx="521.7" cy="430.0" r="2.5" fill="#92b2fa"/><circle cx="523.3" cy="428.3" r="2.5" fill="#9ab9fb"/><circle cx="525.8" cy="430.8" r="2.5" fill="#8eaffa"/><circle cx="527.5" cy="434.2" r="2.5" fill="#7ea0f9"/><circle cx="529.2" cy="436.7" r="2.5" fill="#7395f3"/><circle cx="530.0" cy="440.8" r="2.5" fill="#6183e9"/><circle cx="520.0" cy="435.0" r="2.5" fill="#7a9df8"/><circle cx="532.5" cy="424.2" r="2.5" fill="#afc9f9"/><circle cx="534.2" cy="411.7" r="2.5" fill="#e6d0c5"/><circle cx="535.0" cy="404.2" r="2.5" fill="#f2b69b"/><circle cx="536.7" cy="395.8" r="2.5" fill="#f08e71"/><circle cx="539.2" cy="405.0" r="2.5" fill="#f2ba9f"/><circle cx="540.0" cy="415.0" r="2.5" fill="#dedad8"/><circle cx="540.8" cy="423.3" r="2.5" fill="#b4cbf6"/><circle cx="543.3" cy="425.0" r="2.5" fill="#abc7fc"/><circle cx="545.0" cy="428.3" r="2.5" fill="#9ab9fb"/><circle cx="547.5" cy="432.5" r="2.5" fill="#86a8f9"/><circle cx="550.0" cy="427.5" r="2.5" fill="#9ebdfc"/><circle cx="551.7" cy="436.7" r="2.5" fill="#7395f3"/><circle cx="553.3" cy="446.7" r="2.5" fill="#4d69d7"/><circle cx="555.0" cy="441.7" r="2.5" fill="#5e7fe7"/><circle cx="556.7" cy="438.3" r="2.5" fill="#6c8eef"/><circle cx="559.2" cy="434.2" r="2.5" fill="#7ea0f9"/><circle cx="563.3" cy="435.8" r="2.5" fill="#7799f6"/><circle cx="554.2" cy="444.0" r="2.5" fill="#5475e1"/><circle cx="557.8" cy="436.5" r="2.5" fill="#7496f4"/><circle cx="561.3" cy="434.8" r="2.5" fill="#7b9ef8"/></g>
<path d="M363.1,393.9 L363.1,396.9 M363.1,393.9 L360.50,392.40 M363.1,393.9 L365.70,392.40" stroke="#2a2020" stroke-width="0.95" fill="none"/>
<path d="M360.6,402.0 L360.6,405.0 M360.6,402.0 L358.00,400.50 M360.6,402.0 L363.20,400.50" stroke="#2a2020" stroke-width="0.95" fill="none"/>
<path d="M365.6,406.4 L365.6,409.4 M365.6,406.4 L363.00,404.90 M365.6,406.4 L368.20,404.90" stroke="#2a2020" stroke-width="0.95" fill="none"/>
<path d="M366.3,415.8 L366.3,418.8 M366.3,415.8 L363.70,414.30 M366.3,415.8 L368.90,414.30" stroke="#2a2020" stroke-width="0.95" fill="none"/>
<path d="M368.1,424.5 L368.1,427.5 M368.1,424.5 L365.50,423.00 M368.1,424.5 L370.70,423.00" stroke="#2a2020" stroke-width="0.95" fill="none"/>
<path d="M368.8,428.3 L368.8,431.3 M368.8,428.3 L366.20,426.80 M368.8,428.3 L371.40,426.80" stroke="#2a2020" stroke-width="0.95" fill="none"/>
<path d="M399.5,406.5 L399.5,409.5 M399.5,406.5 L396.90,405.00 M399.5,406.5 L402.10,405.00" stroke="#2a2020" stroke-width="0.95" fill="none"/>
<path d="M400.2,421.8 L400.2,424.8 M400.2,421.8 L397.60,420.30 M400.2,421.8 L402.80,420.30" stroke="#2a2020" stroke-width="0.95" fill="none"/>
<path d="M432,397.0 L432,400.0 M432,397.0 L429.40,395.50 M432,397.0 L434.60,395.50" stroke="#2a2020" stroke-width="0.95" fill="none"/>
<path d="M502.5,404.5 L502.5,407.5 M502.5,404.5 L499.90,403.00 M502.5,404.5 L505.10,403.00" stroke="#2a2020" stroke-width="0.95" fill="none"/>
<path d="M503.3,391.2 L503.3,394.2 M503.3,391.2 L500.70,389.70 M503.3,391.2 L505.90,389.70" stroke="#2a2020" stroke-width="0.95" fill="none"/>
<path d="M506.7,377.0 L506.7,380.0 M506.7,377.0 L504.10,375.50 M506.7,377.0 L509.30,375.50" stroke="#2a2020" stroke-width="0.95" fill="none"/>
<path d="M505.5,376.5 L505.5,379.5 M505.5,376.5 L502.90,375.00 M505.5,376.5 L508.10,375.00" stroke="#2a2020" stroke-width="0.95" fill="none"/>
<path d="M535,403.7 L535,406.7 M535,403.7 L532.40,402.20 M535,403.7 L537.60,402.20" stroke="#2a2020" stroke-width="0.95" fill="none"/>
<path d="M536.7,395.3 L536.7,398.3 M536.7,395.3 L534.10,393.80 M536.7,395.3 L539.30,393.80" stroke="#2a2020" stroke-width="0.95" fill="none"/>
<line x1="565.00" y1="382.20" x2="585.00" y2="382.20" stroke="#999" stroke-width="0.9" />
<path d="M585.00,379.80 L585.00,384.60 L591.00,382.20 Z" fill="white" stroke="#999" stroke-width="0.81"/>
<text x="590.60" y="297.80" font-size="14.0" fill="#6a6a6a" text-anchor="start" >6IZW-A: EC 3.6.5.2</text>
<path d="M684.0,446.0 L698.0,414.0 L709.3,391.4" fill="none" stroke="#dcdce6" stroke-width="6.0" stroke-linecap="butt" stroke-linejoin="round" opacity="1"/>
<path d="M714.7,394.0 L712.0,386.0 L704.0,388.7 Z" fill="#dcdce6" opacity="1"/>
<path d="M696.0,450.0 L710.0,422.0 L721.2,401.3" fill="none" stroke="#e8e8f0" stroke-width="6.0" stroke-linecap="butt" stroke-linejoin="round" opacity="1"/>
<path d="M726.4,404.1 L724.0,396.0 L715.9,398.4 Z" fill="#e8e8f0" opacity="1"/>
<path d="M670.0,436.0 L684.0,406.0 L697.2,381.3" fill="none" stroke="#c8cce2" stroke-width="5.5" stroke-linecap="butt" stroke-linejoin="round" opacity="1"/>
<path d="M702.0,383.9 L700.0,376.0 L692.3,378.7 Z" fill="#c8cce2" opacity="1"/>
<path d="M660.0,426.0 L672.0,400.0 L685.2,375.3" fill="none" stroke="#b4bade" stroke-width="5.0" stroke-linecap="butt" stroke-linejoin="round" opacity="1"/>
<path d="M689.6,377.6 L688.0,370.0 L680.8,372.9 Z" fill="#b4bade" opacity="1"/>
<path d="M704.0,392.0 L708.0,366.0 L711.1,345.9" fill="none" stroke="#d0d0dc" stroke-width="5.0" stroke-linecap="butt" stroke-linejoin="round" opacity="1"/>
<path d="M716.0,346.7 L712.0,340.0 L706.1,345.2 Z" fill="#d0d0dc" opacity="1"/>
<path d="M696.0,386.0 L700.0,362.0 L702.8,347.9" fill="none" stroke="#bfc2d8" stroke-width="4.5" stroke-linecap="butt" stroke-linejoin="round" opacity="1"/>
<path d="M707.2,348.8 L704.0,342.0 L698.4,347.0 Z" fill="#bfc2d8" opacity="1"/>
<path d="M690.0,400.0 L694.0,380.0 L696.7,367.9" fill="none" stroke="#9aa0d0" stroke-width="4.5" stroke-linecap="butt" stroke-linejoin="round" opacity="1"/>
<path d="M701.1,368.8 L698.0,362.0 L692.3,366.9 Z" fill="#9aa0d0" opacity="1"/>
<path d="M742,330 C750,336 756,350 752,366 C748,380 756,392 766,396" fill="none" stroke="#cdd2f2" stroke-width="5" stroke-linecap="round" stroke-linejoin="round" opacity="1"/>
<path d="M748,318 C760,322 768,334 768,348" fill="none" stroke="#d6daf6" stroke-width="6" stroke-linecap="round" stroke-linejoin="round" opacity="1"/>
<path d="M756,356 C766,362 772,372 770,384" fill="none" stroke="#e6e8f8" stroke-width="5" stroke-linecap="round" stroke-linejoin="round" opacity="1"/>
<path d="M610,370 L611.3,363.8 C616,362 622,362 628,359 C632,357 635,353 637.5,350" fill="none" stroke="#d0d0dc" stroke-width="2.6" stroke-linecap="round" stroke-linejoin="round" opacity="1"/>
<path d="M610,370 L611.3,363.8 C616,362 622,362 628,359 C632,357 635,353 637.5,350" fill="none" stroke="#f4f4f8" stroke-width="1.6" stroke-linecap="round" stroke-linejoin="round" opacity="1"/>
<path d="M612,425 C604,426 597,429 594,434 C591,440 591,447 594,450 C598,452 606,449 615,445" fill="none" stroke="#c4c8f2" stroke-width="2.0" stroke-linecap="round" stroke-linejoin="round" opacity="1"/>
<path d="M684.0,418.0 L650.0,420.0 L616.0,424.3" fill="none" stroke="#b2baf2" stroke-width="7.5" stroke-linecap="butt" stroke-linejoin="round" opacity="1"/>
<path d="M615.1,417.6 L610.0,425.0 L616.8,431.0 Z" fill="#b2baf2" opacity="1"/>
<path d="M660.0,428.0 L636.0,435.0 L617.8,440.3" fill="none" stroke="#c0c6f6" stroke-width="5.5" stroke-linecap="butt" stroke-linejoin="round" opacity="1"/>
<path d="M616.4,435.6 L612.0,442.0 L619.1,445.1 Z" fill="#c0c6f6" opacity="1"/>
<path d="M660,428 L676,423" fill="none" stroke="#c0c6f6" stroke-width="1.6" stroke-linecap="round" stroke-linejoin="round" opacity="1"/>
<path d="M682.0,408.0 L640.0,406.0 L604.0,406.0" fill="none" stroke="#6270e2" stroke-width="6.0" stroke-linecap="butt" stroke-linejoin="round" opacity="1"/>
<path d="M640,409 C656,411 668,412 682,412" fill="none" stroke="#2228d8" stroke-width="1.6" stroke-linecap="round" stroke-linejoin="round" opacity="1"/>
<path d="M598.8,383 L606,378.8 L611.3,383.5 L609.5,391.3 L600.5,391.3 Z" fill="#8e97e6"/>
<path d="M600,393.8 C594,397 588,400 586.3,403.8 C586,407 590,408 598.8,407.5 L606,406.2" fill="none" stroke="#2228d8" stroke-width="2.6" stroke-linecap="round" stroke-linejoin="round" opacity="1"/>
<path d="M613.8,383.8 C617,386 620,389 624,392 C630,398 640,402 655,402.5 C664,402 672,400 682,398" fill="none" stroke="#d6d6e0" stroke-width="3.2" stroke-linecap="round" stroke-linejoin="round" opacity="1"/>
<path d="M613.8,383.8 C617,386 620,389 624,392 C630,398 640,402 655,402.5 C664,402 672,400 682,398" fill="none" stroke="#f4f4f8" stroke-width="2.0" stroke-linecap="round" stroke-linejoin="round" opacity="1"/>
<path d="M610,368.3 L616.7,364.2 C620,363 624,363 626.7,362.5 C631,360 634,358 635,355 L637.5,348.3" fill="none" stroke="#c8cce8" stroke-width="3.0" stroke-linecap="round" stroke-linejoin="round" opacity="1"/>
<path d="M610,368.3 L616.7,364.2 C620,363 624,363 626.7,362.5 C631,360 634,358 635,355 L637.5,348.3" fill="none" stroke="#eef0fa" stroke-width="1.8" stroke-linecap="round" stroke-linejoin="round" opacity="1"/>
<path d="M637.5,348.3 C640,345.5 645,345.5 648.5,348 C652,351 654,356 654.2,364" fill="none" stroke="#b4bcf0" stroke-width="8" stroke-linecap="round" stroke-linejoin="round" opacity="1"/>
<path d="M654.2,362 L651,369" fill="none" stroke="#3038e0" stroke-width="7" stroke-linecap="round" stroke-linejoin="round" opacity="1"/>
<path d="M652,370 C660,368 662,378 656,381" fill="none" stroke="#4850d0" stroke-width="6" stroke-linecap="round" stroke-linejoin="round" opacity="1"/>
<path d="M650,369 C647,374 650,377 655,376 C659,376 660,381 657,384 C653,388 647,389 643,390 C640,391 639,394 641,397" fill="none" stroke="#2a2ed8" stroke-width="6.5" stroke-linecap="round" stroke-linejoin="round" opacity="1"/>
<path d="M641,397 C645,401 652,400 658,396" fill="none" stroke="#3a46d8" stroke-width="5.5" stroke-linecap="round" stroke-linejoin="round" opacity="1"/>
<path d="M657.5,345 C660,341 668,340 672,344 C675,347 674,352 670,353" fill="none" stroke="#9aa4ec" stroke-width="6" stroke-linecap="round" stroke-linejoin="round" opacity="1"/>
<path d="M664,353 C661,357 660,361 662,364" fill="none" stroke="#7c86de" stroke-width="5" stroke-linecap="round" stroke-linejoin="round" opacity="1"/>
<path d="M658.3,361 C662,355.5 668,354.5 674,358 C678,362 679,368 676.7,375" fill="none" stroke="#d8d8e6" stroke-width="8" stroke-linecap="round" stroke-linejoin="round" opacity="1"/>
<path d="M658.3,361 C662,355.5 668,354.5 674,358 C678,362 679,368 676.7,375" fill="none" stroke="#f2f2f8" stroke-width="6" stroke-linecap="round" stroke-linejoin="round" opacity="1"/>
<path d="M662,366 C664,369 667,370 671,369" fill="none" stroke="#5a66d8" stroke-width="5" stroke-linecap="round" stroke-linejoin="round" opacity="1"/>
<path d="M678.1,364.6 L678.6,365.1 L679.2,365.5 L680.0,365.8 L680.8,366.0 L681.8,366.1 L682.8,366.3 L683.9,366.3 L685.1,366.3 L686.2,366.3 L687.4,366.3 L688.6,366.3 L689.8,366.3 L690.9,366.4 L692.0,366.5 L692.9,366.6 L693.8,366.8 L694.6,367.1 L695.3,367.4 L695.9,367.8 L696.4,368.3 L696.7,368.9" fill="none" stroke="#4c58c8" stroke-width="5.699999999999999" stroke-linecap="round" stroke-linejoin="round" opacity="1"/>
<path d="M693.6,387.3 L694.1,387.8 L694.7,388.2 L695.4,388.5 L696.2,388.8 L697.1,388.9 L698.1,389.1 L699.1,389.1 L700.3,389.2" fill="none" stroke="#4c58c8" stroke-width="5.699999999999999" stroke-linecap="round" stroke-linejoin="round" opacity="1"/>
<path d="M678.4,357.1 L678.0,358.2 L677.7,359.2 L677.5,360.2 L677.3,361.1 L677.2,362.0 L677.3,362.8 L677.4,363.5 L677.7,364.1 L678.1,364.6" fill="none" stroke="#6a78e2" stroke-width="7.199999999999999" stroke-linecap="round" stroke-linejoin="round" opacity="1"/>
<path d="M696.7,368.9 L696.9,369.6 L697.0,370.3 L697.0,371.2 L696.8,372.0 L696.6,373.0 L696.3,374.0 L696.0,375.1 L695.6,376.2 L695.2,377.3 L694.7,378.4 L694.3,379.5 L693.9,380.6 L693.6,381.6 L693.3,382.6 L693.1,383.6 L693.0,384.5 L692.9,385.3 L693.1,386.0 L693.3,386.7 L693.6,387.3" fill="none" stroke="#6a78e2" stroke-width="7.199999999999999" stroke-linecap="round" stroke-linejoin="round" opacity="1"/>
<path d="M674.4,328.5 C675,323 678.5,320.2 684,319.5 C690,319 694,322 695.2,327.5 C696,333 695,338 694.2,341" fill="none" stroke="#f09090" stroke-width="7.5" stroke-linecap="round" stroke-linejoin="round" opacity="1"/>
<path d="M674.4,328.5 C675,323 678.5,320.2 684,319.5" fill="none" stroke="#f6c4c2" stroke-width="6.5" stroke-linecap="round" stroke-linejoin="round" opacity="1"/>
<path d="M694.2,341 L695,346" fill="none" stroke="#e07070" stroke-width="5" stroke-linecap="round" stroke-linejoin="round" opacity="1"/>
<path d="M699,316 L701,321 L698,326" fill="none" stroke="#f08888" stroke-width="2.0" stroke-linecap="round" stroke-linejoin="round" opacity="1"/>
<path d="M692,342 L694,350 L697,353" fill="none" stroke="#2430c8" stroke-width="1.8" stroke-linecap="round" stroke-linejoin="round" opacity="1"/>
<path d="M727.7,335.2 L727.9,335.6 L728.3,335.8 L728.8,336.1 L729.4,336.3 L730.0,336.5 L730.8,336.7 L731.6,336.9 L732.5,337.1 L733.4,337.2 L734.3,337.4 L735.2,337.5 L736.1,337.7 L736.9,337.8 L737.7,338.0 L738.3,338.2 L738.9,338.5 L739.4,338.7 L739.7,339.0 L740.0,339.3 L740.1,339.7" fill="none" stroke="#2c38a8" stroke-width="5.225" stroke-linecap="round" stroke-linejoin="round" opacity="1"/>
<path d="M731.3,349.8 L731.6,350.1 L732.0,350.4 L732.5,350.7 L733.1,350.9 L733.8,351.1 L734.5,351.3 L735.3,351.5 L736.2,351.6 L737.1,351.8 L738.0,351.9 L738.9,352.1 L739.8,352.2 L740.6,352.4 L741.4,352.6 L742.0,352.8 L742.6,353.0 L743.1,353.3 L743.4,353.6 L743.6,353.9 L743.7,354.3" fill="none" stroke="#2c38a8" stroke-width="5.225" stroke-linecap="round" stroke-linejoin="round" opacity="1"/>
<path d="M732.0,330.0 L731.3,330.6 L730.6,331.1 L729.9,331.7 L729.3,332.2 L728.7,332.7 L728.3,333.2 L727.9,333.7 L727.7,334.1 L727.6,334.5 L727.6,334.9 L727.7,335.2" fill="none" stroke="#4a56c8" stroke-width="6.6" stroke-linecap="round" stroke-linejoin="round" opacity="1"/>
<path d="M740.1,339.7 L740.1,340.1 L739.9,340.5 L739.7,340.9 L739.3,341.4 L738.9,341.9 L738.3,342.4 L737.7,342.9 L737.0,343.5 L736.3,344.0 L735.6,344.6 L734.8,345.2 L734.1,345.7 L733.5,346.3 L732.9,346.8 L732.3,347.3 L731.9,347.8 L731.5,348.2 L731.3,348.7 L731.2,349.1 L731.2,349.5 L731.3,349.8" fill="none" stroke="#4a56c8" stroke-width="6.6" stroke-linecap="round" stroke-linejoin="round" opacity="1"/>
<path d="M743.7,354.3 L743.7,354.7 L743.6,355.1 L743.3,355.5 L742.9,356.0 L742.4,356.5 L741.9,357.0 L741.3,357.5 L740.6,358.1 L739.9,358.6 L739.1,359.2 L738.4,359.8 L737.7,360.3 L737.1,360.8 L736.4,361.4 L735.9,361.9 L735.5,362.4 L735.1,362.8 L734.9,363.3" fill="none" stroke="#4a56c8" stroke-width="6.6" stroke-linecap="round" stroke-linejoin="round" opacity="1"/>
<path d="M747.9,323.0 L748.2,323.3 L748.7,323.5 L749.4,323.7 L750.1,323.8 L750.9,323.9 L751.8,324.0 L752.7,324.0 L753.7,324.0 L754.7,324.0 L755.7,323.9 L756.7,323.9 L757.7,323.9 L758.6,324.0 L759.5,324.0 L760.2,324.1 L760.9,324.3 L761.5,324.5 L761.9,324.8 L762.2,325.1 L762.4,325.5" fill="none" stroke="#8e98e2" stroke-width="5.225" stroke-linecap="round" stroke-linejoin="round" opacity="1"/>
<path d="M755.9,339.0 L756.2,339.3 L756.7,339.5 L757.4,339.7 L758.1,339.8 L758.9,339.9 L759.8,340.0 L760.7,340.0 L761.7,340.0 L762.7,340.0 L763.7,339.9 L764.7,339.9 L765.7,339.9 L766.6,340.0 L767.5,340.0 L768.2,340.1 L768.9,340.3 L769.5,340.5 L769.9,340.8 L770.2,341.1 L770.4,341.5" fill="none" stroke="#8e98e2" stroke-width="5.225" stroke-linecap="round" stroke-linejoin="round" opacity="1"/>
<path d="M748.2,319.9 L747.8,320.6 L747.6,321.2 L747.5,321.7 L747.5,322.2 L747.6,322.6 L747.9,323.0" fill="none" stroke="#b6bef2" stroke-width="6.6" stroke-linecap="round" stroke-linejoin="round" opacity="1"/>
<path d="M762.4,325.5 L762.5,325.9 L762.4,326.4 L762.3,327.0 L762.0,327.6 L761.6,328.3 L761.2,329.0 L760.7,329.8 L760.1,330.5 L759.5,331.3 L758.8,332.1 L758.2,332.9 L757.6,333.7 L757.1,334.5 L756.6,335.2 L756.2,335.9 L755.8,336.6 L755.6,337.2 L755.5,337.7 L755.5,338.2 L755.6,338.6 L755.9,339.0" fill="none" stroke="#b6bef2" stroke-width="6.6" stroke-linecap="round" stroke-linejoin="round" opacity="1"/>
<path d="M770.4,341.5 L770.5,341.9 L770.4,342.4 L770.3,343.0 L770.0,343.6 L769.6,344.3 L769.2,345.0 L768.7,345.8 L768.1,346.5 L767.5,347.3 L766.8,348.1 L766.2,348.9 L765.6,349.7 L765.1,350.5 L764.6,351.2 L764.2,351.9" fill="none" stroke="#b6bef2" stroke-width="6.6" stroke-linecap="round" stroke-linejoin="round" opacity="1"/>
<path d="M751.3,361.1 L751.7,361.5 L752.2,361.9 L752.8,362.2 L753.5,362.5 L754.3,362.7 L755.2,362.9 L756.1,363.0 L757.0,363.2 L758.0,363.3 L759.0,363.4 L760.0,363.6 L760.9,363.7 L761.8,363.9 L762.7,364.1 L763.4,364.3 L764.1,364.6 L764.7,364.9 L765.1,365.3 L765.5,365.7 L765.8,366.2" fill="none" stroke="#b4bcee" stroke-width="4.56" stroke-linecap="round" stroke-linejoin="round" opacity="1"/>
<path d="M760.6,381.0 L760.9,381.4 L761.4,381.8 L762.0,382.1 L762.6,382.4 L763.4,382.6 L764.2,382.8 L765.1,383.0 L766.1,383.1 L767.0,383.3 L768.0,383.4 L769.0,383.5" fill="none" stroke="#b4bcee" stroke-width="4.56" stroke-linecap="round" stroke-linejoin="round" opacity="1"/>
<path d="M753.0,354.5 L752.5,355.3 L752.0,356.1 L751.6,356.9 L751.3,357.6 L751.0,358.3 L750.9,359.0 L750.8,359.6 L750.9,360.2 L751.0,360.7 L751.3,361.1" fill="none" stroke="#f0f0f8" stroke-width="5.76" stroke-linecap="round" stroke-linejoin="round" opacity="1"/>
<path d="M765.8,366.2 L765.9,366.7 L765.9,367.3 L765.8,367.9 L765.6,368.6 L765.3,369.3 L765.0,370.1 L764.6,370.9 L764.1,371.7 L763.6,372.5 L763.0,373.3 L762.5,374.2 L762.0,375.0 L761.5,375.8 L761.1,376.6 L760.7,377.4 L760.5,378.1 L760.3,378.8 L760.2,379.4 L760.2,380.0 L760.3,380.5 L760.6,381.0" fill="none" stroke="#f0f0f8" stroke-width="5.76" stroke-linecap="round" stroke-linejoin="round" opacity="1"/>
<path d="M726.0,435.2 L726.5,435.2 L727.0,435.1 L727.5,434.8 L728.1,434.4 L728.7,433.9 L729.3,433.2 L729.9,432.5 L730.6,431.8 L731.3,431.0 L732.0,430.1 L732.7,429.3 L733.3,428.5 L734.0,427.7 L734.6,427.0 L735.3,426.3 L735.9,425.8 L736.5,425.3 L737.0,425.0 L737.5,424.9 L738.0,424.8 L738.5,424.9" fill="none" stroke="#b8b8cc" stroke-width="6.175" stroke-linecap="round" stroke-linejoin="round" opacity="1"/>
<path d="M744.7,439.8 L745.1,439.8 L745.7,439.6 L746.2,439.2 L746.8,438.8" fill="none" stroke="#b8b8cc" stroke-width="6.175" stroke-linecap="round" stroke-linejoin="round" opacity="1"/>
<path d="M723.4,430.5 L723.6,431.4 L723.9,432.3 L724.1,433.1 L724.4,433.8 L724.8,434.3 L725.1,434.8 L725.5,435.0 L726.0,435.2" fill="none" stroke="#d8d8e6" stroke-width="7.8" stroke-linecap="round" stroke-linejoin="round" opacity="1"/>
<path d="M738.5,424.9 L738.9,425.2 L739.2,425.6 L739.6,426.1 L739.9,426.8 L740.2,427.5 L740.4,428.4 L740.7,429.3 L740.9,430.3 L741.1,431.4 L741.3,432.4 L741.5,433.5 L741.7,434.5 L742.0,435.5 L742.2,436.4 L742.5,437.3 L742.7,438.0 L743.1,438.7 L743.4,439.2 L743.8,439.5 L744.2,439.7 L744.7,439.8" fill="none" stroke="#d8d8e6" stroke-width="7.8" stroke-linecap="round" stroke-linejoin="round" opacity="1"/>
<path d="M745.1,439.9 L745.4,439.5 L745.6,439.1 L745.8,438.5 L745.9,437.8 L746.0,437.1 L746.0,436.2 L745.9,435.3 L745.9,434.4 L745.8,433.4 L745.7,432.4 L745.6,431.4 L745.5,430.4 L745.5,429.5 L745.4,428.6 L745.5,427.8 L745.5,427.0 L745.6,426.3 L745.8,425.8 L746.0,425.3 L746.4,425.0 L746.7,424.7" fill="none" stroke="#1a1eb0" stroke-width="6.175" stroke-linecap="round" stroke-linejoin="round" opacity="1"/>
<path d="M742.5,440.0 L743.1,440.2 L743.7,440.3 L744.2,440.2 L744.7,440.1 L745.1,439.9" fill="none" stroke="#2226e0" stroke-width="7.8" stroke-linecap="round" stroke-linejoin="round" opacity="1"/>
<path d="M746.7,424.7 L747.2,424.6 L747.7,424.6 L748.3,424.7 L748.9,424.9 L749.7,425.2 L750.4,425.5 L751.2,425.9 L752.0,426.4 L752.9,426.9 L753.7,427.4 L754.6,428.0 L755.4,428.5 L756.2,428.9 L757.0,429.4 L757.8,429.7 L758.5,430.0" fill="none" stroke="#2226e0" stroke-width="7.8" stroke-linecap="round" stroke-linejoin="round" opacity="1"/>
<path d="M761.6,427.1 L761.7,426.6 L761.7,426.0 L761.6,425.4 L761.3,424.7 L761.0,423.9 L760.7,423.1 L760.2,422.2 L759.8,421.4 L759.3,420.5 L758.8,419.6 L758.3,418.7 L757.8,417.8 L757.4,417.0 L757.0,416.2 L756.7,415.4 L756.5,414.7 L756.4,414.1 L756.4,413.5 L756.5,413.0 L756.7,412.6" fill="none" stroke="#8892e0" stroke-width="6.175" stroke-linecap="round" stroke-linejoin="round" opacity="1"/>
<path d="M772.3,410.4 L772.4,410.0 L772.5,409.4 L772.4,408.8" fill="none" stroke="#8892e0" stroke-width="6.175" stroke-linecap="round" stroke-linejoin="round" opacity="1"/>
<path d="M755.0,428.6 L756.0,428.7 L757.0,428.7 L757.9,428.7 L758.7,428.7 L759.4,428.6 L760.1,428.4 L760.6,428.2 L761.1,427.9 L761.4,427.6 L761.6,427.1" fill="none" stroke="#aab4f2" stroke-width="7.8" stroke-linecap="round" stroke-linejoin="round" opacity="1"/>
<path d="M756.7,412.6 L757.1,412.2 L757.5,411.9 L758.1,411.7 L758.7,411.5 L759.5,411.5 L760.3,411.4 L761.2,411.4 L762.2,411.5 L763.2,411.5 L764.2,411.6 L765.2,411.7 L766.2,411.7 L767.2,411.8 L768.1,411.8 L769.0,411.8 L769.8,411.7 L770.5,411.6 L771.1,411.4 L771.6,411.2 L772.0,410.8 L772.3,410.4" fill="none" stroke="#aab4f2" stroke-width="7.8" stroke-linecap="round" stroke-linejoin="round" opacity="1"/>
<path d="M762,408 C766,402 768,396 766,390" fill="none" stroke="#f2d4d4" stroke-width="5" stroke-linecap="round" stroke-linejoin="round" opacity="1"/>
<path d="M690,428 C694,436 700,442 708,444" fill="none" stroke="#eeeef4" stroke-width="6" stroke-linecap="round" stroke-linejoin="round" opacity="1"/>
<path d="M708,444 C716,446 724,440 728,432" fill="none" stroke="#f0c8c8" stroke-width="5" stroke-linecap="round" stroke-linejoin="round" opacity="1"/>
<path d="M712,430 C718,424 726,422 734,424" fill="none" stroke="#e07070" stroke-width="4" stroke-linecap="round" stroke-linejoin="round" opacity="1"/>
<path d="M700,398 C706,402 712,404 720,404" fill="none" stroke="#4a58d8" stroke-width="4" stroke-linecap="round" stroke-linejoin="round" opacity="1"/>
<path d="M690,404 L700,398" fill="none" stroke="#2a36d0" stroke-width="3" stroke-linecap="round" stroke-linejoin="round" opacity="1"/>
<path d="M744,376 C752,372 760,374 764,378" fill="none" stroke="#b0b8ee" stroke-width="6" stroke-linecap="round" stroke-linejoin="round" opacity="1"/>
<path d="M746,392 C752,396 758,402 760,408" fill="none" stroke="#e8e8f2" stroke-width="4" stroke-linecap="round" stroke-linejoin="round" opacity="1"/>
<path d="M718,396 C730,402 742,396 752,392 C760,388 766,394 764,402 C760,410 750,414 744,420" fill="none" stroke="#ee8a88" stroke-width="2.6" stroke-linecap="round" stroke-linejoin="round" opacity="1"/>
<path d="M700,432 C716,426 730,428 744,424" fill="none" stroke="#f4b8b4" stroke-width="2.6" stroke-linecap="round" stroke-linejoin="round" opacity="1"/>
<path d="M726,408 C736,414 744,416 752,412" fill="none" stroke="#ee8a88" stroke-width="2.0" stroke-linecap="round" stroke-linejoin="round" opacity="1"/>
<path d="M736,372 C746,378 752,386 760,388" fill="none" stroke="#ee8a88" stroke-width="2.2" stroke-linecap="round" stroke-linejoin="round" opacity="1"/>
<path d="M740,356 C748,352 752,346 750,340" fill="none" stroke="#ee8a88" stroke-width="1.8" stroke-linecap="round" stroke-linejoin="round" opacity="1"/>
<path d="M704,450 C716,446 726,440 736,440 C746,440 752,432 756,426" fill="none" stroke="#d8d8e2" stroke-width="3.4" stroke-linecap="round" stroke-linejoin="round" opacity="1"/>
<path d="M704,450 C716,446 726,440 736,440 C746,440 752,432 756,426" fill="none" stroke="#f4f4f8" stroke-width="2.4" stroke-linecap="round" stroke-linejoin="round" opacity="1"/>
<path d="M748,440 L762,430" fill="none" stroke="#2228d8" stroke-width="3.0" stroke-linecap="round" stroke-linejoin="round" opacity="1"/>
<path d="M664,432 C676,440 690,444 704,440" fill="none" stroke="#f4b8b4" stroke-width="2.4" stroke-linecap="round" stroke-linejoin="round" opacity="1"/>
<path d="M686,448 C698,454 712,454 722,446" fill="none" stroke="#f4f4f8" stroke-width="2.6" stroke-linecap="round" stroke-linejoin="round" opacity="1"/>
<path d="M720,420 C726,430 730,440 726,448" fill="none" stroke="#ee8a88" stroke-width="2.0" stroke-linecap="round" stroke-linejoin="round" opacity="1"/>
<path d="M676,444 C684,448 692,448 700,446" fill="none" stroke="#e89090" stroke-width="1.8" stroke-linecap="round" stroke-linejoin="round" opacity="1"/>
<path d="M740,442 C744,448 752,448 760,444" fill="none" stroke="#f4c0c0" stroke-width="2.2" stroke-linecap="round" stroke-linejoin="round" opacity="1"/>
<path d="M730,448 C734,444 736,438 732,432" fill="none" stroke="#e06060" stroke-width="1.8" stroke-linecap="round" stroke-linejoin="round" opacity="1"/>
<path d="M756,400 L766,398 L770,404" fill="none" stroke="#f0a0a0" stroke-width="2.2" stroke-linecap="round" stroke-linejoin="round" opacity="1"/>
<path d="M752,416 C758,420 764,420 768,414" fill="none" stroke="#f4d0d0" stroke-width="2.6" stroke-linecap="round" stroke-linejoin="round" opacity="1"/>
<path d="M742,396 C752,398 760,404 766,412" fill="none" stroke="#dcdff6" stroke-width="7" stroke-linecap="round" stroke-linejoin="round" opacity="1"/>
<path d="M738,404 C744,410 752,414 760,414" fill="none" stroke="#f6e6e6" stroke-width="5" stroke-linecap="round" stroke-linejoin="round" opacity="1"/>
<path d="M704,440 C712,446 722,448 732,444" fill="none" stroke="#f4f4f8" stroke-width="6" stroke-linecap="round" stroke-linejoin="round" opacity="1"/>
<path d="M722,446 C728,444 736,446 742,448" fill="none" stroke="#e9b0b0" stroke-width="4" stroke-linecap="round" stroke-linejoin="round" opacity="1"/>
<path d="M696,412 C700,420 700,428 696,436" fill="none" stroke="#d8d8e6" stroke-width="5" stroke-linecap="round" stroke-linejoin="round" opacity="1"/>
<path d="M748,364 C756,368 764,368 770,362" fill="none" stroke="#c4caf4" stroke-width="5" stroke-linecap="round" stroke-linejoin="round" opacity="1"/>
<path d="M744,388 L752,384 L758,388 L764,384" fill="none" stroke="#e06a6a" stroke-width="2.2" stroke-linecap="round" stroke-linejoin="round" opacity="1"/>
<path d="M752,372 L758,378 L766,376" fill="none" stroke="#e87a7a" stroke-width="2.0" stroke-linecap="round" stroke-linejoin="round" opacity="1"/>
<path d="M736,396 L742,402 L748,400" fill="none" stroke="#e06a6a" stroke-width="2.0" stroke-linecap="round" stroke-linejoin="round" opacity="1"/>
<path d="M716,309 L716.5,304.6 L723.3,305.6 L731.7,309.8" fill="none" stroke="#e01c1c" stroke-width="2.0" stroke-linecap="round" stroke-linejoin="round" opacity="1"/>
<path d="M731.7,309.8 L738,305 L746.8,295.3 L755.6,298.9 L760,308" fill="none" stroke="#e01c1c" stroke-width="1.9" stroke-linecap="round" stroke-linejoin="round" opacity="1"/>
<path d="M744,300 L746,310 L740,318" fill="none" stroke="#e01c1c" stroke-width="1.6" stroke-linecap="round" stroke-linejoin="round" opacity="1"/>
<path d="M755.6,298.9 C762,302 764,308 760,314" fill="none" stroke="#f2a0a0" stroke-width="2.2" stroke-linecap="round" stroke-linejoin="round" opacity="1"/>
<path d="M730,312 L738,316 L746,314" fill="none" stroke="#6070d8" stroke-width="2.0" stroke-linecap="round" stroke-linejoin="round" opacity="1"/>
<path d="M724,320 C730,326 734,332 736,340" fill="none" stroke="#e07070" stroke-width="1.6" stroke-linecap="round" stroke-linejoin="round" opacity="1"/>
<path d="M740,380 C746,384 752,382 758,386" fill="none" stroke="#e06868" stroke-width="1.8" stroke-linecap="round" stroke-linejoin="round" opacity="1"/>
<path d="M744,396 L752,400 L758,398" fill="none" stroke="#e06868" stroke-width="1.6" stroke-linecap="round" stroke-linejoin="round" opacity="1"/>
<path d="M738,362 L746,366 L752,364" fill="none" stroke="#e07878" stroke-width="1.6" stroke-linecap="round" stroke-linejoin="round" opacity="1"/>
<circle cx="726.3" cy="319.1" r="4.7" fill="#f6ec00" stroke="#e2d400" stroke-width="0.3"/>
<circle cx="718.8" cy="324.7" r="4.7" fill="#f6ec00" stroke="#e2d400" stroke-width="0.3"/>
<circle cx="724.4" cy="329.4" r="4.7" fill="#f6ec00" stroke="#e2d400" stroke-width="0.3"/>
<circle cx="712.2" cy="331.3" r="4.7" fill="#f6ec00" stroke="#e2d400" stroke-width="0.3"/>
<circle cx="717.8" cy="335" r="4.7" fill="#f6ec00" stroke="#e2d400" stroke-width="0.3"/>
<circle cx="714.1" cy="341.6" r="4.7" fill="#f6ec00" stroke="#e2d400" stroke-width="0.3"/>
<circle cx="720.6" cy="342.5" r="4.7" fill="#f6ec00" stroke="#e2d400" stroke-width="0.3"/>
<circle cx="726.3" cy="344.4" r="4.7" fill="#f6ec00" stroke="#e2d400" stroke-width="0.3"/>
<circle cx="716.9" cy="346.3" r="4.7" fill="#f6ec00" stroke="#e2d400" stroke-width="0.3"/>
<circle cx="731" cy="350" r="4.7" fill="#f6ec00" stroke="#e2d400" stroke-width="0.3"/>
<circle cx="722.5" cy="350" r="4.7" fill="#f6ec00" stroke="#e2d400" stroke-width="0.3"/>
<circle cx="728.1" cy="353.8" r="4.7" fill="#f6ec00" stroke="#e2d400" stroke-width="0.3"/>
<circle cx="721.6" cy="359.4" r="4.7" fill="#f6ec00" stroke="#e2d400" stroke-width="0.3"/>
<circle cx="729.1" cy="360.3" r="4.7" fill="#f6ec00" stroke="#e2d400" stroke-width="0.3"/>
<circle cx="713.1" cy="366.9" r="4.7" fill="#f6ec00" stroke="#e2d400" stroke-width="0.3"/>
<circle cx="719.7" cy="369.7" r="4.7" fill="#f6ec00" stroke="#e2d400" stroke-width="0.3"/>
<circle cx="724.4" cy="370.7" r="4.7" fill="#f6ec00" stroke="#e2d400" stroke-width="0.3"/>
<circle cx="724.4" cy="377.2" r="4.7" fill="#f6ec00" stroke="#e2d400" stroke-width="0.3"/>
<circle cx="716.9" cy="379.1" r="4.7" fill="#f6ec00" stroke="#e2d400" stroke-width="0.3"/>
<circle cx="729.1" cy="380" r="4.7" fill="#f6ec00" stroke="#e2d400" stroke-width="0.3"/>
<circle cx="732.8" cy="387.6" r="4.7" fill="#f6ec00" stroke="#e2d400" stroke-width="0.3"/>
<circle cx="726.3" cy="390.4" r="4.7" fill="#f6ec00" stroke="#e2d400" stroke-width="0.3"/>
<circle cx="716.9" cy="387.6" r="3.0" fill="#f0900a"/>
<path d="M762,384 L774,384 M767,379 L768,390 M764,381 L771,388 M771,380 L765,389" stroke="#10e0f0" stroke-width="1.6" fill="none"/>
<line x1="732.80" y1="322.00" x2="771.70" y2="317.00" stroke="#888" stroke-width="0.7" />
<text x="773.60" y="321.00" font-size="11.3" fill="#6a6a6a" text-anchor="start" >GDP</text>
<text x="775.90" y="380.60" font-size="11.3" fill="#6a6a6a" text-anchor="start" >SO</text>
<text x="792.00" y="382.80" font-size="7.5" fill="#6a6a6a" text-anchor="start" >4</text>
<line x1="715.70" y1="390.00" x2="711.00" y2="454.60" stroke="#888" stroke-width="0.7" />
<text x="621.10" y="467.50" font-size="11.8" fill="#6a6a6a" text-anchor="start" >MglA</text>
<text x="700.80" y="464.80" font-size="11.5" fill="#6a6a6a" text-anchor="start" >Mg</text>
<text x="716.80" y="458.60" font-size="7.5" fill="#6a6a6a" text-anchor="start" >2+</text>
<text x="726.80" y="464.80" font-size="11.5" fill="#6a6a6a" text-anchor="start" >ion</text>
</svg>
</body></html>
